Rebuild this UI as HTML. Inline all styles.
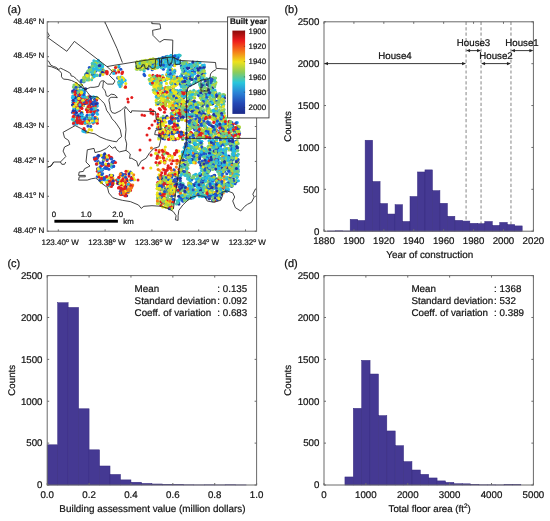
<!DOCTYPE html>
<html><head><meta charset="utf-8"><title>Figure</title>
<style>html,body{margin:0;padding:0;background:#fff;width:550px;height:521px;overflow:hidden;} svg{display:block;} text{text-rendering:geometricPrecision;font-family:"Liberation Sans",Arial,sans-serif;fill:#141414;stroke:#141414;stroke-width:0.22px;}</style>
</head><body>
<svg width="550" height="521" viewBox="0 0 550 521">
<rect width="550" height="521" fill="#fff"/>
<line x1="466.09" y1="21.80" x2="466.09" y2="231.20" stroke="#a2a2a2" stroke-width="1.3" stroke-dasharray="3.2,2.2"/>
<line x1="481.05" y1="21.80" x2="481.05" y2="231.20" stroke="#a2a2a2" stroke-width="1.3" stroke-dasharray="3.2,2.2"/>
<line x1="510.96" y1="21.80" x2="510.96" y2="231.20" stroke="#a2a2a2" stroke-width="1.3" stroke-dasharray="3.2,2.2"/>
<rect x="327.74" y="230.95" width="7.48" height="0.25" fill="#453993" stroke="#35297e" stroke-width="0.5"/>
<rect x="335.22" y="230.78" width="7.48" height="0.42" fill="#453993" stroke="#35297e" stroke-width="0.5"/>
<rect x="342.70" y="230.95" width="7.48" height="0.25" fill="#453993" stroke="#35297e" stroke-width="0.5"/>
<rect x="350.18" y="219.39" width="7.48" height="11.81" fill="#453993" stroke="#35297e" stroke-width="0.5"/>
<rect x="357.65" y="220.48" width="7.48" height="10.72" fill="#453993" stroke="#35297e" stroke-width="0.5"/>
<rect x="365.13" y="140.24" width="7.48" height="90.96" fill="#453993" stroke="#35297e" stroke-width="0.5"/>
<rect x="372.61" y="181.53" width="7.48" height="49.67" fill="#453993" stroke="#35297e" stroke-width="0.5"/>
<rect x="380.09" y="203.56" width="7.48" height="27.64" fill="#453993" stroke="#35297e" stroke-width="0.5"/>
<rect x="387.57" y="214.03" width="7.48" height="17.17" fill="#453993" stroke="#35297e" stroke-width="0.5"/>
<rect x="395.05" y="204.73" width="7.48" height="26.47" fill="#453993" stroke="#35297e" stroke-width="0.5"/>
<rect x="402.52" y="221.48" width="7.48" height="9.72" fill="#453993" stroke="#35297e" stroke-width="0.5"/>
<rect x="410.00" y="196.52" width="7.48" height="34.68" fill="#453993" stroke="#35297e" stroke-width="0.5"/>
<rect x="417.48" y="171.98" width="7.48" height="59.22" fill="#453993" stroke="#35297e" stroke-width="0.5"/>
<rect x="424.96" y="169.89" width="7.48" height="61.31" fill="#453993" stroke="#35297e" stroke-width="0.5"/>
<rect x="432.44" y="190.66" width="7.48" height="40.54" fill="#453993" stroke="#35297e" stroke-width="0.5"/>
<rect x="439.92" y="203.31" width="7.48" height="27.89" fill="#453993" stroke="#35297e" stroke-width="0.5"/>
<rect x="447.40" y="216.29" width="7.48" height="14.91" fill="#453993" stroke="#35297e" stroke-width="0.5"/>
<rect x="454.88" y="220.39" width="7.48" height="10.81" fill="#453993" stroke="#35297e" stroke-width="0.5"/>
<rect x="462.35" y="221.07" width="7.48" height="10.13" fill="#453993" stroke="#35297e" stroke-width="0.5"/>
<rect x="469.83" y="223.33" width="7.48" height="7.87" fill="#453993" stroke="#35297e" stroke-width="0.5"/>
<rect x="477.31" y="223.66" width="7.48" height="7.54" fill="#453993" stroke="#35297e" stroke-width="0.5"/>
<rect x="484.79" y="221.48" width="7.48" height="9.72" fill="#453993" stroke="#35297e" stroke-width="0.5"/>
<rect x="492.27" y="225.42" width="7.48" height="5.78" fill="#453993" stroke="#35297e" stroke-width="0.5"/>
<rect x="499.75" y="222.41" width="7.48" height="8.79" fill="#453993" stroke="#35297e" stroke-width="0.5"/>
<rect x="507.23" y="224.58" width="7.48" height="6.62" fill="#453993" stroke="#35297e" stroke-width="0.5"/>
<rect x="514.70" y="225.92" width="7.48" height="5.28" fill="#453993" stroke="#35297e" stroke-width="0.5"/>
<rect x="324.00" y="21.80" width="209.40" height="209.40" fill="none" stroke="#6a6a6a" stroke-width="1"/>
<line x1="324.00" y1="231.20" x2="324.00" y2="229.20" stroke="#6a6a6a" stroke-width="1" />
<line x1="324.00" y1="21.80" x2="324.00" y2="23.80" stroke="#6a6a6a" stroke-width="1" />
<text x="324.00" y="243.70" font-size="9.7" text-anchor="middle" >1880</text>
<line x1="353.91" y1="231.20" x2="353.91" y2="229.20" stroke="#6a6a6a" stroke-width="1" />
<line x1="353.91" y1="21.80" x2="353.91" y2="23.80" stroke="#6a6a6a" stroke-width="1" />
<text x="353.91" y="243.70" font-size="9.7" text-anchor="middle" >1900</text>
<line x1="383.83" y1="231.20" x2="383.83" y2="229.20" stroke="#6a6a6a" stroke-width="1" />
<line x1="383.83" y1="21.80" x2="383.83" y2="23.80" stroke="#6a6a6a" stroke-width="1" />
<text x="383.83" y="243.70" font-size="9.7" text-anchor="middle" >1920</text>
<line x1="413.74" y1="231.20" x2="413.74" y2="229.20" stroke="#6a6a6a" stroke-width="1" />
<line x1="413.74" y1="21.80" x2="413.74" y2="23.80" stroke="#6a6a6a" stroke-width="1" />
<text x="413.74" y="243.70" font-size="9.7" text-anchor="middle" >1940</text>
<line x1="443.66" y1="231.20" x2="443.66" y2="229.20" stroke="#6a6a6a" stroke-width="1" />
<line x1="443.66" y1="21.80" x2="443.66" y2="23.80" stroke="#6a6a6a" stroke-width="1" />
<text x="443.66" y="243.70" font-size="9.7" text-anchor="middle" >1960</text>
<line x1="473.57" y1="231.20" x2="473.57" y2="229.20" stroke="#6a6a6a" stroke-width="1" />
<line x1="473.57" y1="21.80" x2="473.57" y2="23.80" stroke="#6a6a6a" stroke-width="1" />
<text x="473.57" y="243.70" font-size="9.7" text-anchor="middle" >1980</text>
<line x1="503.49" y1="231.20" x2="503.49" y2="229.20" stroke="#6a6a6a" stroke-width="1" />
<line x1="503.49" y1="21.80" x2="503.49" y2="23.80" stroke="#6a6a6a" stroke-width="1" />
<text x="503.49" y="243.70" font-size="9.7" text-anchor="middle" >2000</text>
<line x1="533.40" y1="231.20" x2="533.40" y2="229.20" stroke="#6a6a6a" stroke-width="1" />
<line x1="533.40" y1="21.80" x2="533.40" y2="23.80" stroke="#6a6a6a" stroke-width="1" />
<text x="533.40" y="243.70" font-size="9.7" text-anchor="middle" >2020</text>
<line x1="324.00" y1="231.20" x2="326.00" y2="231.20" stroke="#6a6a6a" stroke-width="1" />
<line x1="533.40" y1="231.20" x2="531.40" y2="231.20" stroke="#6a6a6a" stroke-width="1" />
<text x="319.30" y="234.50" font-size="9.7" text-anchor="end" >0</text>
<line x1="324.00" y1="189.32" x2="326.00" y2="189.32" stroke="#6a6a6a" stroke-width="1" />
<line x1="533.40" y1="189.32" x2="531.40" y2="189.32" stroke="#6a6a6a" stroke-width="1" />
<text x="319.30" y="192.62" font-size="9.7" text-anchor="end" >500</text>
<line x1="324.00" y1="147.44" x2="326.00" y2="147.44" stroke="#6a6a6a" stroke-width="1" />
<line x1="533.40" y1="147.44" x2="531.40" y2="147.44" stroke="#6a6a6a" stroke-width="1" />
<text x="319.30" y="150.74" font-size="9.7" text-anchor="end" >1000</text>
<line x1="324.00" y1="105.56" x2="326.00" y2="105.56" stroke="#6a6a6a" stroke-width="1" />
<line x1="533.40" y1="105.56" x2="531.40" y2="105.56" stroke="#6a6a6a" stroke-width="1" />
<text x="319.30" y="108.86" font-size="9.7" text-anchor="end" >1500</text>
<line x1="324.00" y1="63.68" x2="326.00" y2="63.68" stroke="#6a6a6a" stroke-width="1" />
<line x1="533.40" y1="63.68" x2="531.40" y2="63.68" stroke="#6a6a6a" stroke-width="1" />
<text x="319.30" y="66.98" font-size="9.7" text-anchor="end" >2000</text>
<line x1="324.00" y1="21.80" x2="326.00" y2="21.80" stroke="#6a6a6a" stroke-width="1" />
<line x1="533.40" y1="21.80" x2="531.40" y2="21.80" stroke="#6a6a6a" stroke-width="1" />
<text x="319.30" y="25.10" font-size="9.7" text-anchor="end" >2500</text>
<text x="429.70" y="257.70" font-size="9.9" text-anchor="middle" >Year of construction</text>
<text transform="translate(291.30,126.50) rotate(-90)" font-size="9.7" text-anchor="middle">Counts</text>
<line x1="327.00" y1="63.60" x2="463.09" y2="63.60" stroke="#222" stroke-width="0.9" />
<path d="M324.00,63.60 l4,-1.7 l0,3.4 z" fill="#222"/>
<path d="M466.09,63.60 l-4,-1.7 l0,3.4 z" fill="#222"/>
<line x1="469.09" y1="50.60" x2="478.05" y2="50.60" stroke="#222" stroke-width="0.9" />
<path d="M466.09,50.60 l4,-1.7 l0,3.4 z" fill="#222"/>
<path d="M481.05,50.60 l-4,-1.7 l0,3.4 z" fill="#222"/>
<line x1="484.05" y1="63.60" x2="507.96" y2="63.60" stroke="#222" stroke-width="0.9" />
<path d="M481.05,63.60 l4,-1.7 l0,3.4 z" fill="#222"/>
<path d="M510.96,63.60 l-4,-1.7 l0,3.4 z" fill="#222"/>
<line x1="513.96" y1="50.60" x2="530.40" y2="50.60" stroke="#222" stroke-width="0.9" />
<path d="M510.96,50.60 l4,-1.7 l0,3.4 z" fill="#222"/>
<path d="M533.40,50.60 l-4,-1.7 l0,3.4 z" fill="#222"/>
<text x="395.05" y="59.00" font-size="9.7" text-anchor="middle" >House4</text>
<text x="473.57" y="45.60" font-size="9.7" text-anchor="middle" >House3</text>
<text x="496.01" y="58.60" font-size="9.7" text-anchor="middle" >House2</text>
<text x="522.00" y="45.60" font-size="9.7" text-anchor="middle" >House1</text>
<rect x="47.20" y="444.80" width="10.47" height="40.20" fill="#453993" stroke="#35297e" stroke-width="0.5"/>
<rect x="57.67" y="302.74" width="10.47" height="182.26" fill="#453993" stroke="#35297e" stroke-width="0.5"/>
<rect x="68.14" y="307.43" width="10.47" height="177.57" fill="#453993" stroke="#35297e" stroke-width="0.5"/>
<rect x="78.61" y="408.78" width="10.47" height="76.22" fill="#453993" stroke="#35297e" stroke-width="0.5"/>
<rect x="89.08" y="449.82" width="10.47" height="35.18" fill="#453993" stroke="#35297e" stroke-width="0.5"/>
<rect x="99.55" y="465.99" width="10.47" height="19.01" fill="#453993" stroke="#35297e" stroke-width="0.5"/>
<rect x="110.02" y="474.45" width="10.47" height="10.55" fill="#453993" stroke="#35297e" stroke-width="0.5"/>
<rect x="120.49" y="479.89" width="10.47" height="5.11" fill="#453993" stroke="#35297e" stroke-width="0.5"/>
<rect x="130.96" y="482.24" width="10.47" height="2.76" fill="#453993" stroke="#35297e" stroke-width="0.5"/>
<rect x="141.43" y="483.41" width="10.47" height="1.59" fill="#453993" stroke="#35297e" stroke-width="0.5"/>
<rect x="151.90" y="483.99" width="10.47" height="1.01" fill="#453993" stroke="#35297e" stroke-width="0.5"/>
<rect x="162.37" y="484.33" width="10.47" height="0.67" fill="#453993" stroke="#35297e" stroke-width="0.5"/>
<rect x="172.84" y="484.58" width="10.47" height="0.42" fill="#453993" stroke="#35297e" stroke-width="0.5"/>
<rect x="183.31" y="484.83" width="10.47" height="0.17" fill="#453993" stroke="#35297e" stroke-width="0.5"/>
<rect x="193.78" y="484.92" width="10.47" height="0.08" fill="#453993" stroke="#35297e" stroke-width="0.5"/>
<rect x="204.25" y="484.83" width="10.47" height="0.17" fill="#453993" stroke="#35297e" stroke-width="0.5"/>
<rect x="214.72" y="484.92" width="10.47" height="0.08" fill="#453993" stroke="#35297e" stroke-width="0.5"/>
<rect x="225.19" y="484.75" width="10.47" height="0.25" fill="#453993" stroke="#35297e" stroke-width="0.5"/>
<rect x="235.66" y="484.92" width="10.47" height="0.08" fill="#453993" stroke="#35297e" stroke-width="0.5"/>
<rect x="47.20" y="275.60" width="209.40" height="209.40" fill="none" stroke="#6a6a6a" stroke-width="1"/>
<line x1="47.20" y1="485.00" x2="47.20" y2="483.00" stroke="#6a6a6a" stroke-width="1" />
<line x1="47.20" y1="275.60" x2="47.20" y2="277.60" stroke="#6a6a6a" stroke-width="1" />
<text x="47.20" y="497.50" font-size="9.7" text-anchor="middle" >0.0</text>
<line x1="89.08" y1="485.00" x2="89.08" y2="483.00" stroke="#6a6a6a" stroke-width="1" />
<line x1="89.08" y1="275.60" x2="89.08" y2="277.60" stroke="#6a6a6a" stroke-width="1" />
<text x="89.08" y="497.50" font-size="9.7" text-anchor="middle" >0.2</text>
<line x1="130.96" y1="485.00" x2="130.96" y2="483.00" stroke="#6a6a6a" stroke-width="1" />
<line x1="130.96" y1="275.60" x2="130.96" y2="277.60" stroke="#6a6a6a" stroke-width="1" />
<text x="130.96" y="497.50" font-size="9.7" text-anchor="middle" >0.4</text>
<line x1="172.84" y1="485.00" x2="172.84" y2="483.00" stroke="#6a6a6a" stroke-width="1" />
<line x1="172.84" y1="275.60" x2="172.84" y2="277.60" stroke="#6a6a6a" stroke-width="1" />
<text x="172.84" y="497.50" font-size="9.7" text-anchor="middle" >0.6</text>
<line x1="214.72" y1="485.00" x2="214.72" y2="483.00" stroke="#6a6a6a" stroke-width="1" />
<line x1="214.72" y1="275.60" x2="214.72" y2="277.60" stroke="#6a6a6a" stroke-width="1" />
<text x="214.72" y="497.50" font-size="9.7" text-anchor="middle" >0.8</text>
<line x1="256.60" y1="485.00" x2="256.60" y2="483.00" stroke="#6a6a6a" stroke-width="1" />
<line x1="256.60" y1="275.60" x2="256.60" y2="277.60" stroke="#6a6a6a" stroke-width="1" />
<text x="256.60" y="497.50" font-size="9.7" text-anchor="middle" >1.0</text>
<line x1="47.20" y1="485.00" x2="49.20" y2="485.00" stroke="#6a6a6a" stroke-width="1" />
<line x1="256.60" y1="485.00" x2="254.60" y2="485.00" stroke="#6a6a6a" stroke-width="1" />
<text x="42.50" y="488.30" font-size="9.7" text-anchor="end" >0</text>
<line x1="47.20" y1="443.12" x2="49.20" y2="443.12" stroke="#6a6a6a" stroke-width="1" />
<line x1="256.60" y1="443.12" x2="254.60" y2="443.12" stroke="#6a6a6a" stroke-width="1" />
<text x="42.50" y="446.42" font-size="9.7" text-anchor="end" >500</text>
<line x1="47.20" y1="401.24" x2="49.20" y2="401.24" stroke="#6a6a6a" stroke-width="1" />
<line x1="256.60" y1="401.24" x2="254.60" y2="401.24" stroke="#6a6a6a" stroke-width="1" />
<text x="42.50" y="404.54" font-size="9.7" text-anchor="end" >1000</text>
<line x1="47.20" y1="359.36" x2="49.20" y2="359.36" stroke="#6a6a6a" stroke-width="1" />
<line x1="256.60" y1="359.36" x2="254.60" y2="359.36" stroke="#6a6a6a" stroke-width="1" />
<text x="42.50" y="362.66" font-size="9.7" text-anchor="end" >1500</text>
<line x1="47.20" y1="317.48" x2="49.20" y2="317.48" stroke="#6a6a6a" stroke-width="1" />
<line x1="256.60" y1="317.48" x2="254.60" y2="317.48" stroke="#6a6a6a" stroke-width="1" />
<text x="42.50" y="320.78" font-size="9.7" text-anchor="end" >2000</text>
<line x1="47.20" y1="275.60" x2="49.20" y2="275.60" stroke="#6a6a6a" stroke-width="1" />
<line x1="256.60" y1="275.60" x2="254.60" y2="275.60" stroke="#6a6a6a" stroke-width="1" />
<text x="42.50" y="278.90" font-size="9.7" text-anchor="end" >2500</text>
<text x="152.40" y="511.50" font-size="9.9" text-anchor="middle" >Building assessment value (million dollars)</text>
<text transform="translate(14.50,380.30) rotate(-90)" font-size="9.7" text-anchor="middle">Counts</text>
<text x="134.60" y="291.80" font-size="9.8" text-anchor="start" >Mean</text>
<text x="217.30" y="291.80" font-size="9.8" text-anchor="start" >: 0.135</text>
<text x="134.60" y="303.65" font-size="9.8" text-anchor="start" >Standard deviation</text>
<text x="217.30" y="303.65" font-size="9.8" text-anchor="start" >: 0.092</text>
<text x="134.60" y="315.50" font-size="9.8" text-anchor="start" >Coeff. of variation</text>
<text x="217.30" y="315.50" font-size="9.8" text-anchor="start" >: 0.683</text>
<rect x="344.94" y="476.96" width="8.38" height="8.04" fill="#453993" stroke="#35297e" stroke-width="0.5"/>
<rect x="353.32" y="408.36" width="8.38" height="76.64" fill="#453993" stroke="#35297e" stroke-width="0.5"/>
<rect x="361.69" y="360.37" width="8.38" height="124.63" fill="#453993" stroke="#35297e" stroke-width="0.5"/>
<rect x="370.07" y="374.02" width="8.38" height="110.98" fill="#453993" stroke="#35297e" stroke-width="0.5"/>
<rect x="378.44" y="415.65" width="8.38" height="69.35" fill="#453993" stroke="#35297e" stroke-width="0.5"/>
<rect x="386.82" y="430.97" width="8.38" height="54.03" fill="#453993" stroke="#35297e" stroke-width="0.5"/>
<rect x="395.20" y="445.72" width="8.38" height="39.28" fill="#453993" stroke="#35297e" stroke-width="0.5"/>
<rect x="403.57" y="461.63" width="8.38" height="23.37" fill="#453993" stroke="#35297e" stroke-width="0.5"/>
<rect x="411.95" y="470.01" width="8.38" height="14.99" fill="#453993" stroke="#35297e" stroke-width="0.5"/>
<rect x="420.32" y="474.36" width="8.38" height="10.64" fill="#453993" stroke="#35297e" stroke-width="0.5"/>
<rect x="428.70" y="477.96" width="8.38" height="7.04" fill="#453993" stroke="#35297e" stroke-width="0.5"/>
<rect x="437.08" y="480.90" width="8.38" height="4.10" fill="#453993" stroke="#35297e" stroke-width="0.5"/>
<rect x="445.45" y="482.40" width="8.38" height="2.60" fill="#453993" stroke="#35297e" stroke-width="0.5"/>
<rect x="453.83" y="483.74" width="8.38" height="1.26" fill="#453993" stroke="#35297e" stroke-width="0.5"/>
<rect x="462.20" y="483.83" width="8.38" height="1.17" fill="#453993" stroke="#35297e" stroke-width="0.5"/>
<rect x="470.58" y="484.50" width="8.38" height="0.50" fill="#453993" stroke="#35297e" stroke-width="0.5"/>
<rect x="478.96" y="484.83" width="8.38" height="0.17" fill="#453993" stroke="#35297e" stroke-width="0.5"/>
<rect x="487.33" y="484.83" width="8.38" height="0.17" fill="#453993" stroke="#35297e" stroke-width="0.5"/>
<rect x="495.71" y="484.92" width="8.38" height="0.08" fill="#453993" stroke="#35297e" stroke-width="0.5"/>
<rect x="504.08" y="484.58" width="8.38" height="0.42" fill="#453993" stroke="#35297e" stroke-width="0.5"/>
<rect x="512.46" y="484.66" width="8.38" height="0.34" fill="#453993" stroke="#35297e" stroke-width="0.5"/>
<rect x="324.00" y="275.60" width="209.40" height="209.40" fill="none" stroke="#6a6a6a" stroke-width="1"/>
<line x1="324.00" y1="485.00" x2="324.00" y2="483.00" stroke="#6a6a6a" stroke-width="1" />
<line x1="324.00" y1="275.60" x2="324.00" y2="277.60" stroke="#6a6a6a" stroke-width="1" />
<text x="324.00" y="497.50" font-size="9.7" text-anchor="middle" >0</text>
<line x1="365.88" y1="485.00" x2="365.88" y2="483.00" stroke="#6a6a6a" stroke-width="1" />
<line x1="365.88" y1="275.60" x2="365.88" y2="277.60" stroke="#6a6a6a" stroke-width="1" />
<text x="365.88" y="497.50" font-size="9.7" text-anchor="middle" >1000</text>
<line x1="407.76" y1="485.00" x2="407.76" y2="483.00" stroke="#6a6a6a" stroke-width="1" />
<line x1="407.76" y1="275.60" x2="407.76" y2="277.60" stroke="#6a6a6a" stroke-width="1" />
<text x="407.76" y="497.50" font-size="9.7" text-anchor="middle" >2000</text>
<line x1="449.64" y1="485.00" x2="449.64" y2="483.00" stroke="#6a6a6a" stroke-width="1" />
<line x1="449.64" y1="275.60" x2="449.64" y2="277.60" stroke="#6a6a6a" stroke-width="1" />
<text x="449.64" y="497.50" font-size="9.7" text-anchor="middle" >3000</text>
<line x1="491.52" y1="485.00" x2="491.52" y2="483.00" stroke="#6a6a6a" stroke-width="1" />
<line x1="491.52" y1="275.60" x2="491.52" y2="277.60" stroke="#6a6a6a" stroke-width="1" />
<text x="491.52" y="497.50" font-size="9.7" text-anchor="middle" >4000</text>
<line x1="533.40" y1="485.00" x2="533.40" y2="483.00" stroke="#6a6a6a" stroke-width="1" />
<line x1="533.40" y1="275.60" x2="533.40" y2="277.60" stroke="#6a6a6a" stroke-width="1" />
<text x="533.40" y="497.50" font-size="9.7" text-anchor="middle" >5000</text>
<line x1="324.00" y1="485.00" x2="326.00" y2="485.00" stroke="#6a6a6a" stroke-width="1" />
<line x1="533.40" y1="485.00" x2="531.40" y2="485.00" stroke="#6a6a6a" stroke-width="1" />
<text x="319.30" y="488.30" font-size="9.7" text-anchor="end" >0</text>
<line x1="324.00" y1="443.12" x2="326.00" y2="443.12" stroke="#6a6a6a" stroke-width="1" />
<line x1="533.40" y1="443.12" x2="531.40" y2="443.12" stroke="#6a6a6a" stroke-width="1" />
<text x="319.30" y="446.42" font-size="9.7" text-anchor="end" >500</text>
<line x1="324.00" y1="401.24" x2="326.00" y2="401.24" stroke="#6a6a6a" stroke-width="1" />
<line x1="533.40" y1="401.24" x2="531.40" y2="401.24" stroke="#6a6a6a" stroke-width="1" />
<text x="319.30" y="404.54" font-size="9.7" text-anchor="end" >1000</text>
<line x1="324.00" y1="359.36" x2="326.00" y2="359.36" stroke="#6a6a6a" stroke-width="1" />
<line x1="533.40" y1="359.36" x2="531.40" y2="359.36" stroke="#6a6a6a" stroke-width="1" />
<text x="319.30" y="362.66" font-size="9.7" text-anchor="end" >1500</text>
<line x1="324.00" y1="317.48" x2="326.00" y2="317.48" stroke="#6a6a6a" stroke-width="1" />
<line x1="533.40" y1="317.48" x2="531.40" y2="317.48" stroke="#6a6a6a" stroke-width="1" />
<text x="319.30" y="320.78" font-size="9.7" text-anchor="end" >2000</text>
<line x1="324.00" y1="275.60" x2="326.00" y2="275.60" stroke="#6a6a6a" stroke-width="1" />
<line x1="533.40" y1="275.60" x2="531.40" y2="275.60" stroke="#6a6a6a" stroke-width="1" />
<text x="319.30" y="278.90" font-size="9.7" text-anchor="end" >2500</text>
<text x="429.70" y="511.50" font-size="9.7" text-anchor="middle" >Total floor area (ft<tspan dy="-3.5" font-size="6.5">2</tspan><tspan dy="3.5">)</tspan></text>
<text transform="translate(291.30,380.30) rotate(-90)" font-size="9.7" text-anchor="middle">Counts</text>
<text x="411.40" y="291.80" font-size="9.8" text-anchor="start" >Mean</text>
<text x="494.10" y="291.80" font-size="9.8" text-anchor="start" >: 1368</text>
<text x="411.40" y="303.65" font-size="9.8" text-anchor="start" >Standard deviation</text>
<text x="494.10" y="303.65" font-size="9.8" text-anchor="start" >: 532</text>
<text x="411.40" y="315.50" font-size="9.8" text-anchor="start" >Coeff. of variation</text>
<text x="494.10" y="315.50" font-size="9.8" text-anchor="start" >: 0.389</text>
<defs><clipPath id="mc"><rect x="47.2" y="21.8" width="209.4" height="209.4"/></clipPath></defs>
<g clip-path="url(#mc)">
<circle cx="162.4" cy="96.9" r="1.55" fill="#7dcd73"/>
<circle cx="161.2" cy="137.3" r="1.55" fill="#eee419"/>
<circle cx="74.6" cy="106.9" r="1.55" fill="#e41e1e"/>
<circle cx="200.4" cy="113.4" r="1.55" fill="#7dcd73"/>
<circle cx="96.4" cy="118.3" r="1.55" fill="#e41e1e"/>
<circle cx="182.2" cy="92.9" r="1.55" fill="#eee419"/>
<circle cx="156.1" cy="87.9" r="1.55" fill="#eee419"/>
<circle cx="125.6" cy="195.8" r="1.55" fill="#eee419"/>
<circle cx="167.6" cy="126.9" r="1.55" fill="#7dcd73"/>
<circle cx="199.2" cy="126.2" r="1.55" fill="#7dcd73"/>
<circle cx="143.9" cy="66.0" r="1.55" fill="#eee419"/>
<circle cx="191.6" cy="192.3" r="1.55" fill="#1e55cd"/>
<circle cx="184.7" cy="72.9" r="1.55" fill="#2332a0"/>
<circle cx="213.2" cy="184.5" r="1.55" fill="#46c6b4"/>
<circle cx="164.1" cy="102.7" r="1.55" fill="#e41e1e"/>
<circle cx="231.7" cy="184.1" r="1.55" fill="#46c6b4"/>
<circle cx="146.5" cy="60.9" r="1.55" fill="#b4d737"/>
<circle cx="199.8" cy="181.3" r="1.55" fill="#7dcd73"/>
<circle cx="190.4" cy="91.4" r="1.55" fill="#46c6b4"/>
<circle cx="192.5" cy="79.4" r="1.55" fill="#46c6b4"/>
<circle cx="93.0" cy="65.6" r="1.55" fill="#46c6b4"/>
<circle cx="171.3" cy="118.8" r="1.55" fill="#1e55cd"/>
<circle cx="199.1" cy="93.8" r="1.55" fill="#7dcd73"/>
<circle cx="79.9" cy="107.4" r="1.55" fill="#e41e1e"/>
<circle cx="158.2" cy="177.6" r="1.55" fill="#7dcd73"/>
<circle cx="219.8" cy="185.6" r="1.55" fill="#23b9e8"/>
<circle cx="147.6" cy="62.8" r="1.55" fill="#b4d737"/>
<circle cx="201.1" cy="90.6" r="1.55" fill="#1e55cd"/>
<circle cx="211.6" cy="143.9" r="1.55" fill="#46c6b4"/>
<circle cx="164.9" cy="182.1" r="1.55" fill="#b4d737"/>
<circle cx="88.5" cy="74.0" r="1.55" fill="#23b9e8"/>
<circle cx="170.0" cy="155.4" r="1.55" fill="#f57d19"/>
<circle cx="188.2" cy="101.5" r="1.55" fill="#2332a0"/>
<circle cx="162.4" cy="150.3" r="1.55" fill="#e41e1e"/>
<circle cx="195.4" cy="70.2" r="1.55" fill="#23b9e8"/>
<circle cx="209.6" cy="162.9" r="1.55" fill="#23b9e8"/>
<circle cx="232.5" cy="150.9" r="1.55" fill="#46c6b4"/>
<circle cx="179.9" cy="61.4" r="1.55" fill="#23b9e8"/>
<circle cx="225.2" cy="134.1" r="1.55" fill="#e41e1e"/>
<circle cx="208.2" cy="161.6" r="1.55" fill="#46c6b4"/>
<circle cx="195.6" cy="144.9" r="1.55" fill="#7dcd73"/>
<circle cx="217.2" cy="155.6" r="1.55" fill="#23b9e8"/>
<circle cx="228.4" cy="179.1" r="1.55" fill="#46c6b4"/>
<circle cx="79.2" cy="86.7" r="1.55" fill="#2332a0"/>
<circle cx="154.9" cy="84.4" r="1.55" fill="#23b9e8"/>
<circle cx="76.6" cy="116.3" r="1.55" fill="#e41e1e"/>
<circle cx="120.9" cy="189.1" r="1.55" fill="#1e55cd"/>
<circle cx="96.1" cy="66.2" r="1.55" fill="#46c6b4"/>
<circle cx="222.9" cy="188.6" r="1.55" fill="#1e55cd"/>
<circle cx="225.6" cy="151.4" r="1.55" fill="#1e55cd"/>
<circle cx="118.7" cy="67.0" r="1.55" fill="#1e55cd"/>
<circle cx="157.0" cy="158.5" r="1.55" fill="#e41e1e"/>
<circle cx="210.3" cy="140.7" r="1.55" fill="#1e55cd"/>
<circle cx="195.9" cy="134.8" r="1.55" fill="#7dcd73"/>
<circle cx="209.9" cy="133.2" r="1.55" fill="#23b9e8"/>
<circle cx="133.7" cy="174.8" r="1.55" fill="#f57d19"/>
<circle cx="123.4" cy="178.8" r="1.55" fill="#eee419"/>
<circle cx="86.6" cy="103.8" r="1.55" fill="#eee419"/>
<circle cx="201.1" cy="144.7" r="1.55" fill="#1e55cd"/>
<circle cx="223.9" cy="132.5" r="1.55" fill="#1e55cd"/>
<circle cx="209.8" cy="85.7" r="1.55" fill="#46c6b4"/>
<circle cx="230.4" cy="142.2" r="1.55" fill="#2332a0"/>
<circle cx="172.0" cy="76.3" r="1.55" fill="#1e55cd"/>
<circle cx="207.5" cy="134.7" r="1.55" fill="#e41e1e"/>
<circle cx="213.6" cy="111.0" r="1.55" fill="#46c6b4"/>
<circle cx="223.2" cy="192.9" r="1.55" fill="#f57d19"/>
<circle cx="197.9" cy="133.6" r="1.55" fill="#e41e1e"/>
<circle cx="155.1" cy="88.5" r="1.55" fill="#eee419"/>
<circle cx="82.6" cy="80.0" r="1.55" fill="#46c6b4"/>
<circle cx="127.2" cy="180.5" r="1.55" fill="#2332a0"/>
<circle cx="122.3" cy="176.1" r="1.55" fill="#eee419"/>
<circle cx="81.5" cy="105.1" r="1.55" fill="#e41e1e"/>
<circle cx="192.8" cy="127.4" r="1.55" fill="#2332a0"/>
<circle cx="191.2" cy="155.5" r="1.55" fill="#2332a0"/>
<circle cx="188.5" cy="144.6" r="1.55" fill="#46c6b4"/>
<circle cx="213.4" cy="130.0" r="1.55" fill="#eee419"/>
<circle cx="208.1" cy="149.1" r="1.55" fill="#7dcd73"/>
<circle cx="228.0" cy="124.6" r="1.55" fill="#e41e1e"/>
<circle cx="210.7" cy="129.3" r="1.55" fill="#e41e1e"/>
<circle cx="196.6" cy="76.7" r="1.55" fill="#46c6b4"/>
<circle cx="180.8" cy="104.0" r="1.55" fill="#7dcd73"/>
<circle cx="172.2" cy="73.5" r="1.55" fill="#1e55cd"/>
<circle cx="218.3" cy="119.7" r="1.55" fill="#7dcd73"/>
<circle cx="181.5" cy="172.7" r="1.55" fill="#23b9e8"/>
<circle cx="77.4" cy="100.5" r="1.55" fill="#2332a0"/>
<circle cx="165.7" cy="92.3" r="1.55" fill="#e41e1e"/>
<circle cx="224.6" cy="171.4" r="1.55" fill="#1e55cd"/>
<circle cx="161.1" cy="58.9" r="1.55" fill="#23b9e8"/>
<circle cx="158.8" cy="58.9" r="1.55" fill="#23b9e8"/>
<circle cx="89.4" cy="68.7" r="1.55" fill="#46c6b4"/>
<circle cx="163.4" cy="131.4" r="1.55" fill="#1e55cd"/>
<circle cx="164.7" cy="107.0" r="1.55" fill="#e41e1e"/>
<circle cx="185.4" cy="145.6" r="1.55" fill="#46c6b4"/>
<circle cx="201.3" cy="118.5" r="1.55" fill="#1e55cd"/>
<circle cx="75.3" cy="115.9" r="1.55" fill="#7dcd73"/>
<circle cx="92.3" cy="67.2" r="1.55" fill="#46c6b4"/>
<circle cx="160.3" cy="87.8" r="1.55" fill="#eee419"/>
<circle cx="234.5" cy="151.7" r="1.55" fill="#7dcd73"/>
<circle cx="214.4" cy="164.7" r="1.55" fill="#7dcd73"/>
<circle cx="184.5" cy="134.2" r="1.55" fill="#1e55cd"/>
<circle cx="161.8" cy="96.2" r="1.55" fill="#b4d737"/>
<circle cx="122.1" cy="188.9" r="1.55" fill="#f57d19"/>
<circle cx="158.6" cy="88.3" r="1.55" fill="#eee419"/>
<circle cx="169.0" cy="90.1" r="1.55" fill="#23b9e8"/>
<circle cx="165.1" cy="65.3" r="1.55" fill="#46c6b4"/>
<circle cx="88.4" cy="118.8" r="1.55" fill="#2332a0"/>
<circle cx="197.5" cy="193.2" r="1.55" fill="#23b9e8"/>
<circle cx="111.8" cy="158.6" r="1.55" fill="#23b9e8"/>
<circle cx="221.7" cy="107.1" r="1.55" fill="#b4d737"/>
<circle cx="178.8" cy="79.6" r="1.55" fill="#b4d737"/>
<circle cx="78.9" cy="115.0" r="1.55" fill="#1e55cd"/>
<circle cx="214.1" cy="98.9" r="1.55" fill="#46c6b4"/>
<circle cx="221.4" cy="164.0" r="1.55" fill="#46c6b4"/>
<circle cx="94.1" cy="74.8" r="1.55" fill="#eee419"/>
<circle cx="213.0" cy="77.2" r="1.55" fill="#7dcd73"/>
<circle cx="212.6" cy="195.1" r="1.55" fill="#1e55cd"/>
<circle cx="171.3" cy="120.8" r="1.55" fill="#2332a0"/>
<circle cx="238.3" cy="154.3" r="1.55" fill="#46c6b4"/>
<circle cx="161.0" cy="205.2" r="1.55" fill="#e41e1e"/>
<circle cx="73.9" cy="99.3" r="1.55" fill="#23b9e8"/>
<circle cx="200.9" cy="195.1" r="1.55" fill="#23b9e8"/>
<circle cx="193.5" cy="139.8" r="1.55" fill="#b4d737"/>
<circle cx="191.3" cy="120.4" r="1.55" fill="#7dcd73"/>
<circle cx="200.8" cy="129.5" r="1.55" fill="#1e55cd"/>
<circle cx="207.3" cy="193.5" r="1.55" fill="#7dcd73"/>
<circle cx="203.2" cy="150.2" r="1.55" fill="#46c6b4"/>
<circle cx="76.3" cy="92.2" r="1.55" fill="#e41e1e"/>
<circle cx="172.3" cy="156.4" r="1.55" fill="#eee419"/>
<circle cx="178.4" cy="100.9" r="1.55" fill="#1e55cd"/>
<circle cx="227.5" cy="177.2" r="1.55" fill="#46c6b4"/>
<circle cx="181.4" cy="183.9" r="1.55" fill="#23b9e8"/>
<circle cx="217.2" cy="152.6" r="1.55" fill="#7dcd73"/>
<circle cx="168.9" cy="200.2" r="1.55" fill="#7dcd73"/>
<circle cx="223.6" cy="168.3" r="1.55" fill="#2332a0"/>
<circle cx="186.0" cy="166.7" r="1.55" fill="#1e55cd"/>
<circle cx="115.8" cy="72.9" r="1.55" fill="#e41e1e"/>
<circle cx="84.5" cy="130.3" r="1.55" fill="#e41e1e"/>
<circle cx="183.7" cy="84.2" r="1.55" fill="#23b9e8"/>
<circle cx="99.8" cy="75.5" r="1.55" fill="#1e55cd"/>
<circle cx="210.2" cy="188.6" r="1.55" fill="#7dcd73"/>
<circle cx="190.1" cy="186.4" r="1.55" fill="#23b9e8"/>
<circle cx="213.2" cy="84.2" r="1.55" fill="#23b9e8"/>
<circle cx="166.8" cy="179.0" r="1.55" fill="#eee419"/>
<circle cx="125.8" cy="83.6" r="1.55" fill="#eee419"/>
<circle cx="207.2" cy="118.2" r="1.55" fill="#b4d737"/>
<circle cx="183.6" cy="107.2" r="1.55" fill="#1e55cd"/>
<circle cx="108.8" cy="155.6" r="1.55" fill="#e41e1e"/>
<circle cx="213.9" cy="188.4" r="1.55" fill="#23b9e8"/>
<circle cx="224.2" cy="177.6" r="1.55" fill="#b4d737"/>
<circle cx="190.8" cy="126.4" r="1.55" fill="#7dcd73"/>
<circle cx="192.9" cy="162.6" r="1.55" fill="#23b9e8"/>
<circle cx="169.0" cy="90.3" r="1.55" fill="#b4d737"/>
<circle cx="168.7" cy="187.7" r="1.55" fill="#2332a0"/>
<circle cx="193.4" cy="192.6" r="1.55" fill="#7dcd73"/>
<circle cx="178.8" cy="151.0" r="1.55" fill="#eee419"/>
<circle cx="162.1" cy="92.1" r="1.55" fill="#eee419"/>
<circle cx="191.2" cy="161.7" r="1.55" fill="#b4d737"/>
<circle cx="204.7" cy="166.0" r="1.55" fill="#2332a0"/>
<circle cx="235.2" cy="154.7" r="1.55" fill="#1e55cd"/>
<circle cx="215.7" cy="142.7" r="1.55" fill="#1e55cd"/>
<circle cx="212.0" cy="80.6" r="1.55" fill="#1e55cd"/>
<circle cx="185.5" cy="64.2" r="1.55" fill="#46c6b4"/>
<circle cx="125.3" cy="190.4" r="1.55" fill="#f57d19"/>
<circle cx="201.3" cy="190.5" r="1.55" fill="#2332a0"/>
<circle cx="182.1" cy="100.9" r="1.55" fill="#eee419"/>
<circle cx="157.2" cy="157.3" r="1.55" fill="#e41e1e"/>
<circle cx="94.3" cy="76.3" r="1.55" fill="#7dcd73"/>
<circle cx="196.2" cy="104.0" r="1.55" fill="#7dcd73"/>
<circle cx="238.8" cy="137.6" r="1.55" fill="#e41e1e"/>
<circle cx="199.4" cy="92.6" r="1.55" fill="#1e55cd"/>
<circle cx="182.1" cy="199.9" r="1.55" fill="#1e55cd"/>
<circle cx="188.4" cy="81.9" r="1.55" fill="#23b9e8"/>
<circle cx="207.1" cy="164.3" r="1.55" fill="#23b9e8"/>
<circle cx="231.6" cy="171.8" r="1.55" fill="#46c6b4"/>
<circle cx="136.9" cy="61.9" r="1.55" fill="#b4d737"/>
<circle cx="178.9" cy="204.1" r="1.55" fill="#2332a0"/>
<circle cx="215.8" cy="183.6" r="1.55" fill="#23b9e8"/>
<circle cx="191.2" cy="110.8" r="1.55" fill="#23b9e8"/>
<circle cx="207.9" cy="96.4" r="1.55" fill="#eee419"/>
<circle cx="155.7" cy="89.3" r="1.55" fill="#eee419"/>
<circle cx="105.9" cy="166.2" r="1.55" fill="#1e55cd"/>
<circle cx="151.7" cy="67.2" r="1.55" fill="#b4d737"/>
<circle cx="192.9" cy="62.6" r="1.55" fill="#23b9e8"/>
<circle cx="73.8" cy="111.1" r="1.55" fill="#1e55cd"/>
<circle cx="208.9" cy="92.5" r="1.55" fill="#b4d737"/>
<circle cx="217.6" cy="165.3" r="1.55" fill="#eee419"/>
<circle cx="76.4" cy="99.0" r="1.55" fill="#7dcd73"/>
<circle cx="188.4" cy="130.3" r="1.55" fill="#1e55cd"/>
<circle cx="175.7" cy="101.5" r="1.55" fill="#e41e1e"/>
<circle cx="220.1" cy="143.1" r="1.55" fill="#1e55cd"/>
<circle cx="79.9" cy="106.9" r="1.55" fill="#e41e1e"/>
<circle cx="200.9" cy="186.8" r="1.55" fill="#46c6b4"/>
<circle cx="95.8" cy="118.3" r="1.55" fill="#23b9e8"/>
<circle cx="208.3" cy="95.5" r="1.55" fill="#b4d737"/>
<circle cx="223.2" cy="126.1" r="1.55" fill="#1e55cd"/>
<circle cx="95.0" cy="121.1" r="1.55" fill="#23b9e8"/>
<circle cx="127.3" cy="184.8" r="1.55" fill="#e41e1e"/>
<circle cx="221.4" cy="173.5" r="1.55" fill="#7dcd73"/>
<circle cx="98.0" cy="155.9" r="1.55" fill="#1e55cd"/>
<circle cx="235.4" cy="145.6" r="1.55" fill="#23b9e8"/>
<circle cx="203.1" cy="123.7" r="1.55" fill="#b4d737"/>
<circle cx="195.8" cy="194.2" r="1.55" fill="#1e55cd"/>
<circle cx="205.4" cy="126.0" r="1.55" fill="#b4d737"/>
<circle cx="182.6" cy="152.2" r="1.55" fill="#46c6b4"/>
<circle cx="220.2" cy="167.1" r="1.55" fill="#2332a0"/>
<circle cx="236.7" cy="164.4" r="1.55" fill="#23b9e8"/>
<circle cx="120.4" cy="191.5" r="1.55" fill="#1e55cd"/>
<circle cx="93.1" cy="123.1" r="1.55" fill="#e41e1e"/>
<circle cx="190.1" cy="108.8" r="1.55" fill="#2332a0"/>
<circle cx="180.4" cy="81.9" r="1.55" fill="#f57d19"/>
<circle cx="177.1" cy="55.6" r="1.55" fill="#46c6b4"/>
<circle cx="174.2" cy="76.7" r="1.55" fill="#1e55cd"/>
<circle cx="168.1" cy="87.0" r="1.55" fill="#23b9e8"/>
<circle cx="205.1" cy="158.8" r="1.55" fill="#2332a0"/>
<circle cx="104.5" cy="168.2" r="1.55" fill="#1e55cd"/>
<circle cx="97.5" cy="114.2" r="1.55" fill="#23b9e8"/>
<circle cx="189.3" cy="158.4" r="1.55" fill="#7dcd73"/>
<circle cx="207.3" cy="99.9" r="1.55" fill="#1e55cd"/>
<circle cx="223.8" cy="165.6" r="1.55" fill="#1e55cd"/>
<circle cx="87.0" cy="97.9" r="1.55" fill="#23b9e8"/>
<circle cx="212.0" cy="178.0" r="1.55" fill="#46c6b4"/>
<circle cx="106.1" cy="168.5" r="1.55" fill="#1e55cd"/>
<circle cx="157.6" cy="98.2" r="1.55" fill="#f57d19"/>
<circle cx="217.4" cy="199.8" r="1.55" fill="#1e55cd"/>
<circle cx="213.0" cy="80.9" r="1.55" fill="#7dcd73"/>
<circle cx="217.6" cy="186.0" r="1.55" fill="#2332a0"/>
<circle cx="238.1" cy="159.9" r="1.55" fill="#eee419"/>
<circle cx="92.1" cy="74.7" r="1.55" fill="#b4d737"/>
<circle cx="216.2" cy="131.3" r="1.55" fill="#eee419"/>
<circle cx="191.6" cy="184.4" r="1.55" fill="#46c6b4"/>
<circle cx="201.6" cy="170.7" r="1.55" fill="#23b9e8"/>
<circle cx="177.9" cy="80.0" r="1.55" fill="#23b9e8"/>
<circle cx="233.3" cy="179.7" r="1.55" fill="#b4d737"/>
<circle cx="153.8" cy="65.0" r="1.55" fill="#eee419"/>
<circle cx="220.0" cy="137.7" r="1.55" fill="#e41e1e"/>
<circle cx="199.7" cy="187.5" r="1.55" fill="#1e55cd"/>
<circle cx="187.5" cy="198.7" r="1.55" fill="#46c6b4"/>
<circle cx="172.8" cy="58.3" r="1.55" fill="#23b9e8"/>
<circle cx="203.7" cy="185.3" r="1.55" fill="#7dcd73"/>
<circle cx="178.2" cy="138.8" r="1.55" fill="#e41e1e"/>
<circle cx="176.7" cy="103.0" r="1.55" fill="#eee419"/>
<circle cx="226.7" cy="179.1" r="1.55" fill="#23b9e8"/>
<circle cx="213.7" cy="194.1" r="1.55" fill="#2332a0"/>
<circle cx="179.3" cy="80.5" r="1.55" fill="#b4d737"/>
<circle cx="179.0" cy="184.0" r="1.55" fill="#1e55cd"/>
<circle cx="196.5" cy="152.5" r="1.55" fill="#7dcd73"/>
<circle cx="191.0" cy="105.5" r="1.55" fill="#2332a0"/>
<circle cx="129.0" cy="176.1" r="1.55" fill="#e41e1e"/>
<circle cx="214.7" cy="175.4" r="1.55" fill="#2332a0"/>
<circle cx="130.5" cy="190.4" r="1.55" fill="#e41e1e"/>
<circle cx="180.8" cy="107.0" r="1.55" fill="#1e55cd"/>
<circle cx="236.4" cy="166.0" r="1.55" fill="#f57d19"/>
<circle cx="103.0" cy="71.1" r="1.55" fill="#23b9e8"/>
<circle cx="183.0" cy="172.3" r="1.55" fill="#46c6b4"/>
<circle cx="216.8" cy="192.5" r="1.55" fill="#eee419"/>
<circle cx="220.7" cy="124.9" r="1.55" fill="#46c6b4"/>
<circle cx="160.1" cy="89.9" r="1.55" fill="#eee419"/>
<circle cx="210.3" cy="134.2" r="1.55" fill="#b4d737"/>
<circle cx="88.5" cy="76.7" r="1.55" fill="#b4d737"/>
<circle cx="214.7" cy="192.5" r="1.55" fill="#2332a0"/>
<circle cx="86.9" cy="117.3" r="1.55" fill="#23b9e8"/>
<circle cx="163.2" cy="179.5" r="1.55" fill="#f57d19"/>
<circle cx="205.1" cy="167.2" r="1.55" fill="#7dcd73"/>
<circle cx="158.9" cy="86.8" r="1.55" fill="#eee419"/>
<circle cx="121.1" cy="85.1" r="1.55" fill="#1e55cd"/>
<circle cx="89.4" cy="109.3" r="1.55" fill="#1e55cd"/>
<circle cx="202.1" cy="125.1" r="1.55" fill="#1e55cd"/>
<circle cx="238.2" cy="136.9" r="1.55" fill="#7dcd73"/>
<circle cx="173.5" cy="138.7" r="1.55" fill="#1e55cd"/>
<circle cx="160.7" cy="79.1" r="1.55" fill="#b4d737"/>
<circle cx="187.0" cy="155.7" r="1.55" fill="#1e55cd"/>
<circle cx="153.4" cy="84.5" r="1.55" fill="#eee419"/>
<circle cx="217.8" cy="146.7" r="1.55" fill="#7dcd73"/>
<circle cx="222.4" cy="150.0" r="1.55" fill="#2332a0"/>
<circle cx="113.1" cy="70.4" r="1.55" fill="#eee419"/>
<circle cx="160.9" cy="118.1" r="1.55" fill="#7dcd73"/>
<circle cx="213.4" cy="157.6" r="1.55" fill="#23b9e8"/>
<circle cx="74.4" cy="89.0" r="1.55" fill="#1e55cd"/>
<circle cx="154.9" cy="63.2" r="1.55" fill="#b4d737"/>
<circle cx="218.1" cy="104.6" r="1.55" fill="#1e55cd"/>
<circle cx="172.4" cy="207.5" r="1.55" fill="#e41e1e"/>
<circle cx="187.8" cy="155.6" r="1.55" fill="#e41e1e"/>
<circle cx="180.0" cy="100.6" r="1.55" fill="#b4d737"/>
<circle cx="212.8" cy="194.1" r="1.55" fill="#eee419"/>
<circle cx="226.4" cy="124.4" r="1.55" fill="#2332a0"/>
<circle cx="200.3" cy="70.8" r="1.55" fill="#23b9e8"/>
<circle cx="201.7" cy="87.0" r="1.55" fill="#7dcd73"/>
<circle cx="204.4" cy="175.6" r="1.55" fill="#46c6b4"/>
<circle cx="200.3" cy="144.5" r="1.55" fill="#b4d737"/>
<circle cx="188.2" cy="126.0" r="1.55" fill="#1e55cd"/>
<circle cx="144.5" cy="115.5" r="1.5" fill="#e41e1e"/>
<circle cx="219.8" cy="177.0" r="1.55" fill="#7dcd73"/>
<circle cx="208.2" cy="178.8" r="1.55" fill="#7dcd73"/>
<circle cx="221.6" cy="111.4" r="1.55" fill="#2332a0"/>
<circle cx="168.5" cy="195.8" r="1.55" fill="#1e55cd"/>
<circle cx="186.5" cy="133.5" r="1.55" fill="#e41e1e"/>
<circle cx="231.1" cy="140.8" r="1.55" fill="#23b9e8"/>
<circle cx="232.2" cy="160.5" r="1.55" fill="#b4d737"/>
<circle cx="94.3" cy="157.8" r="1.55" fill="#1e55cd"/>
<circle cx="162.2" cy="59.3" r="1.55" fill="#1e55cd"/>
<circle cx="206.4" cy="192.4" r="1.55" fill="#eee419"/>
<circle cx="173.1" cy="87.5" r="1.55" fill="#e41e1e"/>
<circle cx="181.9" cy="197.3" r="1.55" fill="#46c6b4"/>
<circle cx="159.2" cy="64.6" r="1.55" fill="#7dcd73"/>
<circle cx="184.4" cy="160.7" r="1.55" fill="#1e55cd"/>
<circle cx="187.2" cy="87.1" r="1.55" fill="#2332a0"/>
<circle cx="158.8" cy="87.9" r="1.55" fill="#23b9e8"/>
<circle cx="210.6" cy="91.8" r="1.55" fill="#46c6b4"/>
<circle cx="171.9" cy="108.9" r="1.55" fill="#eee419"/>
<circle cx="224.5" cy="98.1" r="1.55" fill="#2332a0"/>
<circle cx="193.6" cy="137.2" r="1.55" fill="#1e55cd"/>
<circle cx="174.3" cy="95.9" r="1.55" fill="#eee419"/>
<circle cx="131.2" cy="186.1" r="1.55" fill="#eee419"/>
<circle cx="176.4" cy="113.8" r="1.55" fill="#b4d737"/>
<circle cx="239.1" cy="134.7" r="1.55" fill="#1e55cd"/>
<circle cx="216.5" cy="155.2" r="1.55" fill="#7dcd73"/>
<circle cx="232.4" cy="124.8" r="1.55" fill="#e41e1e"/>
<circle cx="216.5" cy="185.1" r="1.55" fill="#1e55cd"/>
<circle cx="198.0" cy="158.7" r="1.55" fill="#46c6b4"/>
<circle cx="193.2" cy="104.4" r="1.55" fill="#1e55cd"/>
<circle cx="208.7" cy="195.7" r="1.55" fill="#1e55cd"/>
<circle cx="194.7" cy="190.1" r="1.55" fill="#1e55cd"/>
<circle cx="184.6" cy="65.0" r="1.55" fill="#2332a0"/>
<circle cx="161.6" cy="62.2" r="1.55" fill="#1e55cd"/>
<circle cx="170.8" cy="68.7" r="1.55" fill="#23b9e8"/>
<circle cx="172.2" cy="138.9" r="1.55" fill="#b4d737"/>
<circle cx="89.2" cy="70.0" r="1.55" fill="#eee419"/>
<circle cx="190.2" cy="189.3" r="1.55" fill="#46c6b4"/>
<circle cx="204.2" cy="110.4" r="1.55" fill="#b4d737"/>
<circle cx="232.6" cy="175.3" r="1.55" fill="#7dcd73"/>
<circle cx="160.8" cy="178.9" r="1.55" fill="#f57d19"/>
<circle cx="220.9" cy="172.5" r="1.55" fill="#23b9e8"/>
<circle cx="225.3" cy="161.2" r="1.55" fill="#7dcd73"/>
<circle cx="207.2" cy="190.4" r="1.55" fill="#7dcd73"/>
<circle cx="216.0" cy="159.4" r="1.55" fill="#7dcd73"/>
<circle cx="152.0" cy="125.0" r="1.5" fill="#e41e1e"/>
<circle cx="210.8" cy="101.4" r="1.55" fill="#1e55cd"/>
<circle cx="218.0" cy="148.2" r="1.55" fill="#b4d737"/>
<circle cx="203.7" cy="68.1" r="1.55" fill="#23b9e8"/>
<circle cx="210.5" cy="141.5" r="1.55" fill="#46c6b4"/>
<circle cx="165.1" cy="80.6" r="1.55" fill="#eee419"/>
<circle cx="193.3" cy="186.5" r="1.55" fill="#7dcd73"/>
<circle cx="237.0" cy="140.5" r="1.55" fill="#7dcd73"/>
<circle cx="168.8" cy="176.1" r="1.55" fill="#eee419"/>
<circle cx="85.9" cy="78.2" r="1.55" fill="#23b9e8"/>
<circle cx="126.3" cy="188.2" r="1.55" fill="#e41e1e"/>
<circle cx="163.4" cy="69.3" r="1.55" fill="#1e55cd"/>
<circle cx="204.1" cy="104.2" r="1.55" fill="#1e55cd"/>
<circle cx="212.3" cy="166.6" r="1.55" fill="#46c6b4"/>
<circle cx="102.5" cy="70.3" r="1.55" fill="#b4d737"/>
<circle cx="224.3" cy="162.7" r="1.55" fill="#46c6b4"/>
<circle cx="224.5" cy="184.0" r="1.55" fill="#46c6b4"/>
<circle cx="211.5" cy="196.7" r="1.55" fill="#eee419"/>
<circle cx="235.6" cy="123.5" r="1.55" fill="#e41e1e"/>
<circle cx="221.0" cy="164.7" r="1.55" fill="#7dcd73"/>
<circle cx="178.8" cy="132.0" r="1.55" fill="#e41e1e"/>
<circle cx="219.0" cy="190.2" r="1.55" fill="#2332a0"/>
<circle cx="108.9" cy="169.2" r="1.55" fill="#1e55cd"/>
<circle cx="194.8" cy="159.7" r="1.55" fill="#1e55cd"/>
<circle cx="213.0" cy="199.8" r="1.55" fill="#2332a0"/>
<circle cx="81.9" cy="114.4" r="1.55" fill="#23b9e8"/>
<circle cx="178.0" cy="56.3" r="1.55" fill="#1e55cd"/>
<circle cx="195.6" cy="149.2" r="1.55" fill="#7dcd73"/>
<circle cx="170.3" cy="63.4" r="1.55" fill="#1e55cd"/>
<circle cx="93.2" cy="103.3" r="1.55" fill="#e41e1e"/>
<circle cx="96.3" cy="100.3" r="1.55" fill="#2332a0"/>
<circle cx="98.5" cy="66.9" r="1.55" fill="#b4d737"/>
<circle cx="205.0" cy="98.6" r="1.55" fill="#b4d737"/>
<circle cx="199.1" cy="191.5" r="1.55" fill="#46c6b4"/>
<circle cx="172.9" cy="189.6" r="1.55" fill="#1e55cd"/>
<circle cx="81.3" cy="105.6" r="1.55" fill="#e41e1e"/>
<circle cx="220.4" cy="144.5" r="1.55" fill="#1e55cd"/>
<circle cx="138.7" cy="65.0" r="1.55" fill="#eee419"/>
<circle cx="154.5" cy="59.7" r="1.55" fill="#eee419"/>
<circle cx="160.7" cy="199.3" r="1.55" fill="#eee419"/>
<circle cx="210.8" cy="188.7" r="1.55" fill="#7dcd73"/>
<circle cx="159.6" cy="93.4" r="1.55" fill="#eee419"/>
<circle cx="175.0" cy="103.6" r="1.55" fill="#b4d737"/>
<circle cx="165.1" cy="91.4" r="1.55" fill="#7dcd73"/>
<circle cx="225.1" cy="130.7" r="1.55" fill="#23b9e8"/>
<circle cx="180.1" cy="165.7" r="1.55" fill="#7dcd73"/>
<circle cx="180.2" cy="197.1" r="1.55" fill="#7dcd73"/>
<circle cx="163.1" cy="77.6" r="1.55" fill="#eee419"/>
<circle cx="103.4" cy="160.5" r="1.55" fill="#1e55cd"/>
<circle cx="230.6" cy="149.7" r="1.55" fill="#2332a0"/>
<circle cx="210.0" cy="78.6" r="1.55" fill="#23b9e8"/>
<circle cx="194.4" cy="160.0" r="1.55" fill="#b4d737"/>
<circle cx="100.0" cy="168.1" r="1.55" fill="#1e55cd"/>
<circle cx="198.8" cy="154.5" r="1.55" fill="#23b9e8"/>
<circle cx="219.8" cy="192.2" r="1.55" fill="#23b9e8"/>
<circle cx="160.9" cy="185.9" r="1.55" fill="#e41e1e"/>
<circle cx="168.0" cy="193.3" r="1.55" fill="#e41e1e"/>
<circle cx="156.4" cy="60.7" r="1.55" fill="#1e55cd"/>
<circle cx="211.8" cy="136.5" r="1.55" fill="#7dcd73"/>
<circle cx="217.6" cy="171.6" r="1.55" fill="#46c6b4"/>
<circle cx="94.7" cy="102.2" r="1.55" fill="#2332a0"/>
<circle cx="196.9" cy="80.4" r="1.55" fill="#7dcd73"/>
<circle cx="168.4" cy="205.7" r="1.55" fill="#7dcd73"/>
<circle cx="160.2" cy="162.3" r="1.55" fill="#e41e1e"/>
<circle cx="84.7" cy="96.8" r="1.55" fill="#7dcd73"/>
<circle cx="180.0" cy="102.0" r="1.55" fill="#7dcd73"/>
<circle cx="202.5" cy="79.0" r="1.55" fill="#b4d737"/>
<circle cx="225.4" cy="176.7" r="1.55" fill="#7dcd73"/>
<circle cx="190.9" cy="95.6" r="1.55" fill="#7dcd73"/>
<circle cx="206.0" cy="137.6" r="1.55" fill="#7dcd73"/>
<circle cx="180.5" cy="181.8" r="1.55" fill="#7dcd73"/>
<circle cx="129.6" cy="190.9" r="1.55" fill="#eee419"/>
<circle cx="178.3" cy="114.2" r="1.55" fill="#7dcd73"/>
<circle cx="196.0" cy="174.5" r="1.55" fill="#eee419"/>
<circle cx="178.6" cy="91.6" r="1.55" fill="#23b9e8"/>
<circle cx="184.7" cy="148.2" r="1.55" fill="#46c6b4"/>
<circle cx="175.0" cy="63.5" r="1.55" fill="#46c6b4"/>
<circle cx="237.6" cy="147.4" r="1.55" fill="#23b9e8"/>
<circle cx="208.2" cy="163.7" r="1.55" fill="#46c6b4"/>
<circle cx="164.2" cy="101.1" r="1.55" fill="#eee419"/>
<circle cx="162.5" cy="75.5" r="1.55" fill="#23b9e8"/>
<circle cx="157.1" cy="84.0" r="1.55" fill="#eee419"/>
<circle cx="231.6" cy="123.2" r="1.55" fill="#1e55cd"/>
<circle cx="169.6" cy="183.7" r="1.55" fill="#eee419"/>
<circle cx="208.7" cy="146.0" r="1.55" fill="#46c6b4"/>
<circle cx="185.7" cy="196.4" r="1.55" fill="#23b9e8"/>
<circle cx="91.7" cy="130.1" r="1.55" fill="#eee419"/>
<circle cx="200.8" cy="111.5" r="1.55" fill="#7dcd73"/>
<circle cx="119.1" cy="84.4" r="1.55" fill="#23b9e8"/>
<circle cx="189.1" cy="107.3" r="1.55" fill="#46c6b4"/>
<circle cx="211.7" cy="159.1" r="1.55" fill="#1e55cd"/>
<circle cx="174.1" cy="77.2" r="1.55" fill="#eee419"/>
<circle cx="87.0" cy="101.7" r="1.55" fill="#e41e1e"/>
<circle cx="78.3" cy="117.7" r="1.55" fill="#e41e1e"/>
<circle cx="211.6" cy="88.5" r="1.55" fill="#23b9e8"/>
<circle cx="194.1" cy="114.9" r="1.55" fill="#b4d737"/>
<circle cx="155.4" cy="66.9" r="1.55" fill="#eee419"/>
<circle cx="207.1" cy="158.2" r="1.55" fill="#2332a0"/>
<circle cx="221.7" cy="130.9" r="1.55" fill="#1e55cd"/>
<circle cx="101.0" cy="73.7" r="1.55" fill="#1e55cd"/>
<circle cx="208.8" cy="157.2" r="1.55" fill="#46c6b4"/>
<circle cx="129.3" cy="184.8" r="1.55" fill="#eee419"/>
<circle cx="235.6" cy="141.6" r="1.55" fill="#1e55cd"/>
<circle cx="224.4" cy="141.6" r="1.55" fill="#b4d737"/>
<circle cx="222.5" cy="133.9" r="1.55" fill="#7dcd73"/>
<circle cx="90.1" cy="105.1" r="1.55" fill="#2332a0"/>
<circle cx="161.4" cy="184.0" r="1.55" fill="#e41e1e"/>
<circle cx="88.4" cy="111.3" r="1.55" fill="#e41e1e"/>
<circle cx="223.1" cy="95.7" r="1.55" fill="#b4d737"/>
<circle cx="202.0" cy="113.1" r="1.55" fill="#b4d737"/>
<circle cx="195.2" cy="82.4" r="1.55" fill="#23b9e8"/>
<circle cx="224.4" cy="148.8" r="1.55" fill="#23b9e8"/>
<circle cx="182.7" cy="163.1" r="1.55" fill="#46c6b4"/>
<circle cx="179.9" cy="98.2" r="1.55" fill="#7dcd73"/>
<circle cx="217.8" cy="159.4" r="1.55" fill="#23b9e8"/>
<circle cx="180.0" cy="198.8" r="1.55" fill="#46c6b4"/>
<circle cx="199.3" cy="95.8" r="1.55" fill="#2332a0"/>
<circle cx="197.4" cy="62.1" r="1.55" fill="#46c6b4"/>
<circle cx="235.5" cy="172.7" r="1.55" fill="#46c6b4"/>
<circle cx="193.8" cy="102.2" r="1.55" fill="#23b9e8"/>
<circle cx="184.9" cy="111.7" r="1.55" fill="#7dcd73"/>
<circle cx="168.7" cy="63.5" r="1.55" fill="#23b9e8"/>
<circle cx="229.1" cy="149.9" r="1.55" fill="#b4d737"/>
<circle cx="199.3" cy="196.2" r="1.55" fill="#23b9e8"/>
<circle cx="74.8" cy="111.4" r="1.55" fill="#1e55cd"/>
<circle cx="182.9" cy="165.6" r="1.55" fill="#23b9e8"/>
<circle cx="99.2" cy="177.2" r="1.55" fill="#eee419"/>
<circle cx="229.6" cy="178.7" r="1.55" fill="#b4d737"/>
<circle cx="193.9" cy="63.9" r="1.55" fill="#46c6b4"/>
<circle cx="184.2" cy="147.6" r="1.55" fill="#23b9e8"/>
<circle cx="158.0" cy="124.0" r="1.5" fill="#e41e1e"/>
<circle cx="120.9" cy="86.3" r="1.55" fill="#eee419"/>
<circle cx="213.2" cy="154.5" r="1.55" fill="#2332a0"/>
<circle cx="175.2" cy="90.8" r="1.55" fill="#eee419"/>
<circle cx="101.1" cy="181.9" r="1.55" fill="#eee419"/>
<circle cx="138.2" cy="68.0" r="1.55" fill="#b4d737"/>
<circle cx="220.6" cy="186.3" r="1.55" fill="#7dcd73"/>
<circle cx="185.2" cy="187.4" r="1.55" fill="#b4d737"/>
<circle cx="185.5" cy="154.3" r="1.55" fill="#f57d19"/>
<circle cx="225.6" cy="120.3" r="1.55" fill="#7dcd73"/>
<circle cx="170.4" cy="56.3" r="1.55" fill="#46c6b4"/>
<circle cx="186.7" cy="62.9" r="1.55" fill="#46c6b4"/>
<circle cx="193.9" cy="108.3" r="1.55" fill="#23b9e8"/>
<circle cx="232.5" cy="140.1" r="1.55" fill="#23b9e8"/>
<circle cx="215.0" cy="156.6" r="1.55" fill="#23b9e8"/>
<circle cx="179.5" cy="114.5" r="1.55" fill="#eee419"/>
<circle cx="219.8" cy="185.8" r="1.55" fill="#2332a0"/>
<circle cx="197.5" cy="115.2" r="1.55" fill="#b4d737"/>
<circle cx="188.5" cy="192.4" r="1.55" fill="#7dcd73"/>
<circle cx="178.8" cy="81.6" r="1.55" fill="#23b9e8"/>
<circle cx="226.2" cy="163.6" r="1.55" fill="#b4d737"/>
<circle cx="189.0" cy="154.5" r="1.55" fill="#23b9e8"/>
<circle cx="192.0" cy="187.6" r="1.55" fill="#7dcd73"/>
<circle cx="228.2" cy="188.9" r="1.55" fill="#23b9e8"/>
<circle cx="224.6" cy="129.4" r="1.55" fill="#eee419"/>
<circle cx="184.7" cy="86.2" r="1.55" fill="#7dcd73"/>
<circle cx="221.1" cy="189.0" r="1.55" fill="#23b9e8"/>
<circle cx="212.1" cy="181.7" r="1.55" fill="#2332a0"/>
<circle cx="200.7" cy="123.4" r="1.55" fill="#1e55cd"/>
<circle cx="194.0" cy="126.0" r="1.55" fill="#1e55cd"/>
<circle cx="159.9" cy="157.5" r="1.55" fill="#f57d19"/>
<circle cx="198.7" cy="80.5" r="1.55" fill="#1e55cd"/>
<circle cx="216.1" cy="195.2" r="1.55" fill="#eee419"/>
<circle cx="156.3" cy="78.0" r="1.55" fill="#eee419"/>
<circle cx="161.8" cy="201.6" r="1.55" fill="#1e55cd"/>
<circle cx="164.3" cy="108.2" r="1.55" fill="#e41e1e"/>
<circle cx="167.5" cy="66.3" r="1.55" fill="#46c6b4"/>
<circle cx="204.8" cy="73.3" r="1.55" fill="#23b9e8"/>
<circle cx="204.2" cy="181.0" r="1.55" fill="#23b9e8"/>
<circle cx="203.4" cy="98.2" r="1.55" fill="#23b9e8"/>
<circle cx="176.4" cy="126.1" r="1.55" fill="#eee419"/>
<circle cx="224.9" cy="166.4" r="1.55" fill="#23b9e8"/>
<circle cx="171.7" cy="79.9" r="1.55" fill="#23b9e8"/>
<circle cx="186.8" cy="83.8" r="1.55" fill="#b4d737"/>
<circle cx="169.4" cy="65.9" r="1.55" fill="#23b9e8"/>
<circle cx="86.6" cy="73.7" r="1.55" fill="#b4d737"/>
<circle cx="83.4" cy="105.4" r="1.55" fill="#1e55cd"/>
<circle cx="100.4" cy="67.2" r="1.55" fill="#b4d737"/>
<circle cx="214.2" cy="152.1" r="1.55" fill="#46c6b4"/>
<circle cx="104.9" cy="71.9" r="1.55" fill="#46c6b4"/>
<circle cx="76.3" cy="105.2" r="1.55" fill="#e41e1e"/>
<circle cx="230.5" cy="171.1" r="1.55" fill="#23b9e8"/>
<circle cx="196.3" cy="157.0" r="1.55" fill="#7dcd73"/>
<circle cx="169.6" cy="177.8" r="1.55" fill="#eee419"/>
<circle cx="214.1" cy="156.0" r="1.55" fill="#1e55cd"/>
<circle cx="202.0" cy="183.2" r="1.55" fill="#eee419"/>
<circle cx="174.1" cy="183.0" r="1.55" fill="#b4d737"/>
<circle cx="138.4" cy="66.6" r="1.55" fill="#b4d737"/>
<circle cx="83.7" cy="97.1" r="1.55" fill="#23b9e8"/>
<circle cx="107.0" cy="164.5" r="1.55" fill="#2332a0"/>
<circle cx="236.7" cy="165.2" r="1.55" fill="#23b9e8"/>
<circle cx="184.6" cy="195.4" r="1.55" fill="#7dcd73"/>
<circle cx="224.1" cy="153.1" r="1.55" fill="#23b9e8"/>
<circle cx="220.1" cy="169.1" r="1.55" fill="#23b9e8"/>
<circle cx="229.8" cy="157.7" r="1.55" fill="#46c6b4"/>
<circle cx="223.4" cy="183.4" r="1.55" fill="#46c6b4"/>
<circle cx="166.9" cy="74.6" r="1.55" fill="#1e55cd"/>
<circle cx="126.7" cy="184.7" r="1.55" fill="#e41e1e"/>
<circle cx="72.5" cy="112.6" r="1.55" fill="#1e55cd"/>
<circle cx="213.2" cy="154.1" r="1.55" fill="#7dcd73"/>
<circle cx="80.2" cy="86.3" r="1.55" fill="#b4d737"/>
<circle cx="73.6" cy="112.4" r="1.55" fill="#eee419"/>
<circle cx="186.3" cy="109.5" r="1.55" fill="#7dcd73"/>
<circle cx="89.1" cy="110.5" r="1.55" fill="#e41e1e"/>
<circle cx="181.4" cy="116.4" r="1.55" fill="#7dcd73"/>
<circle cx="214.1" cy="118.3" r="1.55" fill="#7dcd73"/>
<circle cx="237.5" cy="126.1" r="1.55" fill="#b4d737"/>
<circle cx="222.0" cy="106.7" r="1.55" fill="#46c6b4"/>
<circle cx="236.7" cy="175.5" r="1.55" fill="#23b9e8"/>
<circle cx="129.9" cy="186.0" r="1.55" fill="#f57d19"/>
<circle cx="179.9" cy="55.6" r="1.55" fill="#46c6b4"/>
<circle cx="232.1" cy="163.6" r="1.55" fill="#23b9e8"/>
<circle cx="205.5" cy="154.0" r="1.55" fill="#b4d737"/>
<circle cx="197.1" cy="192.4" r="1.55" fill="#46c6b4"/>
<circle cx="94.6" cy="99.3" r="1.55" fill="#2332a0"/>
<circle cx="224.9" cy="161.0" r="1.55" fill="#7dcd73"/>
<circle cx="206.0" cy="115.6" r="1.55" fill="#23b9e8"/>
<circle cx="170.7" cy="177.0" r="1.55" fill="#7dcd73"/>
<circle cx="157.4" cy="197.9" r="1.55" fill="#eee419"/>
<circle cx="165.4" cy="192.9" r="1.55" fill="#e41e1e"/>
<circle cx="214.0" cy="144.7" r="1.55" fill="#b4d737"/>
<circle cx="203.3" cy="100.8" r="1.55" fill="#b4d737"/>
<circle cx="102.1" cy="170.2" r="1.55" fill="#2332a0"/>
<circle cx="141.8" cy="64.3" r="1.55" fill="#eee419"/>
<circle cx="81.5" cy="85.0" r="1.55" fill="#eee419"/>
<circle cx="225.2" cy="121.8" r="1.55" fill="#1e55cd"/>
<circle cx="165.4" cy="128.2" r="1.55" fill="#eee419"/>
<circle cx="102.9" cy="69.4" r="1.55" fill="#b4d737"/>
<circle cx="102.5" cy="173.5" r="1.55" fill="#1e55cd"/>
<circle cx="74.0" cy="105.4" r="1.55" fill="#e41e1e"/>
<circle cx="113.6" cy="180.0" r="1.55" fill="#eee419"/>
<circle cx="107.8" cy="180.2" r="1.55" fill="#23b9e8"/>
<circle cx="200.3" cy="68.6" r="1.55" fill="#7dcd73"/>
<circle cx="201.1" cy="121.8" r="1.55" fill="#2332a0"/>
<circle cx="75.4" cy="105.2" r="1.55" fill="#2332a0"/>
<circle cx="185.6" cy="143.8" r="1.55" fill="#2332a0"/>
<circle cx="194.3" cy="64.8" r="1.55" fill="#7dcd73"/>
<circle cx="187.0" cy="115.8" r="1.55" fill="#46c6b4"/>
<circle cx="183.7" cy="186.1" r="1.55" fill="#1e55cd"/>
<circle cx="199.0" cy="157.2" r="1.55" fill="#2332a0"/>
<circle cx="73.9" cy="124.0" r="1.55" fill="#2332a0"/>
<circle cx="175.3" cy="174.6" r="1.55" fill="#eee419"/>
<circle cx="165.7" cy="183.4" r="1.55" fill="#1e55cd"/>
<circle cx="225.4" cy="129.1" r="1.55" fill="#23b9e8"/>
<circle cx="233.8" cy="150.1" r="1.55" fill="#1e55cd"/>
<circle cx="170.0" cy="58.8" r="1.55" fill="#46c6b4"/>
<circle cx="176.0" cy="107.7" r="1.55" fill="#7dcd73"/>
<circle cx="221.3" cy="188.8" r="1.55" fill="#e41e1e"/>
<circle cx="222.4" cy="125.8" r="1.55" fill="#b4d737"/>
<circle cx="205.8" cy="98.2" r="1.55" fill="#23b9e8"/>
<circle cx="74.3" cy="99.3" r="1.55" fill="#2332a0"/>
<circle cx="216.8" cy="194.2" r="1.55" fill="#7dcd73"/>
<circle cx="196.9" cy="120.6" r="1.55" fill="#e41e1e"/>
<circle cx="213.8" cy="92.7" r="1.55" fill="#b4d737"/>
<circle cx="169.2" cy="68.1" r="1.55" fill="#1e55cd"/>
<circle cx="87.1" cy="98.6" r="1.55" fill="#e41e1e"/>
<circle cx="212.4" cy="192.4" r="1.55" fill="#eee419"/>
<circle cx="171.9" cy="115.9" r="1.55" fill="#eee419"/>
<circle cx="191.5" cy="187.6" r="1.55" fill="#b4d737"/>
<circle cx="215.2" cy="102.0" r="1.55" fill="#b4d737"/>
<circle cx="204.0" cy="130.2" r="1.55" fill="#eee419"/>
<circle cx="144.0" cy="74.4" r="1.55" fill="#1e55cd"/>
<circle cx="80.1" cy="118.8" r="1.55" fill="#1e55cd"/>
<circle cx="87.9" cy="71.0" r="1.55" fill="#46c6b4"/>
<circle cx="158.7" cy="61.7" r="1.55" fill="#46c6b4"/>
<circle cx="159.4" cy="128.0" r="1.55" fill="#e41e1e"/>
<circle cx="217.2" cy="119.4" r="1.55" fill="#b4d737"/>
<circle cx="194.9" cy="115.0" r="1.55" fill="#46c6b4"/>
<circle cx="182.6" cy="171.2" r="1.55" fill="#2332a0"/>
<circle cx="87.9" cy="97.5" r="1.55" fill="#e41e1e"/>
<circle cx="210.2" cy="78.5" r="1.55" fill="#46c6b4"/>
<circle cx="213.0" cy="100.1" r="1.55" fill="#7dcd73"/>
<circle cx="215.8" cy="149.2" r="1.55" fill="#23b9e8"/>
<circle cx="122.5" cy="181.0" r="1.55" fill="#23b9e8"/>
<circle cx="199.9" cy="92.8" r="1.55" fill="#23b9e8"/>
<circle cx="223.5" cy="184.7" r="1.55" fill="#2332a0"/>
<circle cx="187.8" cy="168.2" r="1.55" fill="#7dcd73"/>
<circle cx="169.9" cy="94.4" r="1.55" fill="#7dcd73"/>
<circle cx="188.0" cy="153.0" r="1.55" fill="#b4d737"/>
<circle cx="168.1" cy="195.5" r="1.55" fill="#7dcd73"/>
<circle cx="157.7" cy="116.7" r="1.55" fill="#e41e1e"/>
<circle cx="223.5" cy="111.3" r="1.55" fill="#46c6b4"/>
<circle cx="87.0" cy="75.7" r="1.55" fill="#23b9e8"/>
<circle cx="174.5" cy="190.7" r="1.55" fill="#eee419"/>
<circle cx="238.5" cy="128.6" r="1.55" fill="#eee419"/>
<circle cx="170.4" cy="68.1" r="1.55" fill="#7dcd73"/>
<circle cx="190.5" cy="75.8" r="1.55" fill="#2332a0"/>
<circle cx="202.8" cy="114.4" r="1.55" fill="#2332a0"/>
<circle cx="167.1" cy="75.5" r="1.55" fill="#7dcd73"/>
<circle cx="80.7" cy="104.1" r="1.55" fill="#23b9e8"/>
<circle cx="172.2" cy="58.2" r="1.55" fill="#23b9e8"/>
<circle cx="156.8" cy="68.0" r="1.55" fill="#eee419"/>
<circle cx="126.0" cy="189.8" r="1.55" fill="#7dcd73"/>
<circle cx="204.4" cy="174.2" r="1.55" fill="#2332a0"/>
<circle cx="190.9" cy="66.6" r="1.55" fill="#7dcd73"/>
<circle cx="205.5" cy="94.6" r="1.55" fill="#b4d737"/>
<circle cx="157.2" cy="194.5" r="1.55" fill="#eee419"/>
<circle cx="97.7" cy="67.2" r="1.55" fill="#46c6b4"/>
<circle cx="197.8" cy="126.0" r="1.55" fill="#2332a0"/>
<circle cx="221.7" cy="162.6" r="1.55" fill="#eee419"/>
<circle cx="220.5" cy="96.9" r="1.55" fill="#eee419"/>
<circle cx="194.1" cy="153.7" r="1.55" fill="#1e55cd"/>
<circle cx="192.5" cy="123.2" r="1.55" fill="#e41e1e"/>
<circle cx="185.0" cy="155.3" r="1.55" fill="#7dcd73"/>
<circle cx="208.3" cy="165.9" r="1.55" fill="#1e55cd"/>
<circle cx="206.3" cy="157.5" r="1.55" fill="#46c6b4"/>
<circle cx="119.7" cy="181.9" r="1.55" fill="#f57d19"/>
<circle cx="158.7" cy="138.9" r="1.55" fill="#eee419"/>
<circle cx="151.4" cy="148.0" r="1.55" fill="#f57d19"/>
<circle cx="183.4" cy="100.4" r="1.55" fill="#eee419"/>
<circle cx="86.4" cy="102.8" r="1.55" fill="#23b9e8"/>
<circle cx="174.4" cy="103.6" r="1.55" fill="#7dcd73"/>
<circle cx="213.2" cy="194.2" r="1.55" fill="#eee419"/>
<circle cx="183.4" cy="167.0" r="1.55" fill="#2332a0"/>
<circle cx="125.5" cy="188.0" r="1.55" fill="#1e55cd"/>
<circle cx="234.1" cy="156.0" r="1.55" fill="#e41e1e"/>
<circle cx="158.1" cy="81.0" r="1.55" fill="#b4d737"/>
<circle cx="202.8" cy="186.8" r="1.55" fill="#23b9e8"/>
<circle cx="190.0" cy="155.8" r="1.55" fill="#7dcd73"/>
<circle cx="85.1" cy="117.7" r="1.55" fill="#23b9e8"/>
<circle cx="233.5" cy="159.4" r="1.55" fill="#7dcd73"/>
<circle cx="231.9" cy="149.2" r="1.55" fill="#7dcd73"/>
<circle cx="204.8" cy="91.4" r="1.55" fill="#46c6b4"/>
<circle cx="197.0" cy="121.5" r="1.55" fill="#eee419"/>
<circle cx="219.9" cy="99.1" r="1.55" fill="#b4d737"/>
<circle cx="229.0" cy="143.5" r="1.55" fill="#f57d19"/>
<circle cx="193.4" cy="175.7" r="1.55" fill="#23b9e8"/>
<circle cx="202.0" cy="65.6" r="1.55" fill="#b4d737"/>
<circle cx="189.2" cy="103.3" r="1.55" fill="#23b9e8"/>
<circle cx="170.5" cy="138.8" r="1.55" fill="#1e55cd"/>
<circle cx="197.0" cy="128.5" r="1.55" fill="#e41e1e"/>
<circle cx="235.0" cy="157.9" r="1.55" fill="#23b9e8"/>
<circle cx="177.6" cy="96.7" r="1.55" fill="#eee419"/>
<circle cx="213.3" cy="147.4" r="1.55" fill="#23b9e8"/>
<circle cx="223.8" cy="140.1" r="1.55" fill="#46c6b4"/>
<circle cx="174.4" cy="73.2" r="1.55" fill="#46c6b4"/>
<circle cx="197.6" cy="125.0" r="1.55" fill="#e41e1e"/>
<circle cx="203.6" cy="183.4" r="1.55" fill="#7dcd73"/>
<circle cx="124.9" cy="181.4" r="1.55" fill="#f57d19"/>
<circle cx="162.7" cy="120.1" r="1.55" fill="#7dcd73"/>
<circle cx="163.5" cy="89.0" r="1.55" fill="#e41e1e"/>
<circle cx="159.9" cy="129.0" r="1.55" fill="#e41e1e"/>
<circle cx="178.2" cy="106.7" r="1.55" fill="#1e55cd"/>
<circle cx="177.9" cy="58.6" r="1.55" fill="#23b9e8"/>
<circle cx="190.8" cy="123.6" r="1.55" fill="#7dcd73"/>
<circle cx="219.5" cy="164.2" r="1.55" fill="#46c6b4"/>
<circle cx="122.7" cy="189.9" r="1.55" fill="#e41e1e"/>
<circle cx="189.8" cy="114.8" r="1.55" fill="#b4d737"/>
<circle cx="228.3" cy="135.9" r="1.55" fill="#7dcd73"/>
<circle cx="171.5" cy="132.8" r="1.55" fill="#e41e1e"/>
<circle cx="182.4" cy="87.1" r="1.55" fill="#46c6b4"/>
<circle cx="101.1" cy="70.3" r="1.55" fill="#e41e1e"/>
<circle cx="184.0" cy="101.8" r="1.55" fill="#b4d737"/>
<circle cx="190.1" cy="182.2" r="1.55" fill="#23b9e8"/>
<circle cx="195.4" cy="156.2" r="1.55" fill="#1e55cd"/>
<circle cx="202.8" cy="76.3" r="1.55" fill="#2332a0"/>
<circle cx="98.0" cy="68.3" r="1.55" fill="#b4d737"/>
<circle cx="216.2" cy="106.2" r="1.55" fill="#23b9e8"/>
<circle cx="80.4" cy="115.9" r="1.55" fill="#e41e1e"/>
<circle cx="192.4" cy="146.8" r="1.55" fill="#7dcd73"/>
<circle cx="180.8" cy="175.5" r="1.55" fill="#46c6b4"/>
<circle cx="158.6" cy="202.2" r="1.55" fill="#f57d19"/>
<circle cx="208.4" cy="195.1" r="1.55" fill="#1e55cd"/>
<circle cx="201.8" cy="180.1" r="1.55" fill="#7dcd73"/>
<circle cx="184.9" cy="103.2" r="1.55" fill="#1e55cd"/>
<circle cx="201.0" cy="80.0" r="1.55" fill="#23b9e8"/>
<circle cx="232.2" cy="159.5" r="1.55" fill="#1e55cd"/>
<circle cx="160.6" cy="81.8" r="1.55" fill="#1e55cd"/>
<circle cx="179.5" cy="99.0" r="1.55" fill="#1e55cd"/>
<circle cx="203.8" cy="157.1" r="1.55" fill="#7dcd73"/>
<circle cx="157.8" cy="82.3" r="1.55" fill="#23b9e8"/>
<circle cx="195.8" cy="158.1" r="1.55" fill="#46c6b4"/>
<circle cx="172.6" cy="115.9" r="1.55" fill="#b4d737"/>
<circle cx="169.0" cy="207.8" r="1.55" fill="#e41e1e"/>
<circle cx="162.7" cy="123.1" r="1.55" fill="#2332a0"/>
<circle cx="215.0" cy="118.6" r="1.55" fill="#b4d737"/>
<circle cx="162.3" cy="196.0" r="1.55" fill="#b4d737"/>
<circle cx="223.3" cy="131.8" r="1.55" fill="#1e55cd"/>
<circle cx="87.9" cy="122.5" r="1.55" fill="#23b9e8"/>
<circle cx="192.7" cy="127.5" r="1.55" fill="#e41e1e"/>
<circle cx="225.5" cy="165.7" r="1.55" fill="#46c6b4"/>
<circle cx="193.3" cy="176.0" r="1.55" fill="#7dcd73"/>
<circle cx="215.3" cy="97.0" r="1.55" fill="#7dcd73"/>
<circle cx="186.8" cy="157.9" r="1.55" fill="#b4d737"/>
<circle cx="210.1" cy="142.4" r="1.55" fill="#2332a0"/>
<circle cx="217.8" cy="153.8" r="1.55" fill="#7dcd73"/>
<circle cx="163.9" cy="103.2" r="1.55" fill="#eee419"/>
<circle cx="235.2" cy="130.7" r="1.55" fill="#b4d737"/>
<circle cx="165.7" cy="104.8" r="1.55" fill="#eee419"/>
<circle cx="139.4" cy="68.3" r="1.55" fill="#b4d737"/>
<circle cx="185.7" cy="77.5" r="1.55" fill="#2332a0"/>
<circle cx="208.6" cy="115.4" r="1.55" fill="#7dcd73"/>
<circle cx="233.2" cy="154.8" r="1.55" fill="#1e55cd"/>
<circle cx="209.1" cy="198.8" r="1.55" fill="#1e55cd"/>
<circle cx="232.4" cy="175.7" r="1.55" fill="#f57d19"/>
<circle cx="208.9" cy="188.0" r="1.55" fill="#7dcd73"/>
<circle cx="206.5" cy="188.4" r="1.55" fill="#1e55cd"/>
<circle cx="155.7" cy="76.4" r="1.55" fill="#1e55cd"/>
<circle cx="163.6" cy="101.6" r="1.55" fill="#7dcd73"/>
<circle cx="189.6" cy="135.7" r="1.55" fill="#23b9e8"/>
<circle cx="143.4" cy="60.7" r="1.55" fill="#b4d737"/>
<circle cx="199.6" cy="184.2" r="1.55" fill="#b4d737"/>
<circle cx="187.1" cy="92.2" r="1.55" fill="#7dcd73"/>
<circle cx="163.7" cy="78.1" r="1.55" fill="#7dcd73"/>
<circle cx="222.3" cy="177.3" r="1.55" fill="#46c6b4"/>
<circle cx="174.1" cy="200.0" r="1.55" fill="#2332a0"/>
<circle cx="173.5" cy="60.6" r="1.55" fill="#1e55cd"/>
<circle cx="118.6" cy="82.4" r="1.55" fill="#23b9e8"/>
<circle cx="175.7" cy="94.5" r="1.55" fill="#b4d737"/>
<circle cx="209.0" cy="140.7" r="1.55" fill="#23b9e8"/>
<circle cx="173.1" cy="137.1" r="1.55" fill="#2332a0"/>
<circle cx="202.8" cy="94.8" r="1.55" fill="#1e55cd"/>
<circle cx="230.5" cy="167.4" r="1.55" fill="#2332a0"/>
<circle cx="197.6" cy="66.6" r="1.55" fill="#46c6b4"/>
<circle cx="192.8" cy="74.2" r="1.55" fill="#46c6b4"/>
<circle cx="196.9" cy="102.5" r="1.55" fill="#46c6b4"/>
<circle cx="185.3" cy="120.5" r="1.55" fill="#eee419"/>
<circle cx="79.1" cy="122.5" r="1.55" fill="#e41e1e"/>
<circle cx="92.2" cy="66.4" r="1.55" fill="#46c6b4"/>
<circle cx="226.0" cy="190.1" r="1.55" fill="#23b9e8"/>
<circle cx="220.4" cy="152.5" r="1.55" fill="#23b9e8"/>
<circle cx="112.6" cy="184.8" r="1.55" fill="#e41e1e"/>
<circle cx="181.7" cy="81.3" r="1.55" fill="#46c6b4"/>
<circle cx="217.0" cy="111.9" r="1.55" fill="#2332a0"/>
<circle cx="203.6" cy="100.4" r="1.55" fill="#7dcd73"/>
<circle cx="80.2" cy="121.5" r="1.55" fill="#e41e1e"/>
<circle cx="198.0" cy="178.4" r="1.55" fill="#2332a0"/>
<circle cx="200.4" cy="162.4" r="1.55" fill="#b4d737"/>
<circle cx="225.3" cy="188.3" r="1.55" fill="#7dcd73"/>
<circle cx="235.6" cy="182.1" r="1.55" fill="#1e55cd"/>
<circle cx="80.0" cy="94.3" r="1.55" fill="#2332a0"/>
<circle cx="95.3" cy="112.0" r="1.55" fill="#7dcd73"/>
<circle cx="109.5" cy="186.3" r="1.55" fill="#eee419"/>
<circle cx="154.7" cy="89.6" r="1.55" fill="#7dcd73"/>
<circle cx="217.7" cy="181.1" r="1.55" fill="#1e55cd"/>
<circle cx="184.3" cy="199.3" r="1.55" fill="#46c6b4"/>
<circle cx="176.2" cy="100.1" r="1.55" fill="#e41e1e"/>
<circle cx="236.5" cy="181.3" r="1.55" fill="#2332a0"/>
<circle cx="103.8" cy="179.6" r="1.55" fill="#23b9e8"/>
<circle cx="194.8" cy="79.6" r="1.55" fill="#23b9e8"/>
<circle cx="208.4" cy="96.1" r="1.55" fill="#23b9e8"/>
<circle cx="195.2" cy="128.3" r="1.55" fill="#23b9e8"/>
<circle cx="188.6" cy="93.9" r="1.55" fill="#b4d737"/>
<circle cx="131.7" cy="177.4" r="1.55" fill="#2332a0"/>
<circle cx="189.9" cy="102.6" r="1.55" fill="#b4d737"/>
<circle cx="84.5" cy="103.2" r="1.55" fill="#e41e1e"/>
<circle cx="159.8" cy="127.1" r="1.55" fill="#e41e1e"/>
<circle cx="218.2" cy="137.3" r="1.55" fill="#2332a0"/>
<circle cx="72.9" cy="102.2" r="1.55" fill="#23b9e8"/>
<circle cx="170.7" cy="186.8" r="1.55" fill="#eee419"/>
<circle cx="98.2" cy="161.6" r="1.55" fill="#1e55cd"/>
<circle cx="163.9" cy="98.6" r="1.55" fill="#eee419"/>
<circle cx="181.7" cy="98.0" r="1.55" fill="#7dcd73"/>
<circle cx="193.8" cy="177.9" r="1.55" fill="#7dcd73"/>
<circle cx="171.5" cy="163.8" r="1.55" fill="#e41e1e"/>
<circle cx="80.4" cy="101.5" r="1.55" fill="#e41e1e"/>
<circle cx="162.4" cy="123.1" r="1.55" fill="#b4d737"/>
<circle cx="175.1" cy="100.0" r="1.55" fill="#23b9e8"/>
<circle cx="214.9" cy="193.2" r="1.55" fill="#2332a0"/>
<circle cx="156.5" cy="65.0" r="1.55" fill="#b4d737"/>
<circle cx="183.4" cy="194.6" r="1.55" fill="#eee419"/>
<circle cx="182.5" cy="78.2" r="1.55" fill="#b4d737"/>
<circle cx="206.8" cy="163.5" r="1.55" fill="#1e55cd"/>
<circle cx="211.3" cy="155.6" r="1.55" fill="#1e55cd"/>
<circle cx="99.1" cy="66.2" r="1.55" fill="#23b9e8"/>
<circle cx="160.1" cy="82.6" r="1.55" fill="#eee419"/>
<circle cx="224.5" cy="95.0" r="1.55" fill="#b4d737"/>
<circle cx="92.3" cy="118.5" r="1.55" fill="#eee419"/>
<circle cx="166.8" cy="117.6" r="1.55" fill="#e41e1e"/>
<circle cx="226.4" cy="133.5" r="1.55" fill="#b4d737"/>
<circle cx="100.8" cy="63.6" r="1.55" fill="#23b9e8"/>
<circle cx="229.9" cy="141.1" r="1.55" fill="#2332a0"/>
<circle cx="232.0" cy="182.4" r="1.55" fill="#1e55cd"/>
<circle cx="237.2" cy="151.0" r="1.55" fill="#46c6b4"/>
<circle cx="73.7" cy="103.0" r="1.55" fill="#e41e1e"/>
<circle cx="214.9" cy="145.1" r="1.55" fill="#7dcd73"/>
<circle cx="203.1" cy="74.0" r="1.55" fill="#1e55cd"/>
<circle cx="184.1" cy="198.4" r="1.55" fill="#b4d737"/>
<circle cx="169.2" cy="106.0" r="1.55" fill="#eee419"/>
<circle cx="107.0" cy="168.1" r="1.55" fill="#1e55cd"/>
<circle cx="125.1" cy="80.4" r="1.55" fill="#23b9e8"/>
<circle cx="211.5" cy="95.6" r="1.55" fill="#7dcd73"/>
<circle cx="162.2" cy="105.2" r="1.55" fill="#7dcd73"/>
<circle cx="203.7" cy="115.7" r="1.55" fill="#7dcd73"/>
<circle cx="196.0" cy="91.9" r="1.55" fill="#b4d737"/>
<circle cx="222.6" cy="132.8" r="1.55" fill="#7dcd73"/>
<circle cx="172.7" cy="58.5" r="1.55" fill="#23b9e8"/>
<circle cx="175.1" cy="131.6" r="1.55" fill="#e41e1e"/>
<circle cx="161.0" cy="161.9" r="1.55" fill="#eee419"/>
<circle cx="206.1" cy="91.4" r="1.55" fill="#23b9e8"/>
<circle cx="224.0" cy="135.0" r="1.55" fill="#1e55cd"/>
<circle cx="224.7" cy="145.4" r="1.55" fill="#23b9e8"/>
<circle cx="164.8" cy="194.7" r="1.55" fill="#eee419"/>
<circle cx="188.7" cy="150.6" r="1.55" fill="#2332a0"/>
<circle cx="175.3" cy="90.6" r="1.55" fill="#f57d19"/>
<circle cx="197.7" cy="129.9" r="1.55" fill="#1e55cd"/>
<circle cx="166.5" cy="83.4" r="1.55" fill="#eee419"/>
<circle cx="215.3" cy="134.1" r="1.55" fill="#1e55cd"/>
<circle cx="121.6" cy="181.1" r="1.55" fill="#e41e1e"/>
<circle cx="219.1" cy="195.2" r="1.55" fill="#7dcd73"/>
<circle cx="225.8" cy="158.4" r="1.55" fill="#23b9e8"/>
<circle cx="171.3" cy="207.1" r="1.55" fill="#f57d19"/>
<circle cx="178.1" cy="93.2" r="1.55" fill="#b4d737"/>
<circle cx="170.0" cy="63.8" r="1.55" fill="#46c6b4"/>
<circle cx="230.5" cy="128.2" r="1.55" fill="#e41e1e"/>
<circle cx="199.0" cy="121.6" r="1.55" fill="#2332a0"/>
<circle cx="203.9" cy="125.0" r="1.55" fill="#23b9e8"/>
<circle cx="164.6" cy="135.2" r="1.55" fill="#1e55cd"/>
<circle cx="156.0" cy="150.0" r="1.5" fill="#e41e1e"/>
<circle cx="91.9" cy="118.0" r="1.55" fill="#e41e1e"/>
<circle cx="124.5" cy="190.6" r="1.55" fill="#f57d19"/>
<circle cx="190.4" cy="79.4" r="1.55" fill="#7dcd73"/>
<circle cx="160.8" cy="121.9" r="1.55" fill="#e41e1e"/>
<circle cx="232.7" cy="180.2" r="1.55" fill="#7dcd73"/>
<circle cx="183.2" cy="197.6" r="1.55" fill="#b4d737"/>
<circle cx="201.2" cy="174.3" r="1.55" fill="#2332a0"/>
<circle cx="133.3" cy="179.7" r="1.55" fill="#1e55cd"/>
<circle cx="189.5" cy="139.8" r="1.55" fill="#23b9e8"/>
<circle cx="197.8" cy="109.7" r="1.55" fill="#23b9e8"/>
<circle cx="214.3" cy="118.5" r="1.55" fill="#b4d737"/>
<circle cx="161.4" cy="193.5" r="1.55" fill="#eee419"/>
<circle cx="209.3" cy="108.9" r="1.55" fill="#7dcd73"/>
<circle cx="193.7" cy="159.0" r="1.55" fill="#46c6b4"/>
<circle cx="84.0" cy="128.6" r="1.55" fill="#e41e1e"/>
<circle cx="165.8" cy="152.8" r="1.55" fill="#b4d737"/>
<circle cx="196.9" cy="102.7" r="1.55" fill="#eee419"/>
<circle cx="201.4" cy="164.9" r="1.55" fill="#23b9e8"/>
<circle cx="189.0" cy="79.2" r="1.55" fill="#2332a0"/>
<circle cx="179.2" cy="95.1" r="1.55" fill="#eee419"/>
<circle cx="220.6" cy="112.0" r="1.55" fill="#2332a0"/>
<circle cx="177.7" cy="57.0" r="1.55" fill="#46c6b4"/>
<circle cx="179.6" cy="119.5" r="1.55" fill="#7dcd73"/>
<circle cx="200.4" cy="187.8" r="1.55" fill="#7dcd73"/>
<circle cx="96.3" cy="111.2" r="1.55" fill="#e41e1e"/>
<circle cx="87.2" cy="77.5" r="1.55" fill="#46c6b4"/>
<circle cx="181.1" cy="167.3" r="1.55" fill="#46c6b4"/>
<circle cx="113.2" cy="162.8" r="1.55" fill="#e41e1e"/>
<circle cx="211.8" cy="147.1" r="1.55" fill="#7dcd73"/>
<circle cx="116.7" cy="180.1" r="1.55" fill="#e41e1e"/>
<circle cx="211.6" cy="129.5" r="1.55" fill="#23b9e8"/>
<circle cx="182.0" cy="117.8" r="1.55" fill="#2332a0"/>
<circle cx="177.5" cy="123.9" r="1.55" fill="#eee419"/>
<circle cx="216.0" cy="119.1" r="1.55" fill="#e41e1e"/>
<circle cx="190.5" cy="93.8" r="1.55" fill="#46c6b4"/>
<circle cx="230.0" cy="158.1" r="1.55" fill="#46c6b4"/>
<circle cx="192.8" cy="107.1" r="1.55" fill="#46c6b4"/>
<circle cx="201.1" cy="167.9" r="1.55" fill="#23b9e8"/>
<circle cx="165.9" cy="201.2" r="1.55" fill="#eee419"/>
<circle cx="189.1" cy="122.9" r="1.55" fill="#7dcd73"/>
<circle cx="186.6" cy="80.5" r="1.55" fill="#b4d737"/>
<circle cx="195.9" cy="182.9" r="1.55" fill="#1e55cd"/>
<circle cx="219.3" cy="153.0" r="1.55" fill="#7dcd73"/>
<circle cx="93.0" cy="64.2" r="1.55" fill="#1e55cd"/>
<circle cx="188.7" cy="160.4" r="1.55" fill="#23b9e8"/>
<circle cx="229.2" cy="181.5" r="1.55" fill="#46c6b4"/>
<circle cx="167.2" cy="181.4" r="1.55" fill="#eee419"/>
<circle cx="207.1" cy="89.6" r="1.55" fill="#b4d737"/>
<circle cx="232.8" cy="151.3" r="1.55" fill="#7dcd73"/>
<circle cx="157.4" cy="66.3" r="1.55" fill="#1e55cd"/>
<circle cx="177.4" cy="80.7" r="1.55" fill="#7dcd73"/>
<circle cx="202.6" cy="74.3" r="1.55" fill="#b4d737"/>
<circle cx="166.9" cy="88.7" r="1.55" fill="#b4d737"/>
<circle cx="156.4" cy="104.7" r="1.55" fill="#eee419"/>
<circle cx="190.2" cy="98.9" r="1.55" fill="#1e55cd"/>
<circle cx="218.7" cy="184.1" r="1.55" fill="#23b9e8"/>
<circle cx="224.4" cy="186.4" r="1.55" fill="#46c6b4"/>
<circle cx="204.5" cy="91.6" r="1.55" fill="#2332a0"/>
<circle cx="200.9" cy="97.3" r="1.55" fill="#b4d737"/>
<circle cx="153.5" cy="79.5" r="1.55" fill="#b4d737"/>
<circle cx="179.8" cy="102.2" r="1.55" fill="#7dcd73"/>
<circle cx="206.8" cy="149.5" r="1.55" fill="#23b9e8"/>
<circle cx="217.1" cy="147.0" r="1.55" fill="#2332a0"/>
<circle cx="125.5" cy="86.8" r="1.55" fill="#e41e1e"/>
<circle cx="182.7" cy="157.3" r="1.55" fill="#46c6b4"/>
<circle cx="180.7" cy="136.8" r="1.55" fill="#e41e1e"/>
<circle cx="189.4" cy="151.5" r="1.55" fill="#46c6b4"/>
<circle cx="159.0" cy="178.9" r="1.55" fill="#1e55cd"/>
<circle cx="173.8" cy="191.9" r="1.55" fill="#b4d737"/>
<circle cx="96.1" cy="100.0" r="1.55" fill="#e41e1e"/>
<circle cx="215.1" cy="197.9" r="1.55" fill="#2332a0"/>
<circle cx="174.5" cy="195.6" r="1.55" fill="#b4d737"/>
<circle cx="162.1" cy="184.6" r="1.55" fill="#eee419"/>
<circle cx="186.8" cy="172.0" r="1.55" fill="#7dcd73"/>
<circle cx="198.8" cy="154.2" r="1.55" fill="#e41e1e"/>
<circle cx="199.1" cy="92.5" r="1.55" fill="#46c6b4"/>
<circle cx="196.2" cy="118.9" r="1.55" fill="#7dcd73"/>
<circle cx="171.2" cy="128.5" r="1.55" fill="#1e55cd"/>
<circle cx="202.6" cy="194.9" r="1.55" fill="#23b9e8"/>
<circle cx="91.6" cy="79.8" r="1.55" fill="#46c6b4"/>
<circle cx="182.6" cy="139.5" r="1.55" fill="#b4d737"/>
<circle cx="97.8" cy="156.9" r="1.55" fill="#1e55cd"/>
<circle cx="208.6" cy="181.4" r="1.55" fill="#b4d737"/>
<circle cx="86.4" cy="116.9" r="1.55" fill="#7dcd73"/>
<circle cx="224.3" cy="125.9" r="1.55" fill="#e41e1e"/>
<circle cx="233.4" cy="129.8" r="1.55" fill="#b4d737"/>
<circle cx="213.2" cy="119.6" r="1.55" fill="#b4d737"/>
<circle cx="83.2" cy="117.2" r="1.55" fill="#23b9e8"/>
<circle cx="207.6" cy="185.4" r="1.55" fill="#7dcd73"/>
<circle cx="198.9" cy="175.4" r="1.55" fill="#7dcd73"/>
<circle cx="225.9" cy="129.9" r="1.55" fill="#7dcd73"/>
<circle cx="162.7" cy="131.8" r="1.55" fill="#e41e1e"/>
<circle cx="102.8" cy="157.2" r="1.55" fill="#1e55cd"/>
<circle cx="186.7" cy="85.5" r="1.55" fill="#2332a0"/>
<circle cx="126.2" cy="185.6" r="1.55" fill="#2332a0"/>
<circle cx="121.2" cy="194.1" r="1.55" fill="#e41e1e"/>
<circle cx="191.5" cy="93.3" r="1.55" fill="#23b9e8"/>
<circle cx="122.8" cy="191.5" r="1.55" fill="#f57d19"/>
<circle cx="165.1" cy="60.8" r="1.55" fill="#46c6b4"/>
<circle cx="95.6" cy="106.1" r="1.55" fill="#eee419"/>
<circle cx="183.5" cy="112.4" r="1.55" fill="#b4d737"/>
<circle cx="200.5" cy="68.9" r="1.55" fill="#23b9e8"/>
<circle cx="157.4" cy="128.3" r="1.55" fill="#2332a0"/>
<circle cx="157.7" cy="126.9" r="1.55" fill="#eee419"/>
<circle cx="213.8" cy="176.5" r="1.55" fill="#2332a0"/>
<circle cx="167.6" cy="66.1" r="1.55" fill="#46c6b4"/>
<circle cx="172.6" cy="94.9" r="1.55" fill="#b4d737"/>
<circle cx="92.7" cy="113.4" r="1.55" fill="#23b9e8"/>
<circle cx="192.3" cy="198.0" r="1.55" fill="#46c6b4"/>
<circle cx="167.1" cy="180.9" r="1.55" fill="#2332a0"/>
<circle cx="103.9" cy="177.7" r="1.55" fill="#eee419"/>
<circle cx="85.3" cy="79.1" r="1.55" fill="#eee419"/>
<circle cx="220.4" cy="101.3" r="1.55" fill="#2332a0"/>
<circle cx="170.2" cy="59.6" r="1.55" fill="#23b9e8"/>
<circle cx="130.4" cy="172.1" r="1.55" fill="#1e55cd"/>
<circle cx="195.3" cy="115.2" r="1.55" fill="#b4d737"/>
<circle cx="230.4" cy="161.3" r="1.55" fill="#2332a0"/>
<circle cx="151.1" cy="155.1" r="1.55" fill="#e41e1e"/>
<circle cx="222.3" cy="137.9" r="1.55" fill="#1e55cd"/>
<circle cx="204.3" cy="153.1" r="1.55" fill="#2332a0"/>
<circle cx="184.2" cy="173.8" r="1.55" fill="#23b9e8"/>
<circle cx="235.2" cy="134.8" r="1.55" fill="#b4d737"/>
<circle cx="146.9" cy="68.0" r="1.55" fill="#eee419"/>
<circle cx="95.1" cy="70.5" r="1.55" fill="#46c6b4"/>
<circle cx="179.8" cy="99.3" r="1.55" fill="#e41e1e"/>
<circle cx="168.5" cy="62.4" r="1.55" fill="#23b9e8"/>
<circle cx="129.7" cy="180.0" r="1.55" fill="#eee419"/>
<circle cx="191.0" cy="195.5" r="1.55" fill="#2332a0"/>
<circle cx="209.9" cy="185.5" r="1.55" fill="#1e55cd"/>
<circle cx="86.0" cy="131.9" r="1.55" fill="#1e55cd"/>
<circle cx="124.8" cy="176.0" r="1.55" fill="#1e55cd"/>
<circle cx="85.1" cy="119.0" r="1.55" fill="#eee419"/>
<circle cx="208.1" cy="117.8" r="1.55" fill="#1e55cd"/>
<circle cx="208.2" cy="178.7" r="1.55" fill="#7dcd73"/>
<circle cx="216.3" cy="181.5" r="1.55" fill="#2332a0"/>
<circle cx="184.9" cy="102.0" r="1.55" fill="#eee419"/>
<circle cx="210.2" cy="188.1" r="1.55" fill="#eee419"/>
<circle cx="168.2" cy="63.8" r="1.55" fill="#1e55cd"/>
<circle cx="76.6" cy="86.5" r="1.55" fill="#b4d737"/>
<circle cx="219.5" cy="117.0" r="1.55" fill="#1e55cd"/>
<circle cx="179.3" cy="63.3" r="1.55" fill="#1e55cd"/>
<circle cx="110.1" cy="175.4" r="1.55" fill="#2332a0"/>
<circle cx="176.3" cy="90.6" r="1.55" fill="#eee419"/>
<circle cx="124.8" cy="188.6" r="1.55" fill="#e41e1e"/>
<circle cx="204.9" cy="100.5" r="1.55" fill="#eee419"/>
<circle cx="193.5" cy="115.7" r="1.55" fill="#e41e1e"/>
<circle cx="101.6" cy="182.5" r="1.55" fill="#eee419"/>
<circle cx="223.4" cy="99.8" r="1.55" fill="#b4d737"/>
<circle cx="194.6" cy="134.9" r="1.55" fill="#eee419"/>
<circle cx="190.5" cy="98.5" r="1.55" fill="#46c6b4"/>
<circle cx="152.9" cy="82.2" r="1.55" fill="#b4d737"/>
<circle cx="76.4" cy="90.2" r="1.55" fill="#23b9e8"/>
<circle cx="201.7" cy="85.0" r="1.55" fill="#23b9e8"/>
<circle cx="198.9" cy="68.4" r="1.55" fill="#2332a0"/>
<circle cx="123.6" cy="78.8" r="1.55" fill="#7dcd73"/>
<circle cx="161.7" cy="92.3" r="1.55" fill="#b4d737"/>
<circle cx="188.0" cy="72.6" r="1.55" fill="#23b9e8"/>
<circle cx="189.1" cy="176.4" r="1.55" fill="#2332a0"/>
<circle cx="163.5" cy="95.8" r="1.55" fill="#eee419"/>
<circle cx="77.8" cy="105.7" r="1.55" fill="#e41e1e"/>
<circle cx="223.2" cy="117.9" r="1.55" fill="#7dcd73"/>
<circle cx="166.2" cy="94.3" r="1.55" fill="#eee419"/>
<circle cx="159.3" cy="108.6" r="1.55" fill="#e41e1e"/>
<circle cx="163.7" cy="120.4" r="1.55" fill="#1e55cd"/>
<circle cx="178.4" cy="120.7" r="1.55" fill="#1e55cd"/>
<circle cx="195.2" cy="68.7" r="1.55" fill="#23b9e8"/>
<circle cx="163.8" cy="97.9" r="1.55" fill="#eee419"/>
<circle cx="238.4" cy="130.5" r="1.55" fill="#23b9e8"/>
<circle cx="150.2" cy="65.5" r="1.55" fill="#7dcd73"/>
<circle cx="166.7" cy="198.3" r="1.55" fill="#1e55cd"/>
<circle cx="91.1" cy="111.1" r="1.55" fill="#eee419"/>
<circle cx="180.0" cy="192.4" r="1.55" fill="#7dcd73"/>
<circle cx="178.3" cy="91.9" r="1.55" fill="#eee419"/>
<circle cx="117.7" cy="77.9" r="1.55" fill="#1e55cd"/>
<circle cx="191.8" cy="67.1" r="1.55" fill="#7dcd73"/>
<circle cx="83.7" cy="99.2" r="1.55" fill="#e41e1e"/>
<circle cx="183.1" cy="117.3" r="1.55" fill="#2332a0"/>
<circle cx="164.6" cy="202.2" r="1.55" fill="#eee419"/>
<circle cx="219.5" cy="145.1" r="1.55" fill="#23b9e8"/>
<circle cx="150.8" cy="168.0" r="1.55" fill="#eee419"/>
<circle cx="190.8" cy="132.3" r="1.55" fill="#e41e1e"/>
<circle cx="205.9" cy="159.8" r="1.55" fill="#23b9e8"/>
<circle cx="217.6" cy="181.6" r="1.55" fill="#7dcd73"/>
<circle cx="210.6" cy="189.7" r="1.55" fill="#1e55cd"/>
<circle cx="176.2" cy="59.2" r="1.55" fill="#23b9e8"/>
<circle cx="231.2" cy="161.8" r="1.55" fill="#46c6b4"/>
<circle cx="220.6" cy="151.6" r="1.55" fill="#1e55cd"/>
<circle cx="171.3" cy="127.2" r="1.55" fill="#7dcd73"/>
<circle cx="80.9" cy="119.6" r="1.55" fill="#23b9e8"/>
<circle cx="171.4" cy="73.5" r="1.55" fill="#7dcd73"/>
<circle cx="214.4" cy="95.7" r="1.55" fill="#7dcd73"/>
<circle cx="157.5" cy="198.8" r="1.55" fill="#b4d737"/>
<circle cx="173.0" cy="95.4" r="1.55" fill="#b4d737"/>
<circle cx="128.0" cy="171.4" r="1.55" fill="#eee419"/>
<circle cx="237.8" cy="165.1" r="1.55" fill="#23b9e8"/>
<circle cx="167.9" cy="100.8" r="1.55" fill="#b4d737"/>
<circle cx="220.4" cy="191.8" r="1.55" fill="#eee419"/>
<circle cx="203.1" cy="132.9" r="1.55" fill="#eee419"/>
<circle cx="165.6" cy="127.0" r="1.55" fill="#2332a0"/>
<circle cx="172.2" cy="98.0" r="1.55" fill="#eee419"/>
<circle cx="137.9" cy="67.6" r="1.55" fill="#b4d737"/>
<circle cx="194.0" cy="65.7" r="1.55" fill="#46c6b4"/>
<circle cx="101.6" cy="173.4" r="1.55" fill="#23b9e8"/>
<circle cx="130.9" cy="187.6" r="1.55" fill="#eee419"/>
<circle cx="130.3" cy="184.9" r="1.55" fill="#e41e1e"/>
<circle cx="159.0" cy="195.6" r="1.55" fill="#7dcd73"/>
<circle cx="183.2" cy="171.8" r="1.55" fill="#2332a0"/>
<circle cx="172.6" cy="180.0" r="1.55" fill="#1e55cd"/>
<circle cx="213.5" cy="91.3" r="1.55" fill="#7dcd73"/>
<circle cx="90.6" cy="67.8" r="1.55" fill="#7dcd73"/>
<circle cx="119.5" cy="187.4" r="1.55" fill="#e41e1e"/>
<circle cx="200.5" cy="118.8" r="1.55" fill="#7dcd73"/>
<circle cx="184.8" cy="166.9" r="1.55" fill="#b4d737"/>
<circle cx="205.1" cy="178.1" r="1.55" fill="#23b9e8"/>
<circle cx="175.8" cy="174.6" r="1.55" fill="#7dcd73"/>
<circle cx="187.5" cy="92.3" r="1.55" fill="#46c6b4"/>
<circle cx="190.6" cy="75.9" r="1.55" fill="#1e55cd"/>
<circle cx="79.7" cy="104.6" r="1.55" fill="#23b9e8"/>
<circle cx="225.8" cy="187.1" r="1.55" fill="#7dcd73"/>
<circle cx="186.0" cy="90.7" r="1.55" fill="#b4d737"/>
<circle cx="222.3" cy="159.8" r="1.55" fill="#b4d737"/>
<circle cx="121.1" cy="175.6" r="1.55" fill="#eee419"/>
<circle cx="209.9" cy="195.8" r="1.55" fill="#1e55cd"/>
<circle cx="196.8" cy="111.9" r="1.55" fill="#7dcd73"/>
<circle cx="209.8" cy="190.9" r="1.55" fill="#23b9e8"/>
<circle cx="216.2" cy="129.7" r="1.55" fill="#2332a0"/>
<circle cx="173.8" cy="56.2" r="1.55" fill="#1e55cd"/>
<circle cx="165.9" cy="171.1" r="1.55" fill="#1e55cd"/>
<circle cx="225.7" cy="132.0" r="1.55" fill="#e41e1e"/>
<circle cx="165.3" cy="147.0" r="1.55" fill="#eee419"/>
<circle cx="164.4" cy="65.4" r="1.55" fill="#7dcd73"/>
<circle cx="171.7" cy="99.3" r="1.55" fill="#eee419"/>
<circle cx="94.3" cy="73.9" r="1.55" fill="#23b9e8"/>
<circle cx="195.5" cy="67.6" r="1.55" fill="#2332a0"/>
<circle cx="81.8" cy="104.0" r="1.55" fill="#1e55cd"/>
<circle cx="210.6" cy="152.0" r="1.55" fill="#2332a0"/>
<circle cx="95.9" cy="70.9" r="1.55" fill="#1e55cd"/>
<circle cx="96.4" cy="97.4" r="1.55" fill="#23b9e8"/>
<circle cx="87.7" cy="132.1" r="1.55" fill="#eee419"/>
<circle cx="204.4" cy="122.9" r="1.55" fill="#eee419"/>
<circle cx="175.9" cy="95.2" r="1.55" fill="#eee419"/>
<circle cx="233.2" cy="147.1" r="1.55" fill="#46c6b4"/>
<circle cx="183.7" cy="187.9" r="1.55" fill="#46c6b4"/>
<circle cx="220.2" cy="177.6" r="1.55" fill="#46c6b4"/>
<circle cx="138.0" cy="180.0" r="1.5" fill="#e41e1e"/>
<circle cx="182.3" cy="154.1" r="1.55" fill="#7dcd73"/>
<circle cx="181.5" cy="162.9" r="1.55" fill="#b4d737"/>
<circle cx="175.3" cy="139.8" r="1.55" fill="#1e55cd"/>
<circle cx="156.9" cy="153.9" r="1.55" fill="#eee419"/>
<circle cx="187.8" cy="98.7" r="1.55" fill="#7dcd73"/>
<circle cx="207.3" cy="111.0" r="1.55" fill="#7dcd73"/>
<circle cx="181.7" cy="92.5" r="1.55" fill="#23b9e8"/>
<circle cx="168.2" cy="193.7" r="1.55" fill="#eee419"/>
<circle cx="101.9" cy="169.4" r="1.55" fill="#23b9e8"/>
<circle cx="183.8" cy="84.5" r="1.55" fill="#7dcd73"/>
<circle cx="210.3" cy="180.4" r="1.55" fill="#2332a0"/>
<circle cx="176.5" cy="203.9" r="1.55" fill="#46c6b4"/>
<circle cx="214.3" cy="197.5" r="1.55" fill="#2332a0"/>
<circle cx="155.7" cy="79.1" r="1.55" fill="#eee419"/>
<circle cx="223.2" cy="186.4" r="1.55" fill="#7dcd73"/>
<circle cx="195.2" cy="141.5" r="1.55" fill="#b4d737"/>
<circle cx="85.8" cy="101.4" r="1.55" fill="#e41e1e"/>
<circle cx="160.3" cy="190.0" r="1.55" fill="#e41e1e"/>
<circle cx="218.9" cy="150.5" r="1.55" fill="#b4d737"/>
<circle cx="142.0" cy="115.0" r="1.5" fill="#e41e1e"/>
<circle cx="236.1" cy="161.0" r="1.55" fill="#46c6b4"/>
<circle cx="175.0" cy="105.1" r="1.55" fill="#7dcd73"/>
<circle cx="214.4" cy="110.7" r="1.55" fill="#23b9e8"/>
<circle cx="216.6" cy="149.6" r="1.55" fill="#2332a0"/>
<circle cx="178.4" cy="104.3" r="1.55" fill="#e41e1e"/>
<circle cx="196.8" cy="134.0" r="1.55" fill="#7dcd73"/>
<circle cx="191.6" cy="184.3" r="1.55" fill="#2332a0"/>
<circle cx="185.2" cy="192.2" r="1.55" fill="#7dcd73"/>
<circle cx="146.1" cy="63.4" r="1.55" fill="#eee419"/>
<circle cx="144.0" cy="62.5" r="1.55" fill="#eee419"/>
<circle cx="201.7" cy="71.4" r="1.55" fill="#b4d737"/>
<circle cx="106.0" cy="71.3" r="1.55" fill="#b4d737"/>
<circle cx="182.0" cy="195.4" r="1.55" fill="#b4d737"/>
<circle cx="180.4" cy="79.6" r="1.55" fill="#46c6b4"/>
<circle cx="199.8" cy="152.8" r="1.55" fill="#b4d737"/>
<circle cx="178.9" cy="187.4" r="1.55" fill="#eee419"/>
<circle cx="94.4" cy="63.4" r="1.55" fill="#b4d737"/>
<circle cx="80.1" cy="93.8" r="1.55" fill="#23b9e8"/>
<circle cx="80.1" cy="114.3" r="1.55" fill="#23b9e8"/>
<circle cx="213.1" cy="140.4" r="1.55" fill="#46c6b4"/>
<circle cx="200.2" cy="176.7" r="1.55" fill="#23b9e8"/>
<circle cx="170.3" cy="67.6" r="1.55" fill="#eee419"/>
<circle cx="208.0" cy="122.5" r="1.55" fill="#eee419"/>
<circle cx="168.2" cy="188.7" r="1.55" fill="#b4d737"/>
<circle cx="205.7" cy="171.7" r="1.55" fill="#7dcd73"/>
<circle cx="224.1" cy="96.0" r="1.55" fill="#2332a0"/>
<circle cx="181.1" cy="96.4" r="1.55" fill="#eee419"/>
<circle cx="220.6" cy="133.9" r="1.55" fill="#1e55cd"/>
<circle cx="121.8" cy="174.0" r="1.55" fill="#eee419"/>
<circle cx="180.5" cy="171.0" r="1.55" fill="#2332a0"/>
<circle cx="138.0" cy="64.6" r="1.55" fill="#b4d737"/>
<circle cx="185.4" cy="70.9" r="1.55" fill="#23b9e8"/>
<circle cx="165.0" cy="204.3" r="1.55" fill="#7dcd73"/>
<circle cx="192.7" cy="92.5" r="1.55" fill="#b4d737"/>
<circle cx="172.1" cy="96.5" r="1.55" fill="#eee419"/>
<circle cx="202.7" cy="147.5" r="1.55" fill="#eee419"/>
<circle cx="216.5" cy="125.1" r="1.55" fill="#2332a0"/>
<circle cx="205.5" cy="181.7" r="1.55" fill="#7dcd73"/>
<circle cx="100.1" cy="70.8" r="1.55" fill="#eee419"/>
<circle cx="110.2" cy="158.2" r="1.55" fill="#e41e1e"/>
<circle cx="206.0" cy="102.9" r="1.55" fill="#7dcd73"/>
<circle cx="200.9" cy="93.0" r="1.55" fill="#23b9e8"/>
<circle cx="219.4" cy="197.2" r="1.55" fill="#1e55cd"/>
<circle cx="188.5" cy="197.9" r="1.55" fill="#46c6b4"/>
<circle cx="167.0" cy="62.2" r="1.55" fill="#46c6b4"/>
<circle cx="77.7" cy="116.9" r="1.55" fill="#1e55cd"/>
<circle cx="181.1" cy="110.2" r="1.55" fill="#1e55cd"/>
<circle cx="203.8" cy="70.5" r="1.55" fill="#2332a0"/>
<circle cx="149.4" cy="64.7" r="1.55" fill="#b4d737"/>
<circle cx="211.7" cy="187.1" r="1.55" fill="#2332a0"/>
<circle cx="196.5" cy="109.5" r="1.55" fill="#b4d737"/>
<circle cx="232.9" cy="148.8" r="1.55" fill="#46c6b4"/>
<circle cx="157.4" cy="165.0" r="1.55" fill="#b4d737"/>
<circle cx="93.9" cy="60.8" r="1.55" fill="#23b9e8"/>
<circle cx="190.0" cy="156.7" r="1.55" fill="#7dcd73"/>
<circle cx="173.0" cy="182.5" r="1.55" fill="#eee419"/>
<circle cx="219.4" cy="151.5" r="1.55" fill="#46c6b4"/>
<circle cx="164.9" cy="136.2" r="1.55" fill="#2332a0"/>
<circle cx="216.4" cy="147.2" r="1.55" fill="#46c6b4"/>
<circle cx="157.4" cy="82.3" r="1.55" fill="#eee419"/>
<circle cx="107.3" cy="177.0" r="1.55" fill="#1e55cd"/>
<circle cx="101.4" cy="67.8" r="1.55" fill="#46c6b4"/>
<circle cx="83.0" cy="91.5" r="1.55" fill="#e41e1e"/>
<circle cx="123.3" cy="79.4" r="1.55" fill="#eee419"/>
<circle cx="73.1" cy="117.1" r="1.55" fill="#e41e1e"/>
<circle cx="208.6" cy="116.1" r="1.55" fill="#23b9e8"/>
<circle cx="188.6" cy="185.0" r="1.55" fill="#f57d19"/>
<circle cx="190.7" cy="148.8" r="1.55" fill="#1e55cd"/>
<circle cx="147.0" cy="135.0" r="1.5" fill="#e41e1e"/>
<circle cx="173.2" cy="139.8" r="1.55" fill="#1e55cd"/>
<circle cx="114.4" cy="70.2" r="1.55" fill="#eee419"/>
<circle cx="184.1" cy="152.6" r="1.55" fill="#f57d19"/>
<circle cx="198.2" cy="70.9" r="1.55" fill="#7dcd73"/>
<circle cx="167.5" cy="190.3" r="1.55" fill="#7dcd73"/>
<circle cx="217.7" cy="189.0" r="1.55" fill="#eee419"/>
<circle cx="163.9" cy="118.9" r="1.55" fill="#7dcd73"/>
<circle cx="218.6" cy="183.3" r="1.55" fill="#eee419"/>
<circle cx="96.6" cy="164.3" r="1.55" fill="#1e55cd"/>
<circle cx="238.2" cy="133.8" r="1.55" fill="#1e55cd"/>
<circle cx="212.4" cy="130.3" r="1.55" fill="#7dcd73"/>
<circle cx="189.2" cy="85.5" r="1.55" fill="#46c6b4"/>
<circle cx="182.4" cy="77.2" r="1.55" fill="#46c6b4"/>
<circle cx="232.6" cy="181.0" r="1.55" fill="#23b9e8"/>
<circle cx="226.5" cy="129.3" r="1.55" fill="#b4d737"/>
<circle cx="181.3" cy="85.8" r="1.55" fill="#46c6b4"/>
<circle cx="168.2" cy="128.1" r="1.55" fill="#e41e1e"/>
<circle cx="95.5" cy="121.0" r="1.55" fill="#23b9e8"/>
<circle cx="121.7" cy="190.8" r="1.55" fill="#e41e1e"/>
<circle cx="87.9" cy="99.9" r="1.55" fill="#1e55cd"/>
<circle cx="180.3" cy="110.1" r="1.55" fill="#eee419"/>
<circle cx="229.9" cy="183.8" r="1.55" fill="#7dcd73"/>
<circle cx="82.2" cy="112.2" r="1.55" fill="#eee419"/>
<circle cx="180.6" cy="113.4" r="1.55" fill="#1e55cd"/>
<circle cx="170.2" cy="87.4" r="1.55" fill="#b4d737"/>
<circle cx="95.0" cy="108.9" r="1.55" fill="#e41e1e"/>
<circle cx="163.8" cy="96.5" r="1.55" fill="#7dcd73"/>
<circle cx="194.8" cy="142.9" r="1.55" fill="#46c6b4"/>
<circle cx="198.0" cy="155.0" r="1.55" fill="#1e55cd"/>
<circle cx="203.2" cy="79.5" r="1.55" fill="#b4d737"/>
<circle cx="158.5" cy="104.1" r="1.55" fill="#eee419"/>
<circle cx="185.6" cy="161.5" r="1.55" fill="#23b9e8"/>
<circle cx="190.4" cy="182.7" r="1.55" fill="#1e55cd"/>
<circle cx="231.4" cy="127.1" r="1.55" fill="#23b9e8"/>
<circle cx="187.2" cy="114.2" r="1.55" fill="#7dcd73"/>
<circle cx="174.9" cy="70.1" r="1.55" fill="#eee419"/>
<circle cx="220.1" cy="178.9" r="1.55" fill="#23b9e8"/>
<circle cx="219.4" cy="133.7" r="1.55" fill="#1e55cd"/>
<circle cx="100.5" cy="177.4" r="1.55" fill="#2332a0"/>
<circle cx="207.5" cy="129.8" r="1.55" fill="#b4d737"/>
<circle cx="153.4" cy="64.4" r="1.55" fill="#7dcd73"/>
<circle cx="208.0" cy="162.8" r="1.55" fill="#2332a0"/>
<circle cx="167.0" cy="78.2" r="1.55" fill="#eee419"/>
<circle cx="238.6" cy="131.3" r="1.55" fill="#b4d737"/>
<circle cx="162.6" cy="104.3" r="1.55" fill="#7dcd73"/>
<circle cx="198.3" cy="66.9" r="1.55" fill="#7dcd73"/>
<circle cx="191.0" cy="133.4" r="1.55" fill="#eee419"/>
<circle cx="206.7" cy="105.6" r="1.55" fill="#b4d737"/>
<circle cx="76.8" cy="120.2" r="1.55" fill="#1e55cd"/>
<circle cx="95.0" cy="101.0" r="1.55" fill="#eee419"/>
<circle cx="181.9" cy="73.8" r="1.55" fill="#23b9e8"/>
<circle cx="190.3" cy="152.5" r="1.55" fill="#23b9e8"/>
<circle cx="122.8" cy="194.1" r="1.55" fill="#e41e1e"/>
<circle cx="159.1" cy="137.2" r="1.55" fill="#7dcd73"/>
<circle cx="207.0" cy="128.6" r="1.55" fill="#1e55cd"/>
<circle cx="74.5" cy="115.9" r="1.55" fill="#e41e1e"/>
<circle cx="168.8" cy="129.2" r="1.55" fill="#e41e1e"/>
<circle cx="160.7" cy="87.6" r="1.55" fill="#e41e1e"/>
<circle cx="195.9" cy="192.8" r="1.55" fill="#23b9e8"/>
<circle cx="184.5" cy="86.9" r="1.55" fill="#2332a0"/>
<circle cx="212.0" cy="151.8" r="1.55" fill="#46c6b4"/>
<circle cx="217.1" cy="146.9" r="1.55" fill="#46c6b4"/>
<circle cx="217.1" cy="182.9" r="1.55" fill="#23b9e8"/>
<circle cx="165.6" cy="201.2" r="1.55" fill="#b4d737"/>
<circle cx="119.9" cy="81.5" r="1.55" fill="#f57d19"/>
<circle cx="203.6" cy="166.8" r="1.55" fill="#23b9e8"/>
<circle cx="160.8" cy="198.3" r="1.55" fill="#f57d19"/>
<circle cx="207.4" cy="173.3" r="1.55" fill="#2332a0"/>
<circle cx="107.9" cy="184.5" r="1.55" fill="#f57d19"/>
<circle cx="136.8" cy="62.5" r="1.55" fill="#b4d737"/>
<circle cx="79.0" cy="93.1" r="1.55" fill="#e41e1e"/>
<circle cx="192.8" cy="111.8" r="1.55" fill="#b4d737"/>
<circle cx="209.1" cy="162.5" r="1.55" fill="#46c6b4"/>
<circle cx="177.1" cy="124.5" r="1.55" fill="#b4d737"/>
<circle cx="213.6" cy="153.5" r="1.55" fill="#eee419"/>
<circle cx="227.6" cy="169.2" r="1.55" fill="#46c6b4"/>
<circle cx="121.5" cy="80.1" r="1.55" fill="#23b9e8"/>
<circle cx="228.7" cy="123.3" r="1.55" fill="#1e55cd"/>
<circle cx="216.9" cy="191.1" r="1.55" fill="#eee419"/>
<circle cx="80.0" cy="100.6" r="1.55" fill="#e41e1e"/>
<circle cx="209.9" cy="157.4" r="1.55" fill="#b4d737"/>
<circle cx="232.1" cy="146.9" r="1.55" fill="#46c6b4"/>
<circle cx="140.8" cy="64.3" r="1.55" fill="#b4d737"/>
<circle cx="174.2" cy="173.6" r="1.55" fill="#b4d737"/>
<circle cx="182.6" cy="73.8" r="1.55" fill="#7dcd73"/>
<circle cx="210.6" cy="177.7" r="1.55" fill="#7dcd73"/>
<circle cx="212.7" cy="193.0" r="1.55" fill="#23b9e8"/>
<circle cx="85.0" cy="103.4" r="1.55" fill="#2332a0"/>
<circle cx="83.2" cy="96.7" r="1.55" fill="#23b9e8"/>
<circle cx="191.7" cy="179.9" r="1.55" fill="#23b9e8"/>
<circle cx="169.0" cy="200.3" r="1.55" fill="#7dcd73"/>
<circle cx="203.1" cy="133.1" r="1.55" fill="#e41e1e"/>
<circle cx="184.6" cy="175.1" r="1.55" fill="#23b9e8"/>
<circle cx="118.1" cy="182.6" r="1.55" fill="#eee419"/>
<circle cx="229.3" cy="132.4" r="1.55" fill="#eee419"/>
<circle cx="191.1" cy="191.0" r="1.55" fill="#23b9e8"/>
<circle cx="185.6" cy="156.7" r="1.55" fill="#1e55cd"/>
<circle cx="86.9" cy="76.0" r="1.55" fill="#7dcd73"/>
<circle cx="200.7" cy="75.5" r="1.55" fill="#7dcd73"/>
<circle cx="226.4" cy="169.4" r="1.55" fill="#46c6b4"/>
<circle cx="121.0" cy="190.1" r="1.55" fill="#e41e1e"/>
<circle cx="209.8" cy="122.8" r="1.55" fill="#1e55cd"/>
<circle cx="112.1" cy="162.2" r="1.55" fill="#1e55cd"/>
<circle cx="218.7" cy="178.4" r="1.55" fill="#23b9e8"/>
<circle cx="160.6" cy="136.3" r="1.55" fill="#b4d737"/>
<circle cx="144.5" cy="66.0" r="1.55" fill="#eee419"/>
<circle cx="215.2" cy="84.6" r="1.55" fill="#7dcd73"/>
<circle cx="222.8" cy="123.0" r="1.55" fill="#b4d737"/>
<circle cx="119.1" cy="81.9" r="1.55" fill="#eee419"/>
<circle cx="82.8" cy="105.6" r="1.55" fill="#23b9e8"/>
<circle cx="83.8" cy="94.6" r="1.55" fill="#e41e1e"/>
<circle cx="194.7" cy="82.8" r="1.55" fill="#2332a0"/>
<circle cx="179.8" cy="172.1" r="1.55" fill="#1e55cd"/>
<circle cx="181.5" cy="75.8" r="1.55" fill="#1e55cd"/>
<circle cx="227.2" cy="122.0" r="1.55" fill="#7dcd73"/>
<circle cx="155.6" cy="153.4" r="1.55" fill="#eee419"/>
<circle cx="204.1" cy="67.0" r="1.55" fill="#46c6b4"/>
<circle cx="97.6" cy="110.3" r="1.55" fill="#1e55cd"/>
<circle cx="166.6" cy="199.6" r="1.55" fill="#7dcd73"/>
<circle cx="166.4" cy="177.0" r="1.55" fill="#eee419"/>
<circle cx="190.9" cy="72.2" r="1.55" fill="#23b9e8"/>
<circle cx="174.2" cy="122.4" r="1.55" fill="#2332a0"/>
<circle cx="95.4" cy="160.5" r="1.55" fill="#1e55cd"/>
<circle cx="190.6" cy="102.2" r="1.55" fill="#46c6b4"/>
<circle cx="223.3" cy="110.9" r="1.55" fill="#7dcd73"/>
<circle cx="161.9" cy="200.9" r="1.55" fill="#eee419"/>
<circle cx="89.1" cy="100.6" r="1.55" fill="#7dcd73"/>
<circle cx="171.0" cy="108.4" r="1.55" fill="#7dcd73"/>
<circle cx="236.9" cy="169.8" r="1.55" fill="#46c6b4"/>
<circle cx="211.7" cy="104.4" r="1.55" fill="#b4d737"/>
<circle cx="230.5" cy="149.1" r="1.55" fill="#46c6b4"/>
<circle cx="185.5" cy="153.1" r="1.55" fill="#46c6b4"/>
<circle cx="174.3" cy="92.8" r="1.55" fill="#7dcd73"/>
<circle cx="78.8" cy="98.3" r="1.55" fill="#eee419"/>
<circle cx="188.2" cy="195.7" r="1.55" fill="#23b9e8"/>
<circle cx="194.7" cy="97.9" r="1.55" fill="#b4d737"/>
<circle cx="167.6" cy="184.8" r="1.55" fill="#e41e1e"/>
<circle cx="84.4" cy="78.5" r="1.55" fill="#b4d737"/>
<circle cx="219.6" cy="149.2" r="1.55" fill="#2332a0"/>
<circle cx="92.8" cy="105.6" r="1.55" fill="#eee419"/>
<circle cx="106.9" cy="156.8" r="1.55" fill="#1e55cd"/>
<circle cx="190.0" cy="115.4" r="1.55" fill="#7dcd73"/>
<circle cx="179.5" cy="100.9" r="1.55" fill="#b4d737"/>
<circle cx="201.1" cy="95.7" r="1.55" fill="#46c6b4"/>
<circle cx="176.0" cy="173.3" r="1.55" fill="#7dcd73"/>
<circle cx="104.8" cy="179.9" r="1.55" fill="#23b9e8"/>
<circle cx="113.7" cy="166.0" r="1.55" fill="#1e55cd"/>
<circle cx="156.7" cy="61.7" r="1.55" fill="#eee419"/>
<circle cx="190.7" cy="124.0" r="1.55" fill="#46c6b4"/>
<circle cx="216.2" cy="152.7" r="1.55" fill="#46c6b4"/>
<circle cx="152.2" cy="69.7" r="1.55" fill="#1e55cd"/>
<circle cx="225.0" cy="169.5" r="1.55" fill="#7dcd73"/>
<circle cx="153.6" cy="59.6" r="1.55" fill="#b4d737"/>
<circle cx="99.9" cy="172.3" r="1.55" fill="#1e55cd"/>
<circle cx="142.3" cy="65.8" r="1.55" fill="#b4d737"/>
<circle cx="170.4" cy="97.5" r="1.55" fill="#7dcd73"/>
<circle cx="176.3" cy="167.1" r="1.55" fill="#f57d19"/>
<circle cx="76.8" cy="116.6" r="1.55" fill="#2332a0"/>
<circle cx="201.9" cy="137.2" r="1.55" fill="#23b9e8"/>
<circle cx="97.5" cy="118.9" r="1.55" fill="#23b9e8"/>
<circle cx="193.0" cy="103.1" r="1.55" fill="#23b9e8"/>
<circle cx="214.2" cy="136.4" r="1.55" fill="#7dcd73"/>
<circle cx="213.9" cy="126.6" r="1.55" fill="#1e55cd"/>
<circle cx="209.9" cy="117.9" r="1.55" fill="#b4d737"/>
<circle cx="81.6" cy="117.1" r="1.55" fill="#2332a0"/>
<circle cx="216.8" cy="167.4" r="1.55" fill="#46c6b4"/>
<circle cx="189.0" cy="114.0" r="1.55" fill="#7dcd73"/>
<circle cx="227.9" cy="136.8" r="1.55" fill="#e41e1e"/>
<circle cx="159.8" cy="65.8" r="1.55" fill="#23b9e8"/>
<circle cx="79.5" cy="90.1" r="1.55" fill="#23b9e8"/>
<circle cx="94.1" cy="103.0" r="1.55" fill="#23b9e8"/>
<circle cx="199.5" cy="141.6" r="1.55" fill="#b4d737"/>
<circle cx="207.1" cy="188.8" r="1.55" fill="#7dcd73"/>
<circle cx="172.0" cy="58.9" r="1.55" fill="#7dcd73"/>
<circle cx="125.5" cy="174.3" r="1.55" fill="#e41e1e"/>
<circle cx="141.2" cy="64.7" r="1.55" fill="#1e55cd"/>
<circle cx="77.7" cy="108.1" r="1.55" fill="#e41e1e"/>
<circle cx="231.3" cy="170.3" r="1.55" fill="#7dcd73"/>
<circle cx="211.9" cy="160.0" r="1.55" fill="#23b9e8"/>
<circle cx="83.3" cy="105.2" r="1.55" fill="#eee419"/>
<circle cx="82.8" cy="92.2" r="1.55" fill="#1e55cd"/>
<circle cx="107.0" cy="160.4" r="1.55" fill="#e41e1e"/>
<circle cx="177.2" cy="77.0" r="1.55" fill="#1e55cd"/>
<circle cx="231.4" cy="135.3" r="1.55" fill="#7dcd73"/>
<circle cx="216.3" cy="124.5" r="1.55" fill="#1e55cd"/>
<circle cx="197.0" cy="147.4" r="1.55" fill="#23b9e8"/>
<circle cx="161.5" cy="66.0" r="1.55" fill="#46c6b4"/>
<circle cx="181.8" cy="81.3" r="1.55" fill="#7dcd73"/>
<circle cx="165.2" cy="66.9" r="1.55" fill="#23b9e8"/>
<circle cx="190.6" cy="187.7" r="1.55" fill="#23b9e8"/>
<circle cx="114.1" cy="161.3" r="1.55" fill="#1e55cd"/>
<circle cx="182.8" cy="185.3" r="1.55" fill="#23b9e8"/>
<circle cx="174.6" cy="90.6" r="1.55" fill="#b4d737"/>
<circle cx="225.1" cy="169.6" r="1.55" fill="#7dcd73"/>
<circle cx="122.0" cy="189.7" r="1.55" fill="#1e55cd"/>
<circle cx="176.4" cy="184.1" r="1.55" fill="#1e55cd"/>
<circle cx="212.4" cy="116.6" r="1.55" fill="#7dcd73"/>
<circle cx="201.4" cy="193.0" r="1.55" fill="#1e55cd"/>
<circle cx="193.8" cy="185.5" r="1.55" fill="#46c6b4"/>
<circle cx="231.6" cy="186.4" r="1.55" fill="#1e55cd"/>
<circle cx="209.0" cy="129.2" r="1.55" fill="#7dcd73"/>
<circle cx="201.2" cy="96.6" r="1.55" fill="#46c6b4"/>
<circle cx="186.5" cy="109.2" r="1.55" fill="#eee419"/>
<circle cx="216.5" cy="159.7" r="1.55" fill="#7dcd73"/>
<circle cx="228.3" cy="137.3" r="1.55" fill="#23b9e8"/>
<circle cx="198.9" cy="134.6" r="1.55" fill="#e41e1e"/>
<circle cx="162.6" cy="94.9" r="1.55" fill="#e41e1e"/>
<circle cx="205.4" cy="137.9" r="1.55" fill="#1e55cd"/>
<circle cx="171.8" cy="132.0" r="1.55" fill="#e41e1e"/>
<circle cx="181.6" cy="166.1" r="1.55" fill="#2332a0"/>
<circle cx="211.6" cy="142.7" r="1.55" fill="#2332a0"/>
<circle cx="171.7" cy="84.6" r="1.55" fill="#eee419"/>
<circle cx="175.3" cy="113.0" r="1.55" fill="#b4d737"/>
<circle cx="175.3" cy="186.7" r="1.55" fill="#1e55cd"/>
<circle cx="199.3" cy="132.2" r="1.55" fill="#1e55cd"/>
<circle cx="207.7" cy="196.4" r="1.55" fill="#23b9e8"/>
<circle cx="163.8" cy="202.6" r="1.55" fill="#1e55cd"/>
<circle cx="215.0" cy="93.0" r="1.55" fill="#b4d737"/>
<circle cx="148.0" cy="68.7" r="1.55" fill="#1e55cd"/>
<circle cx="152.9" cy="75.4" r="1.55" fill="#e41e1e"/>
<circle cx="88.8" cy="72.4" r="1.55" fill="#b4d737"/>
<circle cx="202.4" cy="192.8" r="1.55" fill="#f57d19"/>
<circle cx="217.6" cy="101.6" r="1.55" fill="#46c6b4"/>
<circle cx="107.2" cy="159.2" r="1.55" fill="#1e55cd"/>
<circle cx="230.6" cy="164.7" r="1.55" fill="#46c6b4"/>
<circle cx="199.0" cy="114.1" r="1.55" fill="#b4d737"/>
<circle cx="179.6" cy="179.5" r="1.55" fill="#f57d19"/>
<circle cx="217.9" cy="196.9" r="1.55" fill="#b4d737"/>
<circle cx="88.5" cy="96.7" r="1.55" fill="#e41e1e"/>
<circle cx="210.5" cy="152.3" r="1.55" fill="#46c6b4"/>
<circle cx="205.2" cy="87.6" r="1.55" fill="#46c6b4"/>
<circle cx="235.4" cy="167.1" r="1.55" fill="#1e55cd"/>
<circle cx="209.3" cy="198.8" r="1.55" fill="#2332a0"/>
<circle cx="177.7" cy="100.4" r="1.55" fill="#eee419"/>
<circle cx="198.1" cy="69.1" r="1.55" fill="#46c6b4"/>
<circle cx="185.2" cy="72.6" r="1.55" fill="#b4d737"/>
<circle cx="197.0" cy="125.6" r="1.55" fill="#7dcd73"/>
<circle cx="165.4" cy="130.7" r="1.55" fill="#e41e1e"/>
<circle cx="128.2" cy="102.0" r="1.5" fill="#e41e1e"/>
<circle cx="195.6" cy="160.7" r="1.55" fill="#46c6b4"/>
<circle cx="85.1" cy="123.4" r="1.55" fill="#2332a0"/>
<circle cx="170.1" cy="103.4" r="1.55" fill="#b4d737"/>
<circle cx="98.4" cy="66.7" r="1.55" fill="#46c6b4"/>
<circle cx="193.4" cy="125.5" r="1.55" fill="#b4d737"/>
<circle cx="184.7" cy="194.8" r="1.55" fill="#7dcd73"/>
<circle cx="179.7" cy="177.8" r="1.55" fill="#b4d737"/>
<circle cx="211.5" cy="100.0" r="1.55" fill="#23b9e8"/>
<circle cx="159.3" cy="63.8" r="1.55" fill="#23b9e8"/>
<circle cx="175.0" cy="108.1" r="1.55" fill="#b4d737"/>
<circle cx="170.5" cy="191.8" r="1.55" fill="#f57d19"/>
<circle cx="216.9" cy="181.6" r="1.55" fill="#46c6b4"/>
<circle cx="215.4" cy="156.9" r="1.55" fill="#46c6b4"/>
<circle cx="233.8" cy="128.5" r="1.55" fill="#1e55cd"/>
<circle cx="160.7" cy="87.9" r="1.55" fill="#b4d737"/>
<circle cx="107.0" cy="73.7" r="1.55" fill="#e41e1e"/>
<circle cx="90.7" cy="126.4" r="1.55" fill="#1e55cd"/>
<circle cx="205.0" cy="133.8" r="1.55" fill="#b4d737"/>
<circle cx="185.2" cy="62.6" r="1.55" fill="#7dcd73"/>
<circle cx="193.9" cy="149.1" r="1.55" fill="#46c6b4"/>
<circle cx="179.2" cy="107.6" r="1.55" fill="#7dcd73"/>
<circle cx="210.7" cy="82.8" r="1.55" fill="#46c6b4"/>
<circle cx="177.0" cy="163.6" r="1.55" fill="#f57d19"/>
<circle cx="231.7" cy="158.7" r="1.55" fill="#46c6b4"/>
<circle cx="218.8" cy="133.3" r="1.55" fill="#e41e1e"/>
<circle cx="231.3" cy="179.9" r="1.55" fill="#7dcd73"/>
<circle cx="169.2" cy="77.9" r="1.55" fill="#eee419"/>
<circle cx="76.3" cy="87.3" r="1.55" fill="#23b9e8"/>
<circle cx="187.7" cy="174.8" r="1.55" fill="#1e55cd"/>
<circle cx="128.6" cy="191.3" r="1.55" fill="#1e55cd"/>
<circle cx="80.0" cy="101.3" r="1.55" fill="#2332a0"/>
<circle cx="238.4" cy="174.7" r="1.55" fill="#23b9e8"/>
<circle cx="77.6" cy="91.2" r="1.55" fill="#7dcd73"/>
<circle cx="232.8" cy="172.0" r="1.55" fill="#7dcd73"/>
<circle cx="186.1" cy="167.6" r="1.55" fill="#e41e1e"/>
<circle cx="213.1" cy="127.3" r="1.55" fill="#7dcd73"/>
<circle cx="171.4" cy="196.4" r="1.55" fill="#eee419"/>
<circle cx="163.9" cy="105.7" r="1.55" fill="#eee419"/>
<circle cx="122.0" cy="184.8" r="1.55" fill="#1e55cd"/>
<circle cx="167.3" cy="72.8" r="1.55" fill="#23b9e8"/>
<circle cx="230.2" cy="182.6" r="1.55" fill="#b4d737"/>
<circle cx="214.5" cy="143.4" r="1.55" fill="#46c6b4"/>
<circle cx="208.0" cy="169.8" r="1.55" fill="#b4d737"/>
<circle cx="128.8" cy="183.4" r="1.55" fill="#f57d19"/>
<circle cx="175.3" cy="90.5" r="1.55" fill="#23b9e8"/>
<circle cx="207.5" cy="189.1" r="1.55" fill="#7dcd73"/>
<circle cx="180.8" cy="80.8" r="1.55" fill="#46c6b4"/>
<circle cx="166.2" cy="59.6" r="1.55" fill="#23b9e8"/>
<circle cx="92.0" cy="97.6" r="1.55" fill="#e41e1e"/>
<circle cx="206.5" cy="128.2" r="1.55" fill="#7dcd73"/>
<circle cx="153.9" cy="84.2" r="1.55" fill="#eee419"/>
<circle cx="176.5" cy="94.6" r="1.55" fill="#7dcd73"/>
<circle cx="83.4" cy="81.8" r="1.55" fill="#23b9e8"/>
<circle cx="199.2" cy="104.0" r="1.55" fill="#eee419"/>
<circle cx="171.9" cy="180.4" r="1.55" fill="#7dcd73"/>
<circle cx="218.1" cy="103.4" r="1.55" fill="#7dcd73"/>
<circle cx="185.1" cy="79.2" r="1.55" fill="#23b9e8"/>
<circle cx="170.5" cy="168.7" r="1.55" fill="#f57d19"/>
<circle cx="212.6" cy="117.4" r="1.55" fill="#7dcd73"/>
<circle cx="87.1" cy="115.2" r="1.55" fill="#1e55cd"/>
<circle cx="111.3" cy="164.4" r="1.55" fill="#7dcd73"/>
<circle cx="169.7" cy="78.8" r="1.55" fill="#7dcd73"/>
<circle cx="186.5" cy="66.1" r="1.55" fill="#46c6b4"/>
<circle cx="199.8" cy="110.9" r="1.55" fill="#23b9e8"/>
<circle cx="198.1" cy="91.5" r="1.55" fill="#23b9e8"/>
<circle cx="219.9" cy="195.6" r="1.55" fill="#7dcd73"/>
<circle cx="187.1" cy="106.2" r="1.55" fill="#46c6b4"/>
<circle cx="157.2" cy="62.3" r="1.55" fill="#eee419"/>
<circle cx="193.5" cy="137.6" r="1.55" fill="#1e55cd"/>
<circle cx="222.8" cy="173.7" r="1.55" fill="#7dcd73"/>
<circle cx="99.2" cy="62.1" r="1.55" fill="#46c6b4"/>
<circle cx="238.1" cy="143.8" r="1.55" fill="#7dcd73"/>
<circle cx="231.9" cy="122.5" r="1.55" fill="#1e55cd"/>
<circle cx="178.3" cy="98.2" r="1.55" fill="#eee419"/>
<circle cx="162.9" cy="58.0" r="1.55" fill="#23b9e8"/>
<circle cx="74.0" cy="98.6" r="1.55" fill="#23b9e8"/>
<circle cx="81.1" cy="120.5" r="1.55" fill="#23b9e8"/>
<circle cx="156.6" cy="94.5" r="1.55" fill="#7dcd73"/>
<circle cx="176.6" cy="113.1" r="1.55" fill="#7dcd73"/>
<circle cx="185.2" cy="71.4" r="1.55" fill="#23b9e8"/>
<circle cx="231.3" cy="148.8" r="1.55" fill="#2332a0"/>
<circle cx="236.8" cy="147.8" r="1.55" fill="#46c6b4"/>
<circle cx="113.6" cy="183.3" r="1.55" fill="#eee419"/>
<circle cx="226.8" cy="164.9" r="1.55" fill="#7dcd73"/>
<circle cx="215.0" cy="166.9" r="1.55" fill="#46c6b4"/>
<circle cx="220.1" cy="193.9" r="1.55" fill="#23b9e8"/>
<circle cx="125.1" cy="192.3" r="1.55" fill="#e41e1e"/>
<circle cx="238.8" cy="131.4" r="1.55" fill="#7dcd73"/>
<circle cx="158.4" cy="197.5" r="1.55" fill="#7dcd73"/>
<circle cx="151.3" cy="77.7" r="1.55" fill="#b4d737"/>
<circle cx="195.3" cy="162.9" r="1.55" fill="#f57d19"/>
<circle cx="230.0" cy="144.4" r="1.55" fill="#1e55cd"/>
<circle cx="127.2" cy="190.6" r="1.55" fill="#f57d19"/>
<circle cx="174.8" cy="71.1" r="1.55" fill="#1e55cd"/>
<circle cx="172.4" cy="130.0" r="1.55" fill="#e41e1e"/>
<circle cx="171.4" cy="204.3" r="1.55" fill="#eee419"/>
<circle cx="222.3" cy="101.5" r="1.55" fill="#23b9e8"/>
<circle cx="162.8" cy="88.6" r="1.55" fill="#eee419"/>
<circle cx="188.8" cy="80.0" r="1.55" fill="#23b9e8"/>
<circle cx="200.7" cy="109.7" r="1.55" fill="#b4d737"/>
<circle cx="191.0" cy="65.7" r="1.55" fill="#46c6b4"/>
<circle cx="194.0" cy="134.9" r="1.55" fill="#eee419"/>
<circle cx="157.4" cy="186.7" r="1.55" fill="#b4d737"/>
<circle cx="209.3" cy="170.0" r="1.55" fill="#23b9e8"/>
<circle cx="151.6" cy="84.4" r="1.55" fill="#7dcd73"/>
<circle cx="103.0" cy="177.5" r="1.55" fill="#1e55cd"/>
<circle cx="150.1" cy="60.5" r="1.55" fill="#b4d737"/>
<circle cx="222.8" cy="94.7" r="1.55" fill="#7dcd73"/>
<circle cx="163.1" cy="106.3" r="1.55" fill="#e41e1e"/>
<circle cx="188.5" cy="173.4" r="1.55" fill="#7dcd73"/>
<circle cx="175.1" cy="125.3" r="1.55" fill="#e41e1e"/>
<circle cx="190.7" cy="146.4" r="1.55" fill="#23b9e8"/>
<circle cx="207.1" cy="96.7" r="1.55" fill="#b4d737"/>
<circle cx="234.4" cy="164.1" r="1.55" fill="#46c6b4"/>
<circle cx="219.4" cy="181.7" r="1.55" fill="#2332a0"/>
<circle cx="218.9" cy="148.4" r="1.55" fill="#1e55cd"/>
<circle cx="171.9" cy="208.6" r="1.55" fill="#eee419"/>
<circle cx="189.5" cy="197.8" r="1.55" fill="#23b9e8"/>
<circle cx="208.8" cy="187.6" r="1.55" fill="#1e55cd"/>
<circle cx="203.1" cy="169.3" r="1.55" fill="#2332a0"/>
<circle cx="97.4" cy="171.3" r="1.55" fill="#e41e1e"/>
<circle cx="76.5" cy="92.6" r="1.55" fill="#1e55cd"/>
<circle cx="166.2" cy="117.2" r="1.55" fill="#eee419"/>
<circle cx="213.3" cy="115.6" r="1.55" fill="#7dcd73"/>
<circle cx="199.0" cy="184.5" r="1.55" fill="#46c6b4"/>
<circle cx="77.1" cy="98.1" r="1.55" fill="#e41e1e"/>
<circle cx="157.0" cy="98.7" r="1.55" fill="#7dcd73"/>
<circle cx="77.3" cy="89.8" r="1.55" fill="#eee419"/>
<circle cx="159.0" cy="60.8" r="1.55" fill="#1e55cd"/>
<circle cx="203.6" cy="164.7" r="1.55" fill="#23b9e8"/>
<circle cx="222.5" cy="143.5" r="1.55" fill="#7dcd73"/>
<circle cx="206.3" cy="115.7" r="1.55" fill="#b4d737"/>
<circle cx="122.7" cy="194.4" r="1.55" fill="#1e55cd"/>
<circle cx="75.1" cy="115.8" r="1.55" fill="#7dcd73"/>
<circle cx="187.4" cy="134.4" r="1.55" fill="#e41e1e"/>
<circle cx="99.9" cy="64.0" r="1.55" fill="#46c6b4"/>
<circle cx="172.1" cy="157.9" r="1.55" fill="#eee419"/>
<circle cx="184.2" cy="110.1" r="1.55" fill="#e41e1e"/>
<circle cx="205.9" cy="169.2" r="1.55" fill="#1e55cd"/>
<circle cx="113.0" cy="162.0" r="1.55" fill="#2332a0"/>
<circle cx="164.8" cy="163.0" r="1.55" fill="#e41e1e"/>
<circle cx="228.6" cy="130.0" r="1.55" fill="#7dcd73"/>
<circle cx="112.3" cy="166.5" r="1.55" fill="#7dcd73"/>
<circle cx="158.9" cy="195.6" r="1.55" fill="#e41e1e"/>
<circle cx="149.2" cy="128.3" r="1.5" fill="#e41e1e"/>
<circle cx="172.7" cy="119.7" r="1.55" fill="#e41e1e"/>
<circle cx="210.7" cy="82.1" r="1.55" fill="#2332a0"/>
<circle cx="97.3" cy="123.3" r="1.55" fill="#e41e1e"/>
<circle cx="188.0" cy="72.9" r="1.55" fill="#23b9e8"/>
<circle cx="180.5" cy="90.1" r="1.55" fill="#23b9e8"/>
<circle cx="108.3" cy="185.2" r="1.55" fill="#2332a0"/>
<circle cx="196.6" cy="133.4" r="1.55" fill="#1e55cd"/>
<circle cx="167.4" cy="75.6" r="1.55" fill="#1e55cd"/>
<circle cx="159.1" cy="127.3" r="1.55" fill="#e41e1e"/>
<circle cx="180.2" cy="180.6" r="1.55" fill="#1e55cd"/>
<circle cx="215.5" cy="134.1" r="1.55" fill="#7dcd73"/>
<circle cx="183.2" cy="67.8" r="1.55" fill="#46c6b4"/>
<circle cx="207.7" cy="123.2" r="1.55" fill="#2332a0"/>
<circle cx="160.8" cy="81.1" r="1.55" fill="#e41e1e"/>
<circle cx="171.9" cy="75.3" r="1.55" fill="#1e55cd"/>
<circle cx="161.6" cy="64.1" r="1.55" fill="#23b9e8"/>
<circle cx="119.5" cy="179.8" r="1.55" fill="#eee419"/>
<circle cx="172.6" cy="105.2" r="1.55" fill="#7dcd73"/>
<circle cx="229.9" cy="161.3" r="1.55" fill="#1e55cd"/>
<circle cx="198.9" cy="162.2" r="1.55" fill="#23b9e8"/>
<circle cx="83.4" cy="90.4" r="1.55" fill="#7dcd73"/>
<circle cx="186.3" cy="92.8" r="1.55" fill="#eee419"/>
<circle cx="237.3" cy="159.9" r="1.55" fill="#46c6b4"/>
<circle cx="204.1" cy="109.7" r="1.55" fill="#b4d737"/>
<circle cx="192.7" cy="75.6" r="1.55" fill="#23b9e8"/>
<circle cx="196.6" cy="146.3" r="1.55" fill="#eee419"/>
<circle cx="93.8" cy="106.3" r="1.55" fill="#1e55cd"/>
<circle cx="208.2" cy="95.3" r="1.55" fill="#b4d737"/>
<circle cx="189.4" cy="129.7" r="1.55" fill="#7dcd73"/>
<circle cx="188.1" cy="125.3" r="1.55" fill="#7dcd73"/>
<circle cx="76.2" cy="83.6" r="1.55" fill="#eee419"/>
<circle cx="201.5" cy="163.7" r="1.55" fill="#2332a0"/>
<circle cx="149.9" cy="59.5" r="1.55" fill="#eee419"/>
<circle cx="197.2" cy="62.6" r="1.55" fill="#46c6b4"/>
<circle cx="203.6" cy="174.1" r="1.55" fill="#1e55cd"/>
<circle cx="223.8" cy="132.5" r="1.55" fill="#eee419"/>
<circle cx="199.3" cy="176.4" r="1.55" fill="#7dcd73"/>
<circle cx="155.6" cy="79.9" r="1.55" fill="#eee419"/>
<circle cx="203.6" cy="76.3" r="1.55" fill="#23b9e8"/>
<circle cx="189.7" cy="156.2" r="1.55" fill="#b4d737"/>
<circle cx="175.3" cy="181.5" r="1.55" fill="#b4d737"/>
<circle cx="209.7" cy="170.6" r="1.55" fill="#1e55cd"/>
<circle cx="190.6" cy="105.8" r="1.55" fill="#7dcd73"/>
<circle cx="121.4" cy="184.4" r="1.55" fill="#e41e1e"/>
<circle cx="211.5" cy="187.2" r="1.55" fill="#23b9e8"/>
<circle cx="180.0" cy="55.3" r="1.55" fill="#46c6b4"/>
<circle cx="101.7" cy="176.1" r="1.55" fill="#23b9e8"/>
<circle cx="161.0" cy="180.4" r="1.55" fill="#e41e1e"/>
<circle cx="211.7" cy="79.3" r="1.55" fill="#1e55cd"/>
<circle cx="150.0" cy="140.0" r="1.5" fill="#e41e1e"/>
<circle cx="200.8" cy="133.8" r="1.55" fill="#1e55cd"/>
<circle cx="212.6" cy="200.8" r="1.55" fill="#1e55cd"/>
<circle cx="210.1" cy="178.9" r="1.55" fill="#46c6b4"/>
<circle cx="221.1" cy="150.7" r="1.55" fill="#7dcd73"/>
<circle cx="210.4" cy="130.2" r="1.55" fill="#1e55cd"/>
<circle cx="217.5" cy="179.4" r="1.55" fill="#e41e1e"/>
<circle cx="187.3" cy="78.6" r="1.55" fill="#1e55cd"/>
<circle cx="203.2" cy="118.1" r="1.55" fill="#e41e1e"/>
<circle cx="202.3" cy="125.1" r="1.55" fill="#1e55cd"/>
<circle cx="92.9" cy="108.7" r="1.55" fill="#2332a0"/>
<circle cx="172.9" cy="59.0" r="1.55" fill="#1e55cd"/>
<circle cx="233.6" cy="174.8" r="1.55" fill="#23b9e8"/>
<circle cx="235.1" cy="183.8" r="1.55" fill="#1e55cd"/>
<circle cx="178.9" cy="127.6" r="1.55" fill="#b4d737"/>
<circle cx="86.4" cy="118.0" r="1.55" fill="#2332a0"/>
<circle cx="178.8" cy="56.6" r="1.55" fill="#23b9e8"/>
<circle cx="213.0" cy="194.5" r="1.55" fill="#46c6b4"/>
<circle cx="234.6" cy="170.9" r="1.55" fill="#7dcd73"/>
<circle cx="226.5" cy="124.3" r="1.55" fill="#7dcd73"/>
<circle cx="207.9" cy="137.0" r="1.55" fill="#b4d737"/>
<circle cx="202.4" cy="96.3" r="1.55" fill="#7dcd73"/>
<circle cx="204.7" cy="79.6" r="1.55" fill="#46c6b4"/>
<circle cx="160.9" cy="161.4" r="1.55" fill="#eee419"/>
<circle cx="211.5" cy="176.6" r="1.55" fill="#1e55cd"/>
<circle cx="191.1" cy="162.4" r="1.55" fill="#23b9e8"/>
<circle cx="168.4" cy="130.3" r="1.55" fill="#1e55cd"/>
<circle cx="172.6" cy="135.6" r="1.55" fill="#eee419"/>
<circle cx="97.7" cy="66.8" r="1.55" fill="#46c6b4"/>
<circle cx="203.0" cy="154.7" r="1.55" fill="#7dcd73"/>
<circle cx="92.7" cy="71.6" r="1.55" fill="#46c6b4"/>
<circle cx="204.1" cy="92.5" r="1.55" fill="#7dcd73"/>
<circle cx="191.0" cy="196.1" r="1.55" fill="#23b9e8"/>
<circle cx="196.8" cy="152.2" r="1.55" fill="#46c6b4"/>
<circle cx="193.5" cy="70.7" r="1.55" fill="#2332a0"/>
<circle cx="198.3" cy="184.9" r="1.55" fill="#2332a0"/>
<circle cx="176.4" cy="111.4" r="1.55" fill="#b4d737"/>
<circle cx="158.7" cy="83.2" r="1.55" fill="#b4d737"/>
<circle cx="177.0" cy="110.8" r="1.55" fill="#1e55cd"/>
<circle cx="222.1" cy="126.3" r="1.55" fill="#b4d737"/>
<circle cx="162.3" cy="62.6" r="1.55" fill="#23b9e8"/>
<circle cx="163.0" cy="94.1" r="1.55" fill="#f57d19"/>
<circle cx="162.8" cy="76.6" r="1.55" fill="#eee419"/>
<circle cx="219.6" cy="166.7" r="1.55" fill="#eee419"/>
<circle cx="177.4" cy="106.1" r="1.55" fill="#1e55cd"/>
<circle cx="193.1" cy="151.4" r="1.55" fill="#23b9e8"/>
<circle cx="156.0" cy="162.5" r="1.55" fill="#e41e1e"/>
<circle cx="182.7" cy="151.7" r="1.55" fill="#23b9e8"/>
<circle cx="227.6" cy="167.8" r="1.55" fill="#2332a0"/>
<circle cx="221.2" cy="133.0" r="1.55" fill="#7dcd73"/>
<circle cx="75.6" cy="122.6" r="1.55" fill="#e41e1e"/>
<circle cx="200.2" cy="78.3" r="1.55" fill="#b4d737"/>
<circle cx="223.1" cy="123.9" r="1.55" fill="#b4d737"/>
<circle cx="209.2" cy="165.3" r="1.55" fill="#1e55cd"/>
<circle cx="162.2" cy="201.9" r="1.55" fill="#e41e1e"/>
<circle cx="157.9" cy="103.7" r="1.55" fill="#1e55cd"/>
<circle cx="152.2" cy="65.2" r="1.55" fill="#b4d737"/>
<circle cx="93.7" cy="64.2" r="1.55" fill="#23b9e8"/>
<circle cx="184.1" cy="83.5" r="1.55" fill="#46c6b4"/>
<circle cx="86.4" cy="118.9" r="1.55" fill="#23b9e8"/>
<circle cx="189.3" cy="72.1" r="1.55" fill="#23b9e8"/>
<circle cx="170.8" cy="76.0" r="1.55" fill="#46c6b4"/>
<circle cx="193.5" cy="152.9" r="1.55" fill="#f57d19"/>
<circle cx="163.7" cy="57.5" r="1.55" fill="#1e55cd"/>
<circle cx="193.2" cy="115.3" r="1.55" fill="#7dcd73"/>
<circle cx="223.9" cy="152.5" r="1.55" fill="#23b9e8"/>
<circle cx="175.1" cy="77.3" r="1.55" fill="#1e55cd"/>
<circle cx="204.8" cy="127.2" r="1.55" fill="#e41e1e"/>
<circle cx="204.3" cy="191.2" r="1.55" fill="#7dcd73"/>
<circle cx="198.1" cy="108.1" r="1.55" fill="#23b9e8"/>
<circle cx="169.2" cy="92.1" r="1.55" fill="#b4d737"/>
<circle cx="202.7" cy="179.9" r="1.55" fill="#b4d737"/>
<circle cx="155.7" cy="59.7" r="1.55" fill="#7dcd73"/>
<circle cx="164.1" cy="131.1" r="1.55" fill="#eee419"/>
<circle cx="200.6" cy="143.0" r="1.55" fill="#46c6b4"/>
<circle cx="188.0" cy="174.7" r="1.55" fill="#7dcd73"/>
<circle cx="96.9" cy="119.6" r="1.55" fill="#e41e1e"/>
<circle cx="191.4" cy="70.8" r="1.55" fill="#2332a0"/>
<circle cx="143.2" cy="69.5" r="1.55" fill="#eee419"/>
<circle cx="201.3" cy="141.7" r="1.55" fill="#b4d737"/>
<circle cx="191.8" cy="105.8" r="1.55" fill="#7dcd73"/>
<circle cx="192.2" cy="118.9" r="1.55" fill="#1e55cd"/>
<circle cx="215.7" cy="166.3" r="1.55" fill="#7dcd73"/>
<circle cx="150.0" cy="62.3" r="1.55" fill="#b4d737"/>
<circle cx="164.2" cy="177.9" r="1.55" fill="#eee419"/>
<circle cx="206.9" cy="195.8" r="1.55" fill="#1e55cd"/>
<circle cx="188.8" cy="148.3" r="1.55" fill="#23b9e8"/>
<circle cx="163.7" cy="185.9" r="1.55" fill="#1e55cd"/>
<circle cx="212.9" cy="157.3" r="1.55" fill="#7dcd73"/>
<circle cx="193.3" cy="83.7" r="1.55" fill="#46c6b4"/>
<circle cx="155.4" cy="67.1" r="1.55" fill="#b4d737"/>
<circle cx="126.6" cy="178.9" r="1.55" fill="#e41e1e"/>
<circle cx="153.3" cy="60.2" r="1.55" fill="#b4d737"/>
<circle cx="188.0" cy="109.6" r="1.55" fill="#b4d737"/>
<circle cx="197.0" cy="139.8" r="1.55" fill="#23b9e8"/>
<circle cx="200.5" cy="177.9" r="1.55" fill="#eee419"/>
<circle cx="228.1" cy="122.9" r="1.55" fill="#7dcd73"/>
<circle cx="139.9" cy="61.9" r="1.55" fill="#b4d737"/>
<circle cx="197.4" cy="109.4" r="1.55" fill="#46c6b4"/>
<circle cx="203.7" cy="76.3" r="1.55" fill="#b4d737"/>
<circle cx="224.7" cy="155.4" r="1.55" fill="#23b9e8"/>
<circle cx="203.1" cy="184.7" r="1.55" fill="#7dcd73"/>
<circle cx="81.9" cy="108.5" r="1.55" fill="#e41e1e"/>
<circle cx="164.9" cy="65.0" r="1.55" fill="#23b9e8"/>
<circle cx="123.0" cy="175.0" r="1.55" fill="#7dcd73"/>
<circle cx="80.0" cy="114.2" r="1.55" fill="#23b9e8"/>
<circle cx="186.7" cy="143.2" r="1.55" fill="#b4d737"/>
<circle cx="183.8" cy="104.2" r="1.55" fill="#7dcd73"/>
<circle cx="87.9" cy="126.1" r="1.55" fill="#1e55cd"/>
<circle cx="173.9" cy="108.4" r="1.55" fill="#eee419"/>
<circle cx="189.7" cy="174.9" r="1.55" fill="#7dcd73"/>
<circle cx="181.3" cy="172.8" r="1.55" fill="#b4d737"/>
<circle cx="122.8" cy="174.9" r="1.55" fill="#eee419"/>
<circle cx="171.3" cy="202.4" r="1.55" fill="#eee419"/>
<circle cx="189.3" cy="106.1" r="1.55" fill="#7dcd73"/>
<circle cx="205.0" cy="163.1" r="1.55" fill="#7dcd73"/>
<circle cx="86.1" cy="122.6" r="1.55" fill="#e41e1e"/>
<circle cx="196.5" cy="122.8" r="1.55" fill="#eee419"/>
<circle cx="214.9" cy="111.6" r="1.55" fill="#7dcd73"/>
<circle cx="162.7" cy="203.2" r="1.55" fill="#f57d19"/>
<circle cx="196.1" cy="114.0" r="1.55" fill="#23b9e8"/>
<circle cx="234.6" cy="132.8" r="1.55" fill="#1e55cd"/>
<circle cx="209.1" cy="154.7" r="1.55" fill="#46c6b4"/>
<circle cx="151.2" cy="79.5" r="1.55" fill="#7dcd73"/>
<circle cx="89.4" cy="118.7" r="1.55" fill="#23b9e8"/>
<circle cx="150.3" cy="66.1" r="1.55" fill="#b4d737"/>
<circle cx="74.1" cy="91.9" r="1.55" fill="#e41e1e"/>
<circle cx="189.6" cy="80.6" r="1.55" fill="#46c6b4"/>
<circle cx="105.7" cy="155.3" r="1.55" fill="#eee419"/>
<circle cx="188.8" cy="173.2" r="1.55" fill="#e41e1e"/>
<circle cx="171.1" cy="56.2" r="1.55" fill="#46c6b4"/>
<circle cx="76.1" cy="101.1" r="1.55" fill="#e41e1e"/>
<circle cx="121.4" cy="82.9" r="1.55" fill="#eee419"/>
<circle cx="212.9" cy="93.7" r="1.55" fill="#23b9e8"/>
<circle cx="229.6" cy="130.0" r="1.55" fill="#1e55cd"/>
<circle cx="172.1" cy="116.7" r="1.55" fill="#2332a0"/>
<circle cx="177.5" cy="80.7" r="1.55" fill="#7dcd73"/>
<circle cx="91.4" cy="68.8" r="1.55" fill="#b4d737"/>
<circle cx="181.2" cy="105.2" r="1.55" fill="#1e55cd"/>
<circle cx="102.5" cy="66.1" r="1.55" fill="#46c6b4"/>
<circle cx="199.9" cy="67.9" r="1.55" fill="#46c6b4"/>
<circle cx="220.0" cy="121.3" r="1.55" fill="#23b9e8"/>
<circle cx="174.9" cy="191.5" r="1.55" fill="#eee419"/>
<circle cx="235.8" cy="145.5" r="1.55" fill="#b4d737"/>
<circle cx="219.2" cy="168.4" r="1.55" fill="#1e55cd"/>
<circle cx="88.9" cy="105.1" r="1.55" fill="#e41e1e"/>
<circle cx="104.4" cy="156.7" r="1.55" fill="#e41e1e"/>
<circle cx="237.5" cy="176.6" r="1.55" fill="#eee419"/>
<circle cx="218.2" cy="102.2" r="1.55" fill="#7dcd73"/>
<circle cx="199.8" cy="77.0" r="1.55" fill="#23b9e8"/>
<circle cx="140.9" cy="68.3" r="1.55" fill="#b4d737"/>
<circle cx="209.0" cy="156.4" r="1.55" fill="#1e55cd"/>
<circle cx="173.0" cy="81.8" r="1.55" fill="#7dcd73"/>
<circle cx="225.7" cy="160.0" r="1.55" fill="#7dcd73"/>
<circle cx="205.5" cy="151.9" r="1.55" fill="#7dcd73"/>
<circle cx="210.0" cy="187.3" r="1.55" fill="#eee419"/>
<circle cx="157.8" cy="182.5" r="1.55" fill="#e41e1e"/>
<circle cx="158.4" cy="185.4" r="1.55" fill="#7dcd73"/>
<circle cx="177.0" cy="84.5" r="1.55" fill="#eee419"/>
<circle cx="87.0" cy="76.6" r="1.55" fill="#7dcd73"/>
<circle cx="203.5" cy="86.8" r="1.55" fill="#7dcd73"/>
<circle cx="94.4" cy="65.6" r="1.55" fill="#46c6b4"/>
<circle cx="174.5" cy="84.5" r="1.55" fill="#eee419"/>
<circle cx="213.9" cy="127.6" r="1.55" fill="#1e55cd"/>
<circle cx="202.0" cy="167.9" r="1.55" fill="#23b9e8"/>
<circle cx="176.0" cy="100.4" r="1.55" fill="#1e55cd"/>
<circle cx="238.8" cy="130.9" r="1.55" fill="#7dcd73"/>
<circle cx="222.7" cy="169.2" r="1.55" fill="#46c6b4"/>
<circle cx="158.3" cy="196.3" r="1.55" fill="#eee419"/>
<circle cx="157.2" cy="65.8" r="1.55" fill="#b4d737"/>
<circle cx="204.2" cy="130.9" r="1.55" fill="#7dcd73"/>
<circle cx="161.2" cy="82.1" r="1.55" fill="#b4d737"/>
<circle cx="173.3" cy="109.7" r="1.55" fill="#e41e1e"/>
<circle cx="233.2" cy="136.5" r="1.55" fill="#e41e1e"/>
<circle cx="77.2" cy="108.3" r="1.55" fill="#2332a0"/>
<circle cx="210.0" cy="146.6" r="1.55" fill="#b4d737"/>
<circle cx="121.5" cy="184.6" r="1.55" fill="#e41e1e"/>
<circle cx="210.7" cy="99.3" r="1.55" fill="#7dcd73"/>
<circle cx="207.2" cy="100.9" r="1.55" fill="#b4d737"/>
<circle cx="94.6" cy="71.4" r="1.55" fill="#7dcd73"/>
<circle cx="161.6" cy="188.6" r="1.55" fill="#b4d737"/>
<circle cx="183.0" cy="87.6" r="1.55" fill="#7dcd73"/>
<circle cx="157.7" cy="83.5" r="1.55" fill="#eee419"/>
<circle cx="106.7" cy="182.6" r="1.55" fill="#23b9e8"/>
<circle cx="186.5" cy="63.4" r="1.55" fill="#46c6b4"/>
<circle cx="215.7" cy="142.2" r="1.55" fill="#1e55cd"/>
<circle cx="182.8" cy="104.8" r="1.55" fill="#eee419"/>
<circle cx="213.5" cy="195.3" r="1.55" fill="#23b9e8"/>
<circle cx="237.5" cy="128.8" r="1.55" fill="#b4d737"/>
<circle cx="151.0" cy="113.0" r="1.5" fill="#e41e1e"/>
<circle cx="216.5" cy="161.8" r="1.55" fill="#46c6b4"/>
<circle cx="100.2" cy="180.0" r="1.55" fill="#1e55cd"/>
<circle cx="141.1" cy="63.4" r="1.55" fill="#eee419"/>
<circle cx="210.3" cy="157.1" r="1.55" fill="#7dcd73"/>
<circle cx="125.7" cy="195.2" r="1.55" fill="#e41e1e"/>
<circle cx="207.5" cy="109.6" r="1.55" fill="#23b9e8"/>
<circle cx="134.6" cy="179.8" r="1.55" fill="#eee419"/>
<circle cx="165.1" cy="118.2" r="1.55" fill="#2332a0"/>
<circle cx="177.5" cy="90.6" r="1.55" fill="#23b9e8"/>
<circle cx="202.5" cy="68.0" r="1.55" fill="#1e55cd"/>
<circle cx="236.2" cy="180.4" r="1.55" fill="#7dcd73"/>
<circle cx="86.2" cy="74.0" r="1.55" fill="#b4d737"/>
<circle cx="179.6" cy="80.1" r="1.55" fill="#eee419"/>
<circle cx="193.2" cy="197.7" r="1.55" fill="#23b9e8"/>
<circle cx="172.1" cy="93.3" r="1.55" fill="#b4d737"/>
<circle cx="203.5" cy="110.6" r="1.55" fill="#46c6b4"/>
<circle cx="210.6" cy="187.5" r="1.55" fill="#2332a0"/>
<circle cx="183.2" cy="132.4" r="1.55" fill="#eee419"/>
<circle cx="168.0" cy="91.7" r="1.55" fill="#eee419"/>
<circle cx="205.2" cy="157.2" r="1.55" fill="#7dcd73"/>
<circle cx="221.4" cy="174.1" r="1.55" fill="#23b9e8"/>
<circle cx="193.9" cy="115.0" r="1.55" fill="#b4d737"/>
<circle cx="223.8" cy="136.7" r="1.55" fill="#e41e1e"/>
<circle cx="211.2" cy="194.6" r="1.55" fill="#23b9e8"/>
<circle cx="84.1" cy="77.2" r="1.55" fill="#b4d737"/>
<circle cx="218.6" cy="194.0" r="1.55" fill="#eee419"/>
<circle cx="204.1" cy="137.7" r="1.55" fill="#b4d737"/>
<circle cx="213.3" cy="193.4" r="1.55" fill="#2332a0"/>
<circle cx="101.7" cy="72.1" r="1.55" fill="#eee419"/>
<circle cx="214.7" cy="136.3" r="1.55" fill="#eee419"/>
<circle cx="185.5" cy="170.9" r="1.55" fill="#7dcd73"/>
<circle cx="226.4" cy="139.5" r="1.55" fill="#23b9e8"/>
<circle cx="112.9" cy="177.9" r="1.55" fill="#eee419"/>
<circle cx="218.2" cy="166.9" r="1.55" fill="#46c6b4"/>
<circle cx="216.6" cy="108.5" r="1.55" fill="#1e55cd"/>
<circle cx="189.3" cy="116.0" r="1.55" fill="#eee419"/>
<circle cx="107.1" cy="157.1" r="1.55" fill="#eee419"/>
<circle cx="93.0" cy="121.7" r="1.55" fill="#e41e1e"/>
<circle cx="229.2" cy="126.7" r="1.55" fill="#1e55cd"/>
<circle cx="209.5" cy="137.2" r="1.55" fill="#1e55cd"/>
<circle cx="220.5" cy="99.6" r="1.55" fill="#7dcd73"/>
<circle cx="173.7" cy="133.8" r="1.55" fill="#7dcd73"/>
<circle cx="89.0" cy="74.9" r="1.55" fill="#b4d737"/>
<circle cx="222.6" cy="134.3" r="1.55" fill="#7dcd73"/>
<circle cx="201.2" cy="97.4" r="1.55" fill="#b4d737"/>
<circle cx="122.6" cy="72.1" r="1.55" fill="#e41e1e"/>
<circle cx="100.1" cy="166.7" r="1.55" fill="#1e55cd"/>
<circle cx="94.1" cy="104.1" r="1.55" fill="#e41e1e"/>
<circle cx="121.3" cy="173.3" r="1.55" fill="#1e55cd"/>
<circle cx="221.4" cy="177.2" r="1.55" fill="#46c6b4"/>
<circle cx="96.7" cy="105.9" r="1.55" fill="#e41e1e"/>
<circle cx="97.3" cy="106.0" r="1.55" fill="#23b9e8"/>
<circle cx="159.9" cy="170.8" r="1.55" fill="#eee419"/>
<circle cx="222.3" cy="183.8" r="1.55" fill="#23b9e8"/>
<circle cx="179.0" cy="177.4" r="1.55" fill="#46c6b4"/>
<circle cx="209.9" cy="192.5" r="1.55" fill="#2332a0"/>
<circle cx="211.7" cy="192.3" r="1.55" fill="#7dcd73"/>
<circle cx="75.7" cy="85.5" r="1.55" fill="#e41e1e"/>
<circle cx="175.6" cy="105.5" r="1.55" fill="#b4d737"/>
<circle cx="183.1" cy="62.6" r="1.55" fill="#1e55cd"/>
<circle cx="152.7" cy="68.3" r="1.55" fill="#b4d737"/>
<circle cx="183.8" cy="86.2" r="1.55" fill="#2332a0"/>
<circle cx="75.5" cy="86.6" r="1.55" fill="#7dcd73"/>
<circle cx="198.1" cy="108.5" r="1.55" fill="#7dcd73"/>
<circle cx="207.5" cy="111.1" r="1.55" fill="#7dcd73"/>
<circle cx="201.9" cy="77.3" r="1.55" fill="#46c6b4"/>
<circle cx="221.0" cy="190.2" r="1.55" fill="#eee419"/>
<circle cx="74.6" cy="92.6" r="1.55" fill="#eee419"/>
<circle cx="85.5" cy="74.9" r="1.55" fill="#2332a0"/>
<circle cx="161.5" cy="67.7" r="1.55" fill="#23b9e8"/>
<circle cx="159.7" cy="194.2" r="1.55" fill="#eee419"/>
<circle cx="212.1" cy="157.2" r="1.55" fill="#2332a0"/>
<circle cx="161.8" cy="197.1" r="1.55" fill="#1e55cd"/>
<circle cx="182.2" cy="185.1" r="1.55" fill="#46c6b4"/>
<circle cx="120.9" cy="83.9" r="1.55" fill="#23b9e8"/>
<circle cx="163.9" cy="93.2" r="1.55" fill="#7dcd73"/>
<circle cx="227.7" cy="185.5" r="1.55" fill="#7dcd73"/>
<circle cx="164.5" cy="161.0" r="1.55" fill="#e41e1e"/>
<circle cx="205.2" cy="187.8" r="1.55" fill="#eee419"/>
<circle cx="175.4" cy="176.1" r="1.55" fill="#eee419"/>
<circle cx="174.7" cy="78.3" r="1.55" fill="#7dcd73"/>
<circle cx="73.9" cy="122.6" r="1.55" fill="#7dcd73"/>
<circle cx="97.2" cy="158.4" r="1.55" fill="#1e55cd"/>
<circle cx="95.4" cy="109.4" r="1.55" fill="#23b9e8"/>
<circle cx="184.7" cy="154.4" r="1.55" fill="#7dcd73"/>
<circle cx="159.2" cy="96.0" r="1.55" fill="#23b9e8"/>
<circle cx="227.5" cy="135.1" r="1.55" fill="#e41e1e"/>
<circle cx="155.2" cy="65.1" r="1.55" fill="#b4d737"/>
<circle cx="202.2" cy="79.2" r="1.55" fill="#2332a0"/>
<circle cx="208.3" cy="82.0" r="1.55" fill="#7dcd73"/>
<circle cx="197.0" cy="106.6" r="1.55" fill="#7dcd73"/>
<circle cx="230.8" cy="145.9" r="1.55" fill="#46c6b4"/>
<circle cx="221.5" cy="183.1" r="1.55" fill="#1e55cd"/>
<circle cx="195.5" cy="132.7" r="1.55" fill="#1e55cd"/>
<circle cx="218.9" cy="144.4" r="1.55" fill="#7dcd73"/>
<circle cx="186.4" cy="74.2" r="1.55" fill="#b4d737"/>
<circle cx="84.7" cy="96.6" r="1.55" fill="#23b9e8"/>
<circle cx="153.8" cy="86.7" r="1.55" fill="#eee419"/>
<circle cx="73.5" cy="118.5" r="1.55" fill="#e41e1e"/>
<circle cx="90.8" cy="71.6" r="1.55" fill="#7dcd73"/>
<circle cx="192.5" cy="101.1" r="1.55" fill="#eee419"/>
<circle cx="128.0" cy="192.7" r="1.55" fill="#f57d19"/>
<circle cx="167.9" cy="70.6" r="1.55" fill="#46c6b4"/>
<circle cx="93.6" cy="121.7" r="1.55" fill="#2332a0"/>
<circle cx="189.3" cy="73.6" r="1.55" fill="#b4d737"/>
<circle cx="217.6" cy="101.2" r="1.55" fill="#46c6b4"/>
<circle cx="216.1" cy="141.6" r="1.55" fill="#23b9e8"/>
<circle cx="200.4" cy="141.1" r="1.55" fill="#2332a0"/>
<circle cx="224.0" cy="185.7" r="1.55" fill="#23b9e8"/>
<circle cx="167.6" cy="56.3" r="1.55" fill="#23b9e8"/>
<circle cx="162.7" cy="155.0" r="1.5" fill="#e41e1e"/>
<circle cx="210.0" cy="94.8" r="1.55" fill="#b4d737"/>
<circle cx="192.4" cy="136.3" r="1.55" fill="#23b9e8"/>
<circle cx="143.7" cy="63.0" r="1.55" fill="#eee419"/>
<circle cx="171.7" cy="115.5" r="1.55" fill="#7dcd73"/>
<circle cx="188.9" cy="174.3" r="1.55" fill="#7dcd73"/>
<circle cx="190.8" cy="128.5" r="1.55" fill="#7dcd73"/>
<circle cx="118.8" cy="77.4" r="1.55" fill="#eee419"/>
<circle cx="93.7" cy="75.1" r="1.55" fill="#1e55cd"/>
<circle cx="221.6" cy="190.2" r="1.55" fill="#eee419"/>
<circle cx="176.2" cy="107.6" r="1.55" fill="#1e55cd"/>
<circle cx="186.2" cy="188.4" r="1.55" fill="#b4d737"/>
<circle cx="182.1" cy="168.9" r="1.55" fill="#7dcd73"/>
<circle cx="163.2" cy="116.4" r="1.55" fill="#7dcd73"/>
<circle cx="77.1" cy="92.1" r="1.55" fill="#2332a0"/>
<circle cx="169.3" cy="121.6" r="1.55" fill="#1e55cd"/>
<circle cx="225.7" cy="166.7" r="1.55" fill="#7dcd73"/>
<circle cx="189.6" cy="184.3" r="1.55" fill="#23b9e8"/>
<circle cx="197.3" cy="118.9" r="1.55" fill="#eee419"/>
<circle cx="174.8" cy="170.5" r="1.55" fill="#f57d19"/>
<circle cx="225.0" cy="178.8" r="1.55" fill="#46c6b4"/>
<circle cx="91.2" cy="103.8" r="1.55" fill="#1e55cd"/>
<circle cx="208.6" cy="194.4" r="1.55" fill="#2332a0"/>
<circle cx="72.7" cy="92.4" r="1.55" fill="#23b9e8"/>
<circle cx="226.4" cy="144.4" r="1.55" fill="#b4d737"/>
<circle cx="207.4" cy="114.1" r="1.55" fill="#7dcd73"/>
<circle cx="156.8" cy="96.1" r="1.55" fill="#7dcd73"/>
<circle cx="214.5" cy="92.4" r="1.55" fill="#2332a0"/>
<circle cx="94.5" cy="121.7" r="1.55" fill="#e41e1e"/>
<circle cx="89.3" cy="80.0" r="1.55" fill="#eee419"/>
<circle cx="228.2" cy="170.7" r="1.55" fill="#23b9e8"/>
<circle cx="210.3" cy="154.7" r="1.55" fill="#23b9e8"/>
<circle cx="195.5" cy="69.9" r="1.55" fill="#46c6b4"/>
<circle cx="172.7" cy="108.7" r="1.55" fill="#e41e1e"/>
<circle cx="200.6" cy="112.9" r="1.55" fill="#eee419"/>
<circle cx="188.0" cy="110.0" r="1.55" fill="#7dcd73"/>
<circle cx="194.3" cy="113.3" r="1.55" fill="#b4d737"/>
<circle cx="166.7" cy="153.0" r="1.55" fill="#e41e1e"/>
<circle cx="212.4" cy="167.2" r="1.55" fill="#2332a0"/>
<circle cx="220.0" cy="107.2" r="1.55" fill="#b4d737"/>
<circle cx="169.2" cy="106.5" r="1.55" fill="#eee419"/>
<circle cx="174.3" cy="59.3" r="1.55" fill="#23b9e8"/>
<circle cx="184.7" cy="198.0" r="1.55" fill="#1e55cd"/>
<circle cx="203.3" cy="79.3" r="1.55" fill="#7dcd73"/>
<circle cx="216.5" cy="112.5" r="1.55" fill="#23b9e8"/>
<circle cx="119.4" cy="80.0" r="1.55" fill="#eee419"/>
<circle cx="196.0" cy="107.7" r="1.55" fill="#2332a0"/>
<circle cx="163.4" cy="64.5" r="1.55" fill="#23b9e8"/>
<circle cx="157.5" cy="192.7" r="1.55" fill="#eee419"/>
<circle cx="169.4" cy="132.9" r="1.55" fill="#e41e1e"/>
<circle cx="213.3" cy="186.5" r="1.55" fill="#eee419"/>
<circle cx="192.6" cy="140.0" r="1.55" fill="#b4d737"/>
<circle cx="219.8" cy="100.6" r="1.55" fill="#eee419"/>
<circle cx="95.4" cy="98.7" r="1.55" fill="#2332a0"/>
<circle cx="172.4" cy="90.1" r="1.55" fill="#e41e1e"/>
<circle cx="181.2" cy="84.6" r="1.55" fill="#7dcd73"/>
<circle cx="118.5" cy="187.9" r="1.55" fill="#e41e1e"/>
<circle cx="212.4" cy="144.9" r="1.55" fill="#7dcd73"/>
<circle cx="228.8" cy="156.0" r="1.55" fill="#2332a0"/>
<circle cx="207.6" cy="122.3" r="1.55" fill="#e41e1e"/>
<circle cx="193.6" cy="184.8" r="1.55" fill="#1e55cd"/>
<circle cx="92.9" cy="72.0" r="1.55" fill="#46c6b4"/>
<circle cx="234.7" cy="181.6" r="1.55" fill="#b4d737"/>
<circle cx="130.9" cy="179.9" r="1.55" fill="#1e55cd"/>
<circle cx="117.6" cy="183.5" r="1.55" fill="#e41e1e"/>
<circle cx="205.2" cy="156.5" r="1.55" fill="#7dcd73"/>
<circle cx="161.4" cy="67.0" r="1.55" fill="#46c6b4"/>
<circle cx="165.9" cy="170.8" r="1.55" fill="#e41e1e"/>
<circle cx="210.9" cy="181.9" r="1.55" fill="#46c6b4"/>
<circle cx="196.8" cy="193.9" r="1.55" fill="#7dcd73"/>
<circle cx="200.5" cy="182.9" r="1.55" fill="#2332a0"/>
<circle cx="209.4" cy="136.3" r="1.55" fill="#1e55cd"/>
<circle cx="215.8" cy="131.0" r="1.55" fill="#e41e1e"/>
<circle cx="210.6" cy="183.9" r="1.55" fill="#23b9e8"/>
<circle cx="73.4" cy="87.1" r="1.55" fill="#7dcd73"/>
<circle cx="86.4" cy="102.5" r="1.55" fill="#e41e1e"/>
<circle cx="160.0" cy="102.1" r="1.55" fill="#1e55cd"/>
<circle cx="190.4" cy="84.9" r="1.55" fill="#1e55cd"/>
<circle cx="222.5" cy="136.6" r="1.55" fill="#b4d737"/>
<circle cx="200.5" cy="117.1" r="1.55" fill="#46c6b4"/>
<circle cx="231.2" cy="129.9" r="1.55" fill="#e41e1e"/>
<circle cx="213.9" cy="141.0" r="1.55" fill="#b4d737"/>
<circle cx="214.7" cy="78.3" r="1.55" fill="#46c6b4"/>
<circle cx="197.6" cy="127.4" r="1.55" fill="#1e55cd"/>
<circle cx="226.8" cy="173.7" r="1.55" fill="#1e55cd"/>
<circle cx="223.6" cy="94.5" r="1.55" fill="#7dcd73"/>
<circle cx="123.3" cy="191.7" r="1.55" fill="#e41e1e"/>
<circle cx="203.9" cy="196.1" r="1.55" fill="#46c6b4"/>
<circle cx="201.7" cy="141.6" r="1.55" fill="#23b9e8"/>
<circle cx="122.6" cy="174.3" r="1.55" fill="#1e55cd"/>
<circle cx="97.5" cy="168.8" r="1.55" fill="#2332a0"/>
<circle cx="196.9" cy="65.7" r="1.55" fill="#23b9e8"/>
<circle cx="200.5" cy="108.4" r="1.55" fill="#b4d737"/>
<circle cx="87.1" cy="79.9" r="1.55" fill="#46c6b4"/>
<circle cx="237.3" cy="122.6" r="1.55" fill="#23b9e8"/>
<circle cx="188.6" cy="83.9" r="1.55" fill="#2332a0"/>
<circle cx="213.8" cy="142.4" r="1.55" fill="#1e55cd"/>
<circle cx="187.6" cy="127.6" r="1.55" fill="#1e55cd"/>
<circle cx="222.5" cy="126.6" r="1.55" fill="#b4d737"/>
<circle cx="77.0" cy="124.0" r="1.55" fill="#23b9e8"/>
<circle cx="235.2" cy="170.7" r="1.55" fill="#46c6b4"/>
<circle cx="84.2" cy="91.1" r="1.55" fill="#1e55cd"/>
<circle cx="166.6" cy="79.5" r="1.55" fill="#eee419"/>
<circle cx="171.8" cy="181.7" r="1.55" fill="#eee419"/>
<circle cx="224.4" cy="123.6" r="1.55" fill="#23b9e8"/>
<circle cx="231.6" cy="180.4" r="1.55" fill="#23b9e8"/>
<circle cx="194.2" cy="175.4" r="1.55" fill="#46c6b4"/>
<circle cx="103.7" cy="159.6" r="1.55" fill="#7dcd73"/>
<circle cx="199.6" cy="84.6" r="1.55" fill="#7dcd73"/>
<circle cx="215.7" cy="110.0" r="1.55" fill="#46c6b4"/>
<circle cx="168.7" cy="186.4" r="1.55" fill="#eee419"/>
<circle cx="74.4" cy="122.4" r="1.55" fill="#23b9e8"/>
<circle cx="200.8" cy="137.2" r="1.55" fill="#1e55cd"/>
<circle cx="181.8" cy="96.9" r="1.55" fill="#7dcd73"/>
<circle cx="209.2" cy="152.0" r="1.55" fill="#1e55cd"/>
<circle cx="213.8" cy="186.8" r="1.55" fill="#7dcd73"/>
<circle cx="78.5" cy="103.7" r="1.55" fill="#7dcd73"/>
<circle cx="211.9" cy="117.0" r="1.55" fill="#1e55cd"/>
<circle cx="197.0" cy="181.2" r="1.55" fill="#23b9e8"/>
<circle cx="186.5" cy="69.2" r="1.55" fill="#23b9e8"/>
<circle cx="176.0" cy="175.9" r="1.55" fill="#1e55cd"/>
<circle cx="227.8" cy="190.0" r="1.55" fill="#2332a0"/>
<circle cx="158.2" cy="197.7" r="1.55" fill="#1e55cd"/>
<circle cx="187.5" cy="68.6" r="1.55" fill="#2332a0"/>
<circle cx="86.9" cy="98.8" r="1.55" fill="#e41e1e"/>
<circle cx="208.6" cy="165.4" r="1.55" fill="#b4d737"/>
<circle cx="171.0" cy="117.5" r="1.55" fill="#e41e1e"/>
<circle cx="101.3" cy="182.4" r="1.55" fill="#eee419"/>
<circle cx="235.3" cy="155.8" r="1.55" fill="#7dcd73"/>
<circle cx="219.1" cy="113.6" r="1.55" fill="#7dcd73"/>
<circle cx="168.9" cy="77.0" r="1.55" fill="#7dcd73"/>
<circle cx="220.2" cy="154.4" r="1.55" fill="#1e55cd"/>
<circle cx="96.8" cy="63.5" r="1.55" fill="#46c6b4"/>
<circle cx="197.1" cy="93.7" r="1.55" fill="#23b9e8"/>
<circle cx="206.0" cy="188.2" r="1.55" fill="#eee419"/>
<circle cx="190.5" cy="154.2" r="1.55" fill="#23b9e8"/>
<circle cx="196.3" cy="140.5" r="1.55" fill="#7dcd73"/>
<circle cx="172.2" cy="60.4" r="1.55" fill="#46c6b4"/>
<circle cx="202.3" cy="182.3" r="1.55" fill="#2332a0"/>
<circle cx="173.1" cy="130.0" r="1.55" fill="#2332a0"/>
<circle cx="191.2" cy="195.9" r="1.55" fill="#7dcd73"/>
<circle cx="83.2" cy="91.8" r="1.55" fill="#e41e1e"/>
<circle cx="174.5" cy="91.5" r="1.55" fill="#23b9e8"/>
<circle cx="160.4" cy="101.1" r="1.55" fill="#b4d737"/>
<circle cx="182.6" cy="162.6" r="1.55" fill="#eee419"/>
<circle cx="198.4" cy="193.8" r="1.55" fill="#23b9e8"/>
<circle cx="121.2" cy="188.3" r="1.55" fill="#e41e1e"/>
<circle cx="150.9" cy="59.3" r="1.55" fill="#b4d737"/>
<circle cx="193.9" cy="79.2" r="1.55" fill="#1e55cd"/>
<circle cx="75.0" cy="114.4" r="1.55" fill="#1e55cd"/>
<circle cx="199.6" cy="157.8" r="1.55" fill="#2332a0"/>
<circle cx="210.5" cy="178.1" r="1.55" fill="#7dcd73"/>
<circle cx="219.2" cy="135.6" r="1.55" fill="#7dcd73"/>
<circle cx="178.8" cy="107.2" r="1.55" fill="#eee419"/>
<circle cx="203.8" cy="171.5" r="1.55" fill="#7dcd73"/>
<circle cx="179.6" cy="162.2" r="1.55" fill="#b4d737"/>
<circle cx="167.6" cy="200.9" r="1.55" fill="#e41e1e"/>
<circle cx="152.4" cy="64.6" r="1.55" fill="#1e55cd"/>
<circle cx="132.3" cy="178.4" r="1.55" fill="#e41e1e"/>
<circle cx="202.9" cy="189.4" r="1.55" fill="#46c6b4"/>
<circle cx="227.1" cy="139.7" r="1.55" fill="#23b9e8"/>
<circle cx="176.7" cy="127.6" r="1.55" fill="#eee419"/>
<circle cx="194.9" cy="184.0" r="1.55" fill="#2332a0"/>
<circle cx="167.9" cy="167.7" r="1.55" fill="#e41e1e"/>
<circle cx="201.5" cy="186.7" r="1.55" fill="#23b9e8"/>
<circle cx="182.3" cy="99.8" r="1.55" fill="#eee419"/>
<circle cx="201.3" cy="98.8" r="1.55" fill="#1e55cd"/>
<circle cx="201.8" cy="120.2" r="1.55" fill="#7dcd73"/>
<circle cx="81.5" cy="112.7" r="1.55" fill="#2332a0"/>
<circle cx="201.4" cy="99.7" r="1.55" fill="#7dcd73"/>
<circle cx="225.0" cy="184.3" r="1.55" fill="#7dcd73"/>
<circle cx="177.8" cy="113.6" r="1.55" fill="#eee419"/>
<circle cx="218.3" cy="156.6" r="1.55" fill="#eee419"/>
<circle cx="192.9" cy="142.7" r="1.55" fill="#b4d737"/>
<circle cx="178.6" cy="202.2" r="1.55" fill="#23b9e8"/>
<circle cx="124.4" cy="174.8" r="1.55" fill="#1e55cd"/>
<circle cx="176.4" cy="110.5" r="1.55" fill="#b4d737"/>
<circle cx="218.7" cy="154.2" r="1.55" fill="#7dcd73"/>
<circle cx="95.5" cy="105.5" r="1.55" fill="#23b9e8"/>
<circle cx="93.1" cy="102.2" r="1.55" fill="#e41e1e"/>
<circle cx="171.1" cy="55.9" r="1.55" fill="#1e55cd"/>
<circle cx="163.1" cy="169.3" r="1.55" fill="#f57d19"/>
<circle cx="87.1" cy="97.5" r="1.55" fill="#7dcd73"/>
<circle cx="198.4" cy="140.3" r="1.55" fill="#2332a0"/>
<circle cx="118.9" cy="66.2" r="1.55" fill="#23b9e8"/>
<circle cx="154.2" cy="92.6" r="1.55" fill="#b4d737"/>
<circle cx="215.9" cy="102.0" r="1.55" fill="#1e55cd"/>
<circle cx="174.1" cy="79.7" r="1.55" fill="#23b9e8"/>
<circle cx="205.1" cy="167.7" r="1.55" fill="#eee419"/>
<circle cx="128.4" cy="192.0" r="1.55" fill="#eee419"/>
<circle cx="88.3" cy="103.5" r="1.55" fill="#e41e1e"/>
<circle cx="198.3" cy="80.7" r="1.55" fill="#2332a0"/>
<circle cx="112.0" cy="167.0" r="1.55" fill="#1e55cd"/>
<circle cx="208.7" cy="103.0" r="1.55" fill="#7dcd73"/>
<circle cx="230.7" cy="135.3" r="1.55" fill="#e41e1e"/>
<circle cx="195.9" cy="174.3" r="1.55" fill="#23b9e8"/>
<circle cx="94.0" cy="111.4" r="1.55" fill="#e41e1e"/>
<circle cx="204.2" cy="148.9" r="1.55" fill="#7dcd73"/>
<circle cx="224.6" cy="191.3" r="1.55" fill="#7dcd73"/>
<circle cx="170.7" cy="188.8" r="1.55" fill="#eee419"/>
<circle cx="188.0" cy="178.7" r="1.55" fill="#2332a0"/>
<circle cx="218.3" cy="113.9" r="1.55" fill="#b4d737"/>
<circle cx="210.2" cy="193.6" r="1.55" fill="#46c6b4"/>
<circle cx="223.5" cy="176.5" r="1.55" fill="#f57d19"/>
<circle cx="219.2" cy="146.4" r="1.55" fill="#23b9e8"/>
<circle cx="235.3" cy="166.4" r="1.55" fill="#23b9e8"/>
<circle cx="167.7" cy="77.6" r="1.55" fill="#eee419"/>
<circle cx="122.0" cy="73.4" r="1.55" fill="#e41e1e"/>
<circle cx="94.4" cy="108.3" r="1.55" fill="#eee419"/>
<circle cx="82.4" cy="97.1" r="1.55" fill="#e41e1e"/>
<circle cx="174.9" cy="97.4" r="1.55" fill="#7dcd73"/>
<circle cx="205.7" cy="156.1" r="1.55" fill="#b4d737"/>
<circle cx="228.9" cy="182.6" r="1.55" fill="#46c6b4"/>
<circle cx="186.2" cy="165.0" r="1.55" fill="#1e55cd"/>
<circle cx="87.4" cy="111.9" r="1.55" fill="#e41e1e"/>
<circle cx="188.0" cy="176.7" r="1.55" fill="#46c6b4"/>
<circle cx="190.9" cy="198.1" r="1.55" fill="#2332a0"/>
<circle cx="79.9" cy="93.6" r="1.55" fill="#7dcd73"/>
<circle cx="214.6" cy="200.8" r="1.55" fill="#e41e1e"/>
<circle cx="77.1" cy="121.3" r="1.55" fill="#23b9e8"/>
<circle cx="97.2" cy="75.0" r="1.55" fill="#eee419"/>
<circle cx="101.5" cy="65.5" r="1.55" fill="#2332a0"/>
<circle cx="176.7" cy="79.2" r="1.55" fill="#eee419"/>
<circle cx="187.6" cy="192.8" r="1.55" fill="#46c6b4"/>
<circle cx="231.1" cy="156.8" r="1.55" fill="#46c6b4"/>
<circle cx="215.9" cy="92.9" r="1.55" fill="#1e55cd"/>
<circle cx="80.8" cy="119.3" r="1.55" fill="#23b9e8"/>
<circle cx="186.7" cy="86.5" r="1.55" fill="#23b9e8"/>
<circle cx="222.9" cy="158.7" r="1.55" fill="#2332a0"/>
<circle cx="176.1" cy="184.4" r="1.55" fill="#1e55cd"/>
<circle cx="227.9" cy="141.5" r="1.55" fill="#23b9e8"/>
<circle cx="157.3" cy="76.7" r="1.55" fill="#23b9e8"/>
<circle cx="207.6" cy="82.4" r="1.55" fill="#7dcd73"/>
<circle cx="162.2" cy="88.0" r="1.55" fill="#23b9e8"/>
<circle cx="171.2" cy="132.2" r="1.55" fill="#eee419"/>
<circle cx="218.4" cy="125.3" r="1.55" fill="#7dcd73"/>
<circle cx="234.4" cy="131.3" r="1.55" fill="#1e55cd"/>
<circle cx="226.4" cy="157.2" r="1.55" fill="#b4d737"/>
<circle cx="85.5" cy="76.3" r="1.55" fill="#23b9e8"/>
<circle cx="101.2" cy="72.1" r="1.55" fill="#b4d737"/>
<circle cx="215.3" cy="92.7" r="1.55" fill="#7dcd73"/>
<circle cx="229.1" cy="164.8" r="1.55" fill="#b4d737"/>
<circle cx="188.0" cy="125.7" r="1.55" fill="#eee419"/>
<circle cx="158.5" cy="122.2" r="1.55" fill="#1e55cd"/>
<circle cx="197.3" cy="112.4" r="1.55" fill="#46c6b4"/>
<circle cx="79.5" cy="110.7" r="1.55" fill="#e41e1e"/>
<circle cx="205.5" cy="136.4" r="1.55" fill="#e41e1e"/>
<circle cx="161.2" cy="121.5" r="1.55" fill="#e41e1e"/>
<circle cx="203.9" cy="70.1" r="1.55" fill="#7dcd73"/>
<circle cx="98.9" cy="70.2" r="1.55" fill="#46c6b4"/>
<circle cx="177.3" cy="129.7" r="1.55" fill="#e41e1e"/>
<circle cx="208.9" cy="163.1" r="1.55" fill="#1e55cd"/>
<circle cx="186.4" cy="75.4" r="1.55" fill="#46c6b4"/>
<circle cx="170.8" cy="55.9" r="1.55" fill="#23b9e8"/>
<circle cx="217.6" cy="124.3" r="1.55" fill="#1e55cd"/>
<circle cx="171.0" cy="186.4" r="1.55" fill="#7dcd73"/>
<circle cx="97.4" cy="176.6" r="1.55" fill="#1e55cd"/>
<circle cx="221.6" cy="111.1" r="1.55" fill="#23b9e8"/>
<circle cx="168.6" cy="156.3" r="1.55" fill="#eee419"/>
<circle cx="181.3" cy="98.1" r="1.55" fill="#eee419"/>
<circle cx="91.0" cy="111.8" r="1.55" fill="#e41e1e"/>
<circle cx="206.8" cy="106.5" r="1.55" fill="#7dcd73"/>
<circle cx="191.9" cy="70.6" r="1.55" fill="#23b9e8"/>
<circle cx="187.5" cy="111.7" r="1.55" fill="#b4d737"/>
<circle cx="216.1" cy="169.2" r="1.55" fill="#7dcd73"/>
<circle cx="174.1" cy="81.5" r="1.55" fill="#7dcd73"/>
<circle cx="194.9" cy="114.8" r="1.55" fill="#b4d737"/>
<circle cx="177.3" cy="178.6" r="1.55" fill="#2332a0"/>
<circle cx="179.9" cy="167.9" r="1.55" fill="#46c6b4"/>
<circle cx="202.7" cy="111.7" r="1.55" fill="#46c6b4"/>
<circle cx="162.7" cy="133.9" r="1.55" fill="#2332a0"/>
<circle cx="180.3" cy="178.3" r="1.55" fill="#2332a0"/>
<circle cx="195.7" cy="119.1" r="1.55" fill="#1e55cd"/>
<circle cx="165.4" cy="188.3" r="1.55" fill="#b4d737"/>
<circle cx="178.3" cy="78.2" r="1.55" fill="#b4d737"/>
<circle cx="160.6" cy="201.6" r="1.55" fill="#1e55cd"/>
<circle cx="91.9" cy="103.6" r="1.55" fill="#e41e1e"/>
<circle cx="145.3" cy="62.8" r="1.55" fill="#b4d737"/>
<circle cx="196.7" cy="62.6" r="1.55" fill="#23b9e8"/>
<circle cx="189.6" cy="64.4" r="1.55" fill="#2332a0"/>
<circle cx="141.7" cy="61.0" r="1.55" fill="#b4d737"/>
<circle cx="143.2" cy="66.8" r="1.55" fill="#b4d737"/>
<circle cx="93.7" cy="72.8" r="1.55" fill="#b4d737"/>
<circle cx="170.9" cy="137.6" r="1.55" fill="#2332a0"/>
<circle cx="103.8" cy="155.0" r="1.55" fill="#1e55cd"/>
<circle cx="114.6" cy="70.9" r="1.55" fill="#1e55cd"/>
<circle cx="209.1" cy="129.1" r="1.55" fill="#7dcd73"/>
<circle cx="184.6" cy="153.3" r="1.55" fill="#2332a0"/>
<circle cx="203.8" cy="120.9" r="1.55" fill="#1e55cd"/>
<circle cx="150.1" cy="81.4" r="1.55" fill="#eee419"/>
<circle cx="210.7" cy="190.9" r="1.55" fill="#1e55cd"/>
<circle cx="215.4" cy="179.5" r="1.55" fill="#23b9e8"/>
<circle cx="201.9" cy="104.7" r="1.55" fill="#23b9e8"/>
<circle cx="201.0" cy="117.3" r="1.55" fill="#eee419"/>
<circle cx="216.3" cy="115.9" r="1.55" fill="#7dcd73"/>
<circle cx="223.2" cy="136.2" r="1.55" fill="#e41e1e"/>
<circle cx="197.1" cy="182.7" r="1.55" fill="#2332a0"/>
<circle cx="211.9" cy="146.3" r="1.55" fill="#7dcd73"/>
<circle cx="190.2" cy="162.8" r="1.55" fill="#23b9e8"/>
<circle cx="204.0" cy="164.6" r="1.55" fill="#2332a0"/>
<circle cx="188.1" cy="146.6" r="1.55" fill="#b4d737"/>
<circle cx="180.0" cy="136.7" r="1.55" fill="#e41e1e"/>
<circle cx="86.0" cy="75.0" r="1.55" fill="#7dcd73"/>
<circle cx="215.9" cy="82.4" r="1.55" fill="#b4d737"/>
<circle cx="188.0" cy="177.5" r="1.55" fill="#23b9e8"/>
<circle cx="154.5" cy="85.7" r="1.55" fill="#eee419"/>
<circle cx="202.2" cy="193.4" r="1.55" fill="#2332a0"/>
<circle cx="182.2" cy="63.8" r="1.55" fill="#2332a0"/>
<circle cx="190.0" cy="79.7" r="1.55" fill="#46c6b4"/>
<circle cx="182.9" cy="138.6" r="1.55" fill="#2332a0"/>
<circle cx="214.5" cy="80.5" r="1.55" fill="#46c6b4"/>
<circle cx="175.3" cy="92.8" r="1.55" fill="#eee419"/>
<circle cx="200.2" cy="79.0" r="1.55" fill="#7dcd73"/>
<circle cx="206.8" cy="90.8" r="1.55" fill="#b4d737"/>
<circle cx="178.3" cy="203.1" r="1.55" fill="#2332a0"/>
<circle cx="224.1" cy="109.6" r="1.55" fill="#7dcd73"/>
<circle cx="179.0" cy="169.6" r="1.55" fill="#e41e1e"/>
<circle cx="194.9" cy="157.6" r="1.55" fill="#2332a0"/>
<circle cx="181.3" cy="66.0" r="1.55" fill="#1e55cd"/>
<circle cx="111.4" cy="186.4" r="1.55" fill="#e41e1e"/>
<circle cx="206.5" cy="127.5" r="1.55" fill="#23b9e8"/>
<circle cx="237.0" cy="156.2" r="1.55" fill="#23b9e8"/>
<circle cx="189.7" cy="179.2" r="1.55" fill="#23b9e8"/>
<circle cx="166.2" cy="206.1" r="1.55" fill="#e41e1e"/>
<circle cx="199.3" cy="77.9" r="1.55" fill="#b4d737"/>
<circle cx="222.8" cy="128.5" r="1.55" fill="#1e55cd"/>
<circle cx="197.7" cy="137.1" r="1.55" fill="#e41e1e"/>
<circle cx="75.4" cy="121.3" r="1.55" fill="#e41e1e"/>
<circle cx="225.9" cy="126.3" r="1.55" fill="#b4d737"/>
<circle cx="171.5" cy="108.1" r="1.55" fill="#eee419"/>
<circle cx="160.9" cy="187.4" r="1.55" fill="#eee419"/>
<circle cx="225.5" cy="140.4" r="1.55" fill="#2332a0"/>
<circle cx="228.2" cy="129.9" r="1.55" fill="#1e55cd"/>
<circle cx="178.2" cy="172.6" r="1.55" fill="#f57d19"/>
<circle cx="79.2" cy="91.2" r="1.55" fill="#7dcd73"/>
<circle cx="195.5" cy="110.3" r="1.55" fill="#46c6b4"/>
<circle cx="188.4" cy="130.2" r="1.55" fill="#7dcd73"/>
<circle cx="188.1" cy="109.9" r="1.55" fill="#23b9e8"/>
<circle cx="196.1" cy="147.9" r="1.55" fill="#46c6b4"/>
<circle cx="239.0" cy="134.7" r="1.55" fill="#e41e1e"/>
<circle cx="213.7" cy="122.4" r="1.55" fill="#e41e1e"/>
<circle cx="208.8" cy="171.4" r="1.55" fill="#7dcd73"/>
<circle cx="220.7" cy="146.0" r="1.55" fill="#1e55cd"/>
<circle cx="199.8" cy="179.2" r="1.55" fill="#46c6b4"/>
<circle cx="199.6" cy="134.8" r="1.55" fill="#e41e1e"/>
<circle cx="126.0" cy="192.4" r="1.55" fill="#e41e1e"/>
<circle cx="103.7" cy="179.2" r="1.55" fill="#1e55cd"/>
<circle cx="75.6" cy="121.2" r="1.55" fill="#1e55cd"/>
<circle cx="201.4" cy="84.7" r="1.55" fill="#7dcd73"/>
<circle cx="191.7" cy="179.3" r="1.55" fill="#1e55cd"/>
<circle cx="95.2" cy="105.7" r="1.55" fill="#e41e1e"/>
<circle cx="177.7" cy="95.2" r="1.55" fill="#eee419"/>
<circle cx="170.9" cy="199.2" r="1.55" fill="#b4d737"/>
<circle cx="213.3" cy="103.3" r="1.55" fill="#eee419"/>
<circle cx="172.0" cy="73.4" r="1.55" fill="#23b9e8"/>
<circle cx="142.3" cy="62.8" r="1.55" fill="#b4d737"/>
<circle cx="210.6" cy="150.8" r="1.55" fill="#23b9e8"/>
<circle cx="173.3" cy="133.0" r="1.55" fill="#e41e1e"/>
<circle cx="210.9" cy="133.7" r="1.55" fill="#7dcd73"/>
<circle cx="80.2" cy="118.2" r="1.55" fill="#e41e1e"/>
<circle cx="179.6" cy="200.2" r="1.55" fill="#23b9e8"/>
<circle cx="194.4" cy="71.2" r="1.55" fill="#1e55cd"/>
<circle cx="188.1" cy="176.2" r="1.55" fill="#46c6b4"/>
<circle cx="165.2" cy="188.4" r="1.55" fill="#b4d737"/>
<circle cx="84.5" cy="103.6" r="1.55" fill="#2332a0"/>
<circle cx="170.1" cy="174.5" r="1.55" fill="#1e55cd"/>
<circle cx="211.4" cy="158.5" r="1.55" fill="#23b9e8"/>
<circle cx="101.0" cy="155.4" r="1.55" fill="#eee419"/>
<circle cx="196.7" cy="140.6" r="1.55" fill="#7dcd73"/>
<circle cx="157.3" cy="75.6" r="1.55" fill="#e41e1e"/>
<circle cx="74.2" cy="100.5" r="1.55" fill="#1e55cd"/>
<circle cx="150.9" cy="66.2" r="1.55" fill="#b4d737"/>
<circle cx="88.2" cy="78.2" r="1.55" fill="#46c6b4"/>
<circle cx="186.6" cy="197.9" r="1.55" fill="#23b9e8"/>
<circle cx="138.3" cy="68.6" r="1.55" fill="#b4d737"/>
<circle cx="92.9" cy="74.1" r="1.55" fill="#46c6b4"/>
<circle cx="104.7" cy="153.8" r="1.55" fill="#2332a0"/>
<circle cx="220.1" cy="186.5" r="1.55" fill="#eee419"/>
<circle cx="216.4" cy="182.0" r="1.55" fill="#f57d19"/>
<circle cx="76.7" cy="105.0" r="1.55" fill="#eee419"/>
<circle cx="215.0" cy="185.8" r="1.55" fill="#1e55cd"/>
<circle cx="220.6" cy="127.5" r="1.55" fill="#1e55cd"/>
<circle cx="194.8" cy="123.9" r="1.55" fill="#23b9e8"/>
<circle cx="168.9" cy="68.4" r="1.55" fill="#23b9e8"/>
<circle cx="207.7" cy="116.2" r="1.55" fill="#7dcd73"/>
<circle cx="221.5" cy="102.1" r="1.55" fill="#23b9e8"/>
<circle cx="89.3" cy="67.5" r="1.55" fill="#1e55cd"/>
<circle cx="162.4" cy="183.1" r="1.55" fill="#eee419"/>
<circle cx="77.2" cy="87.0" r="1.55" fill="#b4d737"/>
<circle cx="172.0" cy="98.0" r="1.55" fill="#b4d737"/>
<circle cx="215.8" cy="141.4" r="1.55" fill="#2332a0"/>
<circle cx="159.7" cy="132.9" r="1.55" fill="#e41e1e"/>
<circle cx="171.6" cy="59.4" r="1.55" fill="#23b9e8"/>
<circle cx="218.1" cy="187.2" r="1.55" fill="#7dcd73"/>
<circle cx="164.4" cy="201.6" r="1.55" fill="#7dcd73"/>
<circle cx="218.0" cy="191.8" r="1.55" fill="#eee419"/>
<circle cx="96.6" cy="157.4" r="1.55" fill="#1e55cd"/>
<circle cx="229.1" cy="169.8" r="1.55" fill="#b4d737"/>
<circle cx="88.7" cy="120.9" r="1.55" fill="#e41e1e"/>
<circle cx="199.8" cy="83.8" r="1.55" fill="#46c6b4"/>
<circle cx="208.9" cy="108.7" r="1.55" fill="#b4d737"/>
<circle cx="74.0" cy="119.7" r="1.55" fill="#7dcd73"/>
<circle cx="205.2" cy="129.7" r="1.55" fill="#b4d737"/>
<circle cx="143.0" cy="168.0" r="1.5" fill="#e41e1e"/>
<circle cx="203.3" cy="100.2" r="1.55" fill="#23b9e8"/>
<circle cx="212.2" cy="183.2" r="1.55" fill="#23b9e8"/>
<circle cx="205.9" cy="88.2" r="1.55" fill="#7dcd73"/>
<circle cx="175.2" cy="93.3" r="1.55" fill="#23b9e8"/>
<circle cx="219.3" cy="181.2" r="1.55" fill="#1e55cd"/>
<circle cx="200.2" cy="97.8" r="1.55" fill="#b4d737"/>
<circle cx="191.0" cy="109.5" r="1.55" fill="#7dcd73"/>
<circle cx="207.6" cy="135.0" r="1.55" fill="#eee419"/>
<circle cx="194.6" cy="150.4" r="1.55" fill="#46c6b4"/>
<circle cx="113.2" cy="71.1" r="1.55" fill="#eee419"/>
<circle cx="165.6" cy="65.5" r="1.55" fill="#1e55cd"/>
<circle cx="79.3" cy="101.3" r="1.55" fill="#e41e1e"/>
<circle cx="183.2" cy="93.8" r="1.55" fill="#7dcd73"/>
<circle cx="202.3" cy="194.8" r="1.55" fill="#46c6b4"/>
<circle cx="140.4" cy="69.6" r="1.55" fill="#7dcd73"/>
<circle cx="208.7" cy="91.5" r="1.55" fill="#23b9e8"/>
<circle cx="159.4" cy="162.9" r="1.55" fill="#e41e1e"/>
<circle cx="212.3" cy="133.7" r="1.55" fill="#7dcd73"/>
<circle cx="165.2" cy="180.0" r="1.55" fill="#eee419"/>
<circle cx="172.5" cy="203.2" r="1.55" fill="#2332a0"/>
<circle cx="190.6" cy="189.3" r="1.55" fill="#7dcd73"/>
<circle cx="168.9" cy="135.0" r="1.55" fill="#1e55cd"/>
<circle cx="136.5" cy="69.3" r="1.55" fill="#7dcd73"/>
<circle cx="216.8" cy="126.2" r="1.55" fill="#1e55cd"/>
<circle cx="219.8" cy="193.3" r="1.55" fill="#eee419"/>
<circle cx="202.8" cy="76.0" r="1.55" fill="#23b9e8"/>
<circle cx="160.0" cy="89.1" r="1.55" fill="#e41e1e"/>
<circle cx="230.0" cy="163.9" r="1.55" fill="#23b9e8"/>
<circle cx="212.3" cy="152.4" r="1.55" fill="#b4d737"/>
<circle cx="237.6" cy="168.5" r="1.55" fill="#2332a0"/>
<circle cx="167.6" cy="176.0" r="1.55" fill="#1e55cd"/>
<circle cx="197.3" cy="68.6" r="1.55" fill="#46c6b4"/>
<circle cx="200.2" cy="95.2" r="1.55" fill="#b4d737"/>
<circle cx="171.8" cy="176.9" r="1.55" fill="#1e55cd"/>
<circle cx="173.1" cy="78.9" r="1.55" fill="#eee419"/>
<circle cx="94.7" cy="118.6" r="1.55" fill="#7dcd73"/>
<circle cx="142.1" cy="68.2" r="1.55" fill="#eee419"/>
<circle cx="221.3" cy="193.0" r="1.55" fill="#eee419"/>
<circle cx="124.3" cy="176.3" r="1.55" fill="#eee419"/>
<circle cx="182.7" cy="63.8" r="1.55" fill="#23b9e8"/>
<circle cx="207.6" cy="165.8" r="1.55" fill="#7dcd73"/>
<circle cx="99.0" cy="172.1" r="1.55" fill="#23b9e8"/>
<circle cx="182.2" cy="86.1" r="1.55" fill="#23b9e8"/>
<circle cx="238.1" cy="134.5" r="1.55" fill="#23b9e8"/>
<circle cx="163.2" cy="93.3" r="1.55" fill="#e41e1e"/>
<circle cx="79.4" cy="105.3" r="1.55" fill="#23b9e8"/>
<circle cx="235.8" cy="129.3" r="1.55" fill="#b4d737"/>
<circle cx="180.5" cy="195.1" r="1.55" fill="#7dcd73"/>
<circle cx="198.2" cy="92.3" r="1.55" fill="#b4d737"/>
<circle cx="238.1" cy="159.5" r="1.55" fill="#1e55cd"/>
<circle cx="186.4" cy="95.4" r="1.55" fill="#eee419"/>
<circle cx="153.9" cy="68.2" r="1.55" fill="#1e55cd"/>
<circle cx="120.2" cy="194.1" r="1.55" fill="#e41e1e"/>
<circle cx="170.2" cy="60.2" r="1.55" fill="#23b9e8"/>
<circle cx="209.0" cy="133.6" r="1.55" fill="#1e55cd"/>
<circle cx="199.9" cy="70.1" r="1.55" fill="#23b9e8"/>
<circle cx="164.9" cy="103.6" r="1.55" fill="#b4d737"/>
<circle cx="215.2" cy="109.3" r="1.55" fill="#2332a0"/>
<circle cx="156.1" cy="63.2" r="1.55" fill="#23b9e8"/>
<circle cx="187.9" cy="101.4" r="1.55" fill="#2332a0"/>
<circle cx="161.6" cy="129.0" r="1.55" fill="#e41e1e"/>
<circle cx="212.3" cy="160.4" r="1.55" fill="#46c6b4"/>
<circle cx="196.1" cy="78.5" r="1.55" fill="#1e55cd"/>
<circle cx="187.0" cy="63.0" r="1.55" fill="#b4d737"/>
<circle cx="225.5" cy="165.8" r="1.55" fill="#23b9e8"/>
<circle cx="202.0" cy="186.6" r="1.55" fill="#23b9e8"/>
<circle cx="182.6" cy="195.5" r="1.55" fill="#46c6b4"/>
<circle cx="181.9" cy="159.2" r="1.55" fill="#1e55cd"/>
<circle cx="217.9" cy="167.5" r="1.55" fill="#f57d19"/>
<circle cx="186.0" cy="66.4" r="1.55" fill="#2332a0"/>
<circle cx="170.5" cy="167.9" r="1.55" fill="#e41e1e"/>
<circle cx="231.7" cy="129.9" r="1.55" fill="#e41e1e"/>
<circle cx="74.3" cy="117.2" r="1.55" fill="#7dcd73"/>
<circle cx="170.3" cy="121.3" r="1.55" fill="#1e55cd"/>
<circle cx="163.1" cy="58.4" r="1.55" fill="#23b9e8"/>
<circle cx="140.8" cy="62.8" r="1.55" fill="#eee419"/>
<circle cx="216.0" cy="180.8" r="1.55" fill="#1e55cd"/>
<circle cx="182.9" cy="68.3" r="1.55" fill="#7dcd73"/>
<circle cx="220.0" cy="94.0" r="1.55" fill="#7dcd73"/>
<circle cx="84.2" cy="131.8" r="1.55" fill="#23b9e8"/>
<circle cx="178.5" cy="190.4" r="1.55" fill="#1e55cd"/>
<circle cx="215.3" cy="109.0" r="1.55" fill="#7dcd73"/>
<circle cx="197.0" cy="125.0" r="1.55" fill="#e41e1e"/>
<circle cx="229.3" cy="121.4" r="1.55" fill="#e41e1e"/>
<circle cx="205.3" cy="196.4" r="1.55" fill="#23b9e8"/>
<circle cx="179.3" cy="183.3" r="1.55" fill="#46c6b4"/>
<circle cx="217.9" cy="159.6" r="1.55" fill="#1e55cd"/>
<circle cx="98.8" cy="170.0" r="1.55" fill="#23b9e8"/>
<circle cx="93.5" cy="104.6" r="1.55" fill="#1e55cd"/>
<circle cx="221.4" cy="177.6" r="1.55" fill="#7dcd73"/>
<circle cx="171.9" cy="128.0" r="1.55" fill="#eee419"/>
<circle cx="175.8" cy="118.3" r="1.55" fill="#1e55cd"/>
<circle cx="231.7" cy="163.0" r="1.55" fill="#2332a0"/>
<circle cx="92.0" cy="103.5" r="1.55" fill="#2332a0"/>
<circle cx="175.2" cy="160.8" r="1.55" fill="#f57d19"/>
<circle cx="182.7" cy="63.8" r="1.55" fill="#46c6b4"/>
<circle cx="131.0" cy="187.4" r="1.55" fill="#e41e1e"/>
<circle cx="94.3" cy="69.0" r="1.55" fill="#23b9e8"/>
<circle cx="78.5" cy="119.5" r="1.55" fill="#23b9e8"/>
<circle cx="196.6" cy="184.0" r="1.55" fill="#1e55cd"/>
<circle cx="204.2" cy="95.3" r="1.55" fill="#7dcd73"/>
<circle cx="197.7" cy="146.4" r="1.55" fill="#46c6b4"/>
<circle cx="173.3" cy="113.3" r="1.55" fill="#e41e1e"/>
<circle cx="97.8" cy="61.6" r="1.55" fill="#b4d737"/>
<circle cx="175.9" cy="92.5" r="1.55" fill="#eee419"/>
<circle cx="162.5" cy="65.2" r="1.55" fill="#23b9e8"/>
<circle cx="185.8" cy="73.2" r="1.55" fill="#b4d737"/>
<circle cx="148.0" cy="63.1" r="1.55" fill="#b4d737"/>
<circle cx="167.1" cy="178.3" r="1.55" fill="#e41e1e"/>
<circle cx="228.7" cy="133.1" r="1.55" fill="#e41e1e"/>
<circle cx="231.8" cy="182.5" r="1.55" fill="#46c6b4"/>
<circle cx="197.3" cy="105.1" r="1.55" fill="#b4d737"/>
<circle cx="198.6" cy="188.9" r="1.55" fill="#7dcd73"/>
<circle cx="174.3" cy="105.4" r="1.55" fill="#23b9e8"/>
<circle cx="216.2" cy="166.6" r="1.55" fill="#b4d737"/>
<circle cx="208.8" cy="190.8" r="1.55" fill="#2332a0"/>
<circle cx="159.1" cy="64.2" r="1.55" fill="#23b9e8"/>
<circle cx="110.4" cy="180.9" r="1.55" fill="#e41e1e"/>
<circle cx="186.3" cy="106.6" r="1.55" fill="#e41e1e"/>
<circle cx="199.9" cy="183.7" r="1.55" fill="#1e55cd"/>
<circle cx="215.2" cy="92.1" r="1.55" fill="#46c6b4"/>
<circle cx="98.3" cy="174.6" r="1.55" fill="#eee419"/>
<circle cx="194.8" cy="73.2" r="1.55" fill="#1e55cd"/>
<circle cx="214.9" cy="126.6" r="1.55" fill="#23b9e8"/>
<circle cx="201.3" cy="110.7" r="1.55" fill="#7dcd73"/>
<circle cx="216.1" cy="115.8" r="1.55" fill="#b4d737"/>
<circle cx="229.6" cy="164.4" r="1.55" fill="#23b9e8"/>
<circle cx="163.2" cy="78.0" r="1.55" fill="#e41e1e"/>
<circle cx="181.6" cy="188.2" r="1.55" fill="#23b9e8"/>
<circle cx="206.2" cy="115.7" r="1.55" fill="#b4d737"/>
<circle cx="224.2" cy="101.3" r="1.55" fill="#1e55cd"/>
<circle cx="230.2" cy="123.1" r="1.55" fill="#e41e1e"/>
<circle cx="193.8" cy="90.2" r="1.55" fill="#46c6b4"/>
<circle cx="78.0" cy="115.8" r="1.55" fill="#2332a0"/>
<circle cx="160.9" cy="136.8" r="1.55" fill="#1e55cd"/>
<circle cx="233.3" cy="181.3" r="1.55" fill="#7dcd73"/>
<circle cx="178.1" cy="82.3" r="1.55" fill="#b4d737"/>
<circle cx="210.6" cy="85.9" r="1.55" fill="#b4d737"/>
<circle cx="156.4" cy="102.5" r="1.55" fill="#7dcd73"/>
<circle cx="226.6" cy="190.3" r="1.55" fill="#2332a0"/>
<circle cx="214.1" cy="98.9" r="1.55" fill="#1e55cd"/>
<circle cx="168.1" cy="206.6" r="1.55" fill="#e41e1e"/>
<circle cx="209.5" cy="193.5" r="1.55" fill="#eee419"/>
<circle cx="168.0" cy="59.8" r="1.55" fill="#23b9e8"/>
<circle cx="106.6" cy="165.2" r="1.55" fill="#e41e1e"/>
<circle cx="208.9" cy="104.8" r="1.55" fill="#b4d737"/>
<circle cx="194.7" cy="143.2" r="1.55" fill="#46c6b4"/>
<circle cx="201.8" cy="141.3" r="1.55" fill="#23b9e8"/>
<circle cx="173.7" cy="89.3" r="1.55" fill="#7dcd73"/>
<circle cx="168.7" cy="87.7" r="1.55" fill="#eee419"/>
<circle cx="96.0" cy="66.2" r="1.55" fill="#23b9e8"/>
<circle cx="185.4" cy="147.1" r="1.55" fill="#7dcd73"/>
<circle cx="198.5" cy="76.0" r="1.55" fill="#46c6b4"/>
<circle cx="213.9" cy="129.3" r="1.55" fill="#23b9e8"/>
<circle cx="190.3" cy="96.3" r="1.55" fill="#23b9e8"/>
<circle cx="178.3" cy="99.9" r="1.55" fill="#eee419"/>
<circle cx="170.3" cy="58.9" r="1.55" fill="#23b9e8"/>
<circle cx="230.5" cy="172.0" r="1.55" fill="#1e55cd"/>
<circle cx="231.7" cy="165.2" r="1.55" fill="#f57d19"/>
<circle cx="199.8" cy="68.0" r="1.55" fill="#46c6b4"/>
<circle cx="191.0" cy="103.1" r="1.55" fill="#23b9e8"/>
<circle cx="164.6" cy="194.2" r="1.55" fill="#b4d737"/>
<circle cx="181.4" cy="68.1" r="1.55" fill="#46c6b4"/>
<circle cx="125.6" cy="182.9" r="1.55" fill="#e41e1e"/>
<circle cx="144.5" cy="67.6" r="1.55" fill="#b4d737"/>
<circle cx="224.4" cy="125.5" r="1.55" fill="#b4d737"/>
<circle cx="206.8" cy="172.1" r="1.55" fill="#23b9e8"/>
<circle cx="177.2" cy="125.6" r="1.55" fill="#1e55cd"/>
<circle cx="180.7" cy="169.9" r="1.55" fill="#b4d737"/>
<circle cx="95.2" cy="69.4" r="1.55" fill="#46c6b4"/>
<circle cx="109.3" cy="184.9" r="1.55" fill="#23b9e8"/>
<circle cx="163.0" cy="185.2" r="1.55" fill="#7dcd73"/>
<circle cx="168.2" cy="131.2" r="1.55" fill="#eee419"/>
<circle cx="190.1" cy="71.2" r="1.55" fill="#23b9e8"/>
<circle cx="219.8" cy="100.5" r="1.55" fill="#b4d737"/>
<circle cx="177.3" cy="59.5" r="1.55" fill="#23b9e8"/>
<circle cx="222.0" cy="161.8" r="1.55" fill="#7dcd73"/>
<circle cx="173.7" cy="194.9" r="1.55" fill="#2332a0"/>
<circle cx="208.1" cy="168.1" r="1.55" fill="#1e55cd"/>
<circle cx="175.1" cy="190.5" r="1.55" fill="#eee419"/>
<circle cx="177.3" cy="78.8" r="1.55" fill="#e41e1e"/>
<circle cx="201.3" cy="180.7" r="1.55" fill="#46c6b4"/>
<circle cx="188.5" cy="197.9" r="1.55" fill="#7dcd73"/>
<circle cx="221.9" cy="163.4" r="1.55" fill="#1e55cd"/>
<circle cx="173.9" cy="169.8" r="1.55" fill="#1e55cd"/>
<circle cx="166.6" cy="97.0" r="1.55" fill="#23b9e8"/>
<circle cx="238.0" cy="169.7" r="1.55" fill="#2332a0"/>
<circle cx="169.2" cy="173.7" r="1.55" fill="#b4d737"/>
<circle cx="88.5" cy="109.4" r="1.55" fill="#2332a0"/>
<circle cx="236.7" cy="164.0" r="1.55" fill="#46c6b4"/>
<circle cx="187.9" cy="179.0" r="1.55" fill="#46c6b4"/>
<circle cx="225.1" cy="151.8" r="1.55" fill="#23b9e8"/>
<circle cx="232.0" cy="179.2" r="1.55" fill="#1e55cd"/>
<circle cx="202.4" cy="74.2" r="1.55" fill="#2332a0"/>
<circle cx="170.9" cy="103.2" r="1.55" fill="#eee419"/>
<circle cx="97.4" cy="61.4" r="1.55" fill="#46c6b4"/>
<circle cx="234.2" cy="142.9" r="1.55" fill="#23b9e8"/>
<circle cx="239.4" cy="133.2" r="1.55" fill="#1e55cd"/>
<circle cx="174.0" cy="93.2" r="1.55" fill="#eee419"/>
<circle cx="172.2" cy="131.0" r="1.55" fill="#eee419"/>
<circle cx="236.3" cy="128.4" r="1.55" fill="#1e55cd"/>
<circle cx="187.6" cy="112.0" r="1.55" fill="#1e55cd"/>
<circle cx="173.9" cy="62.4" r="1.55" fill="#7dcd73"/>
<circle cx="168.4" cy="203.8" r="1.55" fill="#eee419"/>
<circle cx="187.2" cy="93.7" r="1.55" fill="#7dcd73"/>
<circle cx="197.1" cy="102.9" r="1.55" fill="#23b9e8"/>
<circle cx="157.7" cy="196.4" r="1.55" fill="#7dcd73"/>
<circle cx="222.7" cy="165.0" r="1.55" fill="#23b9e8"/>
<circle cx="187.1" cy="149.9" r="1.55" fill="#1e55cd"/>
<circle cx="186.0" cy="65.1" r="1.55" fill="#b4d737"/>
<circle cx="119.4" cy="81.2" r="1.55" fill="#23b9e8"/>
<circle cx="186.3" cy="161.5" r="1.55" fill="#eee419"/>
<circle cx="155.9" cy="62.4" r="1.55" fill="#b4d737"/>
<circle cx="93.7" cy="72.7" r="1.55" fill="#b4d737"/>
<circle cx="164.1" cy="137.4" r="1.55" fill="#e41e1e"/>
<circle cx="200.8" cy="143.7" r="1.55" fill="#7dcd73"/>
<circle cx="165.9" cy="102.4" r="1.55" fill="#e41e1e"/>
<circle cx="209.5" cy="195.0" r="1.55" fill="#eee419"/>
<circle cx="188.7" cy="155.3" r="1.55" fill="#2332a0"/>
<circle cx="202.0" cy="164.7" r="1.55" fill="#1e55cd"/>
<circle cx="181.7" cy="199.4" r="1.55" fill="#1e55cd"/>
<circle cx="171.0" cy="191.4" r="1.55" fill="#eee419"/>
<circle cx="149.2" cy="60.4" r="1.55" fill="#b4d737"/>
<circle cx="236.5" cy="171.4" r="1.55" fill="#eee419"/>
<circle cx="85.8" cy="121.6" r="1.55" fill="#eee419"/>
<circle cx="118.4" cy="70.4" r="1.55" fill="#eee419"/>
<circle cx="224.8" cy="115.8" r="1.55" fill="#eee419"/>
<circle cx="171.7" cy="99.0" r="1.55" fill="#b4d737"/>
<circle cx="122.5" cy="82.2" r="1.55" fill="#23b9e8"/>
<circle cx="194.0" cy="80.5" r="1.55" fill="#46c6b4"/>
<circle cx="197.8" cy="177.4" r="1.55" fill="#23b9e8"/>
<circle cx="184.3" cy="81.4" r="1.55" fill="#23b9e8"/>
<circle cx="155.0" cy="121.0" r="1.5" fill="#e41e1e"/>
<circle cx="123.2" cy="192.8" r="1.55" fill="#eee419"/>
<circle cx="205.1" cy="181.1" r="1.55" fill="#23b9e8"/>
<circle cx="196.8" cy="127.0" r="1.55" fill="#1e55cd"/>
<circle cx="175.3" cy="60.6" r="1.55" fill="#23b9e8"/>
<circle cx="158.7" cy="64.1" r="1.55" fill="#46c6b4"/>
<circle cx="158.1" cy="78.1" r="1.55" fill="#e41e1e"/>
<circle cx="208.8" cy="162.7" r="1.55" fill="#46c6b4"/>
<circle cx="127.0" cy="184.4" r="1.55" fill="#f57d19"/>
<circle cx="171.8" cy="196.2" r="1.55" fill="#1e55cd"/>
<circle cx="159.2" cy="89.1" r="1.55" fill="#e41e1e"/>
<circle cx="202.8" cy="178.0" r="1.55" fill="#23b9e8"/>
<circle cx="178.2" cy="192.0" r="1.55" fill="#7dcd73"/>
<circle cx="162.7" cy="206.9" r="1.55" fill="#eee419"/>
<circle cx="188.5" cy="187.7" r="1.55" fill="#7dcd73"/>
<circle cx="211.2" cy="196.4" r="1.55" fill="#1e55cd"/>
<circle cx="87.0" cy="108.3" r="1.55" fill="#7dcd73"/>
<circle cx="161.1" cy="98.4" r="1.55" fill="#eee419"/>
<circle cx="194.1" cy="94.2" r="1.55" fill="#46c6b4"/>
<circle cx="185.6" cy="161.2" r="1.55" fill="#1e55cd"/>
<circle cx="177.1" cy="63.7" r="1.55" fill="#23b9e8"/>
<circle cx="158.8" cy="189.3" r="1.55" fill="#eee419"/>
<circle cx="210.5" cy="179.2" r="1.55" fill="#23b9e8"/>
<circle cx="176.7" cy="96.0" r="1.55" fill="#eee419"/>
<circle cx="199.3" cy="162.1" r="1.55" fill="#1e55cd"/>
<circle cx="158.7" cy="59.4" r="1.55" fill="#23b9e8"/>
<circle cx="154.8" cy="59.9" r="1.55" fill="#eee419"/>
<circle cx="177.6" cy="100.8" r="1.55" fill="#7dcd73"/>
<circle cx="208.0" cy="147.1" r="1.55" fill="#7dcd73"/>
<circle cx="177.8" cy="202.8" r="1.55" fill="#46c6b4"/>
<circle cx="153.5" cy="79.0" r="1.55" fill="#f57d19"/>
<circle cx="176.1" cy="114.2" r="1.55" fill="#b4d737"/>
<circle cx="223.9" cy="180.5" r="1.55" fill="#f57d19"/>
<circle cx="215.0" cy="126.6" r="1.55" fill="#eee419"/>
<circle cx="207.4" cy="157.0" r="1.55" fill="#1e55cd"/>
<circle cx="157.5" cy="67.4" r="1.55" fill="#46c6b4"/>
<circle cx="175.1" cy="58.1" r="1.55" fill="#7dcd73"/>
<circle cx="166.1" cy="126.2" r="1.55" fill="#e41e1e"/>
<circle cx="203.7" cy="195.9" r="1.55" fill="#23b9e8"/>
<circle cx="230.3" cy="177.1" r="1.55" fill="#1e55cd"/>
<circle cx="213.8" cy="175.5" r="1.55" fill="#1e55cd"/>
<circle cx="191.5" cy="123.3" r="1.55" fill="#7dcd73"/>
<circle cx="218.2" cy="165.1" r="1.55" fill="#7dcd73"/>
<circle cx="94.0" cy="119.6" r="1.55" fill="#23b9e8"/>
<circle cx="183.1" cy="133.5" r="1.55" fill="#e41e1e"/>
<circle cx="157.1" cy="188.7" r="1.55" fill="#eee419"/>
<circle cx="105.0" cy="71.9" r="1.55" fill="#e41e1e"/>
<circle cx="165.6" cy="58.7" r="1.55" fill="#1e55cd"/>
<circle cx="157.6" cy="67.5" r="1.55" fill="#46c6b4"/>
<circle cx="222.0" cy="125.7" r="1.55" fill="#7dcd73"/>
<circle cx="75.1" cy="104.6" r="1.55" fill="#eee419"/>
<circle cx="229.6" cy="127.1" r="1.55" fill="#b4d737"/>
<circle cx="177.2" cy="118.3" r="1.55" fill="#eee419"/>
<circle cx="84.7" cy="96.9" r="1.55" fill="#23b9e8"/>
<circle cx="161.1" cy="195.1" r="1.55" fill="#e41e1e"/>
<circle cx="175.8" cy="132.5" r="1.55" fill="#1e55cd"/>
<circle cx="173.0" cy="77.9" r="1.55" fill="#46c6b4"/>
<circle cx="202.9" cy="151.0" r="1.55" fill="#1e55cd"/>
<circle cx="205.6" cy="177.6" r="1.55" fill="#2332a0"/>
<circle cx="185.3" cy="190.7" r="1.55" fill="#46c6b4"/>
<circle cx="102.5" cy="70.8" r="1.55" fill="#e41e1e"/>
<circle cx="144.7" cy="75.6" r="1.55" fill="#1e55cd"/>
<circle cx="176.6" cy="108.1" r="1.55" fill="#1e55cd"/>
<circle cx="161.1" cy="202.6" r="1.55" fill="#2332a0"/>
<circle cx="193.8" cy="196.8" r="1.55" fill="#b4d737"/>
<circle cx="177.7" cy="125.5" r="1.55" fill="#7dcd73"/>
<circle cx="189.3" cy="136.9" r="1.55" fill="#1e55cd"/>
<circle cx="226.3" cy="133.5" r="1.55" fill="#1e55cd"/>
<circle cx="190.0" cy="73.2" r="1.55" fill="#23b9e8"/>
<circle cx="207.6" cy="175.6" r="1.55" fill="#46c6b4"/>
<circle cx="72.8" cy="96.0" r="1.55" fill="#23b9e8"/>
<circle cx="154.2" cy="92.3" r="1.55" fill="#eee419"/>
<circle cx="163.4" cy="194.0" r="1.55" fill="#eee419"/>
<circle cx="93.6" cy="76.2" r="1.55" fill="#23b9e8"/>
<circle cx="120.8" cy="184.5" r="1.55" fill="#1e55cd"/>
<circle cx="97.3" cy="103.4" r="1.55" fill="#1e55cd"/>
<circle cx="120.3" cy="174.7" r="1.55" fill="#e41e1e"/>
<circle cx="188.7" cy="134.5" r="1.55" fill="#eee419"/>
<circle cx="192.1" cy="68.6" r="1.55" fill="#1e55cd"/>
<circle cx="86.0" cy="74.4" r="1.55" fill="#46c6b4"/>
<circle cx="206.5" cy="191.8" r="1.55" fill="#7dcd73"/>
<circle cx="172.7" cy="117.5" r="1.55" fill="#2332a0"/>
<circle cx="177.2" cy="114.9" r="1.55" fill="#7dcd73"/>
<circle cx="118.7" cy="183.8" r="1.55" fill="#2332a0"/>
<circle cx="219.4" cy="110.4" r="1.55" fill="#46c6b4"/>
<circle cx="186.4" cy="152.6" r="1.55" fill="#46c6b4"/>
<circle cx="184.3" cy="81.9" r="1.55" fill="#23b9e8"/>
<circle cx="222.8" cy="134.4" r="1.55" fill="#1e55cd"/>
<circle cx="179.3" cy="116.0" r="1.55" fill="#1e55cd"/>
<circle cx="207.8" cy="116.0" r="1.55" fill="#b4d737"/>
<circle cx="76.4" cy="90.8" r="1.55" fill="#2332a0"/>
<circle cx="158.5" cy="177.6" r="1.55" fill="#1e55cd"/>
<circle cx="207.8" cy="82.2" r="1.55" fill="#46c6b4"/>
<circle cx="190.3" cy="142.5" r="1.55" fill="#7dcd73"/>
<circle cx="73.2" cy="120.1" r="1.55" fill="#7dcd73"/>
<circle cx="75.6" cy="85.5" r="1.55" fill="#eee419"/>
<circle cx="191.4" cy="115.9" r="1.55" fill="#7dcd73"/>
<circle cx="187.2" cy="82.0" r="1.55" fill="#46c6b4"/>
<circle cx="186.4" cy="189.4" r="1.55" fill="#b4d737"/>
<circle cx="232.1" cy="157.9" r="1.55" fill="#7dcd73"/>
<circle cx="186.5" cy="170.2" r="1.55" fill="#eee419"/>
<circle cx="161.8" cy="185.5" r="1.55" fill="#2332a0"/>
<circle cx="202.5" cy="107.2" r="1.55" fill="#7dcd73"/>
<circle cx="195.7" cy="184.2" r="1.55" fill="#23b9e8"/>
<circle cx="222.6" cy="153.3" r="1.55" fill="#1e55cd"/>
<circle cx="180.1" cy="98.7" r="1.55" fill="#7dcd73"/>
<circle cx="176.8" cy="132.0" r="1.55" fill="#eee419"/>
<circle cx="166.2" cy="133.0" r="1.55" fill="#2332a0"/>
<circle cx="181.1" cy="82.1" r="1.55" fill="#eee419"/>
<circle cx="236.2" cy="134.5" r="1.55" fill="#1e55cd"/>
<circle cx="84.2" cy="92.3" r="1.55" fill="#1e55cd"/>
<circle cx="207.1" cy="83.2" r="1.55" fill="#b4d737"/>
<circle cx="159.6" cy="175.6" r="1.55" fill="#b4d737"/>
<circle cx="187.6" cy="139.7" r="1.55" fill="#23b9e8"/>
<circle cx="225.2" cy="122.3" r="1.55" fill="#7dcd73"/>
<circle cx="223.3" cy="111.7" r="1.55" fill="#23b9e8"/>
<circle cx="80.2" cy="123.3" r="1.55" fill="#e41e1e"/>
<circle cx="195.8" cy="189.7" r="1.55" fill="#7dcd73"/>
<circle cx="183.4" cy="196.3" r="1.55" fill="#b4d737"/>
<circle cx="179.8" cy="99.2" r="1.55" fill="#7dcd73"/>
<circle cx="161.1" cy="180.3" r="1.55" fill="#eee419"/>
<circle cx="177.3" cy="200.9" r="1.55" fill="#46c6b4"/>
<circle cx="201.9" cy="87.7" r="1.55" fill="#b4d737"/>
<circle cx="200.2" cy="136.6" r="1.55" fill="#2332a0"/>
<circle cx="193.6" cy="121.7" r="1.55" fill="#e41e1e"/>
<circle cx="216.2" cy="111.8" r="1.55" fill="#23b9e8"/>
<circle cx="182.8" cy="67.9" r="1.55" fill="#2332a0"/>
<circle cx="189.7" cy="117.8" r="1.55" fill="#b4d737"/>
<circle cx="185.3" cy="64.2" r="1.55" fill="#23b9e8"/>
<circle cx="177.2" cy="100.9" r="1.55" fill="#b4d737"/>
<circle cx="189.3" cy="124.3" r="1.55" fill="#23b9e8"/>
<circle cx="221.2" cy="177.3" r="1.55" fill="#eee419"/>
<circle cx="72.6" cy="105.0" r="1.55" fill="#2332a0"/>
<circle cx="171.4" cy="136.5" r="1.55" fill="#eee419"/>
<circle cx="220.5" cy="115.7" r="1.55" fill="#eee419"/>
<circle cx="218.3" cy="115.7" r="1.55" fill="#7dcd73"/>
<circle cx="203.5" cy="174.1" r="1.55" fill="#7dcd73"/>
<circle cx="212.6" cy="197.5" r="1.55" fill="#7dcd73"/>
<circle cx="157.8" cy="155.0" r="1.55" fill="#7dcd73"/>
<circle cx="172.8" cy="97.8" r="1.55" fill="#e41e1e"/>
<circle cx="125.1" cy="87.5" r="1.55" fill="#eee419"/>
<circle cx="223.2" cy="132.1" r="1.55" fill="#7dcd73"/>
<circle cx="214.6" cy="78.6" r="1.55" fill="#23b9e8"/>
<circle cx="160.8" cy="183.1" r="1.55" fill="#b4d737"/>
<circle cx="192.1" cy="126.9" r="1.55" fill="#46c6b4"/>
<circle cx="172.4" cy="134.7" r="1.55" fill="#1e55cd"/>
<circle cx="238.1" cy="162.4" r="1.55" fill="#2332a0"/>
<circle cx="199.3" cy="140.7" r="1.55" fill="#23b9e8"/>
<circle cx="73.7" cy="112.3" r="1.55" fill="#e41e1e"/>
<circle cx="162.1" cy="129.4" r="1.55" fill="#eee419"/>
<circle cx="172.4" cy="204.4" r="1.55" fill="#7dcd73"/>
<circle cx="82.8" cy="131.1" r="1.55" fill="#23b9e8"/>
<circle cx="123.1" cy="190.7" r="1.55" fill="#e41e1e"/>
<circle cx="224.5" cy="187.5" r="1.55" fill="#f57d19"/>
<circle cx="194.7" cy="190.3" r="1.55" fill="#b4d737"/>
<circle cx="159.9" cy="66.6" r="1.55" fill="#23b9e8"/>
<circle cx="102.4" cy="178.9" r="1.55" fill="#1e55cd"/>
<circle cx="180.9" cy="186.3" r="1.55" fill="#2332a0"/>
<circle cx="169.6" cy="64.2" r="1.55" fill="#1e55cd"/>
<circle cx="154.7" cy="68.4" r="1.55" fill="#b4d737"/>
<circle cx="195.8" cy="64.9" r="1.55" fill="#46c6b4"/>
<circle cx="194.5" cy="196.4" r="1.55" fill="#23b9e8"/>
<circle cx="193.7" cy="114.7" r="1.55" fill="#eee419"/>
<circle cx="204.9" cy="167.6" r="1.55" fill="#2332a0"/>
<circle cx="156.7" cy="91.3" r="1.55" fill="#23b9e8"/>
<circle cx="202.7" cy="65.4" r="1.55" fill="#23b9e8"/>
<circle cx="168.2" cy="165.8" r="1.55" fill="#e41e1e"/>
<circle cx="173.8" cy="185.3" r="1.55" fill="#f57d19"/>
<circle cx="210.3" cy="147.2" r="1.55" fill="#7dcd73"/>
<circle cx="112.0" cy="182.7" r="1.55" fill="#2332a0"/>
<circle cx="168.4" cy="182.5" r="1.55" fill="#7dcd73"/>
<circle cx="196.1" cy="152.3" r="1.55" fill="#7dcd73"/>
<circle cx="122.6" cy="175.3" r="1.55" fill="#1e55cd"/>
<circle cx="169.9" cy="59.9" r="1.55" fill="#1e55cd"/>
<circle cx="209.4" cy="148.1" r="1.55" fill="#46c6b4"/>
<circle cx="103.7" cy="70.8" r="1.55" fill="#23b9e8"/>
<circle cx="208.6" cy="189.6" r="1.55" fill="#46c6b4"/>
<circle cx="188.0" cy="163.7" r="1.55" fill="#7dcd73"/>
<circle cx="207.0" cy="95.4" r="1.55" fill="#1e55cd"/>
<circle cx="136.4" cy="68.4" r="1.55" fill="#eee419"/>
<circle cx="201.6" cy="76.9" r="1.55" fill="#46c6b4"/>
<circle cx="185.8" cy="89.8" r="1.55" fill="#7dcd73"/>
<circle cx="152.3" cy="62.0" r="1.55" fill="#eee419"/>
<circle cx="124.9" cy="195.8" r="1.55" fill="#e41e1e"/>
<circle cx="130.0" cy="186.8" r="1.55" fill="#eee419"/>
<circle cx="96.4" cy="98.1" r="1.55" fill="#23b9e8"/>
<circle cx="83.6" cy="102.6" r="1.55" fill="#e41e1e"/>
<circle cx="238.2" cy="166.5" r="1.55" fill="#46c6b4"/>
<circle cx="214.1" cy="99.4" r="1.55" fill="#7dcd73"/>
<circle cx="166.6" cy="192.4" r="1.55" fill="#7dcd73"/>
<circle cx="84.0" cy="121.7" r="1.55" fill="#e41e1e"/>
<circle cx="199.2" cy="154.4" r="1.55" fill="#1e55cd"/>
<circle cx="164.2" cy="150.5" r="1.55" fill="#e41e1e"/>
<circle cx="213.6" cy="200.3" r="1.55" fill="#7dcd73"/>
<circle cx="168.5" cy="88.5" r="1.55" fill="#b4d737"/>
<circle cx="158.0" cy="102.2" r="1.55" fill="#7dcd73"/>
<circle cx="199.5" cy="149.1" r="1.55" fill="#23b9e8"/>
<circle cx="202.6" cy="131.3" r="1.55" fill="#b4d737"/>
<circle cx="219.4" cy="170.3" r="1.55" fill="#46c6b4"/>
<circle cx="220.1" cy="124.8" r="1.55" fill="#1e55cd"/>
<circle cx="213.7" cy="92.2" r="1.55" fill="#46c6b4"/>
<circle cx="73.8" cy="92.2" r="1.55" fill="#eee419"/>
<circle cx="140.3" cy="61.9" r="1.55" fill="#7dcd73"/>
<circle cx="93.5" cy="96.8" r="1.55" fill="#23b9e8"/>
<circle cx="166.1" cy="201.9" r="1.55" fill="#eee419"/>
<circle cx="167.7" cy="127.6" r="1.55" fill="#e41e1e"/>
<circle cx="172.9" cy="95.7" r="1.55" fill="#7dcd73"/>
<circle cx="186.7" cy="169.1" r="1.55" fill="#23b9e8"/>
<circle cx="236.9" cy="160.7" r="1.55" fill="#1e55cd"/>
<circle cx="158.2" cy="169.5" r="1.55" fill="#f57d19"/>
<circle cx="181.0" cy="117.1" r="1.55" fill="#e41e1e"/>
<circle cx="217.9" cy="187.3" r="1.55" fill="#1e55cd"/>
<circle cx="176.6" cy="152.3" r="1.55" fill="#e41e1e"/>
<circle cx="210.8" cy="93.8" r="1.55" fill="#2332a0"/>
<circle cx="225.6" cy="148.1" r="1.55" fill="#b4d737"/>
<circle cx="232.6" cy="145.8" r="1.55" fill="#46c6b4"/>
<circle cx="220.1" cy="166.2" r="1.55" fill="#46c6b4"/>
<circle cx="90.7" cy="100.4" r="1.55" fill="#1e55cd"/>
<circle cx="122.9" cy="178.9" r="1.55" fill="#e41e1e"/>
<circle cx="217.2" cy="150.9" r="1.55" fill="#23b9e8"/>
<circle cx="164.1" cy="57.3" r="1.55" fill="#46c6b4"/>
<circle cx="72.7" cy="91.1" r="1.55" fill="#2332a0"/>
<circle cx="224.3" cy="131.7" r="1.55" fill="#1e55cd"/>
<circle cx="74.1" cy="107.8" r="1.55" fill="#7dcd73"/>
<circle cx="233.3" cy="178.8" r="1.55" fill="#2332a0"/>
<circle cx="192.7" cy="97.4" r="1.55" fill="#b4d737"/>
<circle cx="176.2" cy="114.5" r="1.55" fill="#23b9e8"/>
<circle cx="182.2" cy="157.3" r="1.55" fill="#b4d737"/>
<circle cx="197.6" cy="145.2" r="1.55" fill="#7dcd73"/>
<circle cx="209.8" cy="97.4" r="1.55" fill="#7dcd73"/>
<circle cx="198.3" cy="190.5" r="1.55" fill="#46c6b4"/>
<circle cx="161.1" cy="104.4" r="1.55" fill="#b4d737"/>
<circle cx="186.9" cy="117.0" r="1.55" fill="#1e55cd"/>
<circle cx="173.5" cy="98.3" r="1.55" fill="#eee419"/>
<circle cx="154.2" cy="91.9" r="1.55" fill="#eee419"/>
<circle cx="168.8" cy="125.8" r="1.55" fill="#eee419"/>
<circle cx="202.7" cy="195.0" r="1.55" fill="#23b9e8"/>
<circle cx="202.3" cy="112.0" r="1.55" fill="#1e55cd"/>
<circle cx="200.5" cy="87.4" r="1.55" fill="#b4d737"/>
<circle cx="82.3" cy="118.5" r="1.55" fill="#eee419"/>
<circle cx="228.5" cy="161.4" r="1.55" fill="#7dcd73"/>
<circle cx="223.8" cy="118.7" r="1.55" fill="#eee419"/>
<circle cx="95.9" cy="75.3" r="1.55" fill="#23b9e8"/>
<circle cx="212.7" cy="87.9" r="1.55" fill="#2332a0"/>
<circle cx="223.1" cy="131.3" r="1.55" fill="#e41e1e"/>
<circle cx="203.5" cy="188.7" r="1.55" fill="#46c6b4"/>
<circle cx="198.6" cy="127.7" r="1.55" fill="#1e55cd"/>
<circle cx="80.1" cy="106.5" r="1.55" fill="#e41e1e"/>
<circle cx="184.4" cy="107.5" r="1.55" fill="#7dcd73"/>
<circle cx="195.6" cy="104.5" r="1.55" fill="#b4d737"/>
<circle cx="182.4" cy="109.6" r="1.55" fill="#7dcd73"/>
<circle cx="178.7" cy="93.5" r="1.55" fill="#1e55cd"/>
<circle cx="202.3" cy="103.1" r="1.55" fill="#7dcd73"/>
<circle cx="92.4" cy="121.8" r="1.55" fill="#7dcd73"/>
<circle cx="220.4" cy="139.9" r="1.55" fill="#1e55cd"/>
<circle cx="196.2" cy="144.3" r="1.55" fill="#eee419"/>
<circle cx="199.1" cy="174.5" r="1.55" fill="#46c6b4"/>
<circle cx="81.3" cy="118.3" r="1.55" fill="#e41e1e"/>
<circle cx="89.7" cy="108.6" r="1.55" fill="#e41e1e"/>
<circle cx="180.2" cy="84.1" r="1.55" fill="#1e55cd"/>
<circle cx="223.8" cy="133.8" r="1.55" fill="#7dcd73"/>
<circle cx="207.6" cy="192.0" r="1.55" fill="#e41e1e"/>
<circle cx="228.1" cy="160.2" r="1.55" fill="#23b9e8"/>
<circle cx="189.5" cy="83.8" r="1.55" fill="#46c6b4"/>
<circle cx="120.9" cy="194.4" r="1.55" fill="#e41e1e"/>
<circle cx="222.2" cy="133.2" r="1.55" fill="#7dcd73"/>
<circle cx="235.0" cy="128.7" r="1.55" fill="#e41e1e"/>
<circle cx="160.1" cy="92.1" r="1.55" fill="#eee419"/>
<circle cx="191.5" cy="116.7" r="1.55" fill="#e41e1e"/>
<circle cx="133.1" cy="177.4" r="1.55" fill="#eee419"/>
<circle cx="211.7" cy="145.5" r="1.55" fill="#f57d19"/>
<circle cx="205.6" cy="194.3" r="1.55" fill="#eee419"/>
<circle cx="223.0" cy="99.2" r="1.55" fill="#b4d737"/>
<circle cx="214.7" cy="187.6" r="1.55" fill="#eee419"/>
<circle cx="92.5" cy="107.2" r="1.55" fill="#e41e1e"/>
<circle cx="209.2" cy="192.1" r="1.55" fill="#7dcd73"/>
<circle cx="100.6" cy="69.8" r="1.55" fill="#23b9e8"/>
<circle cx="230.5" cy="160.9" r="1.55" fill="#46c6b4"/>
<circle cx="163.6" cy="98.7" r="1.55" fill="#eee419"/>
<circle cx="223.1" cy="144.4" r="1.55" fill="#1e55cd"/>
<circle cx="222.7" cy="173.1" r="1.55" fill="#1e55cd"/>
<circle cx="88.4" cy="122.9" r="1.55" fill="#e41e1e"/>
<circle cx="220.1" cy="134.2" r="1.55" fill="#1e55cd"/>
<circle cx="207.6" cy="105.5" r="1.55" fill="#46c6b4"/>
<circle cx="207.7" cy="158.8" r="1.55" fill="#1e55cd"/>
<circle cx="233.1" cy="126.8" r="1.55" fill="#1e55cd"/>
<circle cx="164.5" cy="112.2" r="1.55" fill="#e41e1e"/>
<circle cx="219.9" cy="194.8" r="1.55" fill="#23b9e8"/>
<circle cx="208.7" cy="148.4" r="1.55" fill="#b4d737"/>
<circle cx="210.4" cy="123.8" r="1.55" fill="#7dcd73"/>
<circle cx="206.3" cy="131.3" r="1.55" fill="#1e55cd"/>
<circle cx="178.5" cy="190.5" r="1.55" fill="#46c6b4"/>
<circle cx="232.4" cy="173.9" r="1.55" fill="#f57d19"/>
<circle cx="129.9" cy="189.2" r="1.55" fill="#f57d19"/>
<circle cx="223.8" cy="136.8" r="1.55" fill="#eee419"/>
<circle cx="204.9" cy="162.9" r="1.55" fill="#b4d737"/>
<circle cx="87.2" cy="72.2" r="1.55" fill="#46c6b4"/>
<circle cx="207.3" cy="121.9" r="1.55" fill="#46c6b4"/>
<circle cx="93.0" cy="122.3" r="1.55" fill="#23b9e8"/>
<circle cx="208.4" cy="89.2" r="1.55" fill="#23b9e8"/>
<circle cx="194.6" cy="175.0" r="1.55" fill="#23b9e8"/>
<circle cx="157.5" cy="95.6" r="1.55" fill="#e41e1e"/>
<circle cx="231.5" cy="149.1" r="1.55" fill="#1e55cd"/>
<circle cx="188.4" cy="152.0" r="1.55" fill="#23b9e8"/>
<circle cx="159.4" cy="135.6" r="1.55" fill="#2332a0"/>
<circle cx="99.9" cy="180.3" r="1.55" fill="#1e55cd"/>
<circle cx="205.3" cy="127.5" r="1.55" fill="#b4d737"/>
<circle cx="231.2" cy="130.6" r="1.55" fill="#e41e1e"/>
<circle cx="181.9" cy="78.8" r="1.55" fill="#eee419"/>
<circle cx="184.0" cy="166.7" r="1.55" fill="#46c6b4"/>
<circle cx="187.3" cy="199.2" r="1.55" fill="#7dcd73"/>
<circle cx="217.1" cy="192.1" r="1.55" fill="#eee419"/>
<circle cx="182.2" cy="63.3" r="1.55" fill="#7dcd73"/>
<circle cx="172.4" cy="82.5" r="1.55" fill="#eee419"/>
<circle cx="222.2" cy="120.6" r="1.55" fill="#b4d737"/>
<circle cx="153.7" cy="67.4" r="1.55" fill="#b4d737"/>
<circle cx="231.1" cy="132.1" r="1.55" fill="#eee419"/>
<circle cx="167.4" cy="57.4" r="1.55" fill="#1e55cd"/>
<circle cx="181.6" cy="186.1" r="1.55" fill="#1e55cd"/>
<circle cx="94.2" cy="101.0" r="1.55" fill="#eee419"/>
<circle cx="234.5" cy="146.6" r="1.55" fill="#46c6b4"/>
<circle cx="170.8" cy="173.3" r="1.55" fill="#eee419"/>
<circle cx="233.7" cy="152.9" r="1.55" fill="#1e55cd"/>
<circle cx="164.6" cy="139.0" r="1.55" fill="#1e55cd"/>
<circle cx="201.0" cy="115.6" r="1.55" fill="#7dcd73"/>
<circle cx="167.0" cy="74.3" r="1.55" fill="#eee419"/>
<circle cx="170.2" cy="65.4" r="1.55" fill="#23b9e8"/>
<circle cx="176.8" cy="98.7" r="1.55" fill="#eee419"/>
<circle cx="183.8" cy="195.5" r="1.55" fill="#46c6b4"/>
<circle cx="231.7" cy="167.5" r="1.55" fill="#23b9e8"/>
<circle cx="110.5" cy="183.5" r="1.55" fill="#1e55cd"/>
<circle cx="205.6" cy="180.5" r="1.55" fill="#23b9e8"/>
<circle cx="209.5" cy="103.1" r="1.55" fill="#7dcd73"/>
<circle cx="210.1" cy="79.6" r="1.55" fill="#2332a0"/>
<circle cx="198.8" cy="158.8" r="1.55" fill="#eee419"/>
<circle cx="170.5" cy="123.0" r="1.55" fill="#2332a0"/>
<circle cx="73.6" cy="116.4" r="1.55" fill="#e41e1e"/>
<circle cx="191.4" cy="185.2" r="1.55" fill="#23b9e8"/>
<circle cx="223.4" cy="106.1" r="1.55" fill="#23b9e8"/>
<circle cx="182.9" cy="104.3" r="1.55" fill="#7dcd73"/>
<circle cx="159.1" cy="198.4" r="1.55" fill="#b4d737"/>
<circle cx="218.2" cy="185.3" r="1.55" fill="#7dcd73"/>
<circle cx="168.0" cy="193.5" r="1.55" fill="#b4d737"/>
<circle cx="102.7" cy="162.8" r="1.55" fill="#2332a0"/>
<circle cx="206.3" cy="93.3" r="1.55" fill="#2332a0"/>
<circle cx="163.7" cy="79.6" r="1.55" fill="#b4d737"/>
<circle cx="181.8" cy="100.3" r="1.55" fill="#b4d737"/>
<circle cx="198.8" cy="77.5" r="1.55" fill="#b4d737"/>
<circle cx="208.4" cy="111.1" r="1.55" fill="#eee419"/>
<circle cx="225.2" cy="121.9" r="1.55" fill="#23b9e8"/>
<circle cx="97.1" cy="121.1" r="1.55" fill="#e41e1e"/>
<circle cx="185.8" cy="87.3" r="1.55" fill="#b4d737"/>
<circle cx="204.9" cy="99.8" r="1.55" fill="#2332a0"/>
<circle cx="81.1" cy="80.6" r="1.55" fill="#46c6b4"/>
<circle cx="191.2" cy="110.2" r="1.55" fill="#1e55cd"/>
<circle cx="163.1" cy="152.5" r="1.55" fill="#f57d19"/>
<circle cx="81.8" cy="102.6" r="1.55" fill="#23b9e8"/>
<circle cx="183.3" cy="162.2" r="1.55" fill="#eee419"/>
<circle cx="203.3" cy="173.5" r="1.55" fill="#b4d737"/>
<circle cx="125.5" cy="177.3" r="1.55" fill="#1e55cd"/>
<circle cx="194.1" cy="110.7" r="1.55" fill="#1e55cd"/>
<circle cx="225.7" cy="184.7" r="1.55" fill="#1e55cd"/>
<circle cx="167.1" cy="128.1" r="1.55" fill="#7dcd73"/>
<circle cx="93.1" cy="113.5" r="1.55" fill="#2332a0"/>
<circle cx="158.0" cy="86.0" r="1.55" fill="#eee419"/>
<circle cx="194.4" cy="115.9" r="1.55" fill="#46c6b4"/>
<circle cx="186.1" cy="157.3" r="1.55" fill="#46c6b4"/>
<circle cx="164.5" cy="198.6" r="1.55" fill="#eee419"/>
<circle cx="170.3" cy="139.3" r="1.55" fill="#eee419"/>
<circle cx="82.3" cy="99.5" r="1.55" fill="#23b9e8"/>
<circle cx="148.6" cy="63.7" r="1.55" fill="#7dcd73"/>
<circle cx="237.8" cy="142.9" r="1.55" fill="#7dcd73"/>
<circle cx="225.8" cy="118.1" r="1.55" fill="#7dcd73"/>
<circle cx="160.2" cy="177.8" r="1.55" fill="#2332a0"/>
<circle cx="216.7" cy="184.4" r="1.55" fill="#23b9e8"/>
<circle cx="149.2" cy="65.4" r="1.55" fill="#b4d737"/>
<circle cx="128.4" cy="188.9" r="1.55" fill="#f57d19"/>
<circle cx="196.1" cy="128.3" r="1.55" fill="#eee419"/>
<circle cx="221.8" cy="104.2" r="1.55" fill="#23b9e8"/>
<circle cx="206.4" cy="197.3" r="1.55" fill="#7dcd73"/>
<circle cx="226.8" cy="191.2" r="1.55" fill="#1e55cd"/>
<circle cx="210.1" cy="166.7" r="1.55" fill="#46c6b4"/>
<circle cx="225.1" cy="156.1" r="1.55" fill="#f57d19"/>
<circle cx="230.5" cy="124.7" r="1.55" fill="#e41e1e"/>
<circle cx="190.9" cy="183.6" r="1.55" fill="#23b9e8"/>
<circle cx="203.0" cy="163.7" r="1.55" fill="#7dcd73"/>
<circle cx="194.3" cy="143.7" r="1.55" fill="#46c6b4"/>
<circle cx="188.9" cy="67.8" r="1.55" fill="#2332a0"/>
<circle cx="200.0" cy="175.6" r="1.55" fill="#2332a0"/>
<circle cx="232.6" cy="184.1" r="1.55" fill="#23b9e8"/>
<circle cx="206.9" cy="178.1" r="1.55" fill="#23b9e8"/>
<circle cx="203.4" cy="125.4" r="1.55" fill="#46c6b4"/>
<circle cx="216.8" cy="188.4" r="1.55" fill="#23b9e8"/>
<circle cx="219.1" cy="144.4" r="1.55" fill="#b4d737"/>
<circle cx="174.8" cy="85.0" r="1.55" fill="#b4d737"/>
<circle cx="231.9" cy="180.5" r="1.55" fill="#7dcd73"/>
<circle cx="192.9" cy="62.1" r="1.55" fill="#2332a0"/>
<circle cx="201.1" cy="153.5" r="1.55" fill="#23b9e8"/>
<circle cx="192.0" cy="187.2" r="1.55" fill="#46c6b4"/>
<circle cx="204.1" cy="125.9" r="1.55" fill="#46c6b4"/>
<circle cx="164.9" cy="180.7" r="1.55" fill="#7dcd73"/>
<circle cx="178.6" cy="172.4" r="1.55" fill="#2332a0"/>
<circle cx="198.8" cy="112.7" r="1.55" fill="#7dcd73"/>
<circle cx="202.4" cy="78.4" r="1.55" fill="#1e55cd"/>
<circle cx="183.2" cy="157.3" r="1.55" fill="#b4d737"/>
<circle cx="198.2" cy="72.6" r="1.55" fill="#b4d737"/>
<circle cx="229.5" cy="132.2" r="1.55" fill="#e41e1e"/>
<circle cx="188.4" cy="189.8" r="1.55" fill="#23b9e8"/>
<circle cx="77.3" cy="120.6" r="1.55" fill="#1e55cd"/>
<circle cx="160.4" cy="109.7" r="1.55" fill="#e41e1e"/>
<circle cx="212.0" cy="94.2" r="1.55" fill="#7dcd73"/>
<circle cx="220.7" cy="192.1" r="1.55" fill="#7dcd73"/>
<circle cx="139.3" cy="62.5" r="1.55" fill="#b4d737"/>
<circle cx="213.5" cy="148.1" r="1.55" fill="#23b9e8"/>
<circle cx="173.0" cy="183.9" r="1.55" fill="#b4d737"/>
<circle cx="153.0" cy="111.0" r="1.5" fill="#e41e1e"/>
<circle cx="218.2" cy="115.6" r="1.55" fill="#b4d737"/>
<circle cx="174.4" cy="119.0" r="1.55" fill="#e41e1e"/>
<circle cx="182.2" cy="106.9" r="1.55" fill="#7dcd73"/>
<circle cx="191.6" cy="72.4" r="1.55" fill="#2332a0"/>
<circle cx="181.7" cy="81.8" r="1.55" fill="#eee419"/>
<circle cx="153.1" cy="58.9" r="1.55" fill="#b4d737"/>
<circle cx="170.3" cy="73.6" r="1.55" fill="#1e55cd"/>
<circle cx="142.4" cy="68.9" r="1.55" fill="#7dcd73"/>
<circle cx="109.4" cy="177.8" r="1.55" fill="#eee419"/>
<circle cx="212.9" cy="148.1" r="1.55" fill="#46c6b4"/>
<circle cx="90.4" cy="96.9" r="1.55" fill="#2332a0"/>
<circle cx="189.2" cy="122.5" r="1.55" fill="#1e55cd"/>
<circle cx="95.0" cy="61.4" r="1.55" fill="#46c6b4"/>
<circle cx="183.5" cy="138.0" r="1.55" fill="#7dcd73"/>
<circle cx="224.2" cy="129.8" r="1.55" fill="#b4d737"/>
<circle cx="216.3" cy="101.3" r="1.55" fill="#23b9e8"/>
<circle cx="90.7" cy="69.5" r="1.55" fill="#46c6b4"/>
<circle cx="226.6" cy="188.1" r="1.55" fill="#23b9e8"/>
<circle cx="95.2" cy="117.3" r="1.55" fill="#e41e1e"/>
<circle cx="232.7" cy="170.5" r="1.55" fill="#7dcd73"/>
<circle cx="162.8" cy="138.4" r="1.55" fill="#2332a0"/>
<circle cx="232.5" cy="124.2" r="1.55" fill="#e41e1e"/>
<circle cx="109.2" cy="183.9" r="1.55" fill="#1e55cd"/>
<circle cx="222.8" cy="142.0" r="1.55" fill="#7dcd73"/>
<circle cx="219.9" cy="174.5" r="1.55" fill="#46c6b4"/>
<circle cx="74.4" cy="91.5" r="1.55" fill="#1e55cd"/>
<circle cx="172.1" cy="185.1" r="1.55" fill="#eee419"/>
<circle cx="214.7" cy="95.3" r="1.55" fill="#b4d737"/>
<circle cx="184.9" cy="196.1" r="1.55" fill="#7dcd73"/>
<circle cx="212.8" cy="117.1" r="1.55" fill="#b4d737"/>
<circle cx="75.6" cy="109.6" r="1.55" fill="#2332a0"/>
<circle cx="198.8" cy="91.1" r="1.55" fill="#23b9e8"/>
<circle cx="147.8" cy="64.1" r="1.55" fill="#23b9e8"/>
<circle cx="232.7" cy="168.2" r="1.55" fill="#b4d737"/>
<circle cx="194.0" cy="124.8" r="1.55" fill="#1e55cd"/>
<circle cx="214.5" cy="118.8" r="1.55" fill="#7dcd73"/>
<circle cx="76.2" cy="97.8" r="1.55" fill="#23b9e8"/>
<circle cx="185.0" cy="77.2" r="1.55" fill="#1e55cd"/>
<circle cx="112.6" cy="175.5" r="1.55" fill="#2332a0"/>
<circle cx="192.3" cy="135.0" r="1.55" fill="#e41e1e"/>
<circle cx="171.6" cy="170.3" r="1.55" fill="#f57d19"/>
<circle cx="93.8" cy="64.8" r="1.55" fill="#7dcd73"/>
<circle cx="170.7" cy="185.5" r="1.55" fill="#7dcd73"/>
<circle cx="215.8" cy="178.3" r="1.55" fill="#46c6b4"/>
<circle cx="79.4" cy="120.6" r="1.55" fill="#e41e1e"/>
<circle cx="236.8" cy="143.2" r="1.55" fill="#7dcd73"/>
<circle cx="225.5" cy="166.9" r="1.55" fill="#f57d19"/>
<circle cx="231.7" cy="161.1" r="1.55" fill="#1e55cd"/>
<circle cx="168.9" cy="175.4" r="1.55" fill="#eee419"/>
<circle cx="181.6" cy="173.2" r="1.55" fill="#7dcd73"/>
<circle cx="186.6" cy="142.9" r="1.55" fill="#1e55cd"/>
<circle cx="196.8" cy="132.3" r="1.55" fill="#2332a0"/>
<circle cx="208.2" cy="151.7" r="1.55" fill="#46c6b4"/>
<circle cx="224.3" cy="137.9" r="1.55" fill="#7dcd73"/>
<circle cx="186.6" cy="167.0" r="1.55" fill="#46c6b4"/>
<circle cx="203.0" cy="89.1" r="1.55" fill="#7dcd73"/>
<circle cx="216.7" cy="140.8" r="1.55" fill="#eee419"/>
<circle cx="217.4" cy="104.4" r="1.55" fill="#7dcd73"/>
<circle cx="185.5" cy="199.1" r="1.55" fill="#23b9e8"/>
<circle cx="232.6" cy="142.1" r="1.55" fill="#2332a0"/>
<circle cx="236.8" cy="177.1" r="1.55" fill="#23b9e8"/>
<circle cx="171.4" cy="102.6" r="1.55" fill="#eee419"/>
<circle cx="223.8" cy="104.5" r="1.55" fill="#7dcd73"/>
<circle cx="191.7" cy="102.4" r="1.55" fill="#23b9e8"/>
<circle cx="168.9" cy="182.1" r="1.55" fill="#eee419"/>
<circle cx="165.7" cy="87.3" r="1.55" fill="#f57d19"/>
<circle cx="201.3" cy="125.3" r="1.55" fill="#1e55cd"/>
<circle cx="218.5" cy="185.5" r="1.55" fill="#eee419"/>
<circle cx="86.4" cy="109.8" r="1.55" fill="#e41e1e"/>
<circle cx="159.8" cy="202.9" r="1.55" fill="#eee419"/>
<circle cx="218.7" cy="98.6" r="1.55" fill="#b4d737"/>
<circle cx="189.1" cy="191.8" r="1.55" fill="#b4d737"/>
<circle cx="181.8" cy="81.0" r="1.55" fill="#b4d737"/>
<circle cx="172.8" cy="173.6" r="1.55" fill="#b4d737"/>
<circle cx="77.2" cy="120.8" r="1.55" fill="#e41e1e"/>
<circle cx="175.8" cy="174.2" r="1.55" fill="#eee419"/>
<circle cx="152.6" cy="68.6" r="1.55" fill="#eee419"/>
<circle cx="197.5" cy="187.2" r="1.55" fill="#23b9e8"/>
<circle cx="166.5" cy="178.6" r="1.55" fill="#eee419"/>
<circle cx="152.7" cy="82.8" r="1.55" fill="#eee419"/>
<circle cx="210.9" cy="134.9" r="1.55" fill="#46c6b4"/>
<circle cx="233.6" cy="155.2" r="1.55" fill="#1e55cd"/>
<circle cx="212.3" cy="152.2" r="1.55" fill="#7dcd73"/>
<circle cx="204.7" cy="97.9" r="1.55" fill="#b4d737"/>
<circle cx="171.3" cy="55.8" r="1.55" fill="#23b9e8"/>
<circle cx="202.0" cy="77.6" r="1.55" fill="#23b9e8"/>
<circle cx="144.2" cy="71.0" r="1.55" fill="#23b9e8"/>
<circle cx="184.1" cy="134.0" r="1.55" fill="#eee419"/>
<circle cx="206.9" cy="185.0" r="1.55" fill="#eee419"/>
<circle cx="162.2" cy="201.2" r="1.55" fill="#7dcd73"/>
<circle cx="214.8" cy="130.2" r="1.55" fill="#7dcd73"/>
<circle cx="182.2" cy="118.2" r="1.55" fill="#1e55cd"/>
<circle cx="216.0" cy="121.2" r="1.55" fill="#e41e1e"/>
<circle cx="172.8" cy="82.1" r="1.55" fill="#eee419"/>
<circle cx="194.5" cy="129.6" r="1.55" fill="#1e55cd"/>
<circle cx="195.4" cy="146.6" r="1.55" fill="#46c6b4"/>
<circle cx="88.4" cy="79.7" r="1.55" fill="#46c6b4"/>
<circle cx="195.1" cy="185.5" r="1.55" fill="#2332a0"/>
<circle cx="236.4" cy="163.9" r="1.55" fill="#b4d737"/>
<circle cx="95.0" cy="100.7" r="1.55" fill="#1e55cd"/>
<circle cx="200.7" cy="110.4" r="1.55" fill="#1e55cd"/>
<circle cx="87.0" cy="73.6" r="1.55" fill="#2332a0"/>
<circle cx="217.5" cy="193.4" r="1.55" fill="#eee419"/>
<circle cx="190.1" cy="189.1" r="1.55" fill="#23b9e8"/>
<circle cx="194.6" cy="73.8" r="1.55" fill="#23b9e8"/>
<circle cx="187.1" cy="129.3" r="1.55" fill="#7dcd73"/>
<circle cx="164.8" cy="161.3" r="1.55" fill="#e41e1e"/>
<circle cx="211.2" cy="147.2" r="1.55" fill="#46c6b4"/>
<circle cx="215.2" cy="184.9" r="1.55" fill="#46c6b4"/>
<circle cx="181.6" cy="195.3" r="1.55" fill="#23b9e8"/>
<circle cx="237.2" cy="173.0" r="1.55" fill="#7dcd73"/>
<circle cx="128.1" cy="191.5" r="1.55" fill="#1e55cd"/>
<circle cx="179.8" cy="198.9" r="1.55" fill="#7dcd73"/>
<circle cx="218.2" cy="118.2" r="1.55" fill="#eee419"/>
<circle cx="200.7" cy="112.3" r="1.55" fill="#7dcd73"/>
<circle cx="137.9" cy="68.8" r="1.55" fill="#eee419"/>
<circle cx="194.0" cy="121.9" r="1.55" fill="#46c6b4"/>
<circle cx="210.6" cy="116.6" r="1.55" fill="#7dcd73"/>
<circle cx="169.0" cy="202.1" r="1.55" fill="#eee419"/>
<circle cx="109.1" cy="181.5" r="1.55" fill="#e41e1e"/>
<circle cx="197.1" cy="133.1" r="1.55" fill="#7dcd73"/>
<circle cx="77.4" cy="122.8" r="1.55" fill="#e41e1e"/>
<circle cx="225.8" cy="155.5" r="1.55" fill="#23b9e8"/>
<circle cx="165.4" cy="188.7" r="1.55" fill="#1e55cd"/>
<circle cx="216.2" cy="179.7" r="1.55" fill="#2332a0"/>
<circle cx="212.9" cy="155.8" r="1.55" fill="#23b9e8"/>
<circle cx="201.4" cy="184.7" r="1.55" fill="#eee419"/>
<circle cx="126.6" cy="195.7" r="1.55" fill="#2332a0"/>
<circle cx="76.4" cy="96.2" r="1.55" fill="#eee419"/>
<circle cx="81.4" cy="102.0" r="1.55" fill="#eee419"/>
<circle cx="118.1" cy="182.5" r="1.55" fill="#2332a0"/>
<circle cx="219.4" cy="94.3" r="1.55" fill="#b4d737"/>
<circle cx="211.6" cy="125.7" r="1.55" fill="#2332a0"/>
<circle cx="224.2" cy="113.0" r="1.55" fill="#7dcd73"/>
<circle cx="188.5" cy="117.5" r="1.55" fill="#7dcd73"/>
<circle cx="212.6" cy="141.1" r="1.55" fill="#23b9e8"/>
<circle cx="226.8" cy="156.5" r="1.55" fill="#23b9e8"/>
<circle cx="172.8" cy="105.3" r="1.55" fill="#23b9e8"/>
<circle cx="180.4" cy="92.3" r="1.55" fill="#23b9e8"/>
<circle cx="166.1" cy="135.6" r="1.55" fill="#eee419"/>
<circle cx="174.9" cy="114.1" r="1.55" fill="#e41e1e"/>
<circle cx="172.5" cy="77.3" r="1.55" fill="#1e55cd"/>
<circle cx="183.5" cy="185.8" r="1.55" fill="#23b9e8"/>
<circle cx="211.9" cy="180.6" r="1.55" fill="#23b9e8"/>
<circle cx="91.8" cy="72.3" r="1.55" fill="#23b9e8"/>
<circle cx="173.4" cy="184.8" r="1.55" fill="#eee419"/>
<circle cx="103.2" cy="164.8" r="1.55" fill="#e41e1e"/>
<circle cx="158.6" cy="86.8" r="1.55" fill="#7dcd73"/>
<circle cx="190.7" cy="150.1" r="1.55" fill="#23b9e8"/>
<circle cx="212.9" cy="140.7" r="1.55" fill="#2332a0"/>
<circle cx="203.3" cy="102.9" r="1.55" fill="#2332a0"/>
<circle cx="107.6" cy="184.5" r="1.55" fill="#e41e1e"/>
<circle cx="99.4" cy="173.4" r="1.55" fill="#e41e1e"/>
<circle cx="191.9" cy="147.8" r="1.55" fill="#46c6b4"/>
<circle cx="237.3" cy="162.3" r="1.55" fill="#b4d737"/>
<circle cx="164.4" cy="149.9" r="1.55" fill="#eee419"/>
<circle cx="149.6" cy="75.4" r="1.55" fill="#eee419"/>
<circle cx="229.7" cy="166.6" r="1.55" fill="#23b9e8"/>
<circle cx="159.2" cy="59.2" r="1.55" fill="#23b9e8"/>
<circle cx="211.2" cy="111.6" r="1.55" fill="#b4d737"/>
<circle cx="174.8" cy="101.9" r="1.55" fill="#f57d19"/>
<circle cx="160.5" cy="184.4" r="1.55" fill="#b4d737"/>
<circle cx="129.1" cy="173.7" r="1.55" fill="#2332a0"/>
<circle cx="198.0" cy="63.4" r="1.55" fill="#7dcd73"/>
<circle cx="173.5" cy="94.1" r="1.55" fill="#b4d737"/>
<circle cx="198.2" cy="139.7" r="1.55" fill="#23b9e8"/>
<circle cx="204.8" cy="164.6" r="1.55" fill="#7dcd73"/>
<circle cx="191.4" cy="67.9" r="1.55" fill="#b4d737"/>
<circle cx="167.0" cy="189.4" r="1.55" fill="#b4d737"/>
<circle cx="215.1" cy="116.4" r="1.55" fill="#1e55cd"/>
<circle cx="221.4" cy="175.6" r="1.55" fill="#1e55cd"/>
<circle cx="220.1" cy="197.9" r="1.55" fill="#2332a0"/>
<circle cx="187.5" cy="121.7" r="1.55" fill="#7dcd73"/>
<circle cx="164.1" cy="154.0" r="1.55" fill="#7dcd73"/>
<circle cx="84.9" cy="123.2" r="1.55" fill="#eee419"/>
<circle cx="119.1" cy="177.2" r="1.55" fill="#f57d19"/>
<circle cx="224.9" cy="135.9" r="1.55" fill="#e41e1e"/>
<circle cx="82.7" cy="80.0" r="1.55" fill="#b4d737"/>
<circle cx="189.2" cy="75.6" r="1.55" fill="#1e55cd"/>
<circle cx="181.8" cy="183.9" r="1.55" fill="#23b9e8"/>
<circle cx="175.0" cy="92.3" r="1.55" fill="#b4d737"/>
<circle cx="236.4" cy="173.8" r="1.55" fill="#23b9e8"/>
<circle cx="166.3" cy="61.3" r="1.55" fill="#23b9e8"/>
<circle cx="235.5" cy="180.7" r="1.55" fill="#7dcd73"/>
<circle cx="208.4" cy="162.4" r="1.55" fill="#1e55cd"/>
<circle cx="202.0" cy="149.6" r="1.55" fill="#7dcd73"/>
<circle cx="190.5" cy="102.9" r="1.55" fill="#1e55cd"/>
<circle cx="80.2" cy="106.2" r="1.55" fill="#2332a0"/>
<circle cx="211.6" cy="193.3" r="1.55" fill="#23b9e8"/>
<circle cx="201.5" cy="130.0" r="1.55" fill="#b4d737"/>
<circle cx="186.0" cy="162.3" r="1.55" fill="#7dcd73"/>
<circle cx="176.2" cy="82.2" r="1.55" fill="#23b9e8"/>
<circle cx="195.0" cy="133.4" r="1.55" fill="#7dcd73"/>
<circle cx="78.7" cy="96.4" r="1.55" fill="#2332a0"/>
<circle cx="218.7" cy="156.9" r="1.55" fill="#23b9e8"/>
<circle cx="105.9" cy="164.0" r="1.55" fill="#eee419"/>
<circle cx="84.5" cy="92.9" r="1.55" fill="#23b9e8"/>
<circle cx="171.6" cy="136.5" r="1.55" fill="#eee419"/>
<circle cx="190.9" cy="159.4" r="1.55" fill="#46c6b4"/>
<circle cx="211.9" cy="163.5" r="1.55" fill="#23b9e8"/>
<circle cx="125.8" cy="195.7" r="1.55" fill="#e41e1e"/>
<circle cx="227.2" cy="143.7" r="1.55" fill="#46c6b4"/>
<circle cx="81.8" cy="90.5" r="1.55" fill="#7dcd73"/>
<circle cx="168.6" cy="175.8" r="1.55" fill="#e41e1e"/>
<circle cx="98.3" cy="60.4" r="1.55" fill="#23b9e8"/>
<circle cx="188.0" cy="137.1" r="1.55" fill="#1e55cd"/>
<circle cx="170.2" cy="56.3" r="1.55" fill="#23b9e8"/>
<circle cx="130.8" cy="185.8" r="1.55" fill="#e41e1e"/>
<circle cx="157.7" cy="203.5" r="1.55" fill="#1e55cd"/>
<circle cx="100.2" cy="177.4" r="1.55" fill="#23b9e8"/>
<circle cx="162.7" cy="182.4" r="1.55" fill="#7dcd73"/>
<circle cx="191.0" cy="65.1" r="1.55" fill="#46c6b4"/>
<circle cx="213.9" cy="177.0" r="1.55" fill="#b4d737"/>
<circle cx="220.8" cy="179.5" r="1.55" fill="#f57d19"/>
<circle cx="88.6" cy="108.1" r="1.55" fill="#eee419"/>
<circle cx="88.9" cy="101.0" r="1.55" fill="#1e55cd"/>
<circle cx="210.7" cy="188.8" r="1.55" fill="#2332a0"/>
<circle cx="230.4" cy="175.8" r="1.55" fill="#eee419"/>
<circle cx="224.9" cy="143.4" r="1.55" fill="#46c6b4"/>
<circle cx="180.3" cy="134.5" r="1.55" fill="#1e55cd"/>
<circle cx="227.7" cy="187.2" r="1.55" fill="#7dcd73"/>
<circle cx="166.7" cy="179.3" r="1.55" fill="#7dcd73"/>
<circle cx="231.2" cy="160.7" r="1.55" fill="#1e55cd"/>
<circle cx="83.3" cy="92.4" r="1.55" fill="#1e55cd"/>
<circle cx="214.4" cy="161.4" r="1.55" fill="#23b9e8"/>
<circle cx="203.7" cy="65.8" r="1.55" fill="#23b9e8"/>
<circle cx="172.7" cy="71.2" r="1.55" fill="#46c6b4"/>
<circle cx="161.1" cy="83.0" r="1.55" fill="#23b9e8"/>
<circle cx="173.1" cy="136.9" r="1.55" fill="#eee419"/>
<circle cx="238.1" cy="131.6" r="1.55" fill="#7dcd73"/>
<circle cx="189.7" cy="179.9" r="1.55" fill="#23b9e8"/>
<circle cx="174.3" cy="70.6" r="1.55" fill="#23b9e8"/>
<circle cx="171.3" cy="182.3" r="1.55" fill="#eee419"/>
<circle cx="159.2" cy="120.6" r="1.55" fill="#eee419"/>
<circle cx="216.3" cy="108.6" r="1.55" fill="#b4d737"/>
<circle cx="210.1" cy="193.5" r="1.55" fill="#eee419"/>
<circle cx="84.5" cy="119.0" r="1.55" fill="#1e55cd"/>
<circle cx="204.0" cy="150.1" r="1.55" fill="#b4d737"/>
<circle cx="183.3" cy="104.8" r="1.55" fill="#eee419"/>
<circle cx="150.5" cy="109.5" r="1.5" fill="#e41e1e"/>
<circle cx="235.2" cy="127.6" r="1.55" fill="#7dcd73"/>
<circle cx="193.2" cy="121.0" r="1.55" fill="#7dcd73"/>
<circle cx="153.7" cy="67.8" r="1.55" fill="#b4d737"/>
<circle cx="183.0" cy="135.2" r="1.55" fill="#e41e1e"/>
<circle cx="176.5" cy="102.1" r="1.55" fill="#eee419"/>
<circle cx="81.9" cy="104.5" r="1.55" fill="#e41e1e"/>
<circle cx="199.5" cy="157.6" r="1.55" fill="#7dcd73"/>
<circle cx="197.1" cy="106.4" r="1.55" fill="#23b9e8"/>
<circle cx="173.0" cy="201.8" r="1.55" fill="#e41e1e"/>
<circle cx="199.6" cy="193.9" r="1.55" fill="#7dcd73"/>
<circle cx="207.8" cy="196.1" r="1.55" fill="#1e55cd"/>
<circle cx="170.7" cy="90.6" r="1.55" fill="#1e55cd"/>
<circle cx="120.3" cy="193.5" r="1.55" fill="#e41e1e"/>
<circle cx="215.7" cy="129.4" r="1.55" fill="#b4d737"/>
<circle cx="88.1" cy="79.0" r="1.55" fill="#eee419"/>
<circle cx="200.8" cy="121.3" r="1.55" fill="#eee419"/>
<circle cx="157.9" cy="119.6" r="1.55" fill="#1e55cd"/>
<circle cx="213.9" cy="99.5" r="1.55" fill="#b4d737"/>
<circle cx="95.8" cy="69.5" r="1.55" fill="#7dcd73"/>
<circle cx="159.4" cy="150.2" r="1.55" fill="#f57d19"/>
<circle cx="170.4" cy="193.8" r="1.55" fill="#f57d19"/>
<circle cx="177.3" cy="125.3" r="1.55" fill="#2332a0"/>
<circle cx="206.8" cy="187.2" r="1.55" fill="#1e55cd"/>
<circle cx="187.6" cy="145.6" r="1.55" fill="#1e55cd"/>
<circle cx="158.5" cy="203.5" r="1.55" fill="#7dcd73"/>
<circle cx="182.2" cy="173.7" r="1.55" fill="#46c6b4"/>
<circle cx="198.2" cy="137.9" r="1.55" fill="#7dcd73"/>
<circle cx="166.3" cy="57.1" r="1.55" fill="#7dcd73"/>
<circle cx="203.4" cy="137.7" r="1.55" fill="#eee419"/>
<circle cx="127.0" cy="190.8" r="1.55" fill="#e41e1e"/>
<circle cx="233.7" cy="166.9" r="1.55" fill="#7dcd73"/>
<circle cx="232.4" cy="185.9" r="1.55" fill="#7dcd73"/>
<circle cx="218.9" cy="198.5" r="1.55" fill="#eee419"/>
<circle cx="234.0" cy="134.2" r="1.55" fill="#1e55cd"/>
<circle cx="208.9" cy="114.8" r="1.55" fill="#1e55cd"/>
<circle cx="219.7" cy="130.7" r="1.55" fill="#1e55cd"/>
<circle cx="77.8" cy="91.7" r="1.55" fill="#23b9e8"/>
<circle cx="218.9" cy="168.8" r="1.55" fill="#23b9e8"/>
<circle cx="204.2" cy="152.7" r="1.55" fill="#b4d737"/>
<circle cx="179.4" cy="137.0" r="1.55" fill="#e41e1e"/>
<circle cx="198.8" cy="117.5" r="1.55" fill="#1e55cd"/>
<circle cx="202.1" cy="169.0" r="1.55" fill="#b4d737"/>
<circle cx="219.3" cy="153.3" r="1.55" fill="#7dcd73"/>
<circle cx="204.3" cy="122.5" r="1.55" fill="#1e55cd"/>
<circle cx="88.3" cy="79.6" r="1.55" fill="#46c6b4"/>
<circle cx="238.4" cy="180.8" r="1.55" fill="#23b9e8"/>
<circle cx="179.0" cy="55.0" r="1.55" fill="#23b9e8"/>
<circle cx="162.4" cy="177.0" r="1.55" fill="#2332a0"/>
<circle cx="171.2" cy="113.4" r="1.55" fill="#7dcd73"/>
<circle cx="168.4" cy="77.4" r="1.55" fill="#eee419"/>
<circle cx="202.7" cy="168.9" r="1.55" fill="#23b9e8"/>
<circle cx="157.7" cy="93.1" r="1.55" fill="#e41e1e"/>
<circle cx="175.4" cy="85.8" r="1.55" fill="#eee419"/>
<circle cx="199.3" cy="180.8" r="1.55" fill="#7dcd73"/>
<circle cx="121.1" cy="77.1" r="1.55" fill="#23b9e8"/>
<circle cx="177.7" cy="99.5" r="1.55" fill="#23b9e8"/>
<circle cx="210.3" cy="116.7" r="1.55" fill="#eee419"/>
<circle cx="115.5" cy="162.5" r="1.55" fill="#e41e1e"/>
<circle cx="105.5" cy="177.2" r="1.55" fill="#1e55cd"/>
<circle cx="203.2" cy="99.7" r="1.55" fill="#7dcd73"/>
<circle cx="188.0" cy="110.6" r="1.55" fill="#1e55cd"/>
<circle cx="184.9" cy="114.2" r="1.55" fill="#1e55cd"/>
<circle cx="164.1" cy="196.7" r="1.55" fill="#e41e1e"/>
<circle cx="183.5" cy="93.2" r="1.55" fill="#b4d737"/>
<circle cx="216.3" cy="152.2" r="1.55" fill="#2332a0"/>
<circle cx="173.1" cy="126.9" r="1.55" fill="#e41e1e"/>
<circle cx="175.5" cy="126.2" r="1.55" fill="#e41e1e"/>
<circle cx="170.6" cy="59.4" r="1.55" fill="#23b9e8"/>
<circle cx="200.4" cy="137.5" r="1.55" fill="#46c6b4"/>
<circle cx="199.1" cy="188.6" r="1.55" fill="#7dcd73"/>
<circle cx="185.5" cy="174.3" r="1.55" fill="#46c6b4"/>
<circle cx="81.3" cy="81.6" r="1.55" fill="#1e55cd"/>
<circle cx="91.0" cy="98.1" r="1.55" fill="#2332a0"/>
<circle cx="157.4" cy="203.6" r="1.55" fill="#eee419"/>
<circle cx="98.8" cy="163.0" r="1.55" fill="#eee419"/>
<circle cx="92.3" cy="63.3" r="1.55" fill="#46c6b4"/>
<circle cx="188.9" cy="78.4" r="1.55" fill="#b4d737"/>
<circle cx="191.7" cy="97.8" r="1.55" fill="#46c6b4"/>
<circle cx="205.2" cy="118.0" r="1.55" fill="#b4d737"/>
<circle cx="88.2" cy="71.0" r="1.55" fill="#7dcd73"/>
<circle cx="217.9" cy="149.5" r="1.55" fill="#1e55cd"/>
<circle cx="169.9" cy="176.5" r="1.55" fill="#eee419"/>
<circle cx="128.2" cy="190.8" r="1.55" fill="#f57d19"/>
<circle cx="202.6" cy="194.2" r="1.55" fill="#46c6b4"/>
<circle cx="190.0" cy="193.6" r="1.55" fill="#7dcd73"/>
<circle cx="197.3" cy="114.0" r="1.55" fill="#2332a0"/>
<circle cx="173.7" cy="181.3" r="1.55" fill="#1e55cd"/>
<circle cx="165.2" cy="175.1" r="1.55" fill="#e41e1e"/>
<circle cx="131.6" cy="178.3" r="1.55" fill="#e41e1e"/>
<circle cx="183.7" cy="97.6" r="1.55" fill="#1e55cd"/>
<circle cx="132.7" cy="185.0" r="1.55" fill="#f57d19"/>
<circle cx="110.9" cy="157.3" r="1.55" fill="#e41e1e"/>
<circle cx="170.6" cy="82.4" r="1.55" fill="#eee419"/>
<circle cx="194.8" cy="114.4" r="1.55" fill="#1e55cd"/>
<circle cx="169.8" cy="199.7" r="1.55" fill="#f57d19"/>
<circle cx="174.4" cy="77.1" r="1.55" fill="#eee419"/>
<circle cx="168.1" cy="205.4" r="1.55" fill="#7dcd73"/>
<circle cx="206.5" cy="78.6" r="1.55" fill="#46c6b4"/>
<circle cx="216.6" cy="101.7" r="1.55" fill="#2332a0"/>
<circle cx="202.1" cy="137.4" r="1.55" fill="#23b9e8"/>
<circle cx="175.1" cy="55.6" r="1.55" fill="#23b9e8"/>
<circle cx="197.1" cy="127.0" r="1.55" fill="#7dcd73"/>
<circle cx="213.0" cy="96.9" r="1.55" fill="#7dcd73"/>
<circle cx="165.6" cy="122.3" r="1.55" fill="#eee419"/>
<circle cx="211.1" cy="193.0" r="1.55" fill="#46c6b4"/>
<circle cx="210.4" cy="153.6" r="1.55" fill="#23b9e8"/>
<circle cx="233.6" cy="180.7" r="1.55" fill="#1e55cd"/>
<circle cx="231.6" cy="179.6" r="1.55" fill="#7dcd73"/>
<circle cx="186.1" cy="113.1" r="1.55" fill="#eee419"/>
<circle cx="213.6" cy="162.4" r="1.55" fill="#7dcd73"/>
<circle cx="170.9" cy="183.4" r="1.55" fill="#f57d19"/>
<circle cx="177.2" cy="61.0" r="1.55" fill="#23b9e8"/>
<circle cx="200.4" cy="149.3" r="1.55" fill="#23b9e8"/>
<circle cx="181.5" cy="82.9" r="1.55" fill="#46c6b4"/>
<circle cx="80.4" cy="86.7" r="1.55" fill="#1e55cd"/>
<circle cx="166.8" cy="134.3" r="1.55" fill="#1e55cd"/>
<circle cx="197.3" cy="114.1" r="1.55" fill="#1e55cd"/>
<circle cx="175.7" cy="56.3" r="1.55" fill="#7dcd73"/>
<circle cx="189.3" cy="145.4" r="1.55" fill="#23b9e8"/>
<circle cx="172.9" cy="94.4" r="1.55" fill="#7dcd73"/>
<circle cx="225.8" cy="131.8" r="1.55" fill="#eee419"/>
<circle cx="146.8" cy="64.4" r="1.55" fill="#eee419"/>
<circle cx="218.9" cy="104.6" r="1.55" fill="#b4d737"/>
<circle cx="208.6" cy="195.3" r="1.55" fill="#e41e1e"/>
<circle cx="192.0" cy="73.4" r="1.55" fill="#b4d737"/>
<circle cx="223.2" cy="103.5" r="1.55" fill="#46c6b4"/>
<circle cx="173.6" cy="100.3" r="1.55" fill="#eee419"/>
<circle cx="210.9" cy="129.6" r="1.55" fill="#eee419"/>
<circle cx="201.0" cy="186.1" r="1.55" fill="#7dcd73"/>
<circle cx="201.5" cy="86.4" r="1.55" fill="#2332a0"/>
<circle cx="237.6" cy="168.8" r="1.55" fill="#23b9e8"/>
<circle cx="182.9" cy="201.3" r="1.55" fill="#1e55cd"/>
<circle cx="216.2" cy="163.1" r="1.55" fill="#23b9e8"/>
<circle cx="165.7" cy="105.6" r="1.55" fill="#e41e1e"/>
<circle cx="162.4" cy="132.4" r="1.55" fill="#1e55cd"/>
<circle cx="201.9" cy="191.8" r="1.55" fill="#2332a0"/>
<circle cx="196.7" cy="148.3" r="1.55" fill="#7dcd73"/>
<circle cx="204.1" cy="195.4" r="1.55" fill="#46c6b4"/>
<circle cx="185.7" cy="63.5" r="1.55" fill="#23b9e8"/>
<circle cx="166.6" cy="159.1" r="1.55" fill="#eee419"/>
<circle cx="214.1" cy="192.8" r="1.55" fill="#e41e1e"/>
<circle cx="180.3" cy="76.3" r="1.55" fill="#23b9e8"/>
<circle cx="82.7" cy="92.0" r="1.55" fill="#23b9e8"/>
<circle cx="204.2" cy="67.1" r="1.55" fill="#2332a0"/>
<circle cx="205.3" cy="100.3" r="1.55" fill="#7dcd73"/>
<circle cx="180.7" cy="184.4" r="1.55" fill="#2332a0"/>
<circle cx="154.9" cy="65.1" r="1.55" fill="#1e55cd"/>
<circle cx="202.6" cy="154.6" r="1.55" fill="#46c6b4"/>
<circle cx="219.4" cy="93.5" r="1.55" fill="#46c6b4"/>
<circle cx="223.4" cy="106.6" r="1.55" fill="#eee419"/>
<circle cx="203.2" cy="136.7" r="1.55" fill="#b4d737"/>
<circle cx="160.1" cy="131.4" r="1.55" fill="#eee419"/>
<circle cx="76.9" cy="101.7" r="1.55" fill="#7dcd73"/>
<circle cx="180.7" cy="191.9" r="1.55" fill="#46c6b4"/>
<circle cx="213.1" cy="140.9" r="1.55" fill="#46c6b4"/>
<circle cx="163.0" cy="184.9" r="1.55" fill="#e41e1e"/>
<circle cx="201.0" cy="90.4" r="1.55" fill="#1e55cd"/>
<circle cx="123.0" cy="189.8" r="1.55" fill="#e41e1e"/>
<circle cx="120.4" cy="173.9" r="1.55" fill="#f57d19"/>
<circle cx="185.1" cy="70.1" r="1.55" fill="#1e55cd"/>
<circle cx="112.7" cy="184.0" r="1.55" fill="#2332a0"/>
<circle cx="203.4" cy="170.6" r="1.55" fill="#7dcd73"/>
<circle cx="167.7" cy="99.8" r="1.55" fill="#7dcd73"/>
<circle cx="206.3" cy="91.9" r="1.55" fill="#7dcd73"/>
<circle cx="167.4" cy="182.4" r="1.55" fill="#eee419"/>
<circle cx="123.2" cy="185.4" r="1.55" fill="#eee419"/>
<circle cx="137.4" cy="69.1" r="1.55" fill="#b4d737"/>
<circle cx="204.7" cy="148.2" r="1.55" fill="#7dcd73"/>
<circle cx="187.0" cy="120.9" r="1.55" fill="#e41e1e"/>
<circle cx="165.6" cy="61.2" r="1.55" fill="#46c6b4"/>
<circle cx="181.3" cy="188.7" r="1.55" fill="#7dcd73"/>
<circle cx="203.1" cy="190.7" r="1.55" fill="#46c6b4"/>
<circle cx="227.2" cy="184.6" r="1.55" fill="#23b9e8"/>
<circle cx="165.3" cy="173.1" r="1.55" fill="#e41e1e"/>
<circle cx="212.7" cy="166.4" r="1.55" fill="#46c6b4"/>
<circle cx="82.1" cy="123.4" r="1.55" fill="#e41e1e"/>
<circle cx="218.3" cy="166.2" r="1.55" fill="#23b9e8"/>
<circle cx="213.0" cy="131.5" r="1.55" fill="#1e55cd"/>
<circle cx="81.2" cy="97.8" r="1.55" fill="#e41e1e"/>
<circle cx="202.1" cy="196.4" r="1.55" fill="#23b9e8"/>
<circle cx="169.9" cy="64.6" r="1.55" fill="#1e55cd"/>
<circle cx="74.9" cy="99.8" r="1.55" fill="#1e55cd"/>
<circle cx="75.3" cy="97.4" r="1.55" fill="#2332a0"/>
<circle cx="201.2" cy="128.6" r="1.55" fill="#b4d737"/>
<circle cx="230.5" cy="123.4" r="1.55" fill="#b4d737"/>
<circle cx="164.3" cy="181.0" r="1.55" fill="#e41e1e"/>
<circle cx="187.9" cy="75.1" r="1.55" fill="#46c6b4"/>
<circle cx="215.8" cy="137.6" r="1.55" fill="#2332a0"/>
<circle cx="167.7" cy="197.9" r="1.55" fill="#7dcd73"/>
<circle cx="162.0" cy="192.9" r="1.55" fill="#eee419"/>
<circle cx="174.4" cy="129.7" r="1.55" fill="#e41e1e"/>
<circle cx="176.9" cy="80.0" r="1.55" fill="#eee419"/>
<circle cx="220.5" cy="128.3" r="1.55" fill="#1e55cd"/>
<circle cx="211.4" cy="162.2" r="1.55" fill="#46c6b4"/>
<circle cx="191.4" cy="110.1" r="1.55" fill="#b4d737"/>
<circle cx="166.1" cy="204.3" r="1.55" fill="#eee419"/>
<circle cx="168.8" cy="179.5" r="1.55" fill="#1e55cd"/>
<circle cx="173.2" cy="194.0" r="1.55" fill="#f57d19"/>
<circle cx="170.7" cy="180.3" r="1.55" fill="#7dcd73"/>
<circle cx="220.0" cy="96.7" r="1.55" fill="#1e55cd"/>
<circle cx="217.6" cy="143.3" r="1.55" fill="#23b9e8"/>
<circle cx="222.6" cy="137.4" r="1.55" fill="#eee419"/>
<circle cx="82.1" cy="80.2" r="1.55" fill="#1e55cd"/>
<circle cx="84.6" cy="119.2" r="1.55" fill="#1e55cd"/>
<circle cx="181.5" cy="117.7" r="1.55" fill="#2332a0"/>
<circle cx="217.5" cy="185.2" r="1.55" fill="#7dcd73"/>
<circle cx="210.7" cy="83.9" r="1.55" fill="#7dcd73"/>
<circle cx="186.4" cy="90.8" r="1.55" fill="#1e55cd"/>
<circle cx="218.5" cy="96.0" r="1.55" fill="#1e55cd"/>
<circle cx="215.7" cy="152.7" r="1.55" fill="#b4d737"/>
<circle cx="220.4" cy="178.1" r="1.55" fill="#b4d737"/>
<circle cx="189.6" cy="80.0" r="1.55" fill="#46c6b4"/>
<circle cx="168.5" cy="78.0" r="1.55" fill="#eee419"/>
<circle cx="185.0" cy="69.8" r="1.55" fill="#23b9e8"/>
<circle cx="201.7" cy="147.1" r="1.55" fill="#1e55cd"/>
<circle cx="200.0" cy="67.7" r="1.55" fill="#2332a0"/>
<circle cx="209.5" cy="195.2" r="1.55" fill="#1e55cd"/>
<circle cx="172.3" cy="83.1" r="1.55" fill="#7dcd73"/>
<circle cx="166.5" cy="57.5" r="1.55" fill="#46c6b4"/>
<circle cx="103.1" cy="71.5" r="1.55" fill="#b4d737"/>
<circle cx="201.9" cy="79.2" r="1.55" fill="#23b9e8"/>
<circle cx="189.7" cy="92.1" r="1.55" fill="#7dcd73"/>
<circle cx="202.7" cy="99.6" r="1.55" fill="#46c6b4"/>
<circle cx="169.1" cy="101.9" r="1.55" fill="#7dcd73"/>
<circle cx="208.9" cy="160.8" r="1.55" fill="#e41e1e"/>
<circle cx="159.1" cy="78.0" r="1.55" fill="#eee419"/>
<circle cx="121.5" cy="193.5" r="1.55" fill="#7dcd73"/>
<circle cx="170.5" cy="182.5" r="1.55" fill="#b4d737"/>
<circle cx="173.4" cy="175.1" r="1.55" fill="#b4d737"/>
<circle cx="208.9" cy="123.7" r="1.55" fill="#1e55cd"/>
<circle cx="195.8" cy="68.3" r="1.55" fill="#23b9e8"/>
<circle cx="226.4" cy="134.9" r="1.55" fill="#23b9e8"/>
<circle cx="212.4" cy="90.1" r="1.55" fill="#46c6b4"/>
<circle cx="200.2" cy="153.5" r="1.55" fill="#23b9e8"/>
<circle cx="82.4" cy="96.4" r="1.55" fill="#23b9e8"/>
<circle cx="223.3" cy="171.6" r="1.55" fill="#b4d737"/>
<circle cx="206.2" cy="190.0" r="1.55" fill="#eee419"/>
<circle cx="193.1" cy="114.4" r="1.55" fill="#23b9e8"/>
<circle cx="229.8" cy="125.1" r="1.55" fill="#7dcd73"/>
<circle cx="94.8" cy="121.2" r="1.55" fill="#23b9e8"/>
<circle cx="171.8" cy="96.9" r="1.55" fill="#eee419"/>
<circle cx="96.8" cy="99.1" r="1.55" fill="#e41e1e"/>
<circle cx="179.6" cy="161.3" r="1.55" fill="#f57d19"/>
<circle cx="192.3" cy="94.5" r="1.55" fill="#23b9e8"/>
<circle cx="163.0" cy="94.7" r="1.55" fill="#b4d737"/>
<circle cx="216.6" cy="195.4" r="1.55" fill="#1e55cd"/>
<circle cx="166.9" cy="116.2" r="1.55" fill="#2332a0"/>
<circle cx="167.0" cy="79.6" r="1.55" fill="#b4d737"/>
<circle cx="224.8" cy="137.3" r="1.55" fill="#e41e1e"/>
<circle cx="136.5" cy="66.6" r="1.55" fill="#7dcd73"/>
<circle cx="238.5" cy="132.6" r="1.55" fill="#eee419"/>
<circle cx="182.7" cy="90.8" r="1.55" fill="#23b9e8"/>
<circle cx="92.7" cy="71.1" r="1.55" fill="#46c6b4"/>
<circle cx="215.4" cy="91.8" r="1.55" fill="#7dcd73"/>
<circle cx="202.8" cy="179.4" r="1.55" fill="#1e55cd"/>
<circle cx="220.7" cy="168.9" r="1.55" fill="#7dcd73"/>
<circle cx="168.3" cy="63.7" r="1.55" fill="#23b9e8"/>
<circle cx="177.2" cy="57.1" r="1.55" fill="#1e55cd"/>
<circle cx="147.6" cy="61.4" r="1.55" fill="#eee419"/>
<circle cx="197.9" cy="81.1" r="1.55" fill="#46c6b4"/>
<circle cx="198.6" cy="76.6" r="1.55" fill="#2332a0"/>
<circle cx="190.7" cy="64.4" r="1.55" fill="#7dcd73"/>
<circle cx="131.9" cy="186.5" r="1.55" fill="#e41e1e"/>
<circle cx="187.1" cy="158.0" r="1.55" fill="#1e55cd"/>
<circle cx="195.8" cy="158.3" r="1.55" fill="#46c6b4"/>
<circle cx="170.6" cy="180.7" r="1.55" fill="#eee419"/>
<circle cx="167.7" cy="58.6" r="1.55" fill="#46c6b4"/>
<circle cx="220.6" cy="192.3" r="1.55" fill="#b4d737"/>
<circle cx="209.4" cy="143.1" r="1.55" fill="#b4d737"/>
<circle cx="162.9" cy="118.8" r="1.55" fill="#1e55cd"/>
<circle cx="150.3" cy="83.5" r="1.55" fill="#23b9e8"/>
<circle cx="189.5" cy="101.6" r="1.55" fill="#7dcd73"/>
<circle cx="198.6" cy="95.2" r="1.55" fill="#1e55cd"/>
<circle cx="112.1" cy="178.7" r="1.55" fill="#e41e1e"/>
<circle cx="225.8" cy="154.3" r="1.55" fill="#23b9e8"/>
<circle cx="198.3" cy="70.1" r="1.55" fill="#2332a0"/>
<circle cx="226.7" cy="184.6" r="1.55" fill="#2332a0"/>
<circle cx="182.4" cy="95.1" r="1.55" fill="#1e55cd"/>
<circle cx="198.2" cy="144.3" r="1.55" fill="#46c6b4"/>
<circle cx="214.8" cy="126.6" r="1.55" fill="#23b9e8"/>
<circle cx="102.5" cy="72.2" r="1.55" fill="#2332a0"/>
<circle cx="159.2" cy="174.8" r="1.55" fill="#eee419"/>
<circle cx="229.8" cy="172.3" r="1.55" fill="#1e55cd"/>
<circle cx="210.4" cy="80.6" r="1.55" fill="#b4d737"/>
<circle cx="79.9" cy="103.4" r="1.55" fill="#1e55cd"/>
<circle cx="181.8" cy="95.9" r="1.55" fill="#b4d737"/>
<circle cx="214.4" cy="95.3" r="1.55" fill="#b4d737"/>
<circle cx="160.0" cy="124.5" r="1.55" fill="#b4d737"/>
<circle cx="220.0" cy="191.9" r="1.55" fill="#7dcd73"/>
<circle cx="220.5" cy="166.1" r="1.55" fill="#7dcd73"/>
<circle cx="173.6" cy="65.3" r="1.55" fill="#1e55cd"/>
<circle cx="168.7" cy="177.2" r="1.55" fill="#eee419"/>
<circle cx="182.0" cy="97.3" r="1.55" fill="#eee419"/>
<circle cx="170.3" cy="182.0" r="1.55" fill="#eee419"/>
<circle cx="149.2" cy="79.4" r="1.55" fill="#7dcd73"/>
<circle cx="214.2" cy="151.0" r="1.55" fill="#2332a0"/>
<circle cx="229.1" cy="148.5" r="1.55" fill="#46c6b4"/>
<circle cx="165.5" cy="182.5" r="1.55" fill="#7dcd73"/>
<circle cx="219.4" cy="189.4" r="1.55" fill="#7dcd73"/>
<circle cx="81.9" cy="122.2" r="1.55" fill="#e41e1e"/>
<circle cx="163.5" cy="101.7" r="1.55" fill="#e41e1e"/>
<circle cx="160.4" cy="88.2" r="1.55" fill="#7dcd73"/>
<circle cx="167.7" cy="118.0" r="1.55" fill="#eee419"/>
<circle cx="140.0" cy="150.0" r="1.5" fill="#e41e1e"/>
<circle cx="99.5" cy="177.0" r="1.55" fill="#e41e1e"/>
<circle cx="160.6" cy="128.3" r="1.55" fill="#1e55cd"/>
<circle cx="161.5" cy="135.3" r="1.55" fill="#e41e1e"/>
<circle cx="77.2" cy="86.6" r="1.55" fill="#7dcd73"/>
<circle cx="183.2" cy="189.2" r="1.55" fill="#7dcd73"/>
<circle cx="111.5" cy="167.0" r="1.55" fill="#23b9e8"/>
<circle cx="159.5" cy="199.0" r="1.55" fill="#eee419"/>
<circle cx="200.0" cy="62.7" r="1.55" fill="#23b9e8"/>
<circle cx="206.8" cy="159.0" r="1.55" fill="#23b9e8"/>
<circle cx="196.2" cy="179.2" r="1.55" fill="#23b9e8"/>
<circle cx="188.8" cy="148.8" r="1.55" fill="#b4d737"/>
<circle cx="159.9" cy="78.2" r="1.55" fill="#7dcd73"/>
<circle cx="111.2" cy="178.9" r="1.55" fill="#f57d19"/>
<circle cx="143.4" cy="64.2" r="1.55" fill="#b4d737"/>
<circle cx="147.3" cy="61.4" r="1.55" fill="#7dcd73"/>
<circle cx="92.9" cy="77.4" r="1.55" fill="#b4d737"/>
<circle cx="219.4" cy="124.0" r="1.55" fill="#46c6b4"/>
<circle cx="185.5" cy="70.3" r="1.55" fill="#23b9e8"/>
<circle cx="197.4" cy="155.7" r="1.55" fill="#7dcd73"/>
<circle cx="182.2" cy="100.9" r="1.55" fill="#eee419"/>
<circle cx="85.3" cy="122.8" r="1.55" fill="#23b9e8"/>
<circle cx="203.2" cy="167.0" r="1.55" fill="#eee419"/>
<circle cx="108.5" cy="164.0" r="1.55" fill="#2332a0"/>
<circle cx="92.4" cy="114.9" r="1.55" fill="#e41e1e"/>
<circle cx="195.9" cy="105.1" r="1.55" fill="#b4d737"/>
<circle cx="216.6" cy="143.5" r="1.55" fill="#23b9e8"/>
<circle cx="176.7" cy="60.2" r="1.55" fill="#1e55cd"/>
<circle cx="89.9" cy="110.5" r="1.55" fill="#e41e1e"/>
<circle cx="223.3" cy="129.7" r="1.55" fill="#b4d737"/>
<circle cx="210.5" cy="88.4" r="1.55" fill="#7dcd73"/>
<circle cx="187.1" cy="101.4" r="1.55" fill="#2332a0"/>
<circle cx="150.7" cy="63.3" r="1.55" fill="#eee419"/>
<circle cx="92.5" cy="74.0" r="1.55" fill="#2332a0"/>
<circle cx="172.8" cy="90.9" r="1.55" fill="#eee419"/>
<circle cx="184.8" cy="77.1" r="1.55" fill="#46c6b4"/>
<circle cx="174.9" cy="82.9" r="1.55" fill="#eee419"/>
<circle cx="194.3" cy="101.3" r="1.55" fill="#1e55cd"/>
<circle cx="231.5" cy="137.7" r="1.55" fill="#23b9e8"/>
<circle cx="185.5" cy="96.2" r="1.55" fill="#eee419"/>
<circle cx="214.7" cy="131.8" r="1.55" fill="#46c6b4"/>
<circle cx="72.5" cy="119.3" r="1.55" fill="#23b9e8"/>
<circle cx="195.1" cy="69.5" r="1.55" fill="#23b9e8"/>
<circle cx="227.9" cy="148.3" r="1.55" fill="#b4d737"/>
<circle cx="206.9" cy="84.5" r="1.55" fill="#2332a0"/>
<circle cx="208.7" cy="186.7" r="1.55" fill="#eee419"/>
<circle cx="187.4" cy="197.7" r="1.55" fill="#1e55cd"/>
<circle cx="184.5" cy="174.1" r="1.55" fill="#7dcd73"/>
<circle cx="162.6" cy="96.1" r="1.55" fill="#7dcd73"/>
<circle cx="204.9" cy="99.7" r="1.55" fill="#eee419"/>
<circle cx="177.4" cy="175.2" r="1.55" fill="#eee419"/>
<circle cx="131.6" cy="185.3" r="1.55" fill="#f57d19"/>
<circle cx="208.5" cy="83.6" r="1.55" fill="#23b9e8"/>
<circle cx="213.0" cy="158.4" r="1.55" fill="#7dcd73"/>
<circle cx="202.6" cy="161.5" r="1.55" fill="#b4d737"/>
<circle cx="172.7" cy="78.2" r="1.55" fill="#1e55cd"/>
<circle cx="93.0" cy="114.3" r="1.55" fill="#2332a0"/>
<circle cx="216.9" cy="188.3" r="1.55" fill="#23b9e8"/>
<circle cx="221.0" cy="135.9" r="1.55" fill="#7dcd73"/>
<circle cx="172.2" cy="132.4" r="1.55" fill="#2332a0"/>
<circle cx="189.7" cy="141.4" r="1.55" fill="#2332a0"/>
<circle cx="222.6" cy="127.8" r="1.55" fill="#7dcd73"/>
<circle cx="78.4" cy="102.6" r="1.55" fill="#eee419"/>
<circle cx="238.6" cy="131.4" r="1.55" fill="#b4d737"/>
<circle cx="172.3" cy="108.2" r="1.55" fill="#e41e1e"/>
<circle cx="195.7" cy="153.2" r="1.55" fill="#1e55cd"/>
<circle cx="185.8" cy="175.4" r="1.55" fill="#23b9e8"/>
<circle cx="212.8" cy="103.7" r="1.55" fill="#2332a0"/>
<circle cx="208.7" cy="187.7" r="1.55" fill="#1e55cd"/>
<circle cx="215.0" cy="116.1" r="1.55" fill="#1e55cd"/>
<circle cx="177.5" cy="118.3" r="1.55" fill="#1e55cd"/>
<circle cx="171.3" cy="95.6" r="1.55" fill="#eee419"/>
<circle cx="161.2" cy="201.0" r="1.55" fill="#b4d737"/>
<circle cx="189.0" cy="74.2" r="1.55" fill="#b4d737"/>
<circle cx="221.9" cy="168.0" r="1.55" fill="#2332a0"/>
<circle cx="200.6" cy="165.1" r="1.55" fill="#2332a0"/>
<circle cx="228.0" cy="190.1" r="1.55" fill="#46c6b4"/>
<circle cx="169.5" cy="199.6" r="1.55" fill="#7dcd73"/>
<circle cx="206.6" cy="169.7" r="1.55" fill="#7dcd73"/>
<circle cx="76.0" cy="87.8" r="1.55" fill="#b4d737"/>
<circle cx="165.8" cy="91.9" r="1.55" fill="#e41e1e"/>
<circle cx="173.5" cy="115.8" r="1.55" fill="#b4d737"/>
<circle cx="178.8" cy="191.4" r="1.55" fill="#23b9e8"/>
<circle cx="178.1" cy="190.2" r="1.55" fill="#2332a0"/>
<circle cx="75.8" cy="86.7" r="1.55" fill="#eee419"/>
<circle cx="225.3" cy="151.3" r="1.55" fill="#7dcd73"/>
<circle cx="226.9" cy="124.0" r="1.55" fill="#eee419"/>
<circle cx="164.1" cy="102.0" r="1.55" fill="#e41e1e"/>
<circle cx="208.7" cy="172.1" r="1.55" fill="#7dcd73"/>
<circle cx="164.1" cy="192.4" r="1.55" fill="#7dcd73"/>
<circle cx="196.8" cy="110.1" r="1.55" fill="#23b9e8"/>
<circle cx="234.6" cy="149.6" r="1.55" fill="#2332a0"/>
<circle cx="223.5" cy="137.2" r="1.55" fill="#7dcd73"/>
<circle cx="226.6" cy="165.1" r="1.55" fill="#7dcd73"/>
<circle cx="220.0" cy="163.8" r="1.55" fill="#2332a0"/>
<circle cx="199.3" cy="114.7" r="1.55" fill="#eee419"/>
<circle cx="163.4" cy="118.7" r="1.55" fill="#1e55cd"/>
<circle cx="121.8" cy="180.9" r="1.55" fill="#e41e1e"/>
<circle cx="94.9" cy="108.0" r="1.55" fill="#7dcd73"/>
<circle cx="159.8" cy="76.1" r="1.55" fill="#e41e1e"/>
<circle cx="179.4" cy="111.6" r="1.55" fill="#7dcd73"/>
<circle cx="236.8" cy="146.6" r="1.55" fill="#2332a0"/>
<circle cx="177.8" cy="102.3" r="1.55" fill="#eee419"/>
<circle cx="205.8" cy="195.1" r="1.55" fill="#46c6b4"/>
<circle cx="153.2" cy="90.1" r="1.55" fill="#7dcd73"/>
<circle cx="205.0" cy="187.1" r="1.55" fill="#46c6b4"/>
<circle cx="94.9" cy="111.8" r="1.55" fill="#e41e1e"/>
<circle cx="233.2" cy="170.6" r="1.55" fill="#7dcd73"/>
<circle cx="218.3" cy="119.7" r="1.55" fill="#7dcd73"/>
<circle cx="220.0" cy="183.8" r="1.55" fill="#46c6b4"/>
<circle cx="74.0" cy="85.0" r="1.55" fill="#7dcd73"/>
<circle cx="212.6" cy="180.4" r="1.55" fill="#23b9e8"/>
<circle cx="182.5" cy="83.1" r="1.55" fill="#eee419"/>
<circle cx="235.0" cy="176.5" r="1.55" fill="#b4d737"/>
<circle cx="77.2" cy="109.4" r="1.55" fill="#23b9e8"/>
<circle cx="165.0" cy="137.8" r="1.55" fill="#b4d737"/>
<circle cx="234.2" cy="153.2" r="1.55" fill="#eee419"/>
<circle cx="95.9" cy="63.3" r="1.55" fill="#b4d737"/>
<circle cx="232.4" cy="129.8" r="1.55" fill="#b4d737"/>
<circle cx="172.2" cy="80.8" r="1.55" fill="#eee419"/>
<circle cx="221.2" cy="158.3" r="1.55" fill="#23b9e8"/>
<circle cx="193.0" cy="156.1" r="1.55" fill="#1e55cd"/>
<circle cx="99.9" cy="176.0" r="1.55" fill="#e41e1e"/>
<circle cx="114.5" cy="71.0" r="1.55" fill="#23b9e8"/>
<circle cx="87.2" cy="103.4" r="1.55" fill="#23b9e8"/>
<circle cx="238.8" cy="134.2" r="1.55" fill="#e41e1e"/>
<circle cx="192.0" cy="159.5" r="1.55" fill="#2332a0"/>
<circle cx="186.8" cy="153.6" r="1.55" fill="#7dcd73"/>
<circle cx="161.0" cy="175.2" r="1.55" fill="#e41e1e"/>
<circle cx="226.3" cy="133.5" r="1.55" fill="#7dcd73"/>
<circle cx="218.7" cy="164.2" r="1.55" fill="#23b9e8"/>
<circle cx="234.1" cy="174.7" r="1.55" fill="#46c6b4"/>
<circle cx="158.9" cy="78.2" r="1.55" fill="#b4d737"/>
<circle cx="195.7" cy="128.2" r="1.55" fill="#23b9e8"/>
<circle cx="195.7" cy="185.0" r="1.55" fill="#2332a0"/>
<circle cx="219.4" cy="169.1" r="1.55" fill="#f57d19"/>
<circle cx="168.1" cy="195.9" r="1.55" fill="#7dcd73"/>
<circle cx="191.6" cy="133.3" r="1.55" fill="#e41e1e"/>
<circle cx="177.2" cy="55.7" r="1.55" fill="#23b9e8"/>
<circle cx="213.2" cy="126.7" r="1.55" fill="#2332a0"/>
<circle cx="163.8" cy="59.3" r="1.55" fill="#23b9e8"/>
<circle cx="168.2" cy="76.2" r="1.55" fill="#23b9e8"/>
<circle cx="199.7" cy="156.5" r="1.55" fill="#1e55cd"/>
<circle cx="175.7" cy="139.0" r="1.55" fill="#e41e1e"/>
<circle cx="172.9" cy="122.5" r="1.55" fill="#1e55cd"/>
<circle cx="202.0" cy="103.5" r="1.55" fill="#7dcd73"/>
<circle cx="215.6" cy="151.0" r="1.55" fill="#7dcd73"/>
<circle cx="175.7" cy="83.8" r="1.55" fill="#eee419"/>
<circle cx="216.8" cy="191.1" r="1.55" fill="#2332a0"/>
<circle cx="208.1" cy="113.7" r="1.55" fill="#23b9e8"/>
<circle cx="121.3" cy="184.8" r="1.55" fill="#e41e1e"/>
<circle cx="179.6" cy="99.5" r="1.55" fill="#eee419"/>
<circle cx="215.2" cy="193.7" r="1.55" fill="#2332a0"/>
<circle cx="173.0" cy="90.1" r="1.55" fill="#eee419"/>
<circle cx="171.3" cy="84.0" r="1.55" fill="#23b9e8"/>
<circle cx="167.1" cy="87.6" r="1.55" fill="#b4d737"/>
<circle cx="153.0" cy="114.0" r="1.5" fill="#e41e1e"/>
<circle cx="174.6" cy="121.9" r="1.55" fill="#eee419"/>
<circle cx="197.4" cy="68.8" r="1.55" fill="#2332a0"/>
<circle cx="207.4" cy="89.9" r="1.55" fill="#b4d737"/>
<circle cx="238.0" cy="128.4" r="1.55" fill="#1e55cd"/>
<circle cx="213.8" cy="114.4" r="1.55" fill="#2332a0"/>
<circle cx="199.4" cy="93.1" r="1.55" fill="#46c6b4"/>
<circle cx="183.7" cy="164.6" r="1.55" fill="#2332a0"/>
<circle cx="213.8" cy="110.8" r="1.55" fill="#7dcd73"/>
<circle cx="93.0" cy="97.3" r="1.55" fill="#23b9e8"/>
<circle cx="152.1" cy="79.3" r="1.55" fill="#eee419"/>
<circle cx="199.1" cy="77.8" r="1.55" fill="#2332a0"/>
<circle cx="185.3" cy="150.9" r="1.55" fill="#23b9e8"/>
<circle cx="183.7" cy="94.5" r="1.55" fill="#e41e1e"/>
<circle cx="202.0" cy="90.3" r="1.55" fill="#7dcd73"/>
<circle cx="230.6" cy="121.6" r="1.55" fill="#7dcd73"/>
<circle cx="183.7" cy="65.6" r="1.55" fill="#7dcd73"/>
<circle cx="112.8" cy="161.8" r="1.55" fill="#1e55cd"/>
<circle cx="215.9" cy="186.9" r="1.55" fill="#1e55cd"/>
<circle cx="76.0" cy="87.2" r="1.55" fill="#1e55cd"/>
<circle cx="176.0" cy="84.8" r="1.55" fill="#eee419"/>
<circle cx="164.6" cy="183.5" r="1.55" fill="#1e55cd"/>
<circle cx="221.2" cy="194.6" r="1.55" fill="#2332a0"/>
<circle cx="172.6" cy="110.3" r="1.55" fill="#e41e1e"/>
<circle cx="161.7" cy="187.2" r="1.55" fill="#1e55cd"/>
<circle cx="206.0" cy="105.2" r="1.55" fill="#7dcd73"/>
<circle cx="204.3" cy="65.0" r="1.55" fill="#23b9e8"/>
<circle cx="191.1" cy="134.5" r="1.55" fill="#b4d737"/>
<circle cx="236.1" cy="165.1" r="1.55" fill="#b4d737"/>
<circle cx="173.1" cy="113.0" r="1.55" fill="#1e55cd"/>
<circle cx="163.4" cy="157.9" r="1.55" fill="#e41e1e"/>
<circle cx="205.3" cy="165.9" r="1.55" fill="#7dcd73"/>
<circle cx="239.3" cy="127.8" r="1.55" fill="#7dcd73"/>
<circle cx="166.4" cy="89.6" r="1.55" fill="#eee419"/>
<circle cx="190.3" cy="78.5" r="1.55" fill="#2332a0"/>
<circle cx="226.5" cy="157.8" r="1.55" fill="#7dcd73"/>
<circle cx="101.5" cy="176.2" r="1.55" fill="#eee419"/>
<circle cx="169.7" cy="123.3" r="1.55" fill="#1e55cd"/>
<circle cx="218.5" cy="185.0" r="1.55" fill="#eee419"/>
<circle cx="170.4" cy="206.0" r="1.55" fill="#e41e1e"/>
<circle cx="196.6" cy="193.5" r="1.55" fill="#eee419"/>
<circle cx="198.7" cy="77.2" r="1.55" fill="#b4d737"/>
<circle cx="158.8" cy="63.6" r="1.55" fill="#23b9e8"/>
<circle cx="217.6" cy="183.1" r="1.55" fill="#1e55cd"/>
<circle cx="201.1" cy="150.6" r="1.55" fill="#46c6b4"/>
<circle cx="210.2" cy="167.5" r="1.55" fill="#23b9e8"/>
<circle cx="78.7" cy="94.4" r="1.55" fill="#1e55cd"/>
<circle cx="172.8" cy="160.7" r="1.55" fill="#e41e1e"/>
<circle cx="217.2" cy="147.5" r="1.55" fill="#2332a0"/>
<circle cx="178.6" cy="190.3" r="1.55" fill="#e41e1e"/>
<circle cx="161.2" cy="98.1" r="1.55" fill="#eee419"/>
<circle cx="80.9" cy="119.3" r="1.55" fill="#e41e1e"/>
<circle cx="229.7" cy="167.5" r="1.55" fill="#b4d737"/>
<circle cx="237.4" cy="148.1" r="1.55" fill="#2332a0"/>
<circle cx="204.4" cy="123.6" r="1.55" fill="#7dcd73"/>
<circle cx="194.4" cy="192.1" r="1.55" fill="#23b9e8"/>
<circle cx="175.1" cy="181.2" r="1.55" fill="#e41e1e"/>
<circle cx="200.9" cy="90.9" r="1.55" fill="#b4d737"/>
<circle cx="175.8" cy="91.9" r="1.55" fill="#eee419"/>
<circle cx="201.9" cy="143.8" r="1.55" fill="#7dcd73"/>
<circle cx="229.0" cy="140.6" r="1.55" fill="#2332a0"/>
<circle cx="192.6" cy="126.7" r="1.55" fill="#7dcd73"/>
<circle cx="173.0" cy="97.4" r="1.55" fill="#b4d737"/>
<circle cx="164.1" cy="198.4" r="1.55" fill="#eee419"/>
<circle cx="102.7" cy="65.0" r="1.55" fill="#46c6b4"/>
<circle cx="162.4" cy="179.0" r="1.55" fill="#2332a0"/>
<circle cx="157.3" cy="188.3" r="1.55" fill="#eee419"/>
<circle cx="96.9" cy="75.4" r="1.55" fill="#46c6b4"/>
<circle cx="221.2" cy="127.8" r="1.55" fill="#2332a0"/>
<circle cx="232.4" cy="144.5" r="1.55" fill="#7dcd73"/>
<circle cx="231.7" cy="170.9" r="1.55" fill="#b4d737"/>
<circle cx="183.1" cy="116.6" r="1.55" fill="#2332a0"/>
<circle cx="191.6" cy="118.1" r="1.55" fill="#b4d737"/>
<circle cx="222.6" cy="156.2" r="1.55" fill="#b4d737"/>
<circle cx="207.6" cy="184.9" r="1.55" fill="#46c6b4"/>
<circle cx="202.4" cy="76.8" r="1.55" fill="#46c6b4"/>
<circle cx="162.2" cy="136.1" r="1.55" fill="#eee419"/>
<circle cx="92.5" cy="73.2" r="1.55" fill="#46c6b4"/>
<circle cx="190.1" cy="116.3" r="1.55" fill="#e41e1e"/>
<circle cx="238.3" cy="171.5" r="1.55" fill="#23b9e8"/>
<circle cx="73.8" cy="108.8" r="1.55" fill="#23b9e8"/>
<circle cx="183.7" cy="70.7" r="1.55" fill="#7dcd73"/>
<circle cx="183.6" cy="82.9" r="1.55" fill="#b4d737"/>
<circle cx="185.1" cy="194.2" r="1.55" fill="#b4d737"/>
<circle cx="214.7" cy="144.0" r="1.55" fill="#b4d737"/>
<circle cx="190.9" cy="183.9" r="1.55" fill="#b4d737"/>
<circle cx="205.9" cy="153.7" r="1.55" fill="#1e55cd"/>
<circle cx="165.8" cy="205.6" r="1.55" fill="#7dcd73"/>
<circle cx="171.7" cy="108.0" r="1.55" fill="#1e55cd"/>
<circle cx="96.1" cy="68.6" r="1.55" fill="#23b9e8"/>
<circle cx="228.4" cy="157.5" r="1.55" fill="#23b9e8"/>
<circle cx="156.3" cy="78.9" r="1.55" fill="#7dcd73"/>
<circle cx="180.5" cy="198.4" r="1.55" fill="#1e55cd"/>
<circle cx="175.7" cy="83.8" r="1.55" fill="#1e55cd"/>
<circle cx="193.9" cy="141.2" r="1.55" fill="#7dcd73"/>
<circle cx="209.5" cy="186.4" r="1.55" fill="#eee419"/>
<circle cx="168.3" cy="75.4" r="1.55" fill="#23b9e8"/>
<circle cx="190.8" cy="192.8" r="1.55" fill="#46c6b4"/>
<circle cx="169.2" cy="208.5" r="1.55" fill="#e41e1e"/>
<circle cx="169.0" cy="74.4" r="1.55" fill="#1e55cd"/>
<circle cx="216.5" cy="120.7" r="1.55" fill="#b4d737"/>
<circle cx="80.0" cy="102.9" r="1.55" fill="#2332a0"/>
<circle cx="120.1" cy="86.6" r="1.55" fill="#23b9e8"/>
<circle cx="196.8" cy="116.3" r="1.55" fill="#1e55cd"/>
<circle cx="113.3" cy="180.9" r="1.55" fill="#2332a0"/>
<circle cx="172.5" cy="61.9" r="1.55" fill="#23b9e8"/>
<circle cx="190.2" cy="92.1" r="1.55" fill="#b4d737"/>
<circle cx="209.2" cy="149.7" r="1.55" fill="#b4d737"/>
<circle cx="165.8" cy="176.4" r="1.55" fill="#eee419"/>
<circle cx="182.6" cy="81.9" r="1.55" fill="#1e55cd"/>
<circle cx="171.9" cy="69.3" r="1.55" fill="#eee419"/>
<circle cx="184.0" cy="90.2" r="1.55" fill="#7dcd73"/>
<circle cx="83.0" cy="89.1" r="1.55" fill="#23b9e8"/>
<circle cx="104.5" cy="157.9" r="1.55" fill="#e41e1e"/>
<circle cx="225.1" cy="137.3" r="1.55" fill="#eee419"/>
<circle cx="184.4" cy="156.4" r="1.55" fill="#23b9e8"/>
<circle cx="83.9" cy="101.5" r="1.55" fill="#1e55cd"/>
<circle cx="145.2" cy="60.4" r="1.55" fill="#b4d737"/>
<circle cx="72.8" cy="104.8" r="1.55" fill="#2332a0"/>
<circle cx="194.9" cy="147.1" r="1.55" fill="#7dcd73"/>
<circle cx="178.9" cy="61.6" r="1.55" fill="#23b9e8"/>
<circle cx="208.9" cy="176.0" r="1.55" fill="#23b9e8"/>
<circle cx="224.6" cy="164.8" r="1.55" fill="#23b9e8"/>
<circle cx="200.0" cy="111.1" r="1.55" fill="#7dcd73"/>
<circle cx="177.8" cy="138.2" r="1.55" fill="#eee419"/>
<circle cx="158.3" cy="183.6" r="1.55" fill="#eee419"/>
<circle cx="181.0" cy="132.1" r="1.55" fill="#e41e1e"/>
<circle cx="174.2" cy="61.8" r="1.55" fill="#46c6b4"/>
<circle cx="83.8" cy="79.8" r="1.55" fill="#7dcd73"/>
<circle cx="203.6" cy="156.8" r="1.55" fill="#7dcd73"/>
<circle cx="177.2" cy="160.4" r="1.55" fill="#e41e1e"/>
<circle cx="196.4" cy="111.1" r="1.55" fill="#23b9e8"/>
<circle cx="160.6" cy="119.2" r="1.55" fill="#eee419"/>
<circle cx="198.2" cy="108.8" r="1.55" fill="#7dcd73"/>
<circle cx="205.4" cy="137.4" r="1.55" fill="#7dcd73"/>
<circle cx="86.7" cy="102.9" r="1.55" fill="#e41e1e"/>
<circle cx="206.2" cy="162.5" r="1.55" fill="#1e55cd"/>
<circle cx="200.8" cy="184.0" r="1.55" fill="#1e55cd"/>
<circle cx="160.9" cy="123.7" r="1.55" fill="#eee419"/>
<circle cx="195.5" cy="69.8" r="1.55" fill="#46c6b4"/>
<circle cx="93.4" cy="102.2" r="1.55" fill="#1e55cd"/>
<circle cx="201.9" cy="155.3" r="1.55" fill="#23b9e8"/>
<circle cx="183.8" cy="71.1" r="1.55" fill="#1e55cd"/>
<circle cx="196.5" cy="146.6" r="1.55" fill="#b4d737"/>
<circle cx="195.1" cy="112.0" r="1.55" fill="#b4d737"/>
<circle cx="180.8" cy="100.9" r="1.55" fill="#23b9e8"/>
<circle cx="189.2" cy="185.4" r="1.55" fill="#23b9e8"/>
<circle cx="184.1" cy="64.4" r="1.55" fill="#7dcd73"/>
<circle cx="185.2" cy="192.0" r="1.55" fill="#1e55cd"/>
<circle cx="170.6" cy="104.5" r="1.55" fill="#eee419"/>
<circle cx="157.5" cy="156.1" r="1.55" fill="#e41e1e"/>
<circle cx="142.8" cy="67.9" r="1.55" fill="#eee419"/>
<circle cx="195.5" cy="94.6" r="1.55" fill="#7dcd73"/>
<circle cx="212.6" cy="180.5" r="1.55" fill="#1e55cd"/>
<circle cx="213.3" cy="164.8" r="1.55" fill="#1e55cd"/>
<circle cx="230.2" cy="173.8" r="1.55" fill="#46c6b4"/>
<circle cx="163.2" cy="123.9" r="1.55" fill="#eee419"/>
<circle cx="199.2" cy="181.7" r="1.55" fill="#2332a0"/>
<circle cx="185.9" cy="111.8" r="1.55" fill="#e41e1e"/>
<circle cx="215.5" cy="78.0" r="1.55" fill="#7dcd73"/>
<circle cx="181.8" cy="92.6" r="1.55" fill="#e41e1e"/>
<circle cx="168.2" cy="76.2" r="1.55" fill="#46c6b4"/>
<circle cx="208.4" cy="106.7" r="1.55" fill="#b4d737"/>
<circle cx="206.2" cy="97.3" r="1.55" fill="#b4d737"/>
<circle cx="173.3" cy="139.0" r="1.55" fill="#eee419"/>
<circle cx="219.5" cy="187.4" r="1.55" fill="#eee419"/>
<circle cx="94.7" cy="159.2" r="1.55" fill="#e41e1e"/>
<circle cx="122.2" cy="77.2" r="1.55" fill="#eee419"/>
<circle cx="162.6" cy="57.6" r="1.55" fill="#1e55cd"/>
<circle cx="177.2" cy="100.4" r="1.55" fill="#b4d737"/>
<circle cx="222.7" cy="157.3" r="1.55" fill="#f57d19"/>
<circle cx="200.1" cy="188.4" r="1.55" fill="#1e55cd"/>
<circle cx="202.1" cy="105.4" r="1.55" fill="#2332a0"/>
<circle cx="182.5" cy="70.5" r="1.55" fill="#46c6b4"/>
<circle cx="207.8" cy="121.8" r="1.55" fill="#1e55cd"/>
<circle cx="177.3" cy="102.2" r="1.55" fill="#7dcd73"/>
<circle cx="171.0" cy="92.7" r="1.55" fill="#23b9e8"/>
<circle cx="174.8" cy="65.6" r="1.55" fill="#eee419"/>
<circle cx="161.1" cy="201.8" r="1.55" fill="#e41e1e"/>
<circle cx="161.2" cy="85.4" r="1.55" fill="#7dcd73"/>
<circle cx="185.5" cy="172.7" r="1.55" fill="#46c6b4"/>
<circle cx="206.1" cy="151.7" r="1.55" fill="#46c6b4"/>
<circle cx="234.8" cy="152.4" r="1.55" fill="#7dcd73"/>
<circle cx="122.3" cy="181.6" r="1.55" fill="#e41e1e"/>
<circle cx="101.6" cy="165.6" r="1.55" fill="#e41e1e"/>
<circle cx="159.7" cy="182.2" r="1.55" fill="#eee419"/>
<circle cx="205.0" cy="155.9" r="1.55" fill="#46c6b4"/>
<circle cx="152.1" cy="60.2" r="1.55" fill="#eee419"/>
<circle cx="97.5" cy="98.0" r="1.55" fill="#eee419"/>
<circle cx="178.8" cy="81.0" r="1.55" fill="#7dcd73"/>
<circle cx="166.2" cy="191.5" r="1.55" fill="#7dcd73"/>
<circle cx="188.6" cy="183.1" r="1.55" fill="#b4d737"/>
<circle cx="212.7" cy="166.1" r="1.55" fill="#1e55cd"/>
<circle cx="203.6" cy="185.3" r="1.55" fill="#23b9e8"/>
<circle cx="195.1" cy="144.4" r="1.55" fill="#2332a0"/>
<circle cx="124.8" cy="187.0" r="1.55" fill="#e41e1e"/>
<circle cx="173.7" cy="76.9" r="1.55" fill="#eee419"/>
<circle cx="183.1" cy="183.7" r="1.55" fill="#46c6b4"/>
<circle cx="168.0" cy="72.6" r="1.55" fill="#23b9e8"/>
<circle cx="138.9" cy="67.2" r="1.55" fill="#b4d737"/>
<circle cx="111.7" cy="157.7" r="1.55" fill="#e41e1e"/>
<circle cx="196.9" cy="121.1" r="1.55" fill="#b4d737"/>
<circle cx="218.4" cy="168.4" r="1.55" fill="#23b9e8"/>
<circle cx="165.0" cy="132.6" r="1.55" fill="#eee419"/>
<circle cx="162.8" cy="201.0" r="1.55" fill="#7dcd73"/>
<circle cx="116.1" cy="67.0" r="1.55" fill="#eee419"/>
<circle cx="127.7" cy="99.0" r="1.5" fill="#e41e1e"/>
<circle cx="212.2" cy="78.6" r="1.55" fill="#b4d737"/>
<circle cx="223.9" cy="162.4" r="1.55" fill="#7dcd73"/>
<circle cx="166.5" cy="203.7" r="1.55" fill="#b4d737"/>
<circle cx="231.8" cy="125.5" r="1.55" fill="#1e55cd"/>
<circle cx="78.2" cy="92.8" r="1.55" fill="#7dcd73"/>
<circle cx="199.1" cy="129.0" r="1.55" fill="#eee419"/>
<circle cx="206.0" cy="98.0" r="1.55" fill="#23b9e8"/>
<circle cx="122.2" cy="193.8" r="1.55" fill="#e41e1e"/>
<circle cx="209.7" cy="86.0" r="1.55" fill="#46c6b4"/>
<circle cx="170.7" cy="55.9" r="1.55" fill="#23b9e8"/>
<circle cx="199.5" cy="184.3" r="1.55" fill="#23b9e8"/>
<circle cx="142.1" cy="65.4" r="1.55" fill="#1e55cd"/>
<circle cx="197.9" cy="75.8" r="1.55" fill="#2332a0"/>
<circle cx="114.1" cy="71.9" r="1.55" fill="#e41e1e"/>
<circle cx="81.8" cy="108.1" r="1.55" fill="#e41e1e"/>
<circle cx="165.3" cy="206.8" r="1.55" fill="#eee419"/>
<circle cx="201.1" cy="113.9" r="1.55" fill="#1e55cd"/>
<circle cx="159.0" cy="189.4" r="1.55" fill="#b4d737"/>
<circle cx="173.5" cy="188.3" r="1.55" fill="#eee419"/>
<circle cx="206.4" cy="197.2" r="1.55" fill="#1e55cd"/>
<circle cx="80.8" cy="102.8" r="1.55" fill="#e41e1e"/>
<circle cx="158.8" cy="95.5" r="1.55" fill="#e41e1e"/>
<circle cx="210.7" cy="103.7" r="1.55" fill="#46c6b4"/>
<circle cx="220.6" cy="158.3" r="1.55" fill="#46c6b4"/>
<circle cx="196.9" cy="113.0" r="1.55" fill="#eee419"/>
<circle cx="200.5" cy="135.5" r="1.55" fill="#e41e1e"/>
<circle cx="182.9" cy="105.1" r="1.55" fill="#b4d737"/>
<circle cx="182.2" cy="187.8" r="1.55" fill="#2332a0"/>
<circle cx="200.1" cy="73.0" r="1.55" fill="#7dcd73"/>
<circle cx="221.0" cy="190.4" r="1.55" fill="#eee419"/>
<circle cx="195.8" cy="151.8" r="1.55" fill="#46c6b4"/>
<circle cx="182.8" cy="86.5" r="1.55" fill="#7dcd73"/>
<circle cx="202.8" cy="164.3" r="1.55" fill="#7dcd73"/>
<circle cx="200.9" cy="104.9" r="1.55" fill="#7dcd73"/>
<circle cx="165.3" cy="102.8" r="1.55" fill="#b4d737"/>
<circle cx="227.1" cy="183.1" r="1.55" fill="#7dcd73"/>
<circle cx="226.4" cy="148.9" r="1.55" fill="#23b9e8"/>
<circle cx="170.6" cy="82.9" r="1.55" fill="#b4d737"/>
<circle cx="233.2" cy="151.1" r="1.55" fill="#23b9e8"/>
<circle cx="174.9" cy="179.4" r="1.55" fill="#1e55cd"/>
<circle cx="197.9" cy="81.5" r="1.55" fill="#46c6b4"/>
<circle cx="184.2" cy="92.8" r="1.55" fill="#e41e1e"/>
<circle cx="184.2" cy="152.9" r="1.55" fill="#2332a0"/>
<circle cx="196.6" cy="185.6" r="1.55" fill="#23b9e8"/>
<circle cx="154.2" cy="81.3" r="1.55" fill="#23b9e8"/>
<circle cx="165.5" cy="65.4" r="1.55" fill="#23b9e8"/>
<circle cx="231.3" cy="126.3" r="1.55" fill="#7dcd73"/>
<circle cx="151.3" cy="61.7" r="1.55" fill="#b4d737"/>
<circle cx="118.8" cy="72.0" r="1.55" fill="#e41e1e"/>
<circle cx="207.3" cy="80.1" r="1.55" fill="#1e55cd"/>
<circle cx="204.3" cy="86.1" r="1.55" fill="#7dcd73"/>
<circle cx="167.0" cy="187.1" r="1.55" fill="#eee419"/>
<circle cx="238.3" cy="127.9" r="1.55" fill="#1e55cd"/>
<circle cx="203.9" cy="118.5" r="1.55" fill="#46c6b4"/>
<circle cx="159.0" cy="152.0" r="1.5" fill="#e41e1e"/>
<circle cx="202.4" cy="71.1" r="1.55" fill="#7dcd73"/>
<circle cx="158.6" cy="98.0" r="1.55" fill="#7dcd73"/>
<circle cx="171.1" cy="175.2" r="1.55" fill="#1e55cd"/>
<circle cx="206.5" cy="116.4" r="1.55" fill="#b4d737"/>
<circle cx="212.8" cy="118.5" r="1.55" fill="#7dcd73"/>
<circle cx="168.8" cy="58.4" r="1.55" fill="#46c6b4"/>
<circle cx="219.6" cy="194.7" r="1.55" fill="#2332a0"/>
<circle cx="78.0" cy="108.8" r="1.55" fill="#23b9e8"/>
<circle cx="172.4" cy="99.1" r="1.55" fill="#7dcd73"/>
<circle cx="207.4" cy="81.3" r="1.55" fill="#b4d737"/>
<circle cx="158.2" cy="202.7" r="1.55" fill="#b4d737"/>
<circle cx="199.8" cy="118.9" r="1.55" fill="#1e55cd"/>
<circle cx="195.8" cy="144.6" r="1.55" fill="#23b9e8"/>
<circle cx="221.1" cy="154.0" r="1.55" fill="#46c6b4"/>
<circle cx="96.4" cy="117.8" r="1.55" fill="#eee419"/>
<circle cx="89.5" cy="107.8" r="1.55" fill="#7dcd73"/>
<circle cx="155.4" cy="82.8" r="1.55" fill="#eee419"/>
<circle cx="217.1" cy="123.1" r="1.55" fill="#23b9e8"/>
<circle cx="91.9" cy="120.0" r="1.55" fill="#2332a0"/>
<circle cx="181.1" cy="175.1" r="1.55" fill="#23b9e8"/>
<circle cx="172.0" cy="116.0" r="1.55" fill="#e41e1e"/>
<circle cx="221.1" cy="171.7" r="1.55" fill="#23b9e8"/>
<circle cx="155.5" cy="93.7" r="1.55" fill="#eee419"/>
<circle cx="180.1" cy="101.0" r="1.55" fill="#7dcd73"/>
<circle cx="122.2" cy="192.8" r="1.55" fill="#1e55cd"/>
<circle cx="73.5" cy="96.5" r="1.55" fill="#23b9e8"/>
<circle cx="199.3" cy="129.4" r="1.55" fill="#e41e1e"/>
<circle cx="180.3" cy="189.3" r="1.55" fill="#2332a0"/>
<circle cx="200.2" cy="85.7" r="1.55" fill="#46c6b4"/>
<circle cx="193.8" cy="115.3" r="1.55" fill="#46c6b4"/>
<circle cx="195.5" cy="135.3" r="1.55" fill="#b4d737"/>
<circle cx="95.1" cy="64.5" r="1.55" fill="#23b9e8"/>
<circle cx="192.5" cy="77.7" r="1.55" fill="#7dcd73"/>
<circle cx="181.3" cy="86.5" r="1.55" fill="#23b9e8"/>
<circle cx="208.7" cy="89.9" r="1.55" fill="#2332a0"/>
<circle cx="74.7" cy="123.7" r="1.55" fill="#23b9e8"/>
<circle cx="185.5" cy="187.1" r="1.55" fill="#23b9e8"/>
<circle cx="92.2" cy="120.7" r="1.55" fill="#eee419"/>
<circle cx="237.7" cy="136.2" r="1.55" fill="#b4d737"/>
<circle cx="182.8" cy="185.2" r="1.55" fill="#2332a0"/>
<circle cx="199.1" cy="191.6" r="1.55" fill="#46c6b4"/>
<circle cx="194.3" cy="143.3" r="1.55" fill="#23b9e8"/>
<circle cx="199.6" cy="115.8" r="1.55" fill="#e41e1e"/>
<circle cx="208.8" cy="182.5" r="1.55" fill="#7dcd73"/>
<circle cx="156.6" cy="82.1" r="1.55" fill="#b4d737"/>
<circle cx="173.9" cy="59.3" r="1.55" fill="#23b9e8"/>
<circle cx="190.4" cy="159.7" r="1.55" fill="#23b9e8"/>
<circle cx="232.2" cy="153.9" r="1.55" fill="#46c6b4"/>
<circle cx="172.3" cy="175.3" r="1.55" fill="#1e55cd"/>
<circle cx="165.4" cy="100.5" r="1.55" fill="#b4d737"/>
<circle cx="219.4" cy="161.7" r="1.55" fill="#23b9e8"/>
<circle cx="215.0" cy="158.5" r="1.55" fill="#23b9e8"/>
<circle cx="166.9" cy="190.9" r="1.55" fill="#1e55cd"/>
<circle cx="219.5" cy="164.9" r="1.55" fill="#23b9e8"/>
<circle cx="203.0" cy="103.1" r="1.55" fill="#b4d737"/>
<circle cx="93.9" cy="108.9" r="1.55" fill="#7dcd73"/>
<circle cx="171.7" cy="209.0" r="1.55" fill="#b4d737"/>
<circle cx="211.6" cy="143.9" r="1.55" fill="#b4d737"/>
<circle cx="184.5" cy="62.3" r="1.55" fill="#7dcd73"/>
<circle cx="220.4" cy="120.1" r="1.55" fill="#eee419"/>
<circle cx="190.9" cy="64.2" r="1.55" fill="#23b9e8"/>
<circle cx="219.6" cy="195.3" r="1.55" fill="#46c6b4"/>
<circle cx="219.0" cy="173.9" r="1.55" fill="#7dcd73"/>
<circle cx="218.6" cy="102.1" r="1.55" fill="#7dcd73"/>
<circle cx="210.1" cy="164.1" r="1.55" fill="#7dcd73"/>
<circle cx="203.9" cy="75.3" r="1.55" fill="#b4d737"/>
<circle cx="190.2" cy="72.9" r="1.55" fill="#46c6b4"/>
<circle cx="160.6" cy="127.1" r="1.55" fill="#b4d737"/>
<circle cx="80.1" cy="94.6" r="1.55" fill="#e41e1e"/>
<circle cx="96.5" cy="163.9" r="1.55" fill="#e41e1e"/>
<circle cx="200.1" cy="184.1" r="1.55" fill="#7dcd73"/>
<circle cx="210.0" cy="104.5" r="1.55" fill="#b4d737"/>
<circle cx="175.6" cy="100.6" r="1.55" fill="#7dcd73"/>
<circle cx="96.0" cy="111.9" r="1.55" fill="#e41e1e"/>
<circle cx="131.8" cy="97.4" r="1.5" fill="#e41e1e"/>
<circle cx="177.4" cy="83.3" r="1.55" fill="#eee419"/>
<circle cx="213.5" cy="111.2" r="1.55" fill="#23b9e8"/>
<circle cx="177.5" cy="57.7" r="1.55" fill="#1e55cd"/>
<circle cx="175.1" cy="81.5" r="1.55" fill="#eee419"/>
<circle cx="102.7" cy="164.2" r="1.55" fill="#1e55cd"/>
<circle cx="206.3" cy="79.7" r="1.55" fill="#7dcd73"/>
<circle cx="168.8" cy="96.5" r="1.55" fill="#eee419"/>
<circle cx="188.5" cy="65.2" r="1.55" fill="#23b9e8"/>
<circle cx="152.4" cy="83.0" r="1.55" fill="#e41e1e"/>
<circle cx="209.9" cy="147.8" r="1.55" fill="#eee419"/>
<circle cx="194.0" cy="65.7" r="1.55" fill="#7dcd73"/>
<circle cx="203.5" cy="164.0" r="1.55" fill="#b4d737"/>
<circle cx="79.6" cy="85.3" r="1.55" fill="#7dcd73"/>
<circle cx="165.7" cy="177.5" r="1.55" fill="#1e55cd"/>
<circle cx="169.9" cy="160.1" r="1.55" fill="#f57d19"/>
<circle cx="184.6" cy="200.6" r="1.55" fill="#7dcd73"/>
<circle cx="185.4" cy="109.8" r="1.55" fill="#1e55cd"/>
<circle cx="160.9" cy="58.9" r="1.55" fill="#46c6b4"/>
<circle cx="194.0" cy="82.7" r="1.55" fill="#46c6b4"/>
<circle cx="188.2" cy="137.9" r="1.55" fill="#2332a0"/>
<circle cx="164.9" cy="191.2" r="1.55" fill="#b4d737"/>
<circle cx="180.1" cy="93.1" r="1.55" fill="#7dcd73"/>
<circle cx="234.3" cy="133.3" r="1.55" fill="#7dcd73"/>
<circle cx="164.8" cy="80.4" r="1.55" fill="#23b9e8"/>
<circle cx="214.8" cy="81.3" r="1.55" fill="#46c6b4"/>
<circle cx="182.5" cy="165.2" r="1.55" fill="#46c6b4"/>
<circle cx="219.3" cy="113.1" r="1.55" fill="#7dcd73"/>
<circle cx="162.4" cy="200.3" r="1.55" fill="#b4d737"/>
<circle cx="90.1" cy="111.5" r="1.55" fill="#eee419"/>
<circle cx="194.1" cy="101.0" r="1.55" fill="#2332a0"/>
<circle cx="235.6" cy="171.1" r="1.55" fill="#7dcd73"/>
<circle cx="177.1" cy="172.6" r="1.55" fill="#eee419"/>
<circle cx="206.0" cy="133.5" r="1.55" fill="#23b9e8"/>
<circle cx="177.4" cy="104.4" r="1.55" fill="#eee419"/>
<circle cx="199.2" cy="112.1" r="1.55" fill="#2332a0"/>
<circle cx="194.2" cy="192.8" r="1.55" fill="#46c6b4"/>
<circle cx="84.0" cy="81.7" r="1.55" fill="#1e55cd"/>
<circle cx="188.2" cy="99.0" r="1.55" fill="#2332a0"/>
<circle cx="199.3" cy="182.1" r="1.55" fill="#23b9e8"/>
<circle cx="161.8" cy="172.7" r="1.55" fill="#e41e1e"/>
<circle cx="236.2" cy="158.1" r="1.55" fill="#eee419"/>
<circle cx="203.1" cy="179.7" r="1.55" fill="#1e55cd"/>
<circle cx="233.5" cy="148.8" r="1.55" fill="#23b9e8"/>
<circle cx="201.1" cy="133.2" r="1.55" fill="#e41e1e"/>
<circle cx="111.4" cy="158.9" r="1.55" fill="#1e55cd"/>
<circle cx="180.5" cy="103.7" r="1.55" fill="#e41e1e"/>
<circle cx="219.6" cy="111.4" r="1.55" fill="#7dcd73"/>
<circle cx="179.0" cy="199.9" r="1.55" fill="#23b9e8"/>
<circle cx="209.8" cy="149.5" r="1.55" fill="#2332a0"/>
<circle cx="181.4" cy="132.2" r="1.55" fill="#2332a0"/>
<circle cx="167.7" cy="101.5" r="1.55" fill="#b4d737"/>
<circle cx="239.4" cy="126.8" r="1.55" fill="#b4d737"/>
<circle cx="237.0" cy="176.4" r="1.55" fill="#7dcd73"/>
<circle cx="219.4" cy="96.4" r="1.55" fill="#b4d737"/>
<circle cx="174.5" cy="93.5" r="1.55" fill="#eee419"/>
<circle cx="161.2" cy="65.5" r="1.55" fill="#1e55cd"/>
<circle cx="100.4" cy="163.1" r="1.55" fill="#1e55cd"/>
<circle cx="190.1" cy="156.6" r="1.55" fill="#7dcd73"/>
<circle cx="166.8" cy="133.7" r="1.55" fill="#1e55cd"/>
<circle cx="230.8" cy="145.3" r="1.55" fill="#1e55cd"/>
<circle cx="196.5" cy="155.5" r="1.55" fill="#46c6b4"/>
<circle cx="163.8" cy="190.6" r="1.55" fill="#b4d737"/>
<circle cx="174.9" cy="185.1" r="1.55" fill="#1e55cd"/>
<circle cx="156.2" cy="96.8" r="1.55" fill="#23b9e8"/>
<circle cx="73.9" cy="106.5" r="1.55" fill="#eee419"/>
<circle cx="183.0" cy="160.1" r="1.55" fill="#2332a0"/>
<circle cx="201.0" cy="142.7" r="1.55" fill="#1e55cd"/>
<circle cx="219.3" cy="99.6" r="1.55" fill="#7dcd73"/>
<circle cx="173.3" cy="86.8" r="1.55" fill="#eee419"/>
<circle cx="232.7" cy="140.4" r="1.55" fill="#2332a0"/>
<circle cx="224.5" cy="162.4" r="1.55" fill="#1e55cd"/>
<circle cx="230.6" cy="185.2" r="1.55" fill="#b4d737"/>
<circle cx="191.2" cy="103.4" r="1.55" fill="#b4d737"/>
<circle cx="138.9" cy="62.2" r="1.55" fill="#b4d737"/>
<circle cx="184.6" cy="114.4" r="1.55" fill="#7dcd73"/>
<circle cx="216.6" cy="188.1" r="1.55" fill="#7dcd73"/>
<circle cx="180.6" cy="158.6" r="1.55" fill="#eee419"/>
<circle cx="198.0" cy="108.4" r="1.55" fill="#1e55cd"/>
<circle cx="208.4" cy="80.3" r="1.55" fill="#23b9e8"/>
<circle cx="220.3" cy="176.7" r="1.55" fill="#23b9e8"/>
<circle cx="166.0" cy="56.8" r="1.55" fill="#1e55cd"/>
<circle cx="212.9" cy="155.5" r="1.55" fill="#23b9e8"/>
<circle cx="82.0" cy="114.2" r="1.55" fill="#1e55cd"/>
<circle cx="194.4" cy="106.6" r="1.55" fill="#46c6b4"/>
<circle cx="162.7" cy="194.5" r="1.55" fill="#e41e1e"/>
<circle cx="219.7" cy="187.4" r="1.55" fill="#46c6b4"/>
<circle cx="201.8" cy="91.2" r="1.55" fill="#b4d737"/>
<circle cx="211.4" cy="82.5" r="1.55" fill="#46c6b4"/>
<circle cx="212.6" cy="119.1" r="1.55" fill="#eee419"/>
<circle cx="177.8" cy="105.3" r="1.55" fill="#b4d737"/>
<circle cx="224.4" cy="161.5" r="1.55" fill="#2332a0"/>
<circle cx="225.3" cy="152.0" r="1.55" fill="#46c6b4"/>
<circle cx="168.2" cy="189.0" r="1.55" fill="#1e55cd"/>
<circle cx="212.6" cy="166.3" r="1.55" fill="#46c6b4"/>
<circle cx="159.8" cy="197.3" r="1.55" fill="#7dcd73"/>
<circle cx="94.0" cy="76.6" r="1.55" fill="#23b9e8"/>
<circle cx="188.0" cy="98.3" r="1.55" fill="#46c6b4"/>
<circle cx="208.9" cy="129.0" r="1.55" fill="#b4d737"/>
<circle cx="217.4" cy="121.0" r="1.55" fill="#1e55cd"/>
<circle cx="180.5" cy="193.1" r="1.55" fill="#f57d19"/>
<circle cx="158.5" cy="95.5" r="1.55" fill="#eee419"/>
<circle cx="209.6" cy="193.4" r="1.55" fill="#46c6b4"/>
<circle cx="225.4" cy="124.0" r="1.55" fill="#1e55cd"/>
<circle cx="231.2" cy="161.7" r="1.55" fill="#7dcd73"/>
<circle cx="75.5" cy="100.5" r="1.55" fill="#23b9e8"/>
<circle cx="173.4" cy="95.5" r="1.55" fill="#eee419"/>
<circle cx="175.0" cy="174.3" r="1.55" fill="#e41e1e"/>
<circle cx="97.4" cy="69.7" r="1.55" fill="#23b9e8"/>
<circle cx="162.9" cy="132.9" r="1.55" fill="#e41e1e"/>
<circle cx="181.9" cy="156.2" r="1.55" fill="#46c6b4"/>
<circle cx="189.8" cy="96.2" r="1.55" fill="#46c6b4"/>
<circle cx="138.2" cy="66.7" r="1.55" fill="#b4d737"/>
<circle cx="96.8" cy="112.9" r="1.55" fill="#23b9e8"/>
<circle cx="193.1" cy="135.2" r="1.55" fill="#1e55cd"/>
<circle cx="113.7" cy="73.4" r="1.55" fill="#23b9e8"/>
<circle cx="214.7" cy="86.7" r="1.55" fill="#7dcd73"/>
<circle cx="202.2" cy="161.0" r="1.55" fill="#1e55cd"/>
<circle cx="222.8" cy="96.2" r="1.55" fill="#23b9e8"/>
<circle cx="83.8" cy="81.2" r="1.55" fill="#7dcd73"/>
<circle cx="126.0" cy="171.3" r="1.55" fill="#e41e1e"/>
<circle cx="174.8" cy="154.6" r="1.55" fill="#e41e1e"/>
<circle cx="92.0" cy="114.5" r="1.55" fill="#eee419"/>
<circle cx="216.5" cy="180.6" r="1.55" fill="#b4d737"/>
<circle cx="185.4" cy="146.6" r="1.55" fill="#1e55cd"/>
<circle cx="117.1" cy="180.2" r="1.55" fill="#e41e1e"/>
<circle cx="143.8" cy="63.6" r="1.55" fill="#b4d737"/>
<circle cx="85.6" cy="88.8" r="1.55" fill="#2332a0"/>
<circle cx="204.8" cy="174.7" r="1.55" fill="#b4d737"/>
<circle cx="178.9" cy="63.4" r="1.55" fill="#23b9e8"/>
<circle cx="230.4" cy="143.8" r="1.55" fill="#7dcd73"/>
<circle cx="193.8" cy="162.6" r="1.55" fill="#eee419"/>
<circle cx="179.3" cy="104.3" r="1.55" fill="#1e55cd"/>
<circle cx="161.7" cy="189.5" r="1.55" fill="#7dcd73"/>
<circle cx="179.1" cy="104.5" r="1.55" fill="#eee419"/>
<circle cx="219.5" cy="165.1" r="1.55" fill="#eee419"/>
<circle cx="222.9" cy="169.7" r="1.55" fill="#7dcd73"/>
<circle cx="212.4" cy="189.6" r="1.55" fill="#23b9e8"/>
<circle cx="206.2" cy="117.4" r="1.55" fill="#e41e1e"/>
<circle cx="181.0" cy="101.6" r="1.55" fill="#b4d737"/>
<circle cx="209.6" cy="167.6" r="1.55" fill="#7dcd73"/>
<circle cx="204.2" cy="85.2" r="1.55" fill="#46c6b4"/>
<circle cx="177.7" cy="132.4" r="1.55" fill="#1e55cd"/>
<circle cx="93.5" cy="69.1" r="1.55" fill="#23b9e8"/>
<circle cx="164.5" cy="120.1" r="1.55" fill="#eee419"/>
<circle cx="163.2" cy="157.9" r="1.55" fill="#e41e1e"/>
<circle cx="98.8" cy="155.5" r="1.55" fill="#2332a0"/>
<circle cx="211.2" cy="110.7" r="1.55" fill="#7dcd73"/>
<circle cx="197.5" cy="110.5" r="1.55" fill="#b4d737"/>
<circle cx="169.6" cy="103.7" r="1.55" fill="#eee419"/>
<circle cx="220.7" cy="130.8" r="1.55" fill="#b4d737"/>
<circle cx="172.5" cy="114.0" r="1.55" fill="#23b9e8"/>
<circle cx="92.9" cy="68.2" r="1.55" fill="#23b9e8"/>
<circle cx="210.7" cy="132.2" r="1.55" fill="#b4d737"/>
<circle cx="200.8" cy="92.8" r="1.55" fill="#2332a0"/>
<circle cx="184.5" cy="77.8" r="1.55" fill="#1e55cd"/>
<circle cx="209.8" cy="117.1" r="1.55" fill="#e41e1e"/>
<circle cx="219.2" cy="165.3" r="1.55" fill="#1e55cd"/>
<circle cx="191.8" cy="79.5" r="1.55" fill="#2332a0"/>
<circle cx="211.9" cy="79.4" r="1.55" fill="#2332a0"/>
<circle cx="191.9" cy="116.0" r="1.55" fill="#1e55cd"/>
<circle cx="159.7" cy="84.5" r="1.55" fill="#7dcd73"/>
<circle cx="131.7" cy="173.1" r="1.55" fill="#eee419"/>
<circle cx="187.6" cy="98.6" r="1.55" fill="#7dcd73"/>
<circle cx="131.1" cy="185.7" r="1.55" fill="#e41e1e"/>
<circle cx="220.7" cy="148.2" r="1.55" fill="#23b9e8"/>
<circle cx="232.9" cy="130.1" r="1.55" fill="#e41e1e"/>
<circle cx="188.4" cy="150.5" r="1.55" fill="#23b9e8"/>
<circle cx="193.7" cy="195.0" r="1.55" fill="#23b9e8"/>
<circle cx="184.3" cy="188.5" r="1.55" fill="#46c6b4"/>
<circle cx="221.6" cy="113.5" r="1.55" fill="#2332a0"/>
<circle cx="216.5" cy="94.9" r="1.55" fill="#1e55cd"/>
<circle cx="190.8" cy="106.0" r="1.55" fill="#1e55cd"/>
<circle cx="107.1" cy="72.5" r="1.55" fill="#e41e1e"/>
<circle cx="224.8" cy="120.6" r="1.55" fill="#b4d737"/>
<circle cx="183.6" cy="66.4" r="1.55" fill="#46c6b4"/>
<circle cx="195.9" cy="124.2" r="1.55" fill="#7dcd73"/>
<circle cx="76.6" cy="112.6" r="1.55" fill="#2332a0"/>
<circle cx="167.3" cy="169.9" r="1.55" fill="#e41e1e"/>
<circle cx="167.2" cy="57.4" r="1.55" fill="#46c6b4"/>
<circle cx="186.9" cy="172.8" r="1.55" fill="#7dcd73"/>
<circle cx="177.2" cy="101.5" r="1.55" fill="#1e55cd"/>
<circle cx="75.1" cy="94.5" r="1.55" fill="#e41e1e"/>
<circle cx="96.0" cy="158.5" r="1.55" fill="#e41e1e"/>
<circle cx="211.6" cy="159.6" r="1.55" fill="#1e55cd"/>
<circle cx="198.0" cy="194.2" r="1.55" fill="#1e55cd"/>
<circle cx="184.8" cy="86.9" r="1.55" fill="#46c6b4"/>
<circle cx="202.9" cy="84.4" r="1.55" fill="#2332a0"/>
<circle cx="232.5" cy="157.7" r="1.55" fill="#7dcd73"/>
<circle cx="185.1" cy="150.9" r="1.55" fill="#23b9e8"/>
<circle cx="203.7" cy="82.9" r="1.55" fill="#46c6b4"/>
<circle cx="212.6" cy="178.9" r="1.55" fill="#b4d737"/>
<circle cx="214.6" cy="146.2" r="1.55" fill="#23b9e8"/>
<circle cx="157.6" cy="85.7" r="1.55" fill="#eee419"/>
<circle cx="195.0" cy="112.5" r="1.55" fill="#b4d737"/>
<circle cx="173.1" cy="77.9" r="1.55" fill="#eee419"/>
<circle cx="219.1" cy="185.9" r="1.55" fill="#eee419"/>
<circle cx="191.9" cy="177.7" r="1.55" fill="#7dcd73"/>
<circle cx="233.5" cy="155.0" r="1.55" fill="#23b9e8"/>
<circle cx="188.3" cy="83.4" r="1.55" fill="#46c6b4"/>
<circle cx="213.0" cy="96.5" r="1.55" fill="#46c6b4"/>
<circle cx="178.7" cy="196.2" r="1.55" fill="#2332a0"/>
<circle cx="174.9" cy="78.2" r="1.55" fill="#7dcd73"/>
<circle cx="174.8" cy="188.1" r="1.55" fill="#b4d737"/>
<circle cx="175.7" cy="186.1" r="1.55" fill="#e41e1e"/>
<circle cx="167.5" cy="99.4" r="1.55" fill="#7dcd73"/>
<circle cx="218.7" cy="134.9" r="1.55" fill="#eee419"/>
<circle cx="223.7" cy="158.0" r="1.55" fill="#23b9e8"/>
<circle cx="179.8" cy="113.9" r="1.55" fill="#e41e1e"/>
<circle cx="123.8" cy="190.5" r="1.55" fill="#e41e1e"/>
<circle cx="197.9" cy="183.1" r="1.55" fill="#23b9e8"/>
<circle cx="219.6" cy="175.7" r="1.55" fill="#eee419"/>
<circle cx="124.8" cy="191.6" r="1.55" fill="#e41e1e"/>
<circle cx="90.2" cy="101.5" r="1.55" fill="#e41e1e"/>
<circle cx="191.9" cy="113.9" r="1.55" fill="#46c6b4"/>
<circle cx="92.1" cy="108.3" r="1.55" fill="#23b9e8"/>
<circle cx="227.2" cy="184.7" r="1.55" fill="#23b9e8"/>
<circle cx="99.9" cy="174.2" r="1.55" fill="#eee419"/>
<circle cx="211.7" cy="81.3" r="1.55" fill="#7dcd73"/>
<circle cx="167.9" cy="153.5" r="1.55" fill="#e41e1e"/>
<circle cx="182.0" cy="67.6" r="1.55" fill="#46c6b4"/>
<circle cx="201.3" cy="154.4" r="1.55" fill="#1e55cd"/>
<circle cx="213.6" cy="84.8" r="1.55" fill="#b4d737"/>
<circle cx="163.0" cy="151.2" r="1.55" fill="#e41e1e"/>
<circle cx="153.9" cy="76.6" r="1.55" fill="#7dcd73"/>
<circle cx="235.0" cy="169.9" r="1.55" fill="#46c6b4"/>
<circle cx="179.2" cy="110.1" r="1.55" fill="#e41e1e"/>
<circle cx="186.4" cy="139.0" r="1.55" fill="#1e55cd"/>
<circle cx="167.2" cy="78.7" r="1.55" fill="#eee419"/>
<circle cx="173.2" cy="105.5" r="1.55" fill="#b4d737"/>
<circle cx="167.6" cy="133.2" r="1.55" fill="#eee419"/>
<circle cx="199.5" cy="148.8" r="1.55" fill="#eee419"/>
<circle cx="83.2" cy="100.2" r="1.55" fill="#eee419"/>
<circle cx="219.3" cy="163.9" r="1.55" fill="#23b9e8"/>
<circle cx="197.8" cy="159.3" r="1.55" fill="#b4d737"/>
<circle cx="107.0" cy="71.6" r="1.55" fill="#e41e1e"/>
<circle cx="210.3" cy="191.0" r="1.55" fill="#eee419"/>
<circle cx="159.5" cy="62.1" r="1.55" fill="#23b9e8"/>
<circle cx="174.3" cy="120.9" r="1.55" fill="#7dcd73"/>
<circle cx="162.8" cy="101.0" r="1.55" fill="#eee419"/>
<circle cx="205.6" cy="177.8" r="1.55" fill="#23b9e8"/>
<circle cx="233.2" cy="176.2" r="1.55" fill="#46c6b4"/>
<circle cx="89.0" cy="79.2" r="1.55" fill="#7dcd73"/>
<circle cx="225.3" cy="121.6" r="1.55" fill="#e41e1e"/>
<circle cx="221.8" cy="102.3" r="1.55" fill="#eee419"/>
<circle cx="118.1" cy="179.6" r="1.55" fill="#23b9e8"/>
<circle cx="201.1" cy="95.7" r="1.55" fill="#46c6b4"/>
<circle cx="189.1" cy="104.0" r="1.55" fill="#b4d737"/>
<circle cx="174.1" cy="131.9" r="1.55" fill="#eee419"/>
<circle cx="113.6" cy="166.5" r="1.55" fill="#1e55cd"/>
<circle cx="119.9" cy="183.6" r="1.55" fill="#eee419"/>
<circle cx="219.8" cy="127.8" r="1.55" fill="#e41e1e"/>
<circle cx="182.0" cy="119.8" r="1.55" fill="#b4d737"/>
<circle cx="214.6" cy="129.5" r="1.55" fill="#1e55cd"/>
<circle cx="171.2" cy="94.5" r="1.55" fill="#7dcd73"/>
<circle cx="236.2" cy="122.9" r="1.55" fill="#1e55cd"/>
<circle cx="123.7" cy="193.6" r="1.55" fill="#f57d19"/>
<circle cx="186.1" cy="155.2" r="1.55" fill="#1e55cd"/>
<circle cx="223.8" cy="101.2" r="1.55" fill="#7dcd73"/>
<circle cx="224.3" cy="184.6" r="1.55" fill="#7dcd73"/>
<circle cx="221.0" cy="119.0" r="1.55" fill="#1e55cd"/>
<circle cx="222.2" cy="159.5" r="1.55" fill="#7dcd73"/>
<circle cx="89.6" cy="117.7" r="1.55" fill="#7dcd73"/>
<circle cx="178.6" cy="112.8" r="1.55" fill="#e41e1e"/>
<circle cx="92.6" cy="117.6" r="1.55" fill="#23b9e8"/>
<circle cx="199.9" cy="157.1" r="1.55" fill="#1e55cd"/>
<circle cx="223.6" cy="129.1" r="1.55" fill="#1e55cd"/>
<circle cx="184.5" cy="171.5" r="1.55" fill="#1e55cd"/>
<circle cx="211.3" cy="81.1" r="1.55" fill="#2332a0"/>
<circle cx="140.9" cy="65.4" r="1.55" fill="#b4d737"/>
<circle cx="155.1" cy="65.2" r="1.55" fill="#b4d737"/>
<circle cx="150.6" cy="62.9" r="1.55" fill="#7dcd73"/>
<circle cx="159.6" cy="187.9" r="1.55" fill="#eee419"/>
<circle cx="169.9" cy="97.4" r="1.55" fill="#7dcd73"/>
<circle cx="176.3" cy="97.0" r="1.55" fill="#eee419"/>
<circle cx="169.9" cy="201.2" r="1.55" fill="#f57d19"/>
<circle cx="195.0" cy="143.1" r="1.55" fill="#23b9e8"/>
<circle cx="175.4" cy="96.9" r="1.55" fill="#eee419"/>
<circle cx="165.3" cy="109.3" r="1.55" fill="#e41e1e"/>
<circle cx="173.7" cy="96.1" r="1.55" fill="#1e55cd"/>
<circle cx="192.0" cy="66.5" r="1.55" fill="#46c6b4"/>
<circle cx="198.6" cy="102.7" r="1.55" fill="#b4d737"/>
<circle cx="225.8" cy="128.1" r="1.55" fill="#b4d737"/>
<circle cx="206.8" cy="108.1" r="1.55" fill="#7dcd73"/>
<circle cx="157.5" cy="118.6" r="1.55" fill="#e41e1e"/>
<circle cx="205.3" cy="100.1" r="1.55" fill="#46c6b4"/>
<circle cx="211.5" cy="142.4" r="1.55" fill="#2332a0"/>
<circle cx="185.4" cy="96.3" r="1.55" fill="#23b9e8"/>
<circle cx="197.1" cy="176.1" r="1.55" fill="#7dcd73"/>
<circle cx="176.2" cy="56.5" r="1.55" fill="#23b9e8"/>
<circle cx="187.6" cy="136.8" r="1.55" fill="#b4d737"/>
<circle cx="89.3" cy="129.5" r="1.55" fill="#eee419"/>
<circle cx="195.8" cy="133.1" r="1.55" fill="#b4d737"/>
<circle cx="164.1" cy="62.6" r="1.55" fill="#7dcd73"/>
<circle cx="219.1" cy="177.3" r="1.55" fill="#b4d737"/>
<circle cx="210.6" cy="159.7" r="1.55" fill="#2332a0"/>
<circle cx="228.1" cy="183.0" r="1.55" fill="#1e55cd"/>
<circle cx="217.5" cy="162.7" r="1.55" fill="#1e55cd"/>
<circle cx="199.5" cy="115.6" r="1.55" fill="#46c6b4"/>
<circle cx="210.8" cy="192.1" r="1.55" fill="#eee419"/>
<circle cx="128.3" cy="184.2" r="1.55" fill="#23b9e8"/>
<circle cx="179.3" cy="135.0" r="1.55" fill="#e41e1e"/>
<circle cx="236.9" cy="177.7" r="1.55" fill="#23b9e8"/>
<circle cx="153.7" cy="59.7" r="1.55" fill="#b4d737"/>
<circle cx="231.9" cy="181.8" r="1.55" fill="#7dcd73"/>
<circle cx="199.0" cy="184.7" r="1.55" fill="#2332a0"/>
<circle cx="196.0" cy="104.9" r="1.55" fill="#b4d737"/>
<circle cx="87.2" cy="76.1" r="1.55" fill="#eee419"/>
<circle cx="208.9" cy="96.0" r="1.55" fill="#b4d737"/>
<circle cx="168.6" cy="167.7" r="1.55" fill="#e41e1e"/>
<circle cx="164.4" cy="193.7" r="1.55" fill="#e41e1e"/>
<circle cx="101.6" cy="178.4" r="1.55" fill="#e41e1e"/>
<circle cx="200.4" cy="190.1" r="1.55" fill="#2332a0"/>
<circle cx="199.6" cy="158.9" r="1.55" fill="#2332a0"/>
<circle cx="160.0" cy="193.7" r="1.55" fill="#1e55cd"/>
<circle cx="169.3" cy="208.7" r="1.55" fill="#1e55cd"/>
<circle cx="173.8" cy="112.7" r="1.55" fill="#eee419"/>
<circle cx="208.5" cy="94.2" r="1.55" fill="#1e55cd"/>
<circle cx="172.5" cy="106.1" r="1.55" fill="#b4d737"/>
<circle cx="168.6" cy="190.4" r="1.55" fill="#b4d737"/>
<circle cx="238.0" cy="171.4" r="1.55" fill="#7dcd73"/>
<circle cx="226.2" cy="140.9" r="1.55" fill="#23b9e8"/>
<circle cx="73.2" cy="110.8" r="1.55" fill="#2332a0"/>
<circle cx="198.1" cy="105.1" r="1.55" fill="#46c6b4"/>
<circle cx="181.5" cy="134.2" r="1.55" fill="#1e55cd"/>
<circle cx="216.3" cy="113.1" r="1.55" fill="#7dcd73"/>
<circle cx="203.3" cy="101.2" r="1.55" fill="#1e55cd"/>
<circle cx="176.1" cy="97.9" r="1.55" fill="#eee419"/>
<circle cx="203.1" cy="178.5" r="1.55" fill="#46c6b4"/>
<circle cx="223.1" cy="124.1" r="1.55" fill="#23b9e8"/>
<circle cx="122.8" cy="183.3" r="1.55" fill="#eee419"/>
<circle cx="188.0" cy="196.1" r="1.55" fill="#46c6b4"/>
<circle cx="176.5" cy="184.3" r="1.55" fill="#2332a0"/>
<circle cx="140.0" cy="63.3" r="1.55" fill="#23b9e8"/>
<circle cx="198.6" cy="79.6" r="1.55" fill="#7dcd73"/>
<circle cx="165.3" cy="62.3" r="1.55" fill="#23b9e8"/>
<circle cx="195.4" cy="108.2" r="1.55" fill="#b4d737"/>
<circle cx="188.7" cy="121.5" r="1.55" fill="#1e55cd"/>
<circle cx="178.4" cy="106.9" r="1.55" fill="#7dcd73"/>
<circle cx="162.3" cy="67.0" r="1.55" fill="#46c6b4"/>
<circle cx="205.4" cy="81.0" r="1.55" fill="#2332a0"/>
<circle cx="193.2" cy="189.8" r="1.55" fill="#1e55cd"/>
<circle cx="111.3" cy="176.7" r="1.55" fill="#e41e1e"/>
<circle cx="107.6" cy="178.0" r="1.55" fill="#eee419"/>
<circle cx="222.1" cy="115.3" r="1.55" fill="#1e55cd"/>
<circle cx="173.0" cy="105.3" r="1.55" fill="#f57d19"/>
<circle cx="194.4" cy="150.6" r="1.55" fill="#46c6b4"/>
<circle cx="166.0" cy="207.5" r="1.55" fill="#b4d737"/>
<circle cx="183.1" cy="113.5" r="1.55" fill="#7dcd73"/>
<circle cx="231.2" cy="131.3" r="1.55" fill="#7dcd73"/>
<circle cx="176.3" cy="98.1" r="1.55" fill="#1e55cd"/>
<circle cx="223.9" cy="181.9" r="1.55" fill="#eee419"/>
<circle cx="204.4" cy="113.7" r="1.55" fill="#2332a0"/>
<circle cx="216.9" cy="96.4" r="1.55" fill="#2332a0"/>
<circle cx="214.8" cy="92.3" r="1.55" fill="#eee419"/>
<circle cx="211.6" cy="79.1" r="1.55" fill="#1e55cd"/>
<circle cx="212.0" cy="95.1" r="1.55" fill="#23b9e8"/>
<circle cx="214.6" cy="102.5" r="1.55" fill="#b4d737"/>
<circle cx="89.3" cy="123.3" r="1.55" fill="#7dcd73"/>
<circle cx="175.7" cy="103.6" r="1.55" fill="#23b9e8"/>
<circle cx="170.2" cy="70.1" r="1.55" fill="#1e55cd"/>
<circle cx="90.8" cy="107.6" r="1.55" fill="#e41e1e"/>
<circle cx="166.5" cy="136.3" r="1.55" fill="#b4d737"/>
<circle cx="145.1" cy="65.6" r="1.55" fill="#b4d737"/>
<circle cx="163.7" cy="79.4" r="1.55" fill="#eee419"/>
<circle cx="164.7" cy="162.5" r="1.55" fill="#eee419"/>
<circle cx="215.7" cy="169.1" r="1.55" fill="#2332a0"/>
<circle cx="187.5" cy="188.9" r="1.55" fill="#f57d19"/>
<circle cx="218.9" cy="97.7" r="1.55" fill="#b4d737"/>
<circle cx="236.4" cy="161.7" r="1.55" fill="#2332a0"/>
<circle cx="159.0" cy="88.7" r="1.55" fill="#7dcd73"/>
<circle cx="201.6" cy="102.9" r="1.55" fill="#b4d737"/>
<circle cx="189.4" cy="71.2" r="1.55" fill="#23b9e8"/>
<circle cx="174.9" cy="56.0" r="1.55" fill="#1e55cd"/>
<circle cx="206.8" cy="97.0" r="1.55" fill="#1e55cd"/>
<circle cx="226.2" cy="126.3" r="1.55" fill="#b4d737"/>
<circle cx="228.8" cy="170.9" r="1.55" fill="#1e55cd"/>
<circle cx="131.3" cy="187.9" r="1.55" fill="#f57d19"/>
<circle cx="77.6" cy="108.2" r="1.55" fill="#eee419"/>
<circle cx="83.6" cy="94.6" r="1.55" fill="#1e55cd"/>
<circle cx="236.4" cy="168.5" r="1.55" fill="#2332a0"/>
<circle cx="168.0" cy="138.8" r="1.55" fill="#eee419"/>
<circle cx="165.5" cy="91.9" r="1.55" fill="#1e55cd"/>
<circle cx="95.3" cy="65.9" r="1.55" fill="#46c6b4"/>
<circle cx="201.7" cy="152.3" r="1.55" fill="#23b9e8"/>
<circle cx="203.9" cy="164.0" r="1.55" fill="#2332a0"/>
<circle cx="229.1" cy="185.6" r="1.55" fill="#23b9e8"/>
<circle cx="165.7" cy="181.1" r="1.55" fill="#b4d737"/>
<circle cx="211.8" cy="190.4" r="1.55" fill="#7dcd73"/>
<circle cx="222.0" cy="192.3" r="1.55" fill="#23b9e8"/>
<circle cx="187.8" cy="165.2" r="1.55" fill="#7dcd73"/>
<circle cx="76.8" cy="84.2" r="1.55" fill="#eee419"/>
<circle cx="179.2" cy="78.6" r="1.55" fill="#b4d737"/>
<circle cx="165.4" cy="94.1" r="1.55" fill="#eee419"/>
<circle cx="78.8" cy="104.6" r="1.55" fill="#e41e1e"/>
<circle cx="186.9" cy="175.4" r="1.55" fill="#46c6b4"/>
<circle cx="170.6" cy="60.5" r="1.55" fill="#46c6b4"/>
<circle cx="199.1" cy="188.3" r="1.55" fill="#23b9e8"/>
<circle cx="163.9" cy="180.0" r="1.55" fill="#b4d737"/>
<circle cx="149.2" cy="63.6" r="1.55" fill="#b4d737"/>
<circle cx="208.8" cy="165.8" r="1.55" fill="#23b9e8"/>
<circle cx="77.2" cy="117.7" r="1.55" fill="#e41e1e"/>
<circle cx="223.1" cy="165.4" r="1.55" fill="#23b9e8"/>
<circle cx="184.8" cy="81.4" r="1.55" fill="#2332a0"/>
<circle cx="222.2" cy="110.2" r="1.55" fill="#b4d737"/>
<circle cx="125.3" cy="191.3" r="1.55" fill="#eee419"/>
<circle cx="220.9" cy="189.6" r="1.55" fill="#23b9e8"/>
<circle cx="167.9" cy="97.7" r="1.55" fill="#f57d19"/>
<circle cx="208.1" cy="94.9" r="1.55" fill="#23b9e8"/>
<circle cx="92.3" cy="113.6" r="1.55" fill="#23b9e8"/>
<circle cx="171.0" cy="58.3" r="1.55" fill="#23b9e8"/>
<circle cx="194.9" cy="127.6" r="1.55" fill="#7dcd73"/>
<circle cx="177.0" cy="104.2" r="1.55" fill="#1e55cd"/>
<circle cx="75.0" cy="91.8" r="1.55" fill="#e41e1e"/>
<circle cx="200.4" cy="182.0" r="1.55" fill="#1e55cd"/>
<circle cx="209.7" cy="137.7" r="1.55" fill="#e41e1e"/>
<circle cx="92.6" cy="114.8" r="1.55" fill="#1e55cd"/>
<circle cx="199.7" cy="120.6" r="1.55" fill="#1e55cd"/>
<circle cx="164.5" cy="183.6" r="1.55" fill="#e41e1e"/>
<circle cx="81.9" cy="114.9" r="1.55" fill="#23b9e8"/>
<circle cx="219.6" cy="168.5" r="1.55" fill="#23b9e8"/>
<circle cx="83.9" cy="77.4" r="1.55" fill="#b4d737"/>
<circle cx="204.8" cy="170.1" r="1.55" fill="#1e55cd"/>
<circle cx="77.0" cy="120.6" r="1.55" fill="#e41e1e"/>
<circle cx="177.3" cy="110.7" r="1.55" fill="#eee419"/>
<circle cx="210.2" cy="186.1" r="1.55" fill="#1e55cd"/>
<circle cx="81.6" cy="92.3" r="1.55" fill="#eee419"/>
<circle cx="237.3" cy="131.5" r="1.55" fill="#b4d737"/>
<circle cx="205.0" cy="174.4" r="1.55" fill="#46c6b4"/>
<circle cx="106.8" cy="182.3" r="1.55" fill="#eee419"/>
<circle cx="204.6" cy="187.3" r="1.55" fill="#7dcd73"/>
<circle cx="123.3" cy="191.7" r="1.55" fill="#f57d19"/>
<circle cx="207.4" cy="105.9" r="1.55" fill="#1e55cd"/>
<circle cx="219.7" cy="124.1" r="1.55" fill="#2332a0"/>
<circle cx="223.2" cy="117.2" r="1.55" fill="#e41e1e"/>
<circle cx="205.0" cy="160.3" r="1.55" fill="#2332a0"/>
<circle cx="229.1" cy="136.1" r="1.55" fill="#7dcd73"/>
<circle cx="90.1" cy="69.4" r="1.55" fill="#7dcd73"/>
<circle cx="160.8" cy="61.7" r="1.55" fill="#1e55cd"/>
<circle cx="168.6" cy="139.4" r="1.55" fill="#e41e1e"/>
<circle cx="200.7" cy="192.5" r="1.55" fill="#46c6b4"/>
<circle cx="89.5" cy="115.0" r="1.55" fill="#23b9e8"/>
<circle cx="150.6" cy="67.0" r="1.55" fill="#7dcd73"/>
<circle cx="210.0" cy="183.8" r="1.55" fill="#1e55cd"/>
<circle cx="216.8" cy="139.6" r="1.55" fill="#46c6b4"/>
<circle cx="215.9" cy="159.5" r="1.55" fill="#e41e1e"/>
<circle cx="78.9" cy="98.3" r="1.55" fill="#eee419"/>
<circle cx="210.4" cy="82.8" r="1.55" fill="#1e55cd"/>
<circle cx="179.2" cy="94.3" r="1.55" fill="#b4d737"/>
<circle cx="198.7" cy="181.4" r="1.55" fill="#7dcd73"/>
<circle cx="200.2" cy="137.7" r="1.55" fill="#7dcd73"/>
<circle cx="163.4" cy="65.1" r="1.55" fill="#1e55cd"/>
<circle cx="216.6" cy="184.0" r="1.55" fill="#46c6b4"/>
<circle cx="211.3" cy="157.3" r="1.55" fill="#2332a0"/>
<circle cx="187.7" cy="157.4" r="1.55" fill="#7dcd73"/>
<circle cx="200.8" cy="109.0" r="1.55" fill="#7dcd73"/>
<circle cx="216.7" cy="147.3" r="1.55" fill="#7dcd73"/>
<circle cx="102.6" cy="66.8" r="1.55" fill="#23b9e8"/>
<circle cx="172.6" cy="108.3" r="1.55" fill="#b4d737"/>
<circle cx="102.9" cy="74.5" r="1.55" fill="#eee419"/>
<circle cx="182.1" cy="190.7" r="1.55" fill="#7dcd73"/>
<circle cx="161.4" cy="185.7" r="1.55" fill="#1e55cd"/>
<circle cx="205.3" cy="118.8" r="1.55" fill="#e41e1e"/>
<circle cx="152.6" cy="66.6" r="1.55" fill="#23b9e8"/>
<circle cx="211.3" cy="80.4" r="1.55" fill="#1e55cd"/>
<circle cx="90.8" cy="69.6" r="1.55" fill="#7dcd73"/>
<circle cx="179.7" cy="94.2" r="1.55" fill="#7dcd73"/>
<circle cx="181.9" cy="113.0" r="1.55" fill="#e41e1e"/>
<circle cx="99.3" cy="65.5" r="1.55" fill="#2332a0"/>
<circle cx="164.3" cy="179.2" r="1.55" fill="#7dcd73"/>
<circle cx="163.7" cy="125.5" r="1.55" fill="#eee419"/>
<circle cx="203.6" cy="115.5" r="1.55" fill="#b4d737"/>
<circle cx="186.2" cy="114.6" r="1.55" fill="#23b9e8"/>
<circle cx="199.9" cy="173.3" r="1.55" fill="#23b9e8"/>
<circle cx="170.9" cy="57.7" r="1.55" fill="#23b9e8"/>
<circle cx="208.0" cy="131.7" r="1.55" fill="#1e55cd"/>
<circle cx="230.6" cy="128.7" r="1.55" fill="#23b9e8"/>
<circle cx="209.7" cy="85.5" r="1.55" fill="#46c6b4"/>
<circle cx="73.1" cy="100.2" r="1.55" fill="#2332a0"/>
<circle cx="188.6" cy="150.6" r="1.55" fill="#46c6b4"/>
<circle cx="236.4" cy="142.2" r="1.55" fill="#eee419"/>
<circle cx="173.6" cy="188.2" r="1.55" fill="#eee419"/>
<circle cx="104.3" cy="178.3" r="1.55" fill="#1e55cd"/>
<circle cx="142.1" cy="62.7" r="1.55" fill="#b4d737"/>
<circle cx="101.9" cy="174.5" r="1.55" fill="#1e55cd"/>
<circle cx="156.1" cy="100.6" r="1.55" fill="#eee419"/>
<circle cx="213.6" cy="156.8" r="1.55" fill="#7dcd73"/>
<circle cx="188.8" cy="140.0" r="1.55" fill="#1e55cd"/>
<circle cx="160.1" cy="177.7" r="1.55" fill="#f57d19"/>
<circle cx="93.4" cy="108.9" r="1.55" fill="#23b9e8"/>
<circle cx="91.4" cy="109.4" r="1.55" fill="#1e55cd"/>
<circle cx="164.2" cy="170.0" r="1.55" fill="#e41e1e"/>
<circle cx="223.1" cy="150.2" r="1.55" fill="#23b9e8"/>
<circle cx="212.6" cy="179.6" r="1.55" fill="#23b9e8"/>
<circle cx="218.7" cy="145.2" r="1.55" fill="#23b9e8"/>
<circle cx="224.6" cy="141.6" r="1.55" fill="#b4d737"/>
<circle cx="219.2" cy="150.4" r="1.55" fill="#23b9e8"/>
<circle cx="144.3" cy="69.0" r="1.55" fill="#7dcd73"/>
<circle cx="92.1" cy="66.2" r="1.55" fill="#7dcd73"/>
<circle cx="186.6" cy="137.6" r="1.55" fill="#e41e1e"/>
<circle cx="224.3" cy="168.4" r="1.55" fill="#7dcd73"/>
<circle cx="209.4" cy="153.3" r="1.55" fill="#2332a0"/>
<circle cx="103.8" cy="157.5" r="1.55" fill="#1e55cd"/>
<circle cx="213.1" cy="92.7" r="1.55" fill="#7dcd73"/>
<circle cx="209.4" cy="124.7" r="1.55" fill="#1e55cd"/>
<circle cx="174.3" cy="124.1" r="1.55" fill="#e41e1e"/>
<circle cx="235.7" cy="127.6" r="1.55" fill="#e41e1e"/>
<circle cx="220.8" cy="142.2" r="1.55" fill="#b4d737"/>
<circle cx="192.4" cy="197.4" r="1.55" fill="#23b9e8"/>
<circle cx="108.9" cy="165.8" r="1.55" fill="#e41e1e"/>
<circle cx="175.5" cy="181.3" r="1.55" fill="#1e55cd"/>
<circle cx="170.7" cy="129.2" r="1.55" fill="#7dcd73"/>
<circle cx="79.9" cy="104.7" r="1.55" fill="#23b9e8"/>
<circle cx="175.6" cy="61.1" r="1.55" fill="#23b9e8"/>
<circle cx="153.6" cy="61.5" r="1.55" fill="#b4d737"/>
<circle cx="173.1" cy="199.2" r="1.55" fill="#1e55cd"/>
<circle cx="106.6" cy="176.6" r="1.55" fill="#e41e1e"/>
<circle cx="234.7" cy="150.9" r="1.55" fill="#23b9e8"/>
<circle cx="192.0" cy="74.9" r="1.55" fill="#23b9e8"/>
<circle cx="193.8" cy="176.6" r="1.55" fill="#7dcd73"/>
<circle cx="216.2" cy="188.2" r="1.55" fill="#1e55cd"/>
<circle cx="213.3" cy="110.2" r="1.55" fill="#23b9e8"/>
<circle cx="158.0" cy="118.8" r="1.55" fill="#b4d737"/>
<circle cx="213.6" cy="143.9" r="1.55" fill="#1e55cd"/>
<circle cx="170.8" cy="175.6" r="1.55" fill="#f57d19"/>
<circle cx="87.4" cy="121.7" r="1.55" fill="#eee419"/>
<circle cx="170.4" cy="67.0" r="1.55" fill="#23b9e8"/>
<circle cx="158.4" cy="183.5" r="1.55" fill="#b4d737"/>
<circle cx="159.1" cy="185.6" r="1.55" fill="#1e55cd"/>
<circle cx="204.2" cy="71.4" r="1.55" fill="#b4d737"/>
<circle cx="199.1" cy="80.6" r="1.55" fill="#b4d737"/>
<circle cx="207.1" cy="193.4" r="1.55" fill="#e41e1e"/>
<circle cx="208.4" cy="82.7" r="1.55" fill="#46c6b4"/>
<circle cx="212.3" cy="102.8" r="1.55" fill="#23b9e8"/>
<circle cx="224.0" cy="136.2" r="1.55" fill="#eee419"/>
<circle cx="192.0" cy="111.3" r="1.55" fill="#2332a0"/>
<circle cx="165.8" cy="105.6" r="1.55" fill="#b4d737"/>
<circle cx="184.9" cy="153.3" r="1.55" fill="#23b9e8"/>
<circle cx="189.4" cy="114.6" r="1.55" fill="#23b9e8"/>
<circle cx="189.4" cy="140.0" r="1.55" fill="#46c6b4"/>
<circle cx="161.0" cy="124.4" r="1.55" fill="#b4d737"/>
<circle cx="95.4" cy="118.5" r="1.55" fill="#1e55cd"/>
<circle cx="221.9" cy="181.5" r="1.55" fill="#1e55cd"/>
<circle cx="189.6" cy="128.4" r="1.55" fill="#b4d737"/>
<circle cx="219.8" cy="174.8" r="1.55" fill="#23b9e8"/>
<circle cx="157.4" cy="200.9" r="1.55" fill="#f57d19"/>
<circle cx="237.7" cy="150.5" r="1.55" fill="#7dcd73"/>
<circle cx="212.7" cy="169.5" r="1.55" fill="#7dcd73"/>
<circle cx="98.3" cy="168.9" r="1.55" fill="#eee419"/>
<circle cx="177.0" cy="100.6" r="1.55" fill="#eee419"/>
<circle cx="185.3" cy="187.5" r="1.55" fill="#2332a0"/>
<circle cx="191.5" cy="67.1" r="1.55" fill="#46c6b4"/>
<circle cx="157.1" cy="184.8" r="1.55" fill="#b4d737"/>
<circle cx="208.5" cy="113.1" r="1.55" fill="#eee419"/>
<circle cx="164.6" cy="191.6" r="1.55" fill="#1e55cd"/>
<circle cx="222.0" cy="100.0" r="1.55" fill="#b4d737"/>
<circle cx="72.4" cy="97.8" r="1.55" fill="#23b9e8"/>
<circle cx="183.1" cy="85.8" r="1.55" fill="#46c6b4"/>
<circle cx="233.4" cy="153.7" r="1.55" fill="#23b9e8"/>
<circle cx="208.7" cy="155.7" r="1.55" fill="#23b9e8"/>
<circle cx="118.8" cy="177.4" r="1.55" fill="#e41e1e"/>
<circle cx="174.6" cy="153.4" r="1.55" fill="#e41e1e"/>
<circle cx="88.1" cy="106.7" r="1.55" fill="#e41e1e"/>
<circle cx="162.5" cy="124.6" r="1.55" fill="#eee419"/>
<circle cx="214.1" cy="192.6" r="1.55" fill="#eee419"/>
<circle cx="216.5" cy="160.1" r="1.55" fill="#23b9e8"/>
<circle cx="234.2" cy="164.5" r="1.55" fill="#7dcd73"/>
<circle cx="166.2" cy="207.0" r="1.55" fill="#eee419"/>
<circle cx="81.5" cy="92.9" r="1.55" fill="#eee419"/>
<circle cx="214.9" cy="90.0" r="1.55" fill="#23b9e8"/>
<circle cx="146.1" cy="67.6" r="1.55" fill="#b4d737"/>
<circle cx="157.7" cy="114.2" r="1.55" fill="#e41e1e"/>
<circle cx="177.5" cy="101.1" r="1.55" fill="#b4d737"/>
<circle cx="212.8" cy="140.2" r="1.55" fill="#23b9e8"/>
<circle cx="163.8" cy="176.6" r="1.55" fill="#7dcd73"/>
<circle cx="180.0" cy="101.4" r="1.55" fill="#7dcd73"/>
<circle cx="206.6" cy="137.0" r="1.55" fill="#e41e1e"/>
<circle cx="194.7" cy="123.3" r="1.55" fill="#46c6b4"/>
<circle cx="219.0" cy="182.0" r="1.55" fill="#46c6b4"/>
<circle cx="204.5" cy="148.9" r="1.55" fill="#46c6b4"/>
<circle cx="171.2" cy="77.3" r="1.55" fill="#23b9e8"/>
<circle cx="186.3" cy="133.2" r="1.55" fill="#1e55cd"/>
<circle cx="166.9" cy="92.2" r="1.55" fill="#e41e1e"/>
<circle cx="111.4" cy="175.2" r="1.55" fill="#eee419"/>
<circle cx="182.3" cy="96.3" r="1.55" fill="#23b9e8"/>
<circle cx="182.6" cy="112.9" r="1.55" fill="#7dcd73"/>
<circle cx="228.0" cy="189.7" r="1.55" fill="#23b9e8"/>
<circle cx="179.2" cy="186.8" r="1.55" fill="#1e55cd"/>
<circle cx="125.4" cy="87.2" r="1.55" fill="#e41e1e"/>
<circle cx="216.4" cy="184.6" r="1.55" fill="#2332a0"/>
<circle cx="217.0" cy="102.7" r="1.55" fill="#7dcd73"/>
<circle cx="90.7" cy="111.7" r="1.55" fill="#e41e1e"/>
<circle cx="185.0" cy="66.2" r="1.55" fill="#23b9e8"/>
<circle cx="183.4" cy="112.9" r="1.55" fill="#7dcd73"/>
<circle cx="112.5" cy="183.4" r="1.55" fill="#e41e1e"/>
<circle cx="169.9" cy="204.8" r="1.55" fill="#b4d737"/>
<circle cx="216.9" cy="162.8" r="1.55" fill="#46c6b4"/>
<circle cx="86.8" cy="75.2" r="1.55" fill="#eee419"/>
<circle cx="176.5" cy="150.6" r="1.55" fill="#e41e1e"/>
<circle cx="214.2" cy="118.0" r="1.55" fill="#b4d737"/>
<circle cx="81.8" cy="118.1" r="1.55" fill="#23b9e8"/>
<circle cx="196.4" cy="107.2" r="1.55" fill="#1e55cd"/>
<circle cx="73.6" cy="123.2" r="1.55" fill="#e41e1e"/>
<circle cx="96.1" cy="103.7" r="1.55" fill="#2332a0"/>
<circle cx="176.1" cy="105.6" r="1.55" fill="#eee419"/>
<circle cx="224.0" cy="136.3" r="1.55" fill="#46c6b4"/>
<circle cx="184.7" cy="191.1" r="1.55" fill="#2332a0"/>
<circle cx="171.6" cy="192.9" r="1.55" fill="#b4d737"/>
<circle cx="235.3" cy="135.3" r="1.55" fill="#e41e1e"/>
<circle cx="182.2" cy="101.8" r="1.55" fill="#eee419"/>
<circle cx="168.7" cy="95.7" r="1.55" fill="#7dcd73"/>
<circle cx="171.0" cy="61.0" r="1.55" fill="#46c6b4"/>
<circle cx="215.1" cy="194.1" r="1.55" fill="#1e55cd"/>
<circle cx="229.6" cy="135.3" r="1.55" fill="#7dcd73"/>
<circle cx="157.7" cy="196.0" r="1.55" fill="#eee419"/>
<circle cx="219.2" cy="173.7" r="1.55" fill="#7dcd73"/>
<circle cx="190.9" cy="107.0" r="1.55" fill="#23b9e8"/>
<circle cx="115.5" cy="67.6" r="1.55" fill="#e41e1e"/>
<circle cx="160.3" cy="86.3" r="1.55" fill="#b4d737"/>
<circle cx="221.6" cy="117.2" r="1.55" fill="#23b9e8"/>
<circle cx="227.2" cy="184.3" r="1.55" fill="#46c6b4"/>
<circle cx="96.5" cy="120.9" r="1.55" fill="#eee419"/>
<circle cx="162.8" cy="106.8" r="1.55" fill="#e41e1e"/>
<circle cx="196.9" cy="155.5" r="1.55" fill="#b4d737"/>
<circle cx="209.4" cy="92.5" r="1.55" fill="#2332a0"/>
<circle cx="190.1" cy="120.5" r="1.55" fill="#1e55cd"/>
<circle cx="204.0" cy="153.6" r="1.55" fill="#1e55cd"/>
<circle cx="179.9" cy="156.3" r="1.55" fill="#eee419"/>
<circle cx="169.9" cy="187.6" r="1.55" fill="#b4d737"/>
<circle cx="212.2" cy="187.6" r="1.55" fill="#2332a0"/>
<circle cx="120.8" cy="69.2" r="1.55" fill="#1e55cd"/>
<path d="M47.2,31.7 L49.4,35.9 L47.5,37.3" fill="none" stroke="#222" stroke-width="0.85" stroke-linejoin="round"/>
<path d="M47.2,37.2 L66.8,51.3 L74.4,41.4 L107.0,66.6" fill="none" stroke="#222" stroke-width="0.85" stroke-linejoin="round"/>
<path d="M104.8,21.8 L117.0,48.5 L122.4,62.6" fill="none" stroke="#222" stroke-width="0.85" stroke-linejoin="round"/>
<path d="M107.0,66.6 L114.2,65.3 L135.8,61.8 L157.3,58.5 L172.5,57.0 L179.8,60.4 L215.5,62.5 L216.2,68.4 L227.0,69.1" fill="none" stroke="#222" stroke-width="0.85" stroke-linejoin="round"/>
<path d="M151.7,21.8 L151.9,23.6 L160.0,24.0 L160.7,28.7 L152.6,30.3 L153.0,35.4 L159.7,42.2 L164.0,39.5 L172.8,40.1 L172.5,54.5 L172.8,58.0" fill="none" stroke="#222" stroke-width="0.85" stroke-linejoin="round"/>
<path d="M216.2,69.5 L212.5,71.5 L210.5,74.0 L210.0,78.0 L208.0,79.0 L201.0,80.0 L199.0,81.5 L188.0,87.5 L186.4,93.0 L186.4,138.4 L186.0,145.0 L180.1,162.0 L173.4,209.0" fill="none" stroke="#222" stroke-width="0.85" stroke-linejoin="round"/>
<path d="M201.0,80.0 L201.0,91.0 L208.0,91.0 L208.0,79.0" fill="none" stroke="#222" stroke-width="0.85" stroke-linejoin="round"/>
<path d="M186.4,138.4 L256.6,138.4" fill="none" stroke="#222" stroke-width="0.85" stroke-linejoin="round"/>
<path d="M47.2,60.5 L48.8,61.4 L50.6,65.0 L53.4,66.4 L56.1,67.3 L58.8,69.5 L60.6,68.2 L63.4,69.5 L67.9,71.8 L70.6,73.6 L71.1,75.9 L73.4,76.4 L76.1,78.6 L78.8,81.4 L81.5,84.1 L83.4,86.8 L85.2,89.5" fill="none" stroke="#222" stroke-width="0.85" stroke-linejoin="round"/>
<path d="M47.2,65.9 L51.5,66.8 L56.1,68.6 L59.7,70.9 L61.5,73.2 L61.5,76.8 L63.4,79.1 L67.9,79.5 L71.5,80.5 L74.3,81.8 L77.0,83.2 L78.8,85.0 L81.5,87.3 L85.2,89.5 L90.5,87.3 L94.1,87.3 L98.6,86.4 L100.0,82.7 L101.4,80.9 L104.1,80.9 L105.5,82.7 L107.7,84.1 L113.2,84.1 L115.0,80.9 L109.5,75.5 L112.3,71.4 L107.0,66.6" fill="none" stroke="#222" stroke-width="0.85" stroke-linejoin="round"/>
<path d="M124.5,109.4 L126.0,107.2 L128.8,110.8 L131.0,113.0 L131.7,110.8 L155.5,111.6 L156.2,119.5 L160.5,120.2 L160.9,129.5 L155.5,130.3 L154.7,134.6 L161.2,135.3 L160.5,141.1 L159.0,146.8 L154.0,148.3 L149.7,152.6 L146.1,158.3 L141.1,161.2 L138.2,166.3 L136.7,161.2 L131.7,158.3 L129.5,158.3 L130.3,154.0 L128.1,151.9 L126.0,150.4 L126.7,143.9 L125.2,138.2 L126.0,129.5 L125.2,120.9 L124.5,109.4" fill="none" stroke="#222" stroke-width="0.85" stroke-linejoin="round"/>
<path d="M86.0,162.0 L87.3,149.8 L94.0,148.4 L95.0,152.6 L100.8,151.1 L106.5,148.3 L109.4,145.4 L112.3,148.3 L115.2,146.8 L116.6,149.7 L119.5,151.9 L126.0,150.4" fill="none" stroke="#222" stroke-width="0.85" stroke-linejoin="round"/>
<path d="M60.4,162.0 L61.8,164.3 L64.5,164.3 L65.8,162.0" fill="none" stroke="#222" stroke-width="0.85" stroke-linejoin="round"/>
<path d="M86.0,162.0 L90.0,166.0 L84.6,168.7 L83.3,171.4 L79.2,172.0 L78.6,175.4 L85.3,175.4 L85.3,176.8 L79.2,176.8 L78.6,180.1 L87.3,180.1 L91.3,178.8 L95.4,178.1 L98.0,179.5 L102.0,183.5 L107.5,187.5 L108.8,192.9 L112.8,197.6 L117.0,199.0 L122.4,200.3 L130.4,201.6 L138.5,205.0 L141.2,208.4 L143.9,206.3 L152.0,205.7 L161.3,206.3 L168.0,208.4 L173.4,211.7 L176.1,215.7 L175.4,219.8 L178.1,220.4 L178.1,215.7 L178.8,210.4 L182.8,205.0 L187.0,201.0 L191.0,197.6 L197.7,195.6 L204.5,196.3 L207.2,201.0 L213.9,202.3 L220.6,200.3 L222.6,195.6 L221.9,192.2 L227.3,190.9 L232.7,192.9 L234.7,197.0 L232.7,201.0 L235.4,207.7 L240.7,211.0 L244.8,206.3 L247.5,204.3 L251.5,202.3 L254.2,197.0 L252.8,194.2 L255.5,188.9 L257.0,187.5" fill="none" stroke="#222" stroke-width="0.85" stroke-linejoin="round"/>
<path d="M47.2,167.4 L51.0,166.0 L53.7,162.0" fill="none" stroke="#222" stroke-width="0.85" stroke-linejoin="round"/>
<path d="M135.5,62.0 L136.6,68.5 L140.9,68.0 L142.0,65.2 L144.2,64.6 L145.3,68.5 L147.5,68.5 L148.5,65.7 L150.2,66.3 L151.8,68.5 L155.1,67.9 L155.6,59.2 L159.5,58.6 L159.5,65.7 L161.1,66.3 L161.6,58.6 L167.1,57.5 L168.2,64.6 L169.8,65.2 L170.4,63.0 L171.5,63.5 L172.5,58.1 L174.7,57.5 L175.3,64.6 L180.2,64.1 L180.2,59.2" fill="none" stroke="#222" stroke-width="0.85" stroke-linejoin="round"/>
<path d="M103.5,81.5 L103.2,83.6 L102.7,88.1 L105.0,90.4 L105.8,93.4 L106.2,95.7 L108.1,96.5 L111.2,94.2 L114.3,94.6 L116.6,96.5 L117.3,97.7 L115.0,97.3 L111.2,97.3 L109.3,98.4 L108.9,100.4 L109.7,104.2 L110.4,109.6 L112.0,112.6 L115.0,113.4 L118.1,111.9 L121.2,110.3 L124.2,107.3 L125.8,106.5" fill="none" stroke="#222" stroke-width="0.85" stroke-linejoin="round"/>
<path d="M85.2,89.5 L87.7,92.7 L90.5,96.4 L93.0,97.0 L95.1,96.5 L98.1,97.3 L101.2,100.4 L104.3,103.4 L105.8,107.3 L106.6,110.3 L108.9,113.4 L110.4,115.7 L112.0,118.8 L115.0,121.9 L117.3,125.0 L120.2,129.5 L121.6,136.7 L118.0,139.6 L116.6,141.8 L112.3,141.1 L106.5,139.6 L100.0,137.0 L95.0,133.9 L87.3,132.3 L80.6,128.3 L75.2,125.6 L63.1,132.3 L64.5,137.7 L68.5,140.4 L69.8,144.4 L64.5,147.0 L63.1,151.1 L65.8,156.5 L60.4,162.0 L53.7,162.0 L51.0,166.0 L47.2,167.4" fill="none" stroke="#222" stroke-width="0.85" stroke-linejoin="round"/>
</g>
<rect x="47.20" y="21.80" width="209.40" height="209.40" fill="none" stroke="#6a6a6a" stroke-width="1"/>
<line x1="58.30" y1="231.20" x2="58.30" y2="229.40" stroke="#6a6a6a" stroke-width="1" />
<line x1="58.30" y1="21.80" x2="58.30" y2="23.60" stroke="#6a6a6a" stroke-width="1" />
<text x="60.10" y="244.80" font-size="8.0" text-anchor="middle" >123.40<tspan dy="-2.7" font-size="5.4">o</tspan><tspan dy="2.7"> W</tspan></text>
<line x1="105.10" y1="231.20" x2="105.10" y2="229.40" stroke="#6a6a6a" stroke-width="1" />
<line x1="105.10" y1="21.80" x2="105.10" y2="23.60" stroke="#6a6a6a" stroke-width="1" />
<text x="106.90" y="244.80" font-size="8.0" text-anchor="middle" >123.38<tspan dy="-2.7" font-size="5.4">o</tspan><tspan dy="2.7"> W</tspan></text>
<line x1="151.90" y1="231.20" x2="151.90" y2="229.40" stroke="#6a6a6a" stroke-width="1" />
<line x1="151.90" y1="21.80" x2="151.90" y2="23.60" stroke="#6a6a6a" stroke-width="1" />
<text x="153.70" y="244.80" font-size="8.0" text-anchor="middle" >123.36<tspan dy="-2.7" font-size="5.4">o</tspan><tspan dy="2.7"> W</tspan></text>
<line x1="198.70" y1="231.20" x2="198.70" y2="229.40" stroke="#6a6a6a" stroke-width="1" />
<line x1="198.70" y1="21.80" x2="198.70" y2="23.60" stroke="#6a6a6a" stroke-width="1" />
<text x="200.50" y="244.80" font-size="8.0" text-anchor="middle" >123.34<tspan dy="-2.7" font-size="5.4">o</tspan><tspan dy="2.7"> W</tspan></text>
<line x1="245.50" y1="231.20" x2="245.50" y2="229.40" stroke="#6a6a6a" stroke-width="1" />
<line x1="245.50" y1="21.80" x2="245.50" y2="23.60" stroke="#6a6a6a" stroke-width="1" />
<text x="247.30" y="244.80" font-size="8.0" text-anchor="middle" >123.32<tspan dy="-2.7" font-size="5.4">o</tspan><tspan dy="2.7"> W</tspan></text>
<line x1="47.20" y1="21.80" x2="49.00" y2="21.80" stroke="#6a6a6a" stroke-width="1" />
<line x1="256.60" y1="21.80" x2="254.80" y2="21.80" stroke="#6a6a6a" stroke-width="1" />
<text x="44.20" y="23.50" font-size="8.0" text-anchor="end" >48.46<tspan dy="-2.7" font-size="5.4">o</tspan><tspan dy="2.7"> N</tspan></text>
<line x1="47.20" y1="56.70" x2="49.00" y2="56.70" stroke="#6a6a6a" stroke-width="1" />
<line x1="256.60" y1="56.70" x2="254.80" y2="56.70" stroke="#6a6a6a" stroke-width="1" />
<text x="44.20" y="58.40" font-size="8.0" text-anchor="end" >48.45<tspan dy="-2.7" font-size="5.4">o</tspan><tspan dy="2.7"> N</tspan></text>
<line x1="47.20" y1="91.60" x2="49.00" y2="91.60" stroke="#6a6a6a" stroke-width="1" />
<line x1="256.60" y1="91.60" x2="254.80" y2="91.60" stroke="#6a6a6a" stroke-width="1" />
<text x="44.20" y="93.30" font-size="8.0" text-anchor="end" >48.44<tspan dy="-2.7" font-size="5.4">o</tspan><tspan dy="2.7"> N</tspan></text>
<line x1="47.20" y1="126.50" x2="49.00" y2="126.50" stroke="#6a6a6a" stroke-width="1" />
<line x1="256.60" y1="126.50" x2="254.80" y2="126.50" stroke="#6a6a6a" stroke-width="1" />
<text x="44.20" y="128.20" font-size="8.0" text-anchor="end" >48.43<tspan dy="-2.7" font-size="5.4">o</tspan><tspan dy="2.7"> N</tspan></text>
<line x1="47.20" y1="161.40" x2="49.00" y2="161.40" stroke="#6a6a6a" stroke-width="1" />
<line x1="256.60" y1="161.40" x2="254.80" y2="161.40" stroke="#6a6a6a" stroke-width="1" />
<text x="44.20" y="163.10" font-size="8.0" text-anchor="end" >48.42<tspan dy="-2.7" font-size="5.4">o</tspan><tspan dy="2.7"> N</tspan></text>
<line x1="47.20" y1="196.30" x2="49.00" y2="196.30" stroke="#6a6a6a" stroke-width="1" />
<line x1="256.60" y1="196.30" x2="254.80" y2="196.30" stroke="#6a6a6a" stroke-width="1" />
<text x="44.20" y="198.00" font-size="8.0" text-anchor="end" >48.41<tspan dy="-2.7" font-size="5.4">o</tspan><tspan dy="2.7"> N</tspan></text>
<line x1="47.20" y1="231.20" x2="49.00" y2="231.20" stroke="#6a6a6a" stroke-width="1" />
<line x1="256.60" y1="231.20" x2="254.80" y2="231.20" stroke="#6a6a6a" stroke-width="1" />
<text x="44.20" y="232.90" font-size="8.0" text-anchor="end" >48.40<tspan dy="-2.7" font-size="5.4">o</tspan><tspan dy="2.7"> N</tspan></text>
<rect x="54.4" y="219.8" width="63.5" height="2.9" fill="#000"/>
<text x="54.00" y="216.80" font-size="7.8" text-anchor="middle" >0</text>
<text x="86.20" y="216.80" font-size="7.8" text-anchor="middle" >1.0</text>
<text x="117.60" y="216.80" font-size="7.8" text-anchor="middle" >2.0</text>
<text x="128.50" y="223.60" font-size="7.8" text-anchor="middle" >km</text>
<rect x="227.6" y="16.9" width="41.4" height="101" fill="#fff" stroke="#3a3a3a" stroke-width="0.9"/>
<defs><linearGradient id="jet" x1="0" y1="0" x2="0" y2="1"><stop offset="0" stop-color="#8a0a0a"/><stop offset="0.125" stop-color="#ee1c1c"/><stop offset="0.25" stop-color="#f57a1a"/><stop offset="0.375" stop-color="#eee21c"/><stop offset="0.5" stop-color="#8ccc5a"/><stop offset="0.625" stop-color="#28c6dc"/><stop offset="0.75" stop-color="#2a82d6"/><stop offset="0.875" stop-color="#2448b4"/><stop offset="1" stop-color="#1c2a8a"/></linearGradient></defs>
<rect x="232.4" y="30.6" width="12.7" height="83.3" fill="url(#jet)"/>
<text x="230.0" y="24.2" font-size="8.1" font-weight="bold">Built year</text>
<line x1="245.1" y1="31.0" x2="243.8" y2="31.0" stroke="#333" stroke-width="0.5"/>
<text x="248.6" y="33.7" font-size="7.9">1900</text>
<line x1="245.1" y1="46.3" x2="243.8" y2="46.3" stroke="#333" stroke-width="0.5"/>
<text x="248.6" y="49.0" font-size="7.9">1920</text>
<line x1="245.1" y1="61.6" x2="243.8" y2="61.6" stroke="#333" stroke-width="0.5"/>
<text x="248.6" y="64.3" font-size="7.9">1940</text>
<line x1="245.1" y1="76.9" x2="243.8" y2="76.9" stroke="#333" stroke-width="0.5"/>
<text x="248.6" y="79.6" font-size="7.9">1960</text>
<line x1="245.1" y1="92.2" x2="243.8" y2="92.2" stroke="#333" stroke-width="0.5"/>
<text x="248.6" y="94.9" font-size="7.9">1980</text>
<line x1="245.1" y1="107.5" x2="243.8" y2="107.5" stroke="#333" stroke-width="0.5"/>
<text x="248.6" y="110.2" font-size="7.9">2000</text>
<text x="7.40" y="12.90" font-size="11" text-anchor="start" >(a)</text>
<text x="284.40" y="12.90" font-size="11" text-anchor="start" >(b)</text>
<text x="7.40" y="266.80" font-size="11" text-anchor="start" >(c)</text>
<text x="284.30" y="266.80" font-size="11" text-anchor="start" >(d)</text>
</svg>
</body></html>
